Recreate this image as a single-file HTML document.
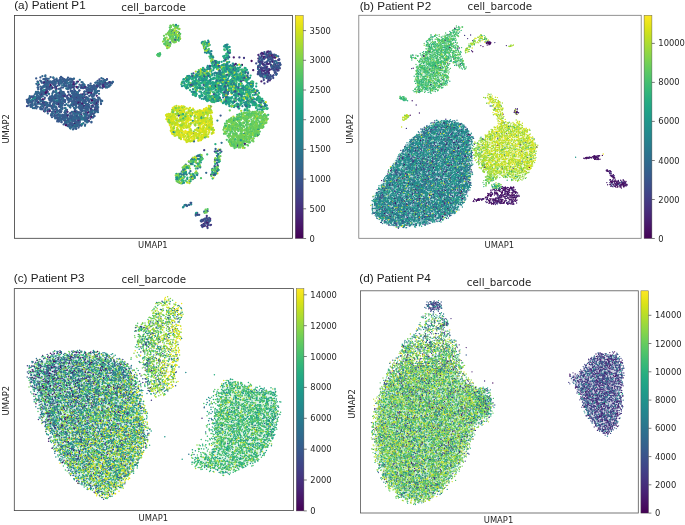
<!DOCTYPE html>
<html lang="en"><head><meta charset="utf-8"><title>UMAP cell_barcode by patient</title>
<style>
html,body{margin:0;padding:0;background:#fff}
body{width:685px;height:525px;overflow:hidden}
svg{display:block}
.mp{font-family:"DejaVu Sans","Liberation Sans",sans-serif;fill:#262626}
.t{font-size:10.3px}
.s{font-size:8.4px}
.lab{font-family:"Liberation Sans",Arial,sans-serif;font-size:11.7px;fill:#1c1c1c}
</style></head><body>
<svg width="685" height="525" viewBox="0 0 685 525">
<defs>
<linearGradient id="vir" x1="0" y1="1" x2="0" y2="0">
<stop offset="0.0000" stop-color="#440154"/>
<stop offset="0.0312" stop-color="#470d60"/>
<stop offset="0.0625" stop-color="#48186a"/>
<stop offset="0.0938" stop-color="#482374"/>
<stop offset="0.1250" stop-color="#472d7b"/>
<stop offset="0.1562" stop-color="#453781"/>
<stop offset="0.1875" stop-color="#424086"/>
<stop offset="0.2188" stop-color="#3e4989"/>
<stop offset="0.2500" stop-color="#3b528b"/>
<stop offset="0.2812" stop-color="#375b8d"/>
<stop offset="0.3125" stop-color="#33638d"/>
<stop offset="0.3438" stop-color="#2f6b8e"/>
<stop offset="0.3750" stop-color="#2c728e"/>
<stop offset="0.4062" stop-color="#297a8e"/>
<stop offset="0.4375" stop-color="#26828e"/>
<stop offset="0.4688" stop-color="#23898e"/>
<stop offset="0.5000" stop-color="#21918c"/>
<stop offset="0.5312" stop-color="#1f988b"/>
<stop offset="0.5625" stop-color="#1fa088"/>
<stop offset="0.5938" stop-color="#22a785"/>
<stop offset="0.6250" stop-color="#28ae80"/>
<stop offset="0.6562" stop-color="#32b67a"/>
<stop offset="0.6875" stop-color="#3fbc73"/>
<stop offset="0.7188" stop-color="#4ec36b"/>
<stop offset="0.7500" stop-color="#5ec962"/>
<stop offset="0.7812" stop-color="#70cf57"/>
<stop offset="0.8125" stop-color="#84d44b"/>
<stop offset="0.8438" stop-color="#98d83e"/>
<stop offset="0.8750" stop-color="#addc30"/>
<stop offset="0.9062" stop-color="#c2df23"/>
<stop offset="0.9375" stop-color="#d8e219"/>
<stop offset="0.9688" stop-color="#ece51b"/>
<stop offset="1.0000" stop-color="#fde725"/>
</linearGradient>
<clipPath id="cla"><rect x="14.5" y="15.4" width="278.0" height="222.9"/></clipPath>
<clipPath id="clb"><rect x="358.8" y="15.3" width="282.4" height="223.0"/></clipPath>
<clipPath id="clc"><rect x="14.3" y="288.6" width="279.1" height="222.0"/></clipPath>
<clipPath id="cld"><rect x="360.5" y="290.8" width="277.8" height="222.2"/></clipPath>
<filter id="bl" x="-10%" y="-10%" width="120%" height="120%"><feGaussianBlur stdDeviation="1.6"/></filter>
</defs>
<rect width="685" height="525" fill="#fff"/>
<g id="panel-a">
<g clip-path="url(#cla)"><g transform="scale(.2)" fill="none" stroke-linecap="round" stroke-width="11.50">
<path stroke="#38598c" d="M142 518zm-3-4zm-3-5zm12 1zm6 22zm-1 2zm12-32zm17 40zm5-54zm4-42zm11-59zm-1 16zm-7 78zm4 7zm13 18zm-4-24zm14-72zm0 51zm-4 74zm10 7zm8-64zm-2-10zm1-18zm-4-3zm6-14zm14 54zm-3 13zm1 56zm12 30zm2-146zm-1-26zm-9-1zm1-27zm19 14zm1 85zm-2 37zm-6 16zm10 10zm-2 24zm6-10zm10-158zm6 15zm-3 46zm5 34zm-8 11zm4 81zm1 9zm-5 1zm9 1zm-4 6zm6-10zm3-5zm-2-7zm3-24zm-4-12zm4-39zm6-18zm1-27zm-3-1zm9-70zm3 6zm-2 26zm-2 34zm2 161zm14-6zm2-1zm-5-4zm-3-12zm1-9zm-2-49zm0-15zm3-95zm3-2zm10 30zm3 13zm-4 18zm-2 8zm-2 82zm0 48zm15-40zm4-8zm-3-42zm1-58zm1-28zm1-16zm-1-25zm2-16zm-6-2zm21 53zm-5 17zm0 3zm4 2zm-6 0zm2 19zm-5 23zm6 2zm4 1zm-2 12zm-4 34zm-2 29zm7 8zm-9 13zm2 18zm7 6zm13-3zm-10-1zm9-2zm-6-5zm-2-5zm5-10zm-6-39zm4-3zm3-38zm-2-7zm-6-32zm8-6zm3-7zm0-10zm1-56zm4 81zm4 31zm-6 88zm11 20zm6-6zm-6-19zm8-6zm-5-6zm-3-6zm6-102zm-1-5zm-4-3zm7-36zm1-8zm-2-4zm13 8zm-7 49zm4 10zm3 9zm-8 46zm21 46zm-1-10zm-4-2zm-3-52zm5-35zm2-1zm-7-21zm0-38zm-1-14zm19 28zm-4 118zm-2 37zm13-22zm8-32zm-10-17zm9-59zm-9-12zm3-13zm-4-5zm8-5zm1-23zm6 19zm0 46zm6 13zm-5 2zm-3 75zm7 15zm5-20zm7-18zm0-12zm0-19zm-2-12zm-1-14zm-1-18zm1-3zm2-5zm-7-24zm2-7zm0-4zm-2-1zm20-27zm2 10zm1 15zm-6 7zm-1 27zm-4 79zm18-50zm8-88zm6 14zm1 7zm-1 15zm-7 63zm11-69zm3-30zm17 34zm-7 0zm20-27zm11 6zm4-7zm360 616zm41-641zm-1 511zm40 209zm10-741zm0 735zm-2 36zm11-72zm16 34zm1 25zm21-272zm42-272zm18-99zm4-176zm83 75zm12 328zm-5-305zm25-33zm41 129zm11-133zm5-81zm8 5zm-4 69zm2 14zm16 18zm-4-70zm-6-21zm12-2zm8 54zm1 22zm5-7zm1-9zm-2-74zm13-9zm7 4zm-9 92zm18 12zm-5-43zm8-30zm-8-3zm9-31zm7 9zm-6 42zm5 11zm1 16zm0 12zm7 10zm-1-96zm19 43zm-6 31z"/>
<path stroke="#50c46a" d="M791 269zm5 12zm28-84zm-2 5zm17 23zm-10-6zm10-4zm11-61zm-4 2zm7 63zm8-15zm-1-23zm-8-32zm21 7zm-8 28zm6 15zm-6 3zm26-73zm-2 2zm-1 520zm26 208zm7 24zm9-23zm27 24zm6-15zm42 22zm17-474zm-1-53zm26-81zm14 88zm-3 137zm17 295zm8 41zm-1 1zm33-488zm0 32zm5 280zm6-5zm1-7zm-2-39zm-7-189zm6-178zm14-9zm-2 164zm0 52zm-2 151zm3 49zm1 21zm6 28zm4-36zm-7-40zm0 0zm10-30zm-6-1zm2-3zm-1-143zm-2-6zm15-35zm3 195zm-5 28zm-5 75zm6 3zm1 10zm4 1zm12 2zm-11-38zm5-18zm-2-3zm1-30zm-1-6zm3-6zm-6-8zm19 118zm9-18zm-2-3zm2-24zm2-8zm-1-31zm6-8zm-5-43zm6-252zm8 217zm-5 28zm2 5zm0 23zm5 4zm-10 9zm5 53zm3 11zm6-2zm9-116zm-8-8zm17 16zm-4 4zm-2 10zm5 22zm2 75zm7 28zm4-19zm0-2zm-1-46zm-3-51zm-1-75zm0-146zm9 70zm7 43zm-7 56zm9 18zm-4 4zm4 18zm-2 39zm-2 8zm2 14zm-6 23zm21-6zm0 0zm1-2zm-10-35zm5-69zm-2-7zm12-3zm-2 16zm7 16zm-9 20zm10 4zm-3 32zm-4 4zm-1 4zm12 1zm-2-33zm7-21zm13-18zm-7 5zm1 21zm1 47zm16-26zm-6-26zm4-8zm6-6zm-6-9zm-3-19zm20 18zm-5 14zm10 0z"/>
<path stroke="#28ae80" d="M907 422zm5-14zm5 432zm2 32zm8-27zm-1-3zm0-8zm2-430zm5-9zm2-13zm2 506zm13-500zm17-3zm1 36zm-1 10zm-3 359zm11-370zm-1-10zm21-37zm-8 67zm10 389zm-1-34zm8-413zm-7-7zm7-4zm13-158zm0 129zm-3 95zm-1 11zm-3 346zm11-387zm-1-5zm3-19zm7-15zm13 0zm-9 7zm4 43zm1 18zm1 26zm1 39zm6 38zm2-46zm4-37zm3-185zm10 44zm-6 62zm6 47zm-3 58zm-3 12zm14 381zm0-39zm2-16zm2-331zm1-5zm-1-47zm-3-1zm3-27zm-9-66zm7-13zm10 7zm-1 4zm-1 34zm7 3zm-10 99zm18 329zm-6-304zm6-7zm-2-9zm-1-50zm2-26zm-6-3zm3-17zm3-21zm10 75zm14 57zm-4-23zm4-5zm3-14zm0-76zm-8-7zm0-7zm2-9zm7-134zm8 117zm5 78zm-9 46zm2 19zm13 4zm-4-22zm3-21zm0-72zm5-2zm-9-79zm18 72zm-1 5zm-5 50zm5 16zm2 0zm2 48zm-9 21zm6 22zm17-98zm-11-7zm8-12zm1-21zm13-43zm-7 12zm5 16zm-7 78zm0 12zm9 5zm1 60zm6-9zm-1-41zm2-13zm-2-86zm2 0zm16 7zm1 94zm4-30zm6-16zm8-7zm5 33zm-4 62zm-5 23zm4 3zm18 134zm-11-154zm8-14zm-5-49zm1-51zm-2-1zm4-18zm3-4zm-7-9zm26 132zm6-67zm-9-27zm21-4zm9 60zm4-13zm6 45zm5 37zm5-53zm13 50z"/>
<path stroke="#addc30" d="M851 585zm7 70zm4-447zm12 335zm-2 79zm-2 11zm-4 20zm21 1zm-3-3zm3-108zm-4-1zm-1-12zm-6-325zm14 336zm-1 10zm1 21zm1 84zm-1 223zm20-214zm-6-18zm-1-92zm3-13zm17-7zm-3 84zm-1 247zm8-14zm2-151zm4-34zm-4-39zm8 210zm22 55zm-3-85zm-4-221zm5-18zm-7-154zm14 15zm-4 135zm9 102zm4 132zm6-123zm4-6zm-9-80zm9-26zm-4-206zm14 46zm-2 236zm-4 14zm7 14zm1 14zm3 125zm2-145zm4-77zm-5-8zm2-131zm7 110zm0 62zm8 37zm3 18zm-10 2zm12-14zm4-40zm13-77zm0 32zm-1 56zm-4 50zm20-44zm-9-12zm8-64zm-6-26zm8-120zm6-121zm-4 322zm1 1zm65-255zm19 130zm22-113zm4 203zm20-127zm8-83zm21 262zm1-7zm15-147zm-1 29zm63 133zm5-5zm14-79z"/>
<path stroke="#38b977" d="M821 195zm57 6zm50 235zm25 470zm14-440zm-2 0zm12 14zm3-56zm3-13zm11-8zm7 31zm0-19zm16-44zm-7 417zm16-368zm5-38zm-10-22zm7-111zm4 2zm2 124zm6 6zm-2 37zm4 3zm-6 5zm-4 58zm15 13zm4-56zm0-58zm1-91zm8 38zm13 546zm1-379zm-5-55zm2-109zm4-7zm6 2zm7 12zm1 38zm0 414zm17-461zm8 17zm-7 103zm16 25zm3-69zm-7-21zm16-57zm-5 27zm0 70zm20 277zm-5-69zm4-118zm2-103zm-5-67zm-2-110zm16 158zm-8 51zm20 237zm-5-34zm13-216zm0 27zm-2 1zm0 155zm19 63zm-3-248zm-3-33zm-2-24zm18-11zm4 33zm9 74zm-6-26zm20-56zm-4 145zm11-13zm11-15zm4 63zm0 106zm-1 13zm22-174zm5 102zm-3 19z"/>
<path stroke="#277e8e" d="M229 393zm32 87zm38 32zm7 88zm25-158zm9-1zm17 80zm9-57zm33 111zm502 319zm16-2zm37-6zm6-76zm46-369zm8-36zm10-4zm1-25zm0-114zm0-13zm18 4zm-2 241zm-6 130zm16-123zm2-51zm-5-12zm1-109zm17-42zm6 210zm38-107zm14 70zm-6-22zm9-207zm40 194zm13 52zm15-102zm22 125zm3-10zm55 36z"/>
<path stroke="#460a5d" d="M153 487zm36 6zm18-22zm14 85zm17-150zm80 99zm111 53zm50-10zm813-255zm29 60zm13-38z"/>
<path stroke="#1fa287" d="M892 899zm27-491zm8 455zm6-25zm9-440zm2 14zm-1 2zm15 15zm-10-40zm14 2zm2 67zm7 1zm8 613zm-5-243zm7-370zm0-58zm-4-14zm-2-4zm12 24zm6 18zm-8 15zm7 382zm15-344zm-10-20zm5-21zm-6-10zm9-10zm-8-20zm3-2zm-2-37zm11 41zm2 12zm20 43zm-4-10zm2-45zm2-19zm0-25zm-9-143zm18 152zm-3 8zm0 39zm-2 10zm-3 44zm14-16zm4-64zm-2-46zm-4-3zm21-6zm-2 535zm14-379zm-7-3zm7-32zm0-88zm10-38zm-7 11zm8 5zm2 56zm-5 12zm-5 4zm1 84zm11 6zm6-14zm-6-25zm10-58zm1-22zm4-21zm8 5zm-7 47zm4 36zm-8 7zm2 42zm12 12zm-2-35zm8-61zm-2-20zm16-173zm-1 13zm2 41zm-9 11zm7 29zm-7 42zm16 129zm0-42zm3-1zm1-15zm-3-70zm-6-76zm8-33zm5 90zm-2 23zm10 18zm-10 106zm6 5zm4 21zm-1 14zm10 7zm3-41zm-8-63zm3-10zm5-23zm0-42zm-7-21zm11 23zm7 33zm-1 4zm-1 48zm-4 6zm1 78zm13-4zm2-52zm-2-39zm17-49zm-1 1zm-2 45zm-2 32zm1 11zm1 41zm2 4zm7-79zm0-10zm16-78zm-6 5zm1 2zm5 83zm-3 19zm7-62zm23 102zm-11 36zm18-46zm0-35zm5-7zm-10-11zm20-4zm2 103zm22-11zm-6 23zm26-27zm13 22z"/>
<path stroke="#443b84" d="M214 518zm23-88zm139 180zm-1-113zm17 39zm61 10zm82-150zm482 706zm-8 25zm12-376zm13 329zm6 45zm106-753zm6-24zm68-58zm15 142zm69-163zm3 35zm0 56zm2 19zm-1-10zm14 48zm20-25zm-1-8zm-6-2zm-3-14zm11-3zm5 19zm21-105zm6 44zm8 18zm7-14zm12-4z"/>
<path stroke="#6ccd5a" d="M820 179zm6 17zm-2 6zm12 39zm0-35zm7-42zm5 8zm3 13zm6 13zm-5-70zm14-3zm2 2zm4 77zm-5 377zm19 309zm-2-691zm-8-58zm22 31zm-2 6zm0 701zm-5 1zm0 31zm26-37zm17-1zm22 21zm-5-6zm8-82zm-4-5zm14-143zm8 143zm-2-4zm15 30zm11 6zm22-266zm33-259zm61 341zm3-7zm5-15zm-5-308zm15 300zm-2 28zm-1 20zm-3 2zm19 42zm-3-85zm4-74zm4 50zm4 6zm-2 2zm5 8zm-2 24zm-4 16zm9 28zm-4 25zm-2 4zm15-5zm-1-30zm4-24zm-5-50zm-4-169zm21 5zm-11 161zm4 13zm7 17zm0 2zm-3 32zm2 33zm-2 30zm10 8zm5-16zm-5-5zm1-16zm4-10zm-8-5zm-2-9zm3-47zm0-44zm4-13zm-7-102zm12 55zm0 58zm-1 38zm0 12zm3 3zm6 29zm-3 4zm4 1zm-3 13zm-6 6zm8 9zm-6 13zm-1 11zm4 0zm-3 1zm-2 14zm22 1zm0-34zm-8-19zm-2-5zm-1-3zm2-1zm6-24zm-8-39zm22-52zm-10 2zm9 28zm1 13zm0 41zm-8 6zm7 0zm-6 17zm-2 7zm7 4zm-7 6zm10 12zm1 26zm0-28zm3-3zm5-32zm2-17zm1-6zm0-5zm-6-11zm5-17zm-6-13zm-1-20zm-3-5zm1 0zm10-8zm-3-75zm13 96zm-1 49zm-4 25zm3 5zm-2 26zm2 1zm-7 3zm11 14zm8 4zm2-71zm-2-75zm7-1zm-2 15zm6 11zm-4 7zm9 8zm-5 17zm-3 25zm7 2zm4 35zm4-4zm-6-7zm1-8zm7-12zm-5-62zm0-4zm1-15zm9-8zm2 30zm-1 23zm8 4zm-8 18zm16-33zm1-3zm14-21zm-5 0zm5 10zm2 9zm-10 7z"/>
<path stroke="#238a8d" d="M479 517zm431-86zm8 603zm17-198zm10-456zm14 417zm-1-338zm-8-33zm15-46zm2 492zm13-497zm21 288zm-1-261zm9-187zm19 268zm-7-15zm3-245zm4-6zm10 129zm11 60zm-1-181zm9 275zm1 113zm26-228zm23-45zm5 9zm-7 51zm8 16zm10 32zm0-34zm13-166zm-1 41zm-2 111zm0 52zm1 30zm8 9zm-1-38zm10-87zm-11-107zm19 72zm-2 121zm22-106zm20 74zm11 22zm-1 29zm5-39zm20-37zm4 59zm2-92zm17 61zm-1 79zm-2 162zm49-155zm12 36zm11-31zm14-213z"/>
<path stroke="#cde11d" d="M838 598zm-8-22zm13-6zm8 12zm-2 3zm-4 1zm5 3zm-4 16zm-3 0zm4 1zm2 10zm13 44zm-4-1zm-4-5zm8-14zm-4-21zm-1-5zm-4-7zm2-4zm-2-17zm8-6zm1-2zm-10-7zm9-393zm13-25zm-1 380zm-4 23zm-2 1zm0 4zm-3 18zm8 34zm-8 57zm19-17zm3-38zm-9-18zm8-5zm-7-20zm15-31zm6 56zm-3 5zm-8 4zm0 36zm7 13zm-1 11zm8 22zm1-1zm8-33zm-8-2zm3-46zm-1-21zm4-26zm0-144zm8 117zm-3 36zm4 8zm-1 15zm-5 23zm8 57zm5 168zm7-148zm3-22zm-9-8zm2-2zm4-33zm-1-12zm1-7zm-6-22zm4-13zm4-10zm11-6zm-5 9zm6 25zm-5 1zm1 4zm2 25zm-4 44zm2 21zm3 10zm10-7zm0-72zm-3-41zm1-10zm1-3zm10 48zm-4 4zm8 54zm-8 1zm10 16zm1 12zm-3 7zm-1 88zm6-100zm8-80zm-8-29zm16-216zm-2 194zm3 17zm4 2zm0 5zm1 16zm0 11zm-5 3zm3 13zm-2 26zm13 132zm-6-107zm0-7zm4-11zm-3-12zm1-21zm-2-3zm3-9zm2-12zm-5-27zm8 0zm-2-16zm-6-10zm7-200zm3 4zm7 210zm-4 2zm6 67zm-2 11zm-5 8zm6 2zm2 31zm10-6zm3-22zm-10-6zm9-41zm-8-6zm2-34zm1-22zm-5-3zm12-6zm0 5zm7 18zm-2 43zm4 65zm-5 11zm5 2zm14-44zm-5-8zm-2-33zm3-34zm-7-12zm5-4zm0-178zm11 192zm-3 47zm4 12zm-5 14zm7 10zm-2 3zm0 18zm-2 2zm17-242zm-8-8zm64-44zm11 79zm-1-94zm16 109zm33-82zm96 86zm20 57z"/>
<path stroke="#3e4a89" d="M147 504zm17-21zm-4-1zm53 22zm0-34zm9 0zm24-23zm13-37zm12 120zm14-51zm21-9zm10 12zm1 99zm31-144zm18-19zm-5 210zm20 15zm-2-15zm-5-77zm10 70zm23-72zm6-58zm4 24zm-4 20zm24-97zm-4 8zm27 122zm435-393zm101 899zm3-586zm26 641zm4-15zm-3-16zm7-666zm5 669zm2 14zm-7 2zm8 4zm5-14zm29-616zm3-178zm65 142zm6-31zm-3-9zm21-2zm42-20zm19 53zm61-75zm6-21zm-4-12zm8-14zm2 173zm26-214zm1 2zm-4 28zm4 61zm4 219zm0-203zm7-8zm-3-49zm-3-62zm21 13zm-1 13zm2 28zm8 54zm4-33zm-5-8zm4-7zm-7-36zm0-14zm-2-8zm-1-6zm12 109zm16-7zm2-19zm-6-65zm16 14zm5 23zm-8 19z"/>
<path stroke="#2c728e" d="M202 463zm10 63zm-7-55zm24 53zm-1-64zm2-34zm15 44zm11-27zm29 78zm21-12zm5-82zm2 65zm1 13zm12 74zm6-58zm-4-118zm25 240zm1-59zm23-70zm9 71zm39 44zm-2-115zm13-60zm3 95zm16-33zm6 35zm69-116zm369-242zm-2 357zm0 364zm17-6zm15 116zm0-201zm36-27zm15 3zm6 76zm11-498zm29 106zm39-200zm23 107zm65 26zm18-40zm8 14zm5 79zm0 28zm96-25zm9 202zm2-345zm7-34zm12-12zm34-19z"/>
<path stroke="#472d7b" d="M223 527zm58 62zm0-52zm5-132zm51 74zm24-54zm16 129zm14-118zm16 191zm-1-55zm68-25zm81-133zm492 691zm28-307zm230-461zm0 8zm3 33zm6-4zm-3-21zm2-10zm7-60zm0 74zm7 21zm9-20zm-3-12zm15-73zm6 9zm-9 68zm33-46zm5 40zm8-44z"/>
<path stroke="#481c6e" d="M160 514zm61-49zm38 64zm4-111zm13 19zm49 147zm21-83zm24-80zm20-13zm5 198zm9-133zm26 48zm14 84zm575 514zm150-832zm97 64zm36 15zm39-8zm7-73zm-4 60zm20-36zm-5-34zm15 48zm13 23zm-4-18zm9 13z"/>
<path stroke="#8bd646" d="M839 167zm9 7zm15 429zm0-454zm1 33zm0 7zm4 360zm2 123zm16 235zm0-27zm-3-338zm-4-332zm5-75zm12 11zm-1 517zm3 25zm-4 198zm9 5zm5-339zm9 292zm-3 15zm-1 31zm20-313zm11 83zm-2 18zm-2 152zm16-177zm-2-79zm6-25zm10 254zm11 30zm-9-39zm4-144zm-2-207zm14 172zm7 61zm-3 157zm10-32zm-3-119zm14-70zm8-16zm7-39zm-3-304zm12 302zm6 58zm8-16zm11-315zm16 510zm18-351zm11 67zm28-198zm3 336zm14-12zm2 94zm11-58zm3-164zm15-62zm-1 150zm10 122zm-3-111zm15-241zm-1 7zm8 211zm-5 11zm-5 50zm1 75zm18-105zm-2-28zm-2 0zm4-224zm11 287zm23 45zm11-31zm9-93zm5 110zm27-99zm4 59zm14-68zm43-243z"/>
<path stroke="#31668e" d="M142 528zm-5-28zm12-19zm7 23zm2-3zm11-20zm6 6zm-1 4zm5 14zm-3 4zm0 5zm-2 8zm3 1zm12 11zm-7-50zm3-8zm5-18zm-1-31zm-7-8zm21 14zm-11 4zm1 52zm1 0zm4 5zm5 6zm7 47zm-4-4zm5-11zm3-17zm-6-52zm1-2zm-3-6zm8-3zm12-70zm1 17zm-10 16zm9 57zm13 80zm0-5zm-9-25zm2-7zm-1-63zm3-20zm3-3zm2-1zm-10-9zm10-1zm-9-24zm3-1zm11 1zm7 13zm-8 2zm7 76zm7 18zm1-6zm0-12zm4-1zm1-69zm0-8zm7 18zm5 11zm-7 21zm0 33zm4 1zm-5 3zm4 2zm-3 15zm-2 25zm0 13zm10 43zm2-24zm5-27zm1-37zm-4-12zm1-3zm-3-7zm2-8zm-1-24zm0-37zm3-14zm13 46zm1 30zm-2 6zm-5 10zm6 5zm-2 7zm4 21zm-7 49zm5 1zm-4 2zm6 6zm1 1zm10 11zm-7-35zm5-16zm-5-8zm6-11zm-2-37zm3-8zm-5-9zm-2-13zm7-45zm-2-11zm-2-4zm18 73zm-1 30zm1 63zm0 11zm2 17zm11-33zm-9-80zm5-60zm-4-15zm10-8zm10 30zm-9 67zm9 3zm-1 33zm-6 68zm0 3zm2 26zm5 8zm11 2zm-10-3zm0-1zm4-8zm-2-19zm-1-70zm10-7zm-1-1zm-3-30zm2-37zm-1-21zm-5-29zm17 26zm-1 75zm-5 1zm0 17zm3 37zm6 6zm-6 36zm5 18zm1 1zm-6 8zm0 13zm12-5zm-2-9zm1-51zm1-15zm-5-7zm1-20zm7-9zm-2-35zm-5-6zm20-56zm-5 6zm1 26zm1 7zm3 14zm-2 4zm3 9zm-10 5zm7 7zm-4 0zm8 22zm-10 24zm2 4zm2 21zm-4 6zm6 34zm-7 2zm5 5zm10-21zm0-9zm7-9zm-5-23zm6-34zm-2-7zm-8-14zm9-13zm-10-21zm10-5zm2-63zm8 87zm-2 11zm0 43zm4 16zm-1 48zm9-11zm-5-7zm10-21zm0-31zm-10-32zm7-75zm1 0zm1-2zm-9-9zm2-2zm17 67zm0 8zm2 3zm-2 26zm-6 3zm4 7zm-2 58zm19-38zm-10-35zm-1-90zm10-6zm6 21zm-2 6zm-2 16zm0 75zm2 13zm2 26zm-3 23zm22-98zm-2-59zm6-29zm0 37zm5 46zm-7 21zm0 8zm6 5zm-3 13zm1 4zm12-129zm1 0zm9-37zm8 3zm-1 33zm-3 78zm9-75zm0-10zm13-20zm-2 17zm15 11zm7-15zm-1 9zm1 4zm342-261zm21 392zm5 301zm-4 55zm49-248zm4 42zm-6 171zm20-62zm19-19zm26 309zm0-46zm22 43zm22-610zm7 265zm90-248zm26 188zm69-282zm37-111zm4 12zm3 21zm26 41zm31-48zm27-2z"/>
<path stroke="#efe51c" d="M832 579zm6-3zm1-378zm10 381zm6 36zm16-33zm-6 8zm18-39zm8-364zm-2 355zm0 9zm1 20zm12 66zm0-43zm0-55zm15 14zm0 14zm-2 29zm3 6zm-5 35zm4 22zm18 0zm-8-44zm2-2zm3-7zm-6-10zm17-52zm-7 46zm5 18zm2 66zm4 9zm4-8zm-2-10zm-1-16zm7-49zm-6-33zm16 42zm11 61zm5-100zm9 1zm-1 73zm18 15zm-9-15zm4-2zm-3-27zm7-50zm-10-4zm10-4zm11 27zm-2 33zm4 50zm8-19zm3-3zm-4-29zm-5-10zm-1-13zm3-33zm7-16zm10 4zm-7 2zm6 1zm-1 20zm1 53zm-7 25zm21-4zm-1-4zm1-14zm13 28zm-1 3zm2 231zm1-225zm2-15zm276-371zm36 5z"/>
<path stroke="#1f968b" d="M898 659zm-5 249zm27 6zm6-487zm7-20zm13-12zm-10 500zm35-491zm-8 417zm20-401zm6-59zm-5 11zm19 402zm13-359zm15 85zm0-28zm-1-6zm-9-254zm22 290zm8-6zm2-91zm-1-57zm26 448zm-5-297zm-2-106zm10 99zm11 279zm0-295zm1-85zm2-39zm10 85zm5 11zm14 0zm-7-1zm1-35zm9-28zm-3-50zm3-11zm-8-19zm15-69zm0 9zm-1 76zm6 101zm-10 79zm1 16zm17 15zm-2-17zm0-6zm6-103zm2-79zm4 112zm-3 68zm14 28zm0-108zm2-27zm3-39zm7-15zm-2 26zm7 97zm-1 51zm4-128zm23 80zm6-5zm1-75zm16-8zm-4 6zm8 98zm9-65zm-9-8zm12-25zm9 101zm-7 11zm15-54zm3 0zm-10-27zm48 93zm28-143z"/>
<path stroke="#50c46a" d="M800 266zm-6 3zm4 3zm-1 1zm1 4zm23-58zm30-44zm-11 54zm13-74zm33 28zm-4-2zm0-25zm-6-23zm2 0zm16 71zm0 671zm-1 24zm8-730zm52 249zm14 388zm7-6zm8-402zm12-47zm20 443zm17-426zm-4-156zm11 834zm6-600zm0-79zm18 143zm28 321zm12-83zm24-111zm-9-245zm20-15zm-5 1zm-2 51zm2 202zm2 68zm14 1zm3-3zm-11-53zm10-204zm-6-24zm11 212zm5 14zm-1 8zm-7 6zm9 3zm0 40zm-5 1zm-3 21zm14-28zm3-336zm7 239zm8 26zm-5 5zm4 4zm-3 85zm6 3zm0 4zm-9 9zm15-12zm-4-18zm3-17zm-1-30zm4-69zm4-3zm-3-3zm9 6zm3 3zm1 52zm-2 4zm4 1zm-5 1zm0 10zm3 20zm1 1zm1 5zm-9 23zm6 9zm-1 6zm-4 1zm2 0zm-4 6zm5 0zm8 4zm2-4zm-4-9zm3-5zm-2-11zm7-6zm0-26zm-4-41zm3-14zm0-23zm0-3zm16-104zm0 92zm0 4zm-3 26zm3 28zm-3 10zm-7 17zm-1 20zm8 15zm-7 23zm1 2zm13-14zm8-11zm-6-27zm-2-3zm-2-2zm5-10zm-4-6zm4-2zm-5-25zm6-34zm2-7zm-2-2zm-2-9zm4-45zm-1-24zm5 69zm5 3zm2 92zm13 9zm-9-18zm5-8zm2-4zm-5-15zm3-9zm-2-4zm16 0zm-3 19zm-3 2zm3 16zm1 16zm-1 5zm8-6zm2-2zm4-9zm5-12zm-6 0zm2-13zm-6-18zm3-20zm-2-41zm17 18zm2 59zm12 4zm-6-32zm1-4zm5-5zm-2-3zm-7-7zm15-8zm2 3zm-2 27zm13-11zm-3-16z"/>
<path stroke="#8bd646" d="M860 660zm-4-46zm-3-27zm1-437zm0-17zm12 19zm4 22zm0 29zm8 475zm4-77zm5-32zm-9 0zm5-14zm-6-7zm3-353zm17-51zm0 432zm-4 103zm19-109zm6 113zm5 147zm4-235zm17-42zm11 269zm1-250zm17 311zm30-239zm26 38zm6-431zm19 336zm-5-30zm6-75zm-1-132zm20 459zm3-17zm5 51zm7 2zm-2 3zm1 3zm11-54zm32-374zm2 58zm4 160zm7-15zm3-15zm14-212zm-9 246zm15 54zm7-1zm-2-14zm-4-91zm6-116zm-6-119zm9 283zm19 86zm2-28zm17 38zm-3-87zm5-38zm-1-42zm17 14zm-8 80zm7 4zm-2 14zm17 25zm-3-66zm-6-123zm33 50zm10-6zm6 91zm-3-59zm20-26zm29 36z"/>
<path stroke="#481c6e" d="M176 495zm5 0zm18-3zm22-79zm15 122zm105-134zm14 81zm21 73zm-4-49zm15 93zm14-71zm7-41zm18 81zm-6-81zm413-260zm186 904zm275-771zm-3-23zm10-21zm15-25zm5-5zm16-8zm18 50zm6 7zm14-46z"/>
<path stroke="#1fa287" d="M872 613zm14 281zm-4-25zm50-428zm3-37zm6-21zm-3 41zm15 394zm0-392zm10-39zm1 21zm-1 391zm3 76zm8 15zm6-411zm-7-55zm6-19zm0-20zm6-2zm8 36zm-9 14zm6 5zm5 359zm1-318zm6-50zm-2-56zm18-163zm1 20zm-6 148zm6 117zm9-52zm3-23zm-11-58zm1-2zm7-119zm8 96zm-3 81zm20 70zm2-94zm7-68zm-2 70zm6 41zm-10 4zm5 41zm1 11zm-5 1zm0 7zm10 8zm3 358zm3-368zm-4-3zm6-1zm-1-21zm-5-56zm4-105zm13-2zm2 58zm-4 25zm3 29zm-3 14zm6 6zm-7 20zm4 335zm-2 57zm9-44zm-2-359zm6-9zm10-134zm-1 96zm1 43zm8 27zm10-62zm-9-70zm-1-5zm11-10zm-11-46zm4-50zm9 104zm5 76zm-6 4zm4 81zm0 6zm13 19zm-3-22zm7-53zm1-16zm-8-5zm2-19zm-4-14zm3-9zm4-4zm-3-28zm0-86zm6-4zm-8-1zm-2-7zm15 104zm2 99zm-1 6zm18-73zm-6-25zm2-2zm-1-5zm1-3zm-6-13zm11-4zm-8-18zm16 46zm-3 88zm8 14zm3-25zm9-106zm9 147zm-6 4zm2 32zm18 32zm-3-64zm-2 0zm-2-36zm5-72zm0-16zm-4-5zm7-19zm0 45zm6 47zm1 25zm-3 10zm5 42zm-4 16zm6 3zm7-6zm-6-1zm2-28zm4-28zm-4-21zm2-7zm9-15zm24 39zm7 59zm0 1zm27-17zm4 47zm5-5zm-4-10zm4-2zm1-29zm8 26z"/>
<path stroke="#1f968b" d="M910 917zm-8-49zm15-471zm16 45zm4-49zm8 442zm14 56zm-6-508zm9 34zm2 187zm4 199zm15 70zm-7-411zm4-30zm12 209zm-3 137zm5 40zm36-330zm-7 0zm7-64zm-3-20zm-6-44zm5-140zm8 45zm14 1zm42 126zm1 361zm11-351zm-2-45zm13 16zm-8 11zm6 30zm2 9zm-2 41zm13 45zm-3-64zm-1-6zm3-160zm11 135zm-1 19zm2 81zm13-93zm-6-72zm6-114zm12 117zm1 114zm8 135zm1-125zm3-79zm-2-17zm16 11zm-11 30zm11 97zm9-22zm-3-155zm7 55zm21-12zm0-27zm-8-9zm16 89zm6 55zm6-15zm28 21zm-8-67zm28 116zm-5-47zm2-10zm3-36zm54-60z"/>
<path stroke="#277e8e" d="M317 484zm18 105zm19-98zm39-14zm9 110zm9-109zm-1 143zm88-205zm361 225zm82-238zm-5 36zm11 427zm-4 158zm5-115zm35-127zm-11-318zm26-104zm50 251zm2-147zm14-177zm23 316zm6 196zm12-355zm18 28zm-1-182zm15 35zm-2 89zm-6 63zm6 12zm10-157zm4-1zm12 30zm14 95zm-11-100zm29 87zm14-61zm-7 17zm12 132zm19-92zm0 72zm4 24zm9-28zm6-45zm26-5zm11 175zm4-147zm23 51zm20-8z"/>
<path stroke="#2c728e" d="M172 541zm8-82zm23 41zm26 11zm3-83zm4-12zm34 8zm15 139zm-8-85zm14 36zm-3 63zm20-177zm8 95zm-4 33zm0 17zm2 38zm30-169zm19-17zm8 236zm22-24zm12-26zm1-55zm-7-129zm18 20zm2 149zm-5 19zm6 9zm2-158zm39 122zm9 20zm-2-84zm22-67zm15-20zm20-1zm373 463zm99-232zm21-240zm-2 44zm9 244zm1-298zm20 92zm30 373zm14-85zm-4 33zm16-424zm6 336zm20-478zm60 410zm20-271z"/>
<path stroke="#3e4a89" d="M153 526zm70-32zm43-7zm24 34zm8 12zm-3 0zm15-56zm13-80zm11 209zm-6-41zm9-75zm34-17zm3 71zm-1-55zm11 2zm6 114zm7-77zm6-5zm8-99zm7 106zm13-72zm22 39zm28-67zm6 122zm10-155zm26 2zm337-247zm71 875zm36-660zm40 741zm6-3zm13 8zm3-5zm-6-760zm10 756zm0 7zm5 29zm13-14zm-1-795zm24 427zm-3-275zm17 343zm1 21zm99-119zm24-355zm78-3zm3-66zm4 189zm11 12zm11-105zm-4-30zm4-29zm-8-32zm0-7zm-2-33zm13 0zm21 121zm-8-44zm-2-25zm-1-11zm12-52zm8 0zm-7 39zm7 79zm2 19zm3-49zm7-9zm-1-47zm33 6z"/>
<path stroke="#efe51c" d="M841 579zm2 32zm14 46zm-1-24zm2-16zm-6-1zm5-5zm10-11zm-2 7zm0 10zm3 35zm17-26zm-9-82zm1-5zm1-3zm16-4zm3 2zm1 152zm6-4zm-3-50zm4-7zm4-3zm-6-82zm1-1zm18 8zm-6 65zm0 15zm5 70zm6-32zm0-11zm2-77zm-2-31zm17 159zm10 0zm-1-51zm12-111zm15 132zm3-7zm5-114zm3 15zm1 7zm-2 18zm6 103zm3-45zm0-27zm6-3zm-6-17zm-2-17zm8-14zm7-20zm-4 21zm8 0zm-3 34zm5 3zm-9 34zm16 13zm-4-88zm6-15zm-2-12zm-4-177zm16 251zm11-61zm4-24zm11-234zm-7 234zm38-161zm47 36zm31-53zm61 34z"/>
<path stroke="#38b977" d="M790 271zm45-59zm22-41zm1-5zm29-29zm36 747zm-7 20zm17 4zm-5-5zm4-66zm-1-412zm22 447zm7-64zm31-430zm9 396zm17-310zm5 594zm6-568zm-3-19zm6-51zm-8-29zm20-143zm-6 8zm3 147zm-4 369zm-3 282zm14-563zm5-3zm10-179zm-2 5zm-4 102zm7 477zm7-17zm3-369zm-1-192zm12 29zm7 449zm11-395zm-7-8zm15 16zm14 66zm-8-7zm2-111zm4-63zm-1-44zm10 23zm1 0zm-2 119zm11 105zm2-147zm4-85zm2-9zm3 87zm10 34zm-3 338zm11-44zm-3-214zm-2-27zm3-19zm6-12zm3-8zm2 6zm0 60zm7 120zm2-96zm9-10zm-3-16zm0-49zm5-9zm2-5zm5 25zm-6 58zm7 207zm15 0zm11-284zm-7 94zm0 109zm10-160zm13 274zm25-131zm12 55zm3-63zm14-66zm4 103zm34-36z"/>
<path stroke="#31668e" d="M150 493zm-4 15zm7 3zm-2 2zm14 28zm-1-14zm-4-16zm0-8zm6-13zm13-25zm-5 34zm1 40zm11-70zm6 16zm1 28zm10 23zm11-10zm-4-2zm1-4zm-4-47zm-3-13zm0-14zm2-39zm6-26zm15-4zm-3 50zm0 7zm-8 4zm6 27zm0 0zm-6 1zm23 101zm-11-15zm5-116zm0-20zm11-7zm5 112zm-8 2zm5 4zm-6 1zm0 20zm18 21zm3-10zm-8-31zm10-32zm-2-19zm1-9zm10-55zm-8 50zm11 25zm-6 4zm-1 6zm3 7zm-2 4zm2 5zm5 74zm11-10zm-8-42zm6-25zm-9-3zm11-29zm-11-1zm0-17zm2-26zm20-17zm-10 11zm9 57zm-1 10zm-3 72zm14 43zm1-15zm2-1zm-7-3zm-3-8zm5-51zm2-7zm2-7zm-9-4zm6-19zm4-20zm1-66zm11 21zm-5 30zm-2 124zm0 9zm4 7zm7 12zm8-4zm-2-3zm-4-12zm1-43zm-4-41zm1-34zm9-69zm-10 0zm13-7zm4 25zm1 77zm-7 83zm23-26zm-5-160zm3-2zm3 13zm5 28zm-3 22zm-2 8zm4 62zm6 9zm1 48zm9 47zm-3-17zm5-7zm-1-30zm-4-36zm4-19zm-8-39zm3-6zm-1-1zm8-18zm-8-6zm9-41zm3 87zm4 2zm3 1zm-5 11zm3 53zm-5 9zm2 11zm-1 8zm3 10zm16 22zm-7-38zm2-2zm2-25zm-2-16zm-5-5zm7-20zm-7-1zm2 0zm-3-26zm1-1zm-1-14zm10-4zm7-64zm6 12zm-6 16zm-2 34zm7 27zm1 12zm-6 7zm3 7zm1 2zm-5 10zm-4 12zm20 56zm-6-9zm3-26zm-2-3zm0-17zm6-15zm-2-7zm-3-73zm2-23zm17 21zm-6 34zm-4 4zm10 9zm-2 17zm-5 2zm3 13zm-1 17zm8-13zm4-86zm2-10zm1-14zm5 2zm6 61zm0 5zm1 5zm-6 3zm7 49zm-10 13zm23-25zm-1 0zm0-13zm0-62zm-3-11zm-6-8zm12-35zm0 30zm0 25zm1 49zm-2 6zm9 2zm-2 2zm3 35zm4-73zm1-19zm0-14zm2-49zm7 103zm17-86zm-3-10zm18 4zm-8 12zm2 3zm17 0zm-1-21zm18-2zm307-243zm36 738zm2-46zm9 15zm14-1zm20-16zm9-430zm44 160zm17 472zm8-638zm16-2zm31 438zm0-22zm8-19zm-5 52zm36-380zm7-53zm2-56zm118 67zm-3-57zm60-73zm1 181zm8-129zm-1-1zm24-85zm49 91z"/>
<path stroke="#6ccd5a" d="M829 226zm0-4zm22-74zm-9 16zm1 1zm3 5zm-3 4zm6 2zm-1 3zm1 14zm13 5zm-6-45zm15-22zm-5 16zm0 22zm5 25zm-3 1zm-2 10zm2 6zm7 373zm8 321zm2-731zm2-32zm-4-10zm13 54zm1 8zm-2 413zm13 271zm17-17zm-1-32zm5-1zm-5-247zm17-141zm0 260zm0 130zm15-19zm14-18zm-6 89zm18-83zm-6-5zm-2-214zm21 237zm11-34zm23 271zm-1-6zm-1-363zm17-269zm2-192zm16 76zm5 550zm6-3zm-3-537zm17 526zm-6 12zm13-60zm8-7zm11-377zm25 246zm6 38zm1-9zm4-29zm-4-23zm15-208zm-3 171zm5 9zm-5 18zm6 10zm-10 52zm14 54zm8-8zm-6-12zm-4-24zm8-35zm-3-10zm3-19zm-2-7zm0-29zm-5-139zm5-58zm3-31zm10 224zm-6 17zm1 14zm4 16zm-4 3zm3 13zm-4 16zm0 44zm0 1zm-1 10zm2 15zm16-3zm1-14zm-6-14zm8-3zm-6-6zm1-1zm5-70zm3 1zm5 21zm3 11zm-7 12zm7 13zm-3 4zm2 27zm3 3zm3 20zm-2-24zm6-16zm-2-8zm0-3zm7-84zm-2-5zm-2-32zm11 62zm-6 23zm10 11zm-1 32zm-9 2zm9 17zm11-19zm-8-46zm9-93zm8 22zm-4 13zm10 20zm-10 17zm8 6zm1 2zm-4 32zm-4 12zm5 2zm-1 10zm10 13zm5-22zm0-2zm2-8zm-4-4zm-3-20zm2-21zm-6-62zm0-131zm17 135zm-1 1zm1 50zm-5 30zm8 9zm2 12zm-10 9zm18-46zm-2-9zm2-53zm-5-42zm22 33zm0 22zm-2 11zm-5 28zm3 15zm2 0zm11-11zm-2-6zm-2-16zm1-16zm2-27zm16 24zm8 10z"/>
<path stroke="#cde11d" d="M839 606zm-7-10zm4-5zm13-19zm-2 7zm-1 0zm-2 8zm1 3zm3 22zm11 3zm3-3zm-8-3zm9-1zm-4-1zm-2-8zm2-37zm2-13zm9-5zm4 5zm-8 26zm-2 26zm9 13zm-5 39zm9-37zm1-22zm7-51zm7-4zm2 1zm2 2zm-2 82zm-5 40zm5 4zm-1 6zm7 223zm6-210zm-2-4zm-4-10zm1-16zm3-3zm4-21zm-3-40zm-5-5zm7-8zm-2-38zm3-8zm7 7zm5 10zm-8 17zm1 27zm-1 9zm9 13zm-8 17zm6 7zm14 69zm-3-7zm1-64zm-2-4zm4-22zm1-71zm6 36zm-1 22zm5 61zm-6 22zm7 10zm-2 13zm11-35zm-2-27zm-4-12zm2-32zm3-45zm10 11zm-3 2zm1 6zm-1 132zm5 85zm8-128zm8-74zm-5-29zm-2-180zm12-3zm8 181zm0 9zm0 24zm0 32zm-2 47zm3 6zm-9 14zm7 3zm1 7zm11 1zm1-5zm0-3zm-2-6zm-1-23zm-3-1zm4-6zm-1-6zm-2-55zm-1-17zm1-1zm0-217zm14 16zm3 187zm0 13zm1 17zm-2 2zm-7 2zm0 14zm-2 2zm3 2zm7 20zm-8 11zm0 14zm6 21zm-8 2zm5 9zm17-18zm-1-11zm0-64zm-9-2zm9-1zm1-42zm-10-4zm10-116zm8 138zm-1 60zm5 2zm4 27zm0-18zm3-94zm-5-20zm9-34zm8-187zm-1 284zm-4 4zm0 9zm0 29zm0 1zm2 4zm32-315zm3 423zm14-410zm-1 32zm19 127zm71-174zm36 72zm7 80zm16-50z"/>
<path stroke="#443b84" d="M207 477zm64 81zm42-77zm10 26zm657 562zm43 54zm32 1zm44-373zm-3-417zm8 49zm69 74zm24-170zm108 88zm25-38zm4-74zm12 20zm32 50zm10 2zm1-7zm1-13zm9 27z"/>
<path stroke="#addc30" d="M835 585zm14 5zm1 34zm7-1zm4 0zm2-7zm0-57zm8-21zm1 71zm0 62zm4-8zm3-4zm3-2zm-6-34zm10-62zm-8-418zm12 34zm-2 10zm4 356zm-2 106zm13 267zm8-9zm0-286zm-3-18zm-7-27zm8-24zm3 66zm6 2zm-6 56zm12-86zm2-6zm7-194zm11 161zm-7 86zm3 32zm7 247zm9-38zm-5-171zm4-55zm3-76zm-2-155zm9 380zm16 56zm0-65zm-7-8zm3-163zm6-10zm-8-5zm4-46zm7-141zm6 173zm-4 12zm-2 38zm3 43zm-4 3zm17-29zm4-43zm-8-26zm5-33zm1-211zm15 294zm9 30zm1-60zm-9-36zm10-20zm-7-134zm12 147zm3 6zm-3 18zm4 3zm-5 14zm14 4zm-3-7zm1-40zm1-189zm-2-158zm11 381zm1 45zm33-297zm20-3zm4 65zm8-80zm42 292zm9-288zm18 121zm20-100zm-5 22zm9 319zm10-292zm56 210zm1 29zm2-61zm44 17z"/>
<path stroke="#238a8d" d="M160 500zm57-34zm706 561zm-8 10zm18-645zm6-11zm-3 52zm17-1zm14 132zm14-151zm3 0zm11 364zm-5 297zm14-262zm-1-14zm28-449zm-2-132zm10 113zm-4 37zm17 165zm11-162zm-7 505zm17-11zm6-358zm-6-82zm1-8zm0-112zm15 63zm0 9zm11 30zm-5-22zm4-5zm2-6zm-6-58zm11 68zm11-19zm12-132zm6 103zm5 152zm20-56zm8 30zm-4-79zm6-24zm8 109zm17-76zm23 110zm7-15zm9 33zm3-78zm20-31zm3 21zm5-17zm10 101zm35 18zm11-17z"/>
<path stroke="#472d7b" d="M216 512zm22 46zm-7-133zm27 73zm19-8zm3-1zm0-54zm102 124zm5-75zm8 4zm26 42zm20 60zm-6 4zm31-120zm1 95zm22-59zm25-79zm11-17zm508 676zm18 5zm241-820zm14 84zm-7 14zm12 7zm2-38zm0-22zm9 5zm3 41zm17-11zm-9-18zm4-48zm0-31zm7 19zm5 125zm13-69zm3-45zm-5-2zm19-9zm-8 76zm22-12z"/>
<path stroke="#28ae80" d="M879 187zm42 656zm-4 63zm9-483zm14-18zm2 0zm0 16zm8 30zm1-18zm-3-39zm22 13zm-3 404zm7-13zm4-5zm15-387zm6 80zm7-5zm-10-41zm1-6zm1-15zm4-3zm4-23zm-2-10zm7 58zm2 39zm17-83zm-7-3zm6-6zm0-38zm-8-114zm4-1zm-2-15zm15 155zm-5 11zm3 4zm1 13zm1 26zm-3 22zm-1 37zm15-22zm-2-60zm6-64zm6 53zm8 35zm-10 77zm12 367zm6-37zm2-116zm-3-249zm-5-41zm1-5zm9-5zm-9-3zm9-26zm0-67zm6 11zm4 53zm-4 96zm4 6zm12 273zm-6-328zm8-3zm-2-2zm9-83zm2 1zm-1 15zm-1 0zm-2 73zm19 6zm-2-12zm0-11zm1-21zm-7-16zm5-39zm-3-3zm-4-14zm4-41zm10-8zm-3 139zm10 36zm1 55zm-2 4zm4-60zm2-30zm4-68zm3-10zm8-4zm2 2zm2 29zm1 23zm-10 7zm4 132zm13-3zm-5-14zm7-119zm14-71zm-7 56zm0 6zm4 9zm-2 2zm4 59zm-7 13zm3 15zm1 45zm4 1zm-7 141zm10-139zm8-5zm-4-153zm0-25zm-4-12zm11 50zm1 18zm7 47zm14 18zm-6-20zm1-93zm2-9zm6 16zm1 35zm2 41zm-4 51zm0 30zm21 9zm-3-56zm4-10zm-6-7zm-2-15zm15-66zm-2 96zm5 19zm12 29zm-6-22zm-2-90zm15 43zm6 68zm-1 19zm4-88zm14 51zm-1 23zm12-32zm26 51zm-3-4z"/>
<path stroke="#460a5d" d="M214 497zm20-42zm118-19zm20 185zm57-54zm19-108zm762-134zm48-20zm85-46zm24 78z"/>
<path stroke="#38598c" d="M134 499zm30 6zm21 28zm6-18zm-5-25zm2-52zm1-29zm14 70zm0 8zm-5 31zm3 22zm1 6zm12-1zm-9-62zm9-2zm-9-6zm3-10zm-2-20zm3-4zm17-22zm-9 11zm2 91zm5 32zm8-17zm6-5zm0-69zm1-3zm-8-7zm-2-23zm5 0zm-4-6zm1-12zm13-4zm3 8zm3 68zm-2 64zm13 13zm0-17zm-2-9zm-6-44zm0-3zm1-4zm0-53zm14-39zm7 17zm-8 9zm3 6zm5 15zm-8 45zm6 3zm-3 25zm-5 10zm7 57zm12 9zm-8-49zm10-19zm0-4zm-8-31zm-1-61zm15-15zm0 6zm5 12zm2 43zm-4 14zm0 26zm0 5zm-7 6zm7 2zm-2 32zm6 7zm-8 29zm5 1zm-7 4zm0 7zm13-18zm4-5zm-6-49zm11-10zm-10-6zm2-12zm1-21zm1-24zm-3-15zm5-5zm0-19zm1-5zm-5-12zm8-11zm-10 0zm4-6zm10 25zm6 13zm-6 16zm-1 21zm4 2zm-1 11zm0 30zm6 7zm-11 11zm0 18zm1 2zm1 35zm20 0zm1-25zm-3-66zm-6-6zm-1-5zm9-41zm-2-5zm-2-27zm9 46zm3 15zm4 47zm-4 4zm-4 77zm3 4zm6 3zm-11 7zm6 6zm11 12zm0 0zm6 0zm-2-4zm-5-4zm4-17zm-1-7zm-3-9zm-2-87zm-1-19zm6-18zm-2-16zm-1-8zm-2-4zm5-17zm14-17zm-8 4zm1 5zm2 52zm6 21zm0 11zm-10 0zm7 9zm-1 7zm-4 87zm4 5zm2 49zm8-13zm-2-24zm0-1zm-2-1zm3-4zm-3-18zm4-32zm1-25zm-4-6zm2-9zm-3-10zm6-8zm3-6zm-7-18zm0-9zm2-4zm-3-24zm20 43zm0 31zm2 31zm-2 101zm6-76zm4-12zm3-11zm-10-1zm3 0zm1-3zm4-5zm-2-10zm-5-23zm1-7zm7-4zm-9-34zm2-29zm19 62zm1 22zm-8 21zm9 64zm7 31zm-3-36zm8-56zm-9-24zm2-4zm6-17zm-10-51zm21-9zm-9 82zm9 15zm0 8zm-2 14zm-5 20zm-2 9zm10 3zm-3 10zm-1 3zm14 4zm3-19zm-10-42zm0-23zm3-1zm-2-7zm0-22zm8-25zm-5-9zm9 1zm3 4zm-2 7zm-2 13zm9 28zm-9 31zm19 25zm3-16zm0-20zm-10-15zm10-1zm-9-58zm19-21zm-2 32zm-7 44zm8 15zm-3 18zm-1 3zm4 15zm-8 0zm22-51zm1-63zm-4-16zm6 99zm21-101zm-7-1zm-1-8zm24 7zm417 5zm13 53zm19 304zm-5 285zm2 10zm20 26zm4 24zm11-29zm8-680zm7 641zm-3 61zm11-28zm3-746zm7 530zm17-549zm13 532zm15-409zm-2-95zm28 122zm19-188zm20 46zm10 160zm32-92zm-2 43zm-6 28zm29-109zm9 144zm31 3zm24-199zm7 39zm1 21zm-4 3zm15-67zm1-10zm17 82zm13 3zm0-35zm0-44zm12-34zm-2 19zm-1 27zm-2 77zm7-61zm15-57zm2 46zm5 42zm8-19zm12-27zm-2 23z"/>
<path stroke="#238a8d" d="M147 492zm19 1zm10-3zm45-40zm191 170zm468-495zm15 65zm-2 704zm28-478zm-1 450zm16-28zm20 184zm2-222zm7-354zm11-57zm17-29zm10 425zm1-342zm3-42zm-11-18zm2-12zm14-161zm11 248zm6-39zm-4-204zm13 161zm8 76zm8-33zm-5-13zm8-126zm5 203zm5 8zm-5 369zm11-483zm-1-11zm9 82zm5 14zm1 39zm11-61zm-2-41zm0-1zm18-74zm-1 50zm13 63zm1-110zm5 18zm6 56zm10-26zm2-9zm-9-26zm1-59zm18 66zm0 17zm3 2zm-9 0zm9 34zm-5 11zm5 99zm7 20zm5-52zm-4-51zm3-73zm-10-36zm13 19zm0 13zm13 173zm2-166zm13 40zm1 80zm15 192zm-1-157zm-3-71zm-2-78zm17 83zm1 65zm26-97zm-6 16zm36 215zm6-118z"/>
<path stroke="#472d7b" d="M205 472zm15 40zm16-78zm10 5zm29 119zm11 18zm-3-132zm14 20zm24 17zm17 78zm31-148zm-3 24zm14 149zm4-94zm9 113zm20-131zm12-37zm54 103zm5-59zm36-45zm-4-10zm32-12zm488 720zm61-635zm196-162zm6-42zm0 16zm7 73zm3-4zm-1-99zm1-15zm29 111zm-4-7zm3-49zm6-60zm2 60zm-1 45zm47-30z"/>
<path stroke="#addc30" d="M834 233zm8-34zm7 18zm-5 21zm-3 352zm0 2zm14 45zm6-56zm0-21zm0-387zm6 396zm-3 45zm3 24zm15-23zm-5-441zm13 428zm2 59zm6 11zm6 19zm-3-92zm7-2zm9-39zm5 3zm-6 3zm-2 15zm-1 15zm10 4zm-3 4zm10 228zm-2-257zm3-183zm10 172zm0 69zm1 40zm0 12zm2 153zm2 66zm7-285zm-2-62zm16-140zm1 134zm-1 148zm16-15zm-10-60zm12-170zm3 107zm0 25zm4 18zm-3 89zm12-114zm-3-11zm2-189zm14-155zm-6 163zm8 180zm-3 14zm-2 11zm2 10zm15 26zm-1-36zm-6-37zm1-181zm12-118zm2 103zm-4 233zm15 62zm-1-28zm9-21zm-3-14zm-5-36zm-1-5zm4-3zm0-106zm13 46zm-3 123zm5 31zm-3 25zm7-13zm5-155zm9-3zm-2 345zm18-338zm37-80zm1 30zm1 183zm-10 10zm21-150zm7-58zm7 96zm10 112zm-2-198zm9-21zm26 130zm8 185zm5-249zm27-47zm11 5zm3 12zm52 163z"/>
<path stroke="#efe51c" d="M837 590zm11 5zm-8 8zm9 22zm2 3zm9 40zm-3-26zm3-41zm4-61zm1 48zm-1 58zm2 20zm18 2zm15-72zm-9 34zm18 56zm3-12zm-9-2zm5-18zm-1-9zm-5-84zm-1-16zm7-1zm-4-8zm5-5zm7 25zm2 6zm15 22zm0-188zm13 204zm1 69zm10 25zm-5-21zm1-45zm-2-40zm5-13zm14-10zm-5 99zm0 28zm31-128zm-7 48zm-4 77zm15 13zm2-19zm-1 0zm4-28zm-5-5zm4-14zm4-15zm-4-17zm3-4zm5-46zm7 1zm-10 41zm5 82zm8-68zm3-64zm8-3zm3 6zm6 58zm-5 35zm-4 5zm14 7zm2-39zm-1-82zm10 95zm30 239zm45-391zm26-124zm12 11zm60 92z"/>
<path stroke="#cde11d" d="M835 572zm6 24zm10 9zm4 47zm3-54zm-1-5zm1-2zm4-20zm9-25zm-2 25zm0 4zm6 10zm-7 3zm3 21zm4 17zm-10 13zm6 1zm-7 7zm9 32zm11-4zm2-15zm-1-21zm1-17zm0-12zm-9-16zm8-16zm1-26zm-3-390zm8 14zm8 370zm-7 10zm6 50zm-10 14zm6 40zm3 15zm-5 1zm13 20zm5-44zm-4-6zm0-10zm-3-7zm4-2zm-6-3zm3-1zm1-53zm-5-5zm9-4zm-8-368zm17 357zm-3 43zm5 36zm-5 47zm7 7zm-3 5zm16 17zm-7-25zm-1-49zm5-4zm0-34zm2-9zm-9-5zm5-11zm7-2zm2 16zm1 14zm-4 2zm8 33zm0 6zm1 1zm0 22zm-6 41zm-3 7zm0 205zm21-209zm1-20zm-2-22zm-3-87zm-1-1zm-2-35zm18 74zm-2 68zm-5 210zm19-100zm-2-113zm-4-3zm7-2zm-1-8zm1-15zm-4-22zm1-22zm0-1zm-4-10zm5-21zm-2-1zm-3-15zm21 24zm-5 29zm2 65zm-3 10zm-5 3zm7 15zm5-47zm3-15zm6-24zm2-18zm-11-14zm3-11zm1-1zm6-3zm-10-3zm4-4zm4-11zm5 20zm1 23zm9 3zm0 7zm-8 0zm6 24zm-1 7zm1 22zm2 15zm-11 12zm14-8zm5-13zm-6-7zm5-5zm1-29zm4-31zm9-45zm-8 2zm1 9zm5 27zm5 19zm-11 35zm2 4zm7 2zm-8 14zm12-14zm0-3zm3-12zm0-9zm6-2zm1-11zm-1-31zm-2-13zm0-10zm0-3zm-2-84zm2-36zm5 123zm-1 30zm0 20zm3 2zm28-165zm20-110zm14 62zm50 36zm1-44zm28 34zm22 74zm19 19zm4-31zm29-26zm6 136zm38-52zm11-29z"/>
<path stroke="#28ae80" d="M886 896zm-5 0zm30 4zm-11-14zm15-315zm18-162zm1-1zm-1-2zm16 21zm15-49zm4 16zm-8 3zm9 410zm14-337zm-9-2zm5-17zm-3-14zm3-63zm6 45zm-1 1zm8 401zm5 4zm10-24zm0-210zm0-115zm-7-43zm-3-47zm1-15zm17-31zm-3 49zm17 65zm-3-22zm2-17zm1-174zm13 127zm-7 10zm0 42zm-1 14zm-2 40zm7 24zm-3 8zm10-22zm8-37zm-5-7zm3-156zm7 32zm5 94zm0 38zm13 395zm-6-332zm2-30zm3-13zm-5-6zm-3-25zm6-15zm-3-33zm11-83zm3 9zm4 22zm-2 41zm-3 3zm-2 38zm0 8zm9 57zm-11 5zm3 17zm9-17zm6-18zm1-60zm-6-35zm10-11zm11-21zm0 36zm-2 4zm-4 11zm-3 64zm1 2zm14 19zm1-35zm0-23zm3-44zm-7-12zm1-3zm7-67zm9-17zm-5 19zm6 115zm4 88zm5 3zm-3-236zm13 101zm9 36zm-10 9zm9 10zm-10 0zm3 18zm-2 51zm11-108zm0-44zm17 78zm-1 5zm13 118zm-3-93zm9-3zm-4-27zm11-92zm2 21zm-7 31zm4 70zm-3 15zm0 27zm8 6zm2-117zm1-2zm15-37zm-1 55zm8 0zm0 6zm-4 91zm-7 28zm5 10zm9 22zm-2-11zm1-88zm6-21zm-6-5zm19 11zm7 87zm-1-16zm2-34zm5-15zm-5-36zm-3-18zm11 119zm23-16zm-5-8zm1-9zm8-4zm2 12zm7 132zm14-100z"/>
<path stroke="#2c728e" d="M180 526zm18-56zm25-74zm40 145zm3-154zm8 113zm-4 23zm42-55zm26 140zm20 14zm-10-89zm7-109zm-2-5zm21 206zm16-164zm-6 56zm28 73zm19-71zm4 94zm16-39zm29-127zm61-13zm310-222zm9-54zm49 714zm7-22zm19-452zm10 411zm11 10zm21-11zm9-430zm2 464zm-1 26zm14-31zm-2-58zm24-537zm20-32zm14 46zm25 110zm4 138zm7-142zm39-138zm6 247zm17-52zm224-112zm7 6z"/>
<path stroke="#443b84" d="M293 418zm75 101zm11-7zm31-75zm15 35zm63-42zm499 642zm30 26zm-9 30zm59-255zm105-548zm34 81zm105-36zm7-43zm-7-16zm4-41zm9 69zm14 70zm3-8zm-7-36zm25-68zm9 53zm20 3z"/>
<path stroke="#1fa287" d="M881 886zm24-2zm5-470zm10-18zm-1 32zm3 1zm8 432zm3-26zm-2-444zm13-7zm-7 45zm7 412zm6-451zm13-2zm-1 26zm6 3zm-4 57zm7 323zm10 267zm0-593zm-8-59zm1-2zm6-2zm1-12zm-5-13zm6-11zm2 1zm2 70zm14 38zm7-16zm-3-7zm-7-33zm20-71zm1 18zm-1 6zm-1 32zm-5 65zm16-47zm-2-31zm-3-13zm-2-8zm0-137zm4-18zm12 10zm6 184zm-4 3zm-5 3zm0 1zm9 41zm-4 34zm17-15zm-9-16zm-1-56zm3-29zm-1-7zm7-18zm-1-81zm-8-12zm21 88zm-9 8zm10 30zm-1 6zm-9 19zm10 0zm-3 8zm-7 74zm22-13zm-7-42zm7-6zm-9-10zm-2-88zm6-2zm3-17zm7 13zm5 62zm-5 9zm-2 23zm-2 3zm10 30zm-1 20zm0 14zm-6 5zm15-49zm-6-4zm4-11zm-3-37zm4-2zm-4-1zm0-2zm1-24zm3-35zm-1-22zm13 17zm3 41zm-4 16zm4 2zm3 13zm-5 30zm1 19zm4 68zm2-115zm6-52zm7-112zm8 25zm-9 121zm5 32zm-6 36zm7 32zm-5 15zm9 15zm7-3zm-1-15zm3-4zm-3-50zm-1-9zm-2-2zm6-14zm-4-60zm-2-15zm-1-11zm5-20zm-2-52zm19 100zm-9 85zm2 48zm4 18zm11-2zm-1-118zm0-49zm15 16zm-9 83zm2 5zm3 40zm-2 21zm17 37zm-1-39zm-1-80zm-1-26zm-1-16zm-3-8zm12-5zm3 25zm-4 63zm3 35zm10 9zm1-36zm3-91zm-5-17zm23-7zm-3 60zm3 17zm0 14zm-6 13zm13 59zm7-62zm5 37zm-3 9zm4 16zm6 2zm5-23zm2-39zm-3-23zm8 67zm-1 21zm5 9zm11-36zm12 39zm31-2z"/>
<path stroke="#3e4a89" d="M135 531zm8-35zm48-30zm3-44zm10 80zm20 53zm7-105zm4-36zm23 81zm26 57zm11-58zm29 110zm14 24zm44-50zm-10-79zm22 90zm3-136zm20-12zm35 11zm48-35zm394 161zm59 436zm0-590zm68 703zm6-18zm-1-15zm8-2zm8 5zm0 5zm0 13zm33-242zm15-95zm4-449zm27 133zm7-164zm4 189zm8-24zm37-6zm13 77zm4-63zm28-82zm8 140zm28-32zm23-180zm10 42zm2-24zm8 14zm3 185zm12-192zm10-53zm1 38zm0 19zm-3 15zm10-9zm5-75zm0-1zm5-7zm10 25zm-4 16zm16 80zm-3-91zm11 34zm2 12zm-1 18zm16-29zm-8-4z"/>
<path stroke="#31668e" d="M148 488zm-3 13zm4 3zm11 31zm2-9zm-2-3zm3-7zm11-44zm16 47zm-8-12zm9-12zm-5-23zm-4-8zm9-2zm7 5zm1 17zm-2 5zm5 18zm-5 9zm11-11zm3-24zm0-45zm16-16zm-3 11zm2 39zm-7 38zm7 15zm0 28zm-2 6zm12-24zm0-4zm0-8zm0-95zm-8-1zm1-20zm12 17zm0 15zm3 55zm4 21zm14 63zm-6-3zm3-4zm-5-37zm7-46zm-3-44zm-1-12zm1-19zm-5-2zm12 92zm7 28zm-3 28zm-4 11zm19-14zm-4-21zm1-46zm4-18zm-3-2zm1-1zm-4-49zm5-11zm-3-9zm2-4zm15 26zm-7 49zm2 26zm2 9zm-4 3zm1 2zm-2 49zm0 20zm17 24zm-7-5zm2-14zm2-6zm-1-27zm8-23zm-7-3zm-3-47zm10-8zm-5-4zm0-6zm-2-7zm2-35zm-6-6zm1-5zm18-5zm-1 19zm3 9zm-8 83zm20 110zm-7-10zm1-42zm-2-13zm5-141zm11-16zm-5 17zm2 29zm-2 0zm4 82zm4 81zm3 7zm0 19zm3 6zm9-12zm-1-7zm-8-39zm3-54zm-5-24zm4-10zm6-65zm-5-15zm17-21zm1 77zm-2 3zm-6 7zm6 17zm-2 13zm2 2zm-6 4zm7 66zm-6 5zm1 9zm-1 7zm19 25zm-1-2zm-6-31zm7-4zm-6-7zm-2-4zm2-11zm6-31zm-3-23zm-1-96zm6 58zm0 1zm8 18zm-9 62zm2 12zm9 43zm4-18zm-1-7zm1-5zm1-46zm4-21zm-1-4zm-2-4zm4-11zm-2-5zm1-13zm-7-3zm17-47zm-6 49zm10 5zm-8 47zm-1 28zm0 21zm4 17zm4 0zm14-1zm-5-4zm0-10zm2-13zm-8-14zm9-14zm-3-6zm0-19zm-6-45zm16 1zm7 22zm-7 111zm-2 1zm14-24zm3-17zm-6-7zm8-13zm-1-87zm-3-4zm15 28zm2 19zm-3 13zm-7 57zm21-8zm-3-2zm-4-43zm0-39zm2-17zm0-22zm4-25zm13 5zm-6 42zm8 37zm0 38zm-1 3zm-3 2zm28-130zm-3 1zm5-8zm9-2zm12 15zm-1 5zm350 472zm72-10zm2-87zm35-402zm35 469zm31-19zm16-100zm-1-439zm6 96zm6 381zm12-382zm29 14zm0 36zm2 35zm-2 20zm10-80zm8-161zm-7-5zm149 85zm8-53zm3 69zm2 20zm-2 133zm24 13zm10-157zm24-35zm25-18z"/>
<path stroke="#50c46a" d="M791 280zm-5-5zm41-60zm-3 6zm5-10zm20-73zm0 32zm-9 33zm13-18zm0-9zm7-11zm5 18zm7 10zm4-16zm2-7zm10 28zm39 384zm32 223zm-1-1zm27-396zm0 458zm21-71zm1-410zm10-171zm1 9zm7-16zm7 252zm12-215zm16 606zm37-433zm3-41zm17-18zm17 247zm-6 27zm17 41zm3-23zm1-17zm-1-5zm-7-20zm4-5zm4-154zm-6-81zm15 232zm3 16zm-9 49zm0 3zm1 38zm6 17zm4 4zm10 14zm1-12zm-10-4zm5-2zm-2-2zm1-4zm3-5zm2-11zm-5-31zm3-73zm2-4zm-3 0zm13-181zm-3 89zm-3 23zm2 69zm-2 35zm12 82zm8-9zm2-22zm-9-32zm7-24zm-1-11zm0-15zm2-28zm-6-192zm8 114zm7 83zm-4 42zm0 13zm0 27zm3 12zm-2 16zm2 5zm2 7zm-4 5zm2 1zm12 9zm4-4zm0-73zm-1-20zm-7-127zm2-138zm13 28zm5 57zm1 139zm-2 4zm2 21zm-1 15zm-1 9zm-1 25zm-5 42zm12-17zm0-18zm5-87zm11-157zm-3 89zm4 78zm-3 42zm1 3zm-6 50zm2 5zm6 8zm12 7zm-1-25zm3-25zm-9-24zm7-11zm-1-38zm-1-3zm-2-6zm15 11zm-5 13zm-1 64zm-1 1zm5 4zm3 6zm-7 0zm5 10zm-5 9zm2 3zm20-10zm-10-78zm7-23zm6 9zm2 29zm1 6zm3 10zm-8 5zm0 11zm12-23zm7-5zm0-25zm3-11zm-1-36zm8 74z"/>
<path stroke="#481c6e" d="M233 459zm17-26zm-1 121zm14-116zm27 82zm49 57zm14-11zm8 59zm22-190zm15 76zm13 7zm29 44zm15-19zm1-79zm8 63zm-8 58zm29-41zm551 569zm143-793zm45 399zm83-312zm8-140zm14 102zm1 12zm19-32z"/>
<path stroke="#8bd646" d="M815 208zm20 13zm-1-8zm-1-25zm10-20zm7 6zm-8 434zm20-59zm3-390zm9 42zm-5 441zm5 21zm5 214zm8-1zm0-698zm-8-11zm12-7zm4 378zm2 152zm-2 219zm9 7zm-2-289zm7 0zm2-89zm7 296zm1 6zm-6 49zm18-319zm13 237zm6 36zm3-223zm4-67zm8 335zm16-75zm-5-6zm0-181zm12 65zm11 137zm0-1zm-1-210zm6-247zm10 193zm-6 213zm22-213zm-10-322zm4-8zm7-14zm6 154zm9 265zm7-90zm-8-4zm5-188zm6-51zm3 343zm30-231zm34 243zm-6-298zm33 358zm-10-112zm19-9zm-7 52zm15-35zm12 18zm19 45zm13-317zm-9 352zm10-27zm9-12zm-6-1zm6-93zm12-112zm2 115zm7 109zm3-21zm-1-67zm22 87zm-2-17zm0-9zm-2-177zm17 86zm4 52zm-8 2zm16 27zm10-70zm5 23zm3 25zm11-23z"/>
<path stroke="#460a5d" d="M189 510zm39-46zm24-39zm77 201zm57-113zm10 1zm45-51zm19 39zm20 15zm599-88z"/>
<path stroke="#38b977" d="M801 272zm89-73zm3 696zm16 7zm7-310zm13-166zm25 472zm25-55zm-5-369zm8-42zm16 402zm2-24zm-4-396zm6-19zm5-15zm8-33zm4 68zm6-7zm11-185zm-2 243zm9 10zm-3 2zm2 12zm6-52zm17 23zm-7 25zm5 382zm11-27zm3-337zm-8-190zm16 78zm-2 35zm3 7zm-3 23zm-2 307zm12 86zm7-349zm-2-107zm-4-23zm20-24zm8 15zm10 160zm-4 107zm15 8zm1-216zm-1-6zm5-160zm7 85zm5 1zm11 154zm3-91zm-8-43zm20 20zm-4 24zm4 193zm-6 28zm-4 16zm0 54zm15-107zm18-191zm0 21zm-2 11zm2 79zm-6 3zm3 187zm10-245zm27-16zm12 26zm11-3zm0-51zm29 123zm-3-6zm-6-54zm12 13z"/>
<path stroke="#6ccd5a" d="M825 191zm8 28zm3-9zm-5-38zm12-10zm4 14zm-6 38zm3 8zm6 8zm-6 369zm4 14zm12-420zm2-11zm-2-3zm-7-17zm0-12zm2-15zm-1-6zm11 37zm1 30zm8 0zm-2 16zm-7 349zm14-20zm2-338zm16-31zm1 11zm1 12zm-9 373zm1 302zm11-272zm4-25zm7 265zm9 7zm-9 13zm33-26zm8-252zm22 285zm32-503zm10 226zm6 476zm5-688zm13-147zm-9 833zm20-605zm11 392zm-7 31zm19-23zm8-19zm10-56zm11-401zm16 255zm-4-263zm22 231zm0 45zm8 62zm-3-42zm-1-27zm-2-1zm4-39zm5-170zm2-93zm4 191zm-1 65zm4 16zm2 18zm-8 2zm0 2zm10 48zm-4 3zm-5 11zm1 5zm8 11zm-5 18zm10-18zm4-39zm-1-29zm-5-13zm8-4zm-7-12zm-2-216zm22 222zm-1 8zm-5 18zm-1 31zm2 3zm1 7zm4 24zm-7 14zm18 7zm-3-23zm4-11zm-10-1zm-1-1zm0-9zm0-2zm1-35zm5-17zm4-27zm-6-24zm13 68zm2 10zm-6 17zm8 0zm-8 7zm8 5zm-1 1zm-4 7zm-1 7zm10 23zm1-36zm0-9zm-2-90zm13-25zm1 14zm4 4zm-4 14zm0 49zm6 20zm0 15zm0 0zm-5 5zm1 19zm16 6zm3-22zm0-5zm-6-3zm1-28zm-3-7zm-2-27zm1-33zm19-5zm-4 5zm6 22zm-5 65zm16-11zm-8-13zm1-12zm1-21zm2-13zm1-11zm-3-19zm4-14zm4 25zm8 20zm1 4zm-5 15zm6 3zm-8 12zm2 3zm6 2zm-5 9zm-4 8zm20 0zm-9-4zm4-20zm-2-36zm-2-31zm21-48zm-8 40zm-1 21zm1 4zm10 39zm-1 6zm-4 6zm10 0zm-3-9zm4-23zm3-17zm7-8zm6 12zm-6 24zm9-4z"/>
<path stroke="#38598c" d="M137 510zm18 3zm-3 13zm11-40zm10 36zm6 10zm7-14zm1-12zm-6-6zm7-92zm-7-16zm16 99zm2 1zm5 51zm0-21zm9-18zm1-34zm-6-30zm1-26zm-1-4zm19-16zm-10 2zm6 24zm-7 39zm8 29zm1 33zm3 22zm8-29zm-1-71zm2-8zm1-25zm-3-1zm0-14zm8 40zm3 8zm3 5zm2 38zm-4 8zm3 20zm0 17zm5 47zm7-36zm-10-30zm7-7zm-6-4zm0-11zm3-55zm-1-23zm13-8zm-1 15zm8 6zm-8 32zm4 125zm15 25zm-1-15zm1-2zm-7-11zm7-30zm0-30zm-8-2zm-2-41zm6-27zm0-50zm15 0zm0 113zm-1 93zm12 5zm2-15zm-6-34zm3-5zm-4-56zm8-30zm-4-2zm11-74zm-3 5zm-3 86zm3 33zm-2 56zm9 4zm-10 6zm4 0zm1 4zm7 30zm3-34zm4-15zm-5-68zm8-13zm-6-60zm-3-13zm15-27zm5 11zm2 30zm-3 6zm-2 138zm3 30zm-5 28zm19-6zm-8-3zm-3-3zm6-3zm4-14zm-3-14zm-1-11zm-3-11zm7-42zm-2-18zm-5-62zm0-18zm5-17zm13 20zm-3 41zm3 18zm0 15zm2 15zm-10 58zm1 5zm3 39zm16 24zm-8-43zm7-87zm3-3zm-3-16zm-5-3zm3-22zm11 6zm0 7zm5 0zm-7 1zm3 5zm3 72zm-7 50zm4 4zm10 11zm-2-12zm-2-19zm10-54zm-8-24zm3-12zm-4-11zm21 13zm-5 31zm-4 2zm6 0zm4 1zm-9 15zm6 37zm14-14zm-3-6zm3-17zm-2-13zm2-20zm-2-20zm-7-43zm17-10zm1 7zm-6 29zm10 94zm-10 12zm10 16zm10-37zm2-18zm-11-107zm4-18zm12 3zm5 14zm1 26zm1 9zm-2 53zm2 0zm-9 4zm8 49zm-9 26zm16-31zm-5-12zm4-50zm3-4zm-1-72zm2-9zm-6-8zm20 63zm0 13zm-3 20zm-3 13zm-4 6zm7 6zm12-110zm5-16zm1 97zm27-97zm10 8zm16-15zm318-215zm59 831zm12-6zm9-10zm5-634zm18 698zm39-653zm6 670zm-2-713zm19-3zm4 726zm28-274zm-4-360zm10-157zm8 442zm7-329zm13 331zm18-327zm10-57zm37 134zm-5-161zm25 91zm45-60zm41 86zm21-137zm8 49zm-5 2zm14 9zm-5-10zm11-116zm4 10zm-2 61zm-2 40zm19 13zm-5-2zm-3-10zm4-66zm6-16zm4-26zm8 119zm11-47zm-9-46zm13 15zm2 9zm-1 6zm7 13zm-9 16zm18-21zm4-47zm10 44zm-7 10z"/>
<path stroke="#277e8e" d="M191 415zm94 87zm-4-45zm47 84zm23 61zm61-5zm11-19zm499 269zm44-426zm4 39zm3 424zm9-467zm2-36zm5 413zm9-354zm29 52zm14-232zm10 139zm-5-53zm9-75zm9 39zm21 469zm14-289zm-3-119zm6-8zm2 11zm7 28zm23-177zm1 122zm-6 94zm7 20zm21-99zm6 41zm6 18zm-5-90zm14 97zm6 6zm24 47zm11-32zm7 75zm23-108zm1 112zm35-73zm40 66zm58-242z"/>
<path stroke="#1f968b" d="M868 661zm19 226zm40-20zm14-469zm-2 41zm20-70zm13 510zm2-467zm11-28zm15 0zm11-35zm-3 43zm5 5zm-1 1zm-3 96zm21-94zm-10-6zm21-191zm-6 12zm4 125zm-1 29zm-3 15zm6 60zm0 19zm-5 1zm17-206zm9 28zm-3 144zm8 70zm14-24zm10 374zm-10 17zm11-363zm9-46zm-5-25zm6-1zm-3-94zm15 23zm-6 18zm14 132zm-4-128zm2 0zm5-29zm12-39zm-7 179zm7 18zm-8 7zm13-28zm7-136zm0-8zm12 4zm8 39zm16 7zm10 96zm-7-108zm20 114zm-6 6zm2 196zm9-341zm17 155zm5 8zm1-24zm13-17zm10 25zm1-54zm13 21zm26 56zm27-148z"/>
</g></g>
<rect x="14.5" y="15.4" width="278.0" height="222.9" fill="none" stroke="#3a3a3a" stroke-width="0.8"/>
<rect x="295.3" y="15.4" width="7.9" height="223.1" fill="url(#vir)" stroke="#444" stroke-opacity=".8" stroke-width="0.5"/>
<line x1="303.2" y1="238.5" x2="306.1" y2="238.5" stroke="#444" stroke-width="0.7"/>
<text class="mp s" x="309.6" y="241.5">0</text>
<line x1="303.2" y1="208.8" x2="306.1" y2="208.8" stroke="#444" stroke-width="0.7"/>
<text class="mp s" x="309.6" y="211.8">500</text>
<line x1="303.2" y1="179.1" x2="306.1" y2="179.1" stroke="#444" stroke-width="0.7"/>
<text class="mp s" x="309.6" y="182.1">1000</text>
<line x1="303.2" y1="149.4" x2="306.1" y2="149.4" stroke="#444" stroke-width="0.7"/>
<text class="mp s" x="309.6" y="152.4">1500</text>
<line x1="303.2" y1="119.7" x2="306.1" y2="119.7" stroke="#444" stroke-width="0.7"/>
<text class="mp s" x="309.6" y="122.7">2000</text>
<line x1="303.2" y1="90.0" x2="306.1" y2="90.0" stroke="#444" stroke-width="0.7"/>
<text class="mp s" x="309.6" y="93.0">2500</text>
<line x1="303.2" y1="60.3" x2="306.1" y2="60.3" stroke="#444" stroke-width="0.7"/>
<text class="mp s" x="309.6" y="63.3">3000</text>
<line x1="303.2" y1="30.6" x2="306.1" y2="30.6" stroke="#444" stroke-width="0.7"/>
<text class="mp s" x="309.6" y="33.6">3500</text>
<text class="mp t" text-anchor="middle" x="153.5" y="10.5">cell_barcode</text>
<text class="mp s" text-anchor="middle" x="152.8" y="248.4">UMAP1</text>
<text class="mp s" text-anchor="middle" transform="translate(9.3 128.8) rotate(-90)">UMAP2</text>
<text class="lab" x="14.2" y="8.8">(a) Patient P1</text>
</g>
<g id="panel-b">
<g clip-path="url(#clb)"><g filter="url(#bl)">
<polygon points="441.4,40.0 433.5,45.9 427.7,51.7 422.1,59.2 417.3,76.6 418.2,84.7 416.8,90.5 423.1,88.0 431.3,89.6 438.3,86.9 444.3,82.7 445.9,76.1 444.9,63.7 447.1,53.0 450.4,42.3 459.0,29.1" fill="#44bf70" fill-opacity="0.20"/>
<polygon points="487.8,181.9 493.0,176.9 500.1,174.5 501.7,174.5 516.8,178.3 523.1,175.1 528.5,168.0 532.3,158.3 535.0,149.5 530.4,138.6 524.8,129.2 518.5,124.4 509.4,126.1 501.2,120.8 500.5,119.0 500.4,107.5 496.4,101.8 490.3,98.0 488.8,98.5 493.6,104.5 497.9,113.0 501.2,121.8 501.2,123.6 500.1,125.4 492.8,131.6 484.8,137.6 477.5,144.9 475.9,151.2 478.5,160.1 483.0,167.2 488.8,171.1 489.8,172.5 490.0,174.6" fill="#bddf26" fill-opacity="0.20"/>
<polygon points="434.3,122.6 424.6,129.4 412.5,140.4 400.5,154.6 384.2,180.9 374.3,198.0 373.4,211.0 381.6,220.2 399.1,226.1 419.0,224.0 439.1,220.0 454.8,212.1 464.5,198.5 469.4,182.8 470.5,150.9 471.5,137.6 464.9,128.2 457.3,122.9 445.9,121.6" fill="#228b8d" fill-opacity="0.35"/>
</g></g>
<g clip-path="url(#clb)"><g transform="scale(.2)" fill="none" stroke-linecap="round" stroke-width="7.00">
<path stroke="#277e8e" d="M1881 1060zm4 17zm1-26zm8-15zm-10-39zm3-18zm5-21zm12-10zm3 13zm-8 58zm2 67zm2 5zm5 12zm3-2zm3-82zm2-11zm1-2zm2-29zm0-12zm-2-36zm10 62zm12 93zm-2-31zm0-8zm4-40zm1-4zm-8-29zm3-21zm2-32zm0-31zm10-9zm3 112zm-2 30zm-5 19zm5 4zm2 22zm-2 1zm-5 13zm4 12zm12 13zm4-41zm-9-57zm11-187zm1 19zm6 38zm-1 4zm0 23zm-1 28zm-3 50zm6 19zm-7 16zm2 8zm7 7zm-1 15zm-8 6zm17-5zm-5-45zm0-45zm2-86zm3-22zm3-4zm-8-43zm23-26zm0 100zm-4 11zm4 37zm-8 0zm7 10zm-2 6zm-1 61zm4 25zm0 34zm-5 22zm3 10zm7 35zm-3-24zm10-3zm0-10zm-3-10zm-8-212zm4-21zm1-2zm6-27zm9-47zm2 28zm-7 10zm7 2zm0 1zm-7 27zm1 52zm-3 56zm0 87zm0 37zm-1 36zm5 3zm9 28zm-1-46zm2-62zm8-97zm-2-53zm-4-17zm5-16zm-2-101zm-5-10zm12 12zm-2 30zm3 83zm4 30zm0 16zm-3 30zm-3 5zm2 3zm13 153zm0-47zm-3-17zm8-6zm-2-20zm0-46zm-7-9zm-1-62zm3-4zm2-120zm5-33zm-3-5zm9-33zm-1 18zm-2 21zm0 31zm7 37zm-1 5zm2 16zm-5 39zm6 98zm-2 7zm-5 79zm19 21zm-1-12zm-8-3zm6-52zm-6-5zm7-2zm1-28zm-2-15zm-6-33zm0-35zm5-17zm4-1zm-9-1zm3-3zm5-13zm-7-52zm-1-8zm2-50zm0-20zm2-8zm8-29zm6 74zm0 60zm3 35zm0 58zm-10 6zm6 60zm5 15zm-6 40zm-5 10zm3 16zm0 8zm-1 10zm6 37zm13-16zm-3-50zm-3-7zm-1-168zm16-202zm1 18zm-5 26zm-2 21zm10 8zm-8 76zm6 150zm-5 120zm15 22zm1-8zm4-11zm-11-6zm5-116zm2-9zm1-42zm-3-32zm6-38zm-3-9zm-1-122zm2-32zm2-56zm9 62zm-4 43zm1 19zm6 16zm-9 52zm-2 80zm6 94zm-3 4zm7 21zm-5 10zm10 54zm2-21zm-1-62zm6-21zm-7-62zm5-105zm-3-8zm-2-62zm1-84zm8-19zm0 20zm8 12zm1 44zm-8 33zm1 23zm4 15zm1 54zm-1 57zm-3 111zm2 30zm-5 15zm4 13zm18 29zm0-60zm-5-18zm1-5zm1-50zm3-57zm-7-27zm2-26zm5-26zm-4-85zm-4-4zm1-49zm9-63zm4 60zm-1 10zm7 80zm-10 21zm4 5zm-4 4zm10 70zm-7 20zm2 22zm-3 9zm0 77zm-2 12zm0 24zm9 17zm2 29zm9-143zm3-38zm-2-7zm-1-25zm-2-1zm-3-88zm-3-8zm9-36zm-7-24zm9-23zm-3-76zm6 51zm8 12zm-9 5zm10 12zm-3 66zm1 8zm0 98zm-5 9zm-1 0zm8 95zm-6 1zm-4 17zm10 25zm-2 1zm2 2zm6 27zm3-12zm0-33zm0-60zm1-11zm-5-9zm2-38zm1-48zm-5-15zm9-7zm-3-54zm-6-60zm6-56zm1-23zm-2-5zm4-2zm0-8zm1 16zm9 12zm-1 3zm-1 35zm-6 35zm8 40zm-9 42zm9 11zm-4 50zm4 5zm-8 41zm4 32zm-2 115zm6 27zm9-1zm1-70zm1-72zm-5-8zm4-13zm-7-12zm3-9zm-1-14zm4-19zm-2-21zm2-28zm9-163zm-3 17zm8 12zm-5 2zm-3 104zm8 56zm-6 4zm0 1zm4 32zm5 10zm-10 8zm5 22zm4 85zm7-9zm3-47zm2-51zm-8-21zm5-25zm4-27zm-9-19zm-2-58zm5-21zm15-94zm-7 25zm8 0zm-1 6zm-1 105zm-7 39zm6 26zm-2 10zm2 19zm-5 4zm10 21zm-10 3zm3 102zm-2 19zm-2 2zm10 9zm-4 1zm10-56zm3-26zm-5-29zm5-35zm-4-14zm7-13zm1-3zm-9-3zm4-24zm-2-24zm-1-71zm1-26zm-1-27zm5-10zm-4-24zm11 23zm-2 4zm1 2zm7 1zm-8 2zm3 22zm0 45zm2 23zm1 18zm2 1zm-9 66zm11 43zm-2 8zm-2 23zm0 7zm4 65zm-9 23zm18-12zm1-54zm0-11zm-1-188zm-6-51zm4-13zm-3-36zm10 84zm1 23zm8 31zm-3 11zm-7 64zm1 27zm9 71zm7-63zm6-25zm-4-42zm-4-37zm-3-87zm13 141zm1 84z"/>
<path stroke="#8bd646" d="M1894 1043zm31-27zm97-186zm14 278zm-6-526zm10 0zm7 156zm5 109zm13-140zm0 208zm22 140zm-9-127zm6-562zm33 46zm15 687zm14-695zm15-193zm22 574zm22-393zm-9-26zm7-126zm4-5zm4-37zm2 86zm15 88zm1-174zm7-6zm2 36zm-1 33zm-3 40zm1 124zm1 571zm14-248zm-2-544zm24 531zm-3-440zm34 326zm-3-481zm6 546zm2 326zm38-110zm0-670zm14-7zm-6 643zm11-116zm10-35zm-3-500zm-2-18zm16 530zm-9 12zm3 28zm5 8zm-4 4zm0 3zm13 35zm1-26zm0-27zm2-15zm-7-9zm1-25zm15-542zm-5 18zm7 627zm1 5zm-4 14zm18 19zm-5-19zm2-8zm1-36zm-3-4zm-4-86zm7-6zm2-511zm4-3zm0 305zm1 250zm-2 5zm7 11zm-6 78zm0 51zm3 1zm-1 15zm2 22zm15-13zm-7-14zm1-14zm5-1zm-4-15zm1-8zm2-5zm-2-125zm-4-12zm0-23zm8-11zm-7-4zm7-11zm5-171zm7 165zm-9 27zm6 7zm2 188zm2 14zm6-3zm-4-32zm1-53zm4-29zm0-27zm1-179zm1-24zm-2-2zm2-24zm10 113zm-1 83zm-1 45zm2 109zm5 16zm-3 37zm8-47zm0-130zm4-72zm3-131zm-4 0zm-7-18zm18 113zm1 109zm-6 81zm3 41zm6 51zm10-46zm-8-13zm5-31zm5-122zm-10-28zm4-54zm5-40zm-4-42zm12 134zm-4 92zm2 61zm-3 23zm15 2zm7-118zm-4-25zm8-87zm8 147zm-10 87zm21 36zm0-26zm-2-38zm2-58zm-3-55zm0-78zm2-417zm4 484zm10 7zm-9 29zm4 30zm-2 63zm-1 51zm2 2zm16 12zm0-21zm-2-21zm-1-166zm-1-15zm5-50zm3-10zm11 240zm11 11zm1-32zm-5-64zm2-41zm-1-30zm1-79zm8 19zm4 23zm1 100zm-9 124zm15-6zm7-87zm2-123zm6 67zm-1 32zm3 24zm-6 5zm-2 58zm15-88zm8 0zm-7-5zm12 12zm-2 3zm7 27z"/>
<path stroke="#443b84" d="M1891 1080zm2-85zm4-10zm-1 22zm4 73zm41 11zm11-179zm-4 48zm-4 89zm16 19zm6-93zm10 144zm8-45zm-4-35zm8-70zm19 128zm-1-21zm30-336zm-4-98zm8 135zm2 36zm2 16zm2 27zm3 128zm-7 41zm5 105zm10-151zm-1-130zm2-98zm3-39zm14 255zm4-283zm9 99zm2 73zm2 180zm-3 11zm9 54zm11-62zm-5-225zm1-36zm-5-37zm17 122zm-4 47zm1 24zm8 82zm24-695zm-3 327zm3 289zm1 164zm13-86zm29-261zm-1 170zm17-143zm0-83zm13 231zm4 17zm8-10zm-2-196zm1-144zm7 202zm19 169zm-2-80zm7-232zm2 110zm0 27zm-2 7zm10 16zm2-6zm19-55zm-4 28zm16 167zm-7-15zm-3-79zm3-194zm23 261zm6-152zm1-22zm-3-571zm6 459zm10 21zm-2 97zm17 28zm0 46zm18-107zm110 7zm0 288zm27-404zm25 405zm5-48zm-7-301zm22 267zm2 64zm2-146zm29-310zm45 315zm417 55z"/>
<path stroke="#472d7b" d="M1879 1001zm7-53zm23 115zm5-28zm4-50zm8 98zm39-32zm1-34zm6-165zm0 7zm1 156zm16-81zm10-153zm-2 10zm5 134zm-5 26zm-3 11zm-2 116zm28 30zm31-263zm-6 172zm13-120zm3-137zm-7-38zm20-35zm-5 172zm-1 54zm-4 140zm18-71zm-3-14zm4-132zm-2-311zm10 149zm5 168zm2 91zm-7 127zm16-137zm-3-101zm15-71zm-7 325zm27-362zm10 298zm5-122zm1-81zm0-124zm7 156zm10 22zm0-69zm4-9zm-2-118zm13 178zm-2 111zm17 143zm2-20zm2-31zm0-116zm-1-674zm7 375zm4 378zm15 15zm-4-88zm-5-17zm-2-159zm11-9zm-7-19zm7-31zm11-30zm-1 102zm-6 63zm13 230zm-3-338zm-1-35zm18-15zm-3 21zm-2 66zm5 151zm1 64zm4 4zm7-8zm-5-683zm19 426zm-7 209zm22-135zm8 23zm0 109zm5-64zm11-84zm0-25zm-7-38zm14 245zm19-786zm5 79zm18 744zm61-6zm13 17zm21 7zm-5-8zm9-43zm6 39zm15 6zm21-71zm-8-5zm14 39zm26 31zm29-37zm2-6zm362-170zm17-2zm73 62zm16 3zm3 12zm17 17zm13 27zm-5 20zm11-14zm19 6zm-2 10zm12-21z"/>
<path stroke="#cde11d" d="M1898 982zm2 51zm14-21zm12-105zm11 101zm75 27zm-1-144zm-3-256zm6-49zm11 8zm-7 411zm15-414zm13 279zm-3 38zm24-220zm6 409zm14-69zm0-297zm11 217zm-10 42zm44-67zm19-115zm14 88zm28 53zm0 98zm3-107zm7-59zm-7-68zm3-465zm14 28zm-3 476zm29-57zm2 191zm5-12zm5-160zm7 242zm12-223zm22 0zm5-135zm19 231zm3-198zm14-483zm-2 2zm17 506zm-3-508zm17-30zm8 4zm10-30zm17 645zm-5-46zm6-38zm13-569zm-2 516zm5 126zm-2-4zm2-37zm2-44zm1-24zm18-504zm-9 462zm9 8zm-10 56zm4 21zm4 24zm-7 51zm7 0zm8 1zm-3-3zm5-6zm-4-10zm-3-1zm6-15zm4-39zm1-9zm-8-22zm7-42zm-6-174zm15-25zm1 6zm-1 202zm-6 39zm9 18zm1 27zm-7 51zm1 0zm6 27zm-8 18zm17-19zm2-9zm-6-5zm7-1zm-11-11zm6-46zm3-20zm2 0zm-10-10zm3-26zm-3-16zm4 0zm-4-19zm8-27zm2-129zm-9-26zm17 34zm3 26zm0 4zm-10 59zm8 12zm-8 46zm9 13zm-2 42zm3 0zm-2 2zm-4 12zm2 17zm2 40zm-3 7zm-1 11zm9-55zm2-72zm0-82zm5-56zm-7-4zm6-8zm-3-6zm7-28zm-11-1zm10-17zm-7-22zm20 60zm-8 7zm-1 25zm7 51zm-6 6zm-2 2zm9 12zm-10 4zm4 3zm-1 30zm3 8zm-5 1zm3 4zm-1 18zm-3 29zm10 2zm-2 21zm-6 1zm-2 20zm11 27zm-3 36zm-1 2zm6 19zm8-14zm-1-53zm1-16zm-5-11zm-3-71zm0-10zm0-12zm-1-19zm1-18zm6-5zm-6-5zm1-10zm6-24zm-1-65zm-1-3zm13 69zm2 16zm-4 11zm-4 31zm5 20zm-2 4zm3 5zm1 62zm-7 24zm4 59zm-1 3zm9 7zm0-3zm10-36zm0-28zm-11-6zm0-22zm9-117zm-7-1zm4-2zm-6-3zm7-3zm7 4zm-2 23zm3 29zm4 1zm-3 61zm-3 7zm7 31zm-5 16zm-2 19zm15 66zm3-28zm1-6zm2-41zm-5-11zm4-5zm-3-21zm-4-15zm4-114zm5-12zm-9-404zm19 328zm-3 68zm-1 15zm1 1zm5 91zm-3 51zm1 29zm-3 18zm-5 27zm6 23zm6-33zm8-32zm2-5zm-10-3zm8-7zm-2-2zm-6-16zm6-52zm-2-45zm-3-25zm2-24zm8 53zm11 19zm-5 5zm-1 0zm-2 66zm6 6zm-6 19zm0 2zm1 3zm16-27zm2-22zm1-19zm-2-5zm-9-23zm4-12zm3-25zm0 0zm-5-1zm4-13zm2-12zm-6-7zm17 27zm0 9zm2 28zm0 13zm-6 88zm5 16zm0 5zm1 30zm9-20zm3-8zm-2-12zm-5-6zm6 0zm-3-2zm-3-19zm-2-16zm11-4zm-8-48zm-2-3zm-1-1zm11-6zm-11-8zm5-47zm4-4zm-2-2zm13 32zm-4 6zm6 22zm-4 5zm-1 7zm2 49zm2 21zm-7 40zm21-16zm-4-4zm3-3zm-4-7zm-4-7zm-1-11zm1-3zm2-49zm6-8zm-5-21zm5-5zm1-17zm3 39zm7 1zm-3 18zm1 5zm3 25zm-8 3zm9 17zm-7 14z"/>
<path stroke="#481c6e" d="M1905 986zm15 90zm15 18zm4-224zm6 220zm16-145zm4-47zm19 134zm34-99zm4 98zm5 95zm12-84zm-5-13zm-2-142zm8 179zm27-119zm18-28zm-3-102zm15-252zm9 377zm8-243zm0 75zm6 125zm-5 23zm15 24zm14-193zm7 158zm9-108zm2 66zm20 152zm-3-26zm10-197zm3 4zm0 151zm9-81zm6-93zm-7-491zm9-38zm1 464zm21 290zm-5-297zm16 219zm6-113zm4-46zm32-442zm6 328zm-7 24zm9 60zm12 221zm45-118zm-2-166zm11 109zm24 223zm26-10zm24 3zm-3 9zm15-4zm-8-7zm8-20zm-6-767zm8-3zm6 4zm0 6zm-3 4zm5 730zm3 28zm-8 23zm16-1zm4-1zm-4-3zm16-55zm-9 6zm6 6zm-5 6zm10 1zm-6 8zm-5 6zm7 40zm15-24zm1-12zm9-23zm3 24zm-8 24zm11 13zm7-3zm-7-12zm4-26zm-2-11zm0-2zm1-29zm8 3zm1 14zm7 1zm-2 6zm-3 7zm10 50zm4 0zm-5-22zm9-23zm-1-4zm-3-4zm-5-4zm7 0zm-8-14zm6-5zm14 4zm-8 35zm7 0zm4 10zm-4 30zm14 3zm0-7zm0-19zm1-7zm-3-11zm-1-25zm-5-9zm15-383zm7 4zm-3 385zm-4 8zm-3 1zm2 19zm5 3zm2 27zm4-20zm0-7zm2-5zm-1-415zm355 228zm4-1zm11 1zm20 1zm-2-5zm23 14zm38 56zm2 59zm2-65zm16 8zm2 1zm2 11zm3 8zm-4 40zm14-28zm3 17zm1 1zm1 0zm-2 3zm11 3zm-7 13zm-2 7zm11-13zm18-18zm-7 16zm12-6zm14 5zm7 2zm2 4zm4 4z"/>
<path stroke="#238a8d" d="M1861 1069zm19-66zm-7 5zm5 2zm2 10zm-3 1zm0 1zm4 8zm-4 13zm4 18zm14 3zm-6 0zm-4-21zm-1-14zm1-37zm4-11zm12-16zm-1 18zm3 13zm2 10zm0 4zm-7 6zm7 4zm-2 10zm-6 25zm18 22zm-3-28zm6-17zm-10-6zm9-1zm2-33zm-3-38zm-3-13zm17-5zm-3 6zm-6 28zm1 26zm-2 26zm10 0zm-1 0zm-9 2zm5 13zm2 33zm0 44zm-6 1zm22-5zm-2-42zm-2-3zm-3-31zm2-26zm2-57zm-7-31zm4-1zm-4-15zm5-12zm0-15zm16-10zm0 17zm-6 3zm6 10zm-8 16zm5 8zm0 20zm0 4zm-7 17zm10 10zm0 8zm1 7zm-9 32zm2 34zm0 5zm5 32zm-5 19zm-1 0zm10 1zm6-5zm-6-7zm9-4zm-4-28zm-6-3zm3-42zm-1-24zm6-3zm0-16zm-3-2zm-4-8zm8-39zm2-36zm-7-2zm6-4zm-9-8zm0-30zm21-33zm0 9zm-6 13zm3 26zm-4 20zm2 4zm0 24zm5 17zm-6 61zm5 29zm-1 15zm2 60zm-5 12zm14-35zm-5-96zm-1-3zm7-71zm0-47zm1-3zm-6-33zm3-12zm7-9zm1 6zm8 0zm0 1zm-5 11zm1 11zm-4 22zm8 52zm-8 41zm5 8zm2 2zm-3 37zm4 7zm-8 2zm3 4zm-1 51zm-4 3zm6 3zm-3 32zm2 3zm-2 20zm2 9zm9-5zm7-16zm2-46zm-8-8zm6-11zm-5-3zm0-23zm-2-11zm-1-72zm7 0zm0-6zm2-1zm-4-30zm2-7zm3-15zm-2-10zm0-7zm-1-15zm3-12zm-11-17zm6-32zm5-25zm1 51zm0 1zm10 3zm-2 35zm-6 16zm-1 12zm0 30zm5 5zm1 30zm-7 63zm3 33zm2 5zm2 8zm-4 40zm3 13zm-3 37zm3 2zm-5 2zm22-12zm-11-1zm0-22zm3-36zm-3-4zm8-20zm2-17zm-8-6zm3-60zm3-33zm2-37zm-10-25zm11-52zm-5-25zm5-2zm-5-10zm2-16zm0-12zm14-48zm-8 92zm5 16zm-3 25zm-4 3zm2 8zm0 53zm5 2zm2 27zm-9 45zm0 20zm7 10zm4 2zm-10 1zm3 9zm-4 15zm3 16zm6 7zm-7 29zm-2 26zm0 2zm5 7zm-1 3zm-4 4zm6 6zm4 3zm2-36zm2-56zm5-27zm3-3zm-4-23zm3-56zm-5-2zm5-4zm-2-1zm-1-1zm1-22zm-4-2zm8-25zm-6-8zm4-13zm-4-30zm3-44zm-2-17zm-4-3zm2-3zm4-2zm1-2zm-8-11zm7-18zm2-2zm-10-5zm1-11zm19-18zm-1 3zm3 11zm-5 17zm0 14zm4 28zm0 10zm-5 8zm3 22zm-7 11zm11 17zm-1 3zm-2 29zm-1 49zm1 71zm-5 6zm-1 3zm7 24zm-1 30zm-3 2zm2 13zm4 34zm-2 5zm0 4zm-4 9zm-4 17zm16-2zm-1-35zm-3-15zm8-17zm-2-10zm-4-2zm6-102zm-1-15zm-5-12zm6-3zm0-31zm-6-29zm1-7zm3-19zm-6-17zm0-1zm2-6zm7-22zm-7-19zm-1-7zm2-8zm14 54zm0 43zm-5 22zm8 24zm-6 66zm0 4zm2 9zm6 15zm0 1zm-10 5zm4 34zm5 1zm-10 15zm4 2zm5 33zm0 4zm-9 4zm10 14zm-5 5zm11 11zm3-47zm-3-72zm7-45zm-3 0zm-4-6zm-4-7zm5-31zm5-7zm-8-3zm0-25zm3-20zm-2-55zm-2-19zm4-46zm-3-31zm3-9zm4-15zm3-20zm4 49zm4 72zm-8 40zm1 18zm7 20zm-4 17zm5 13zm1 17zm-7 7zm5 53zm-2 23zm-1 15zm1 3zm5 21zm0 9zm-6 20zm-2 8zm7 40zm-5 10zm7-3zm8-10zm-6-5zm8-7zm0-16zm-6-8zm3-24zm-7-30zm11-20zm-9-10zm-2-13zm11-14zm-4-5zm-5-6zm6-2zm-2-27zm0-9zm0-7zm0-1zm3-12zm-9-62zm10-26zm-3-14zm-2-1zm-1-4zm-1-15zm7-18zm1-6zm-1-14zm-4-1zm-4-42zm19-42zm-8 47zm4 20zm3 16zm-1 19zm-1 15zm-1 2zm5 10zm-8 9zm2 9zm6 33zm-4 59zm-2 19zm1 23zm-1 6zm4 48zm-7 44zm5 26zm-2 39zm0 3zm14 21zm-5-20zm9-25zm0-43zm-4-112zm0-13zm5-1zm-11-17zm0-58zm11-21zm0-9zm-2-2zm-4-31zm-5-8zm6-15zm1-9zm-3-15zm-3-5zm7-8zm-2-5zm0-35zm12 31zm3 9zm2 7zm-6 15zm-4 51zm2 47zm4 2zm-4 34zm7 10zm-10 24zm4 0zm5 8zm-9 25zm10 28zm-8 31zm6 15zm1 5zm0 106zm-8 1zm4 0zm11-13zm2-19zm3-30zm-3-5zm3-37zm-9-7zm0-17zm2-5zm5-14zm3-55zm0-46zm-1-16zm2-60zm-10-56zm0-6zm9-5zm1-13zm-9-26zm4-21zm-3-13zm0-1zm10-8zm4 4zm1 30zm4 20zm-2 26zm-3 47zm-5 42zm3 31zm2 4zm6 1zm-5 21zm-1 6zm-2 4zm1 4zm2 1zm-2 59zm2 2zm3 17zm-7 15zm-2 8zm10 64zm-8 13zm4 20zm-5 23zm10 3zm-9 17zm21-18zm-7-14zm3-2zm3-9zm-9-14zm1-6zm8-14zm-5-21zm0-14zm4-6zm-6-7zm8-9zm-7-42zm4-93zm-7-14zm8-46zm-9-21zm2-31zm1-6zm7-12zm-9-40zm7-32zm-2-14zm5-19zm6 21zm0 2zm-4 57zm9 10zm-1 20zm-3 2zm-6 1zm5 36zm-2 15zm1 28zm2 3zm0 23zm3 25zm-2 45zm-7 15zm2 55zm-1 46zm-1 24zm10 1zm-10 39zm1 24zm20-9zm-1-34zm0-1zm1-1zm-6-38zm3-7zm5-11zm-1-42zm-5-41zm2-31zm3-2zm1 0zm-2-24zm0-72zm-1-14zm-5-45zm2-26zm-5-3zm4-73zm-1-12zm8-2zm5-4zm1 2zm0 3zm2 20zm-2 0zm3 6zm-1 20zm1 15zm-6 9zm8 20zm-2 43zm-5 9zm4 17zm1 18zm-1 28zm-4 39zm6 30zm-2 34zm-1 17zm-3 14zm3 10zm-1 36zm-4 13zm2 29zm12 32zm4 0zm-1-4zm1-4zm-3-8zm-4-9zm7-46zm1-4zm2-39zm-5-29zm-4-38zm0-21zm5 0zm-2-43zm5-48zm1-10zm1-14zm-8-26zm0-9zm4-4zm0-10zm0-71zm11-13zm5 31zm-5 24zm-6 0zm6 4zm-3 0zm1 21zm-4 24zm9 6zm-2 57zm-2 50zm3 25zm-3 19zm-2 18zm3 3zm4 38zm0 23zm0 27zm-8 8zm2 7zm2 14zm-6 8zm11 32zm2-21zm3-3zm5-18zm-2-48zm-4-9zm0-8zm7-15zm-6-16zm4-32zm2-11zm-2-12zm-7-14zm2-31zm-2-39zm0-11zm2-15zm1-16zm-2-46zm8-4zm-7-47zm0-3zm-2-9zm8-19zm-4-6zm8 22zm3 6zm0 14zm1 7zm0 13zm-4 6zm7 14zm-1 69zm1 24zm-1 10zm-7 56zm5 6zm-4 4zm1 3zm7 14zm-8 16zm10 15zm-11 21zm9 51zm-3 31zm3 29zm6 15zm-1-31zm2-32zm1-4zm0-17zm-4-6zm9-25zm-3-8zm3-34zm0-4zm0-73zm-4-47zm-3-1zm3-7zm4-9zm-10-20zm2-2zm8-21zm-4-12zm2-27zm-4-14zm7-1zm-6-5zm15-4zm0 6zm-1 2zm-6 41zm6 8zm-1 11zm2 20zm-8 0zm1 43zm10 12zm-3 21zm-2 3zm4 55zm-9 7zm10 2zm-10 4zm3 17zm-1 39zm1 3zm-2 27zm4 7zm2 8zm-4 17zm-3 26zm7 10zm14-61zm-3-32zm4-10zm-7-2zm7-97zm-1-37zm1-26zm0-24zm-2-9zm-5-6zm-2-12zm1-18zm2-2zm2-30zm-4-44zm13 34zm-3 5zm8 8zm0 19zm-3 22zm1 4zm-3 20zm5 21zm0 14zm-8 43zm6 45zm0 15zm-3 9zm2 8zm-3 21zm-2 3zm0 1zm22 6zm-11-57zm2-66zm-2-27zm5-3zm3-18zm-3-3zm-3-40zm1-3zm-3-3zm4-2zm-4-2zm5-17zm-2-15zm11 57zm4 40zm0 51zm-2 112zm-4 11zm44-199zm195 89zm80-133z"/>
<path stroke="#460a5d" d="M1999 799zm58 177zm15-66zm1 43zm4 115zm22-64zm22-155zm23-158zm10 301zm-6-144zm24-216zm29 354zm-4-198zm16-53zm2 135zm7 146zm7-238zm2-139zm8-323zm2 470zm14 76zm-9-202zm16 2zm5 280zm2 116zm2-164zm38-237zm9 234zm1-169zm12 135zm9-130zm21 36zm9 245zm12-8zm5 1zm4-7zm18 7zm9-7zm-3-297zm19-481zm-6 773zm17 28zm2-9zm0-3zm-5-5zm-4-23zm6-759zm-1-1zm3-3zm-2-2zm4 6zm1 3zm8 740zm-8 33zm3 5zm7 22zm9-7zm1-16zm-7-27zm18 19zm-8 14zm7 5zm14-1zm-5-3zm5-5zm0-4zm-2-5zm1-3zm-6-14zm12-35zm0 12zm8 31zm-6 6zm6 12zm0 6zm-5 12zm10-9zm-3 0zm6-10zm5-26zm-11-9zm4-6zm5-8zm-4-6zm-5-2zm7-371zm9 369zm2 1zm-5 7zm4 24zm2 11zm8 31zm3-43zm1 0zm2-4zm-5-3zm3-8zm0-19zm5 13zm2 23zm8 23zm2 23zm8-10zm-1-41zm2-20zm1-9zm13-371zm-10 407zm2 5zm5 13zm7 10zm7-20zm-6-411zm-2-1zm12 405zm325-185zm16-5zm-6 2zm5 1zm-3 5zm42 3zm6-13zm1 5zm-3 5zm1 0zm7 4zm3-3zm4-1zm-2-4zm-2-5zm49 68zm14 2zm6 28zm-6 40zm19-18zm-2-24zm-4 0zm15 23zm4 24zm5-11zm16 7zm-2 4zm-1 8zm9-7zm3-6zm14-3z"/>
<path stroke="#6ccd5a" d="M1999 485zm30 12zm57-78zm-4-17zm4-60zm4 74zm0 32zm0 256zm-1 277zm13-85zm3-498zm-2-30zm-1-76zm16 129zm-3 12zm14-22zm5-96zm0-51zm-4-34zm15-33zm-8 5zm5 40zm-5 18zm4 38zm-2 23zm5 89zm9-66zm1-64zm-3-37zm14-22zm2 12zm4 38zm-3 57zm-4 26zm7 73zm-4 19zm-1 0zm9-53zm-3-58zm5-9zm1-15zm-2-28zm11 8zm6 6zm-1 2zm1 6zm1 36zm-5 6zm3 23zm0 32zm-7 1zm7 47zm8-74zm-4-27zm5-29zm6-64zm-4-22zm-6-37zm-1-15zm19 106zm-1 20zm-5 3zm1 2zm20-26zm-5-84zm17 0zm-6 42zm1 10zm1 35zm1 6zm1 56zm11-71zm-4-34zm8-54zm-7-9zm15 49zm4 3zm-5 30zm15 702zm0-667zm-5-127zm2-27zm10 29zm0 101zm4 15zm-8 9zm4 5zm-3 16zm32-16zm6 554zm26-602zm25 488zm10 18zm17 9zm3-70zm10 21zm-4 25zm4 12zm-4 83zm13 59zm2-41zm-8-168zm1-496zm15 485zm2 201zm0 30zm12-2zm3-16zm-2-4zm10-191zm-6 97zm6 76zm-5 12zm7 10zm-2 0zm12-21zm1-140zm7 84zm16 107zm17-259zm-9 261zm18-210zm4 146zm16 7zm6-253zm17 285zm12-47zm19 27zm-3-50zm1-6zm-7-181zm40 53zm4 12zm-2 115zm14-10zm-3-40zm23 7z"/>
<path stroke="#38598c" d="M1898 1001zm7 57zm15-54zm2 44zm12 50zm4-10zm-1-65zm6-106zm1 62zm4 14zm22-123zm6 4zm0 146zm13-14zm-7-155zm11 37zm0 56zm10 75zm14-92zm17 91zm-5-41zm16 123zm20-824zm3 803zm10 9zm-2-170zm7-48zm1 0zm3-33zm-4-8zm2-119zm1-33zm11-344zm1 74zm-1 468zm-8 22zm7 179zm0 21zm9-123zm10-270zm6 89zm-2 44zm-3 127zm2 21zm3 72zm13-63zm-10-35zm2-39zm7-110zm13-85zm-9 73zm2 23zm16 222zm-3-22zm0-62zm5-15zm0-136zm11-42zm0 1zm-7 83zm7 21zm0 200zm5-85zm5-213zm3-73zm11 244zm-5 55zm0 42zm19 53zm-8-45zm2-179zm0-124zm17-24zm-2 108zm4 189zm-7 78zm19-74zm-9-272zm18-129zm-5 120zm0 13zm1 148zm1 49zm10-125zm6-606zm13 541zm-3 84zm-7 27zm18 135zm-6-288zm18-24zm1 131zm-3 42zm5 104zm3-8zm8-99zm0-193zm8-21zm0 234zm6 129zm11-241zm12-99zm8 263zm1-144zm12-88zm-3 0zm3 121zm1 32zm-7 23zm41-77zm85 193zm177-259zm441 174z"/>
<path stroke="#38b977" d="M1904 968zm12 42zm41 90zm0-200zm3-66zm18 160zm7-49zm18-454zm1 326zm4-325zm9-1zm0 7zm0 300zm-1 166zm4 47zm16-55zm-5-455zm27-216zm-3-9zm16 183zm-3 354zm10-18zm0-378zm4-35zm1-26zm11-48zm4 14zm-4 14zm-4 65zm-1 4zm0 4zm6 11zm-2 14zm1 313zm2 126zm14-460zm-9-6zm5-2zm-4-36zm2-17zm-1-29zm8-14zm-10-42zm20 33zm-3 11zm-2 18zm0 30zm5 24zm-6 50zm-3 7zm4 1zm0 634zm15-25zm-5-70zm1-167zm4-371zm-3-17zm7-6zm-5-22zm3-2zm2-21zm-3-19zm1-1zm1-36zm-10-9zm2-13zm-1-2zm4-3zm3-19zm2-47zm1-3zm10-29zm1 5zm-7 17zm8 7zm-4 23zm2 0zm1 8zm0 7zm-7 1zm-2 32zm5 6zm0 18zm1 3zm-6 13zm0 23zm9 6zm-6 13zm7 31zm-5 3zm-1 14zm5 15zm-5 12zm-5 1zm19 16zm0-56zm-1-11zm0-13zm3-28zm-9-18zm4-41zm7-12zm-10-29zm1-26zm3-14zm-5-26zm7-20zm10 45zm2 3zm0 54zm2 32zm2 9zm-7 4zm6 7zm-7 1zm7 4zm-9 4zm6 32zm2 70zm-2 1zm0 0zm-7 9zm2 658zm15-648zm5-43zm-6-16zm-4-19zm7-3zm-6-5zm-1-16zm2-25zm1-3zm-1-14zm7-9zm2-11zm-4-52zm0-8zm9-35zm2 7zm4 42zm-9 4zm3 8zm0 9zm4 44zm-2 19zm-4 9zm3 62zm1 25zm1 3zm10 499zm-3-104zm9-390zm-8-11zm6-5zm-3-68zm5-28zm-11-9zm8-3zm3-1zm-6-3zm2-2zm0-28zm-4-1zm7-2zm5-66zm7 7zm-5 23zm-4 17zm4 24zm-5 4zm7 5zm3 18zm-2 31zm-2 31zm-4 17zm-1 6zm8 5zm-6 19zm7 2zm-4 19zm-1 2zm1 309zm6-371zm8 0zm-4-17zm2-8zm2-2zm-2-17zm2-19zm1-11zm0-7zm-3-9zm5-5zm-1-2zm-2-8zm-6-15zm7-21zm-7-1zm1-23zm7-6zm-5-6zm10-28zm0 6zm4 28zm2 4zm2 12zm0 26zm-10 30zm1 5zm8 3zm-4 18zm-4 9zm8 14zm-10 7zm1 46zm0 6zm3 1zm9 660zm10-337zm-10-350zm5-70zm-6-15zm1-9zm5-24zm-1-5zm-1-2zm2-25zm2-35zm3-1zm0-4zm2 12zm4 18zm0 3zm6 80zm9 573zm-5-141zm-3-432zm5-6zm1-20zm2-24zm2-60zm-9-18zm20 23zm1 111zm-4 761zm9-757zm3-133zm-4-13zm3-7zm9 12zm2 86zm6 64zm-9 4zm10 20zm9 626zm-1-62zm-5-573zm21 448zm12-30zm-1-506zm6-10zm64 703zm6-714zm6 593zm45 138zm37-192zm73 141z"/>
<path stroke="#3e4a89" d="M1928 1063zm16-28zm7 27zm7 4zm18-76zm-3 118zm17-29zm13-174zm-1 214zm13-354zm7 38zm-5 72zm-1 262zm18-56zm0-5zm-1-29zm17-307zm18 124zm14 263zm-5-64zm9-97zm10-9zm7 84zm2-297zm0-50zm18 38zm-8 59zm10 194zm10-81zm-1-169zm13-502zm-2 660zm-8 77zm12-145zm9-106zm7 165zm4 138zm5 25zm11-397zm1 36zm7 184zm8 101zm-1-110zm14-230zm4 376zm11 9zm-4-5zm4-34zm3-357zm3 232zm-2 28zm2 109zm1 87zm-3 16zm18-356zm15 70zm-9 188zm2 74zm21-388zm0 206zm3 75zm11 7zm24-69zm9-83zm-8-46zm-1-11zm0-7zm-2-25zm20 103zm-1 79zm24-202zm1 97zm174 176z"/>
<path stroke="#1fa287" d="M1894 1029zm11-29zm-5 22zm6 1zm-2 11zm12 61zm-1-51zm-5-108zm14-42zm13 106zm5-35zm-6-43zm15-54zm1 34zm-2 180zm14 20zm-1-6zm-6-96zm-1-129zm14 7zm4 43zm-2 19zm7 78zm-7 55zm14 7zm-6-40zm8-92zm9-117zm3 149zm-3 31zm-2 20zm0 61zm10-5zm-1-49zm10-102zm-6-170zm10-273zm6 291zm-1 67zm-5 50zm7 12zm1 30zm-7 81zm-1 13zm4 88zm10-28zm1-231zm-3-93zm11 44zm0 189zm4 14zm3 69zm11-97zm-2-232zm2-14zm16-17zm-10 113zm7 6zm-2 119zm3 87zm14 33zm-7-105zm1-3zm-4-2zm5-29zm4-9zm-3-26zm3-77zm-7-28zm8-1zm-10-68zm0-37zm22-15zm0 19zm-4 26zm9 108zm15-180zm-5 57zm1 3zm0 87zm1 3zm-4 22zm9 177zm-3 77zm14 8zm2-275zm1-31zm-2-28zm-8-76zm8-38zm11-11zm-8 270zm11 155zm-4 36zm15-261zm1-24zm-5-81zm2-46zm3-327zm11-124zm-1 130zm-2 420zm0 149zm2 18zm-9 41zm9 50zm7 4zm-2-67zm8-38zm-8-184zm0-55zm1-74zm1-189zm1-228zm17 475zm-5 32zm2 64zm11 307zm-6-185zm8-61zm3-25zm-10-54zm3-2zm0-1zm-3-1zm7-41zm1-53zm-8-265zm22 332zm-7 87zm1 204zm15 52zm2-3zm0-12zm-10-12zm0-16zm3-58zm8-136zm0-7zm-1-71zm-2-64zm14-453zm-4 50zm-1 359zm-1 42zm-4 19zm10 8zm0 61zm-5 8zm4 18zm-6 42zm8 28zm-3 70zm-4 40zm15-72zm-3-135zm-1-99zm15-420zm3 25zm-9 338zm9 69zm-7 157zm2 7zm-1 52zm12 91zm1-88zm6-43zm1-23zm-4-37zm-3-24zm-1-104zm7-45zm11 87zm-9 36zm8 4zm2 10zm-2 86zm-5 40zm0 23zm-3 13zm5 79zm18-1zm-1-50zm-9-58zm3-123zm7-152zm-8-2zm11 51zm0 23zm9 45zm-1 51zm1 84zm0 41zm-3 9zm-2 71zm6-185zm6-1zm0-55zm4-10zm9-100zm-7 57zm2 92zm3 72zm3 48zm1 9zm11-19zm-6-15zm6-20zm-6-89zm6-40zm-6-37zm2-1zm102 205zm18 17zm9-5zm21 14z"/>
<path stroke="#2c728e" d="M1887 1019zm-3-24zm23-15zm-2 24zm8 85zm-1-20zm-1-50zm0-78zm8-37zm4 119zm20 65zm-7-158zm-1-7zm8-33zm5 14zm6 199zm13-79zm-8-18zm1-52zm0-33zm17-69zm-6 83zm2 179zm15-27zm-7-66zm8-132zm13-116zm-3 40zm-7 38zm0 174zm2 111zm18-371zm10 85zm-3 58zm-1 135zm3 7zm18-6zm-1-15zm-2-50zm-6-81zm2-21zm3-21zm3-30zm-4-33zm4-14zm11-15zm-8 22zm7 13zm3 0zm-8 30zm4 11zm-6 43zm2 82zm-3 65zm1 77zm6 12zm6-128zm9-68zm-2-24zm-8-59zm4-53zm11-71zm4 38zm4 321zm0 12zm9-27zm1-41zm-7-63zm0-53zm4-46zm-5-40zm2-13zm20-97zm-3 68zm-3 52zm-1 61zm-3 46zm1 12zm9 49zm12 87zm0-88zm-7-32zm2-24zm4-16zm-1-16zm2-6zm-11-43zm11-26zm-9-23zm8-83zm-3-47zm10 23zm1 69zm4 46zm-2 11zm2 104zm2 165zm4-45zm7-152zm-8-104zm-1-54zm8-49zm4-11zm5 197zm-5 74zm9 17zm-10 62zm7 17zm0 54zm6-9zm2-18zm2-397zm15-27zm-5 169zm-4 35zm1 25zm6 98zm-5 79zm0 22zm21-38zm-8-9zm8 0zm-4-128zm2-7zm-5-44zm-3-24zm1-225zm15 29zm-4 105zm1 42zm3 199zm9 76zm5-21zm-6-119zm6-148zm0-8zm0-42zm14-70zm-3 3zm0 0zm3 3zm-5 82zm7 224zm-3 7zm4 36zm7-27zm-6-80zm3-51zm5-30zm-1-23zm-3-3zm-3-20zm5-36zm-3-52zm0-33zm-1-30zm15 182zm-2 11zm0 27zm-3 123zm8 20zm-5 2zm0 22zm14 51zm3-19zm-8-32zm8-28zm-4-70zm-5-26zm2-124zm6-39zm-3-11zm4-82zm4-7zm7 32zm2 39zm-1 106zm-9 156zm4 79zm17 1zm2-114zm-5-76zm-2-26zm2-65zm-6-126zm11-2zm6-20zm6 35zm-9 42zm6 35zm-1 70zm14 128zm-9-105zm16 75zm3 18zm0 60zm14-77zm2-69zm-11-60zm0-68zm22 28zm-7 36zm7 80zm-8 86zm9 3zm-11 2zm5 4zm12-36zm14-204zm-7 3zm1 8zm5 65z"/>
<path stroke="#50c46a" d="M1931 1096zm19-148zm67-461zm0 363zm14-356zm-2-4zm16 619zm28-26zm3-625zm8-53zm-5-15zm0-18zm2-3zm4-1zm3-88zm3 63zm2 14zm-5 31zm5 10zm4 4zm-1 2zm-7 3zm4 9zm-4 12zm5 1zm0 14zm3 7zm-7 0zm8 2zm7 5zm3-38zm-7-20zm7-71zm-8-19zm9-24zm12-68zm2 90zm-2 0zm0 6zm1 29zm-7 9zm7 30zm0 3zm-3 5zm-6 53zm2 3zm10 575zm10-583zm-6-2zm3-3zm2-6zm-9-22zm6-13zm-2-9zm-2-31zm-3-16zm1-40zm3-23zm2-9zm5-18zm-5-1zm11-28zm3 8zm2 21zm-3 9zm-5 1zm9 16zm-9 16zm0 13zm5 13zm-2 9zm-4 0zm3 13zm0 16zm7 36zm-4 12zm1 8zm2 21zm-10 2zm16 30zm-1-12zm8-15zm-5-10zm1-24zm3-28zm-3-17zm-4-24zm4-7zm0-5zm0-42zm-1-77zm1-20zm5 58zm6 15zm-4 6zm7 13zm1 30zm0 7zm-4 3zm5 18zm-8 2zm-3 20zm10 11zm-5 22zm2 30zm4 2zm0 24zm-7 2zm6 13zm-5 327zm8-345zm-1-7zm8-5zm-5-55zm2-1zm2-2zm2-14zm-3-77zm-1-12zm-3-27zm8-12zm-6-16zm0 0zm-3-31zm13 57zm8 12zm-5 13zm3 41zm-4 3zm4 5zm-3 29zm3 12zm2 11zm-1 77zm-9 8zm14 486zm9-492zm-11-32zm6-2zm4-1zm-8-2zm5-56zm-4-2zm2-8zm4-21zm-2-25zm2-10zm0-21zm-1-16zm3 0zm-2-4zm-6-11zm3-27zm-5 0zm14-4zm1 9zm-4 1zm9 1zm1 2zm-6 24zm-3 6zm10 22zm0 31zm-7 38zm6 477zm2-145zm1-249zm5-57zm-2-4zm1 0zm-4-1zm7-1zm1-20zm-3-10zm-6-6zm7-22zm-3 0zm-2-26zm5-1zm-2-21zm4-7zm-4-10zm-5-21zm7-21zm-1-3zm15 10zm-8 32zm4 4zm-3 14zm-2 19zm2 18zm-2 2zm1 15zm4 23zm-5 39zm1 35zm8 656zm5-703zm6-6zm-4-23zm1-2zm6-56zm-9-10zm9-53zm-4-25zm15-25zm-1 33zm-4 13zm-3 28zm1 20zm7 17zm-1 14zm1 41zm10-26zm2-3zm-8-25zm-2-62zm16-39zm4 19zm3 5zm-7 79zm-2 26zm-2 7zm22 29zm-2-20zm-3-39zm-5-126zm20 185zm6 482zm10-542zm1 79zm-1 416zm28-537zm11-16zm21 509zm43-520zm-3 505zm4 47zm-1 172zm-1 11zm7-66zm5-19zm-2-641zm16 309zm-6 352zm2 23zm7 40zm10-124zm4-255zm-1 134zm5 28zm12-15zm-4-15zm18 253zm16-188zm-7-75zm1-32zm29 180zm-7-94zm7-81zm11 12zm21 127zm13 100zm3-253zm5 30zm-3 162zm0 77zm14-198zm24 82zm10-88zm11 17zm6 25zm9 54z"/>
<path stroke="#28ae80" d="M1883 975zm43-18zm-4 6zm-1 146zm20-99zm10-11zm8 89zm9-54zm25-104zm3 15zm1 115zm13 41zm4-227zm-9-85zm18-290zm11 418zm0-56zm11 160zm14 78zm-4-62zm5-137zm-1-95zm8 51zm5 2zm0 185zm8-183zm3-91zm3-10zm0-325zm0-103zm-6-38zm17 17zm-6 80zm-1 301zm-1 244zm11 178zm6-100zm-5-96zm3-143zm5-40zm-3-285zm5-12zm-2-30zm-2-6zm-5-73zm16-69zm-5 155zm10 346zm-8 99zm8 48zm5-151zm-4-307zm7-123zm0-22zm9-17zm6 58zm-5 68zm-4 30zm5 557zm15-131zm-6-145zm5-79zm-3-384zm5-37zm2-41zm10 50zm-9 14zm6 79zm-1 17zm-6 599zm20-73zm-3-421zm-1-30zm-4-5zm2-97zm9-24zm0-13zm6 27zm-3 13zm3 42zm-1 45zm6 639zm12-821zm4 37zm1 646zm-3 50zm6 144zm14-101zm-3-192zm2-153zm0-249zm-6-11zm8-49zm-2-27zm2-127zm11-8zm-7 146zm9 375zm-5 10zm5 72zm-1 173zm-6 77zm11 21zm4-338zm-1-314zm-5-119zm1-111zm8-14zm-4-5zm12 66zm5 776zm-9 44zm18-802zm-2-65zm11 623zm-1 188zm15-132zm2-120zm-5-83zm-1-322zm-1-1zm8-24zm1-33zm2 517zm21 36zm1-136zm16 242zm1-63zm57-665zm19 730zm16-144zm34 132zm2-53zm7 62zm1 5zm16 11zm-2-26zm31-177z"/>
<path stroke="#efe51c" d="M1952 834zm-1 218zm15-4zm-10-57zm13 94zm17-187zm11-8zm11 242zm21-7zm10-546zm1 298zm15 65zm32-16zm0-14zm1 93zm58-275zm10 220zm10 96zm33-294zm19 210zm71 37zm135-805zm4 522zm-1 81zm19-32zm1-41zm-4-37zm4-12zm7-182zm-1 180zm-3 164zm13-8zm-2-170zm4-4zm-3-5zm3-87zm-3-69zm-1-14zm12 34zm0 146zm-1 14zm2 7zm0 19zm9 86zm-9 64zm8 5zm10-37zm-8-30zm1-51zm2-18zm3-40zm5-55zm-3-20zm-1-70zm-5-15zm7-1zm10 50zm4 34zm-9 94zm-1 40zm10 106zm2 6zm10-25zm-5-148zm-4-60zm2-11zm-1-31zm2-5zm12 89zm-4 28zm-1 29zm8 29zm2 16zm-7 38zm7 22zm9-84zm4-24zm-11-82zm23 53zm-6 79zm-4 16zm9 41zm0 8zm1 19zm10-30zm0-57zm-1-17zm-4-21zm-4-49zm15 69zm6 68zm-2 12zm15-116zm-1-72zm7 100zm7 19zm-10 20zm11 21zm3-10zm5-1zm2-70zm10-7zm-1 84zm0 28zm11-18zm-4-29zm-2-40zm0-1zm8-24zm-8-48zm17 156zm-3 4zm13-28zm5-61zm5-14zm4 28zm-3 4zm8 17z"/>
<path stroke="#31668e" d="M1866 1066zm-4-26zm38 29zm9 7zm0-54zm24 41zm10-124zm-1-10zm12 124zm-5 32zm13-27zm-5-108zm13-37zm6 43zm1 9zm1 49zm5 50zm1-38zm7-118zm-3-79zm5 126zm14 10zm1-65zm16-6zm-2 43zm-5 99zm6 1zm-5 10zm6 28zm12-87zm-6-3zm21-252zm-10 56zm9 133zm-9 33zm6 3zm-3 82zm2 25zm-4 31zm20-6zm-5-192zm-1-36zm6-45zm-3-119zm9 46zm7 60zm-11 65zm6 31zm-5 15zm0 161zm15-148zm-4-56zm3-113zm10-66zm0 26zm3 11zm-2 73zm-2 40zm4 96zm-1 73zm10 39zm5-90zm-4-196zm-1-1zm11-50zm1 85zm8 51zm-3 0zm-6 180zm6 32zm9-231zm1-122zm1-14zm2-24zm15 445zm11-19zm2-151zm-8-19zm-3-80zm8-23zm-3-22zm-4-117zm13-20zm8 80zm-4 7zm1 84zm6 187zm3-1zm2-137zm2-87zm3-84zm2-47zm2 0zm3 15zm-5 77zm6 15zm1 54zm1 17zm-4 2zm-3 107zm18 126zm2-50zm-9-3zm0-73zm7-271zm6 15zm-1 156zm2 81zm3 93zm-1 16zm-5 16zm16-375zm-4-48zm0-1zm10-19zm12 48zm-2 70zm-3 145zm6 144zm10 53zm-4-144zm3-35zm-5-150zm8-70zm10-74zm-5 37zm7 136zm-10 90zm10 186zm-3 8zm11-83zm-2-325zm16 6zm-5 320zm10 3zm7-30zm-4-44zm-5-66zm10-28zm0-30zm10-80zm-3 70zm6 59zm-2 13zm-8 58zm18-273zm13 34zm-4 125zm-3 59zm-1 50zm5 71zm7-249zm10-14zm62 18zm180 89z"/>
<path stroke="#addc30" d="M1854 1027zm38 1zm27-69zm29 100zm33 77zm-1-100zm40-449zm2 1zm9-5zm9 397zm25-28zm23 46zm78-167zm1 256zm14-262zm12-624zm-7 596zm6 218zm15-171zm-10-212zm1-211zm28 588zm-1-74zm-2-554zm3-153zm7 83zm5 82zm-5 418zm44 91zm-6-151zm16-519zm0 595zm15 132zm8-275zm28 103zm17-571zm-2 2zm6 480zm4 45zm10 46zm0-35zm0-4zm-3-527zm-4-7zm14-2zm-4 589zm13 7zm0-1zm4-11zm-1-20zm-1-44zm1-10zm3 0zm-6-4zm5-15zm0-503zm-2-14zm16 523zm-8 38zm8 1zm2 67zm7 31zm-5-14zm9-12zm-7-10zm3-7zm5-2zm-7-2zm4-18zm0 0zm0-29zm8-59zm8 41zm-11 3zm6 37zm-4 22zm8 4zm-9 4zm9 12zm-8 4zm0 16zm6 1zm-6 4zm-2 4zm16 37zm0-10zm6-39zm-8-3zm-2-30zm8-2zm-4-31zm0-21zm4-11zm-7-6zm-1-9zm1-7zm1-5zm3-38zm4-174zm11 0zm-5 6zm8 170zm-7 19zm7 49zm-3 9zm-6 13zm-2 5zm5 1zm5 33zm-9 2zm9 20zm-1 4zm2 3zm0 12zm-4 24zm-7 5zm13-36zm10-62zm-9-2zm9-22zm-11-36zm4-22zm5-27zm-6-18zm2-119zm2-27zm12-4zm-2 49zm2 125zm-4 11zm1 62zm-1 2zm3 38zm-2 70zm3 5zm-7 7zm8 21zm11 45zm-3-104zm6-3zm-9-4zm4-14zm-2-10zm-2-21zm2-19zm4-42zm-2-1zm-4-5zm7-11zm0-31zm-1-23zm-4-2zm3-38zm5-85zm4-12zm2 6zm-2 8zm5 4zm-4 1zm-4 2zm2 79zm0 43zm-2 17zm0 5zm10 40zm-9 17zm2 20zm0 7zm8 1zm-3 10zm-5 40zm7 17zm1 21zm-1 0zm8 36zm5-21zm0-5zm0-4zm-6-33zm-5-8zm11-13zm-1-38zm-7-43zm-2-31zm1-7zm1-4zm8-26zm-2-20zm-9-8zm3-4zm0-73zm1-29zm10 107zm0 3zm3 34zm4 1zm-9 50zm11 24zm-4 9zm-7 24zm10 1zm-10 8zm6 7zm-1 40zm5 22zm-10 17zm7 19zm11-7zm-3-11zm3-10zm-3-22zm2-13zm-5-41zm2-34zm-2-19zm0-21zm2-1zm-1-8zm9-26zm13-52zm-2 9zm-9 41zm5 49zm-5 43zm9 53zm-9 4zm6 21zm-4 5zm6 17zm-4 12zm4 2zm15 21zm-6-39zm-4-6zm-1-34zm6-19zm3-29zm-3-15zm0-25zm0-28zm-4-2zm-1-23zm8-1zm0-13zm4-20zm6 28zm-3 7zm-3 32zm7 20zm-2 28zm3 28zm0 26zm2 5zm-5 36zm2 11zm3 41zm3-51zm1-6zm8-59zm-10-9zm9-30zm-6-3zm0-42zm-3-42zm9-2zm1-16zm-7-10zm8 15zm4 48zm7 0zm-10 24zm6 18zm-1 13zm2 27zm-3 64zm3 4zm-2 1zm-4 12zm6 8zm8-8zm2-8zm1-4zm-7-12zm6-44zm-5-19zm3-27zm1-1zm2-2zm2-3zm1-57zm-10-38zm12 18zm6 14zm-5 20zm-1 10zm5 24zm-4 7zm10 9zm-9 24zm4 6zm1 10zm-3 72zm-3 7zm20-15zm-1-103zm1-10zm1-1zm-3-4zm1-47zm-5-40zm14 49zm6 58zm-2 22zm-9 22zm14 48zm5-42zm-5-2zm1-22zm-3-2zm3-17zm7-12zm0-17zm-3-14zm-3-3zm8 4zm6 38zm-3 10zm11-40z"/>
<path stroke="#1f968b" d="M1871 1064zm-9-13zm5-43zm3-2zm-10-3zm22-40zm0 7zm-4 29zm1 8zm-3 17zm12 47zm0-30zm-4-76zm9-21zm13 23zm-4 0zm-1 8zm1 10zm-2 7zm1 47zm-1 7zm5 20zm0 14zm1 11zm11-2zm1-16zm-4-56zm2-5zm-1-8zm-2-16zm5-8zm-7-25zm0-8zm5-8zm2-13zm-8-3zm17-23zm-3 45zm-1 35zm-1 30zm0 3zm-2 44zm4 28zm14 19zm-6-12zm5-3zm-4 0zm0-35zm0-5zm4-133zm-1-13zm2-12zm3-4zm8-6zm0 134zm2 96zm14-20zm0-2zm0-85zm2-9zm-1-33zm-3-7zm-4-17zm4-21zm3-25zm-7-32zm8-18zm8-19zm-6 23zm4 3zm-4 4zm1 69zm8 42zm-9 13zm2 14zm7 21zm-9 53zm10 2zm2 66zm1-27zm8-110zm1-3zm-3-31zm-3-2zm-3-27zm9-2zm-6-50zm-2-1zm6-89zm13 25zm-8 95zm9 23zm-5 17zm-3 21zm4 40zm0 44zm0 8zm-7 19zm16 42zm2-22zm-2-3zm2-27zm-6-17zm5-5zm-1-22zm-1-9zm3-2zm5-2zm0-55zm-8-5zm0-1zm-3-17zm5-27zm-4-2zm7-40zm0 0zm-4-13zm-1-68zm20-39zm-8 8zm0 13zm7 25zm-1 18zm1 52zm-5 42zm-1 37zm3 23zm2 65zm-4 8zm-1 68zm3 1zm2 14zm12-13zm-6-14zm-3-24zm5-53zm4-29zm-8-4zm2-28zm5-33zm-1-22zm-5-100zm8-9zm-10-29zm4-19zm-1-2zm14-29zm0 21zm6 18zm-6 26zm2 5zm-2 4zm0 25zm-2 13zm3 13zm1 0zm3 17zm-10 60zm2 70zm4 58zm-5 62zm12-10zm2-12zm7-14zm-2-3zm1-24zm-3-61zm4-11zm-4-32zm1-115zm-4-21zm4-1zm-4-39zm10-47zm10 54zm-5 69zm-6 19zm10 27zm-3 34zm1 6zm-6 4zm1 111zm-2 19zm1 11zm7 31zm7 19zm5-15zm-6-78zm6-88zm-5-85zm-2-2zm-2-30zm1-45zm6-1zm-5-52zm7-3zm-8-41zm16-7zm-2 40zm5 0zm-3 10zm0 9zm3 3zm-6 1zm-2 36zm9 56zm-9 12zm0 0zm6 7zm4 39zm-9 12zm5 21zm1 9zm3 4zm-8 9zm3 20zm2 7zm-2 45zm-5 6zm6 78zm15-13zm-2-53zm1-2zm3-79zm-1-41zm-6-29zm6-9zm-10-36zm7-45zm1-12zm-2-44zm0-7zm1-7zm0-33zm7-42zm2 98zm0 10zm7 27zm-8 1zm-2 18zm6 38zm-3 18zm1 18zm-2 69zm-2 11zm0 7zm7 50zm-2 33zm0 10zm3 4zm2 15zm-9 10zm19-12zm-1-4zm-6-15zm0-16zm6-4zm-4-1zm-3-31zm9-2zm-10-6zm6-30zm-6-8zm1-44zm6-50zm-6-18zm4-6zm3-127zm-7-31zm8-13zm1-14zm6 9zm3 6zm1 36zm-3 63zm-5 36zm4 25zm2 74zm-3 10zm1 26zm0 33zm5 44zm-3 2zm5 22zm-2 12zm-3 47zm-6 1zm15-45zm7-140zm-8-29zm7-26zm-2-14zm-5-15zm1-26zm2-68zm-5-15zm4-6zm4-36zm-3-4zm-3-15zm6-4zm-3-4zm3-13zm3-10zm-5-11zm17 18zm-11 24zm4 31zm-3 49zm7 4zm-3 15zm6 4zm-9 58zm4 64zm1 11zm4 16zm-11 22zm2 7zm7 14zm-1 5zm1 50zm-8 21zm-1 6zm8 48zm-5 6zm14-9zm2-1zm-3-8zm0-8zm-4-25zm8-4zm-7-2zm3-2zm-2-4zm-1-36zm7-7zm2-2zm-10-63zm1-30zm0-70zm6-59zm-4-11zm4-52zm-3-35zm-4-12zm3-19zm10-7zm-1 31zm11 19zm0 25zm-2 125zm-6 11zm1 18zm5 16zm2 125zm-1 3zm0 26zm1 47zm10 41zm-1-20zm-4-45zm-3-29zm2-3zm3-11zm2-23zm-3-3zm-2-37zm5-5zm-5-11zm-1-2zm0-76zm4-190zm1-46zm16 25zm-10 15zm2 18zm-1 46zm1 37zm1 10zm2 26zm4 24zm-4 25zm2 19zm-4 36zm-1 1zm1 13zm3 18zm-3 14zm-3 37zm-1 23zm7 6zm2 14zm-4 35zm11 37zm1-16zm-3-6zm5-13zm-2-81zm6-8zm-2-28zm0-2zm2-60zm-1-9zm-6-34zm1-22zm0-10zm-4-35zm5-5zm1-25zm-3-12zm7-48zm-1-25zm-3-6zm3-15zm-3-1zm3-10zm-7-4zm7-2zm-10-6zm4-1zm14 0zm-6 28zm2 64zm1 47zm-1 34zm7 30zm-3 8zm4 7zm-3 56zm0 1zm-7 24zm11 17zm-10 14zm10 4zm0 32zm-3 3zm2 12zm-7 29zm16 34zm1-34zm1-24zm1-52zm-10-14zm3-21zm-3-157zm8-29zm-6-14zm1-53zm2-4zm0-4zm3-35zm6 18zm4 0zm4 22zm-8 34zm0 21zm3 53zm0 2zm-5 47zm3 14zm3 62zm-1 2zm-5 7zm8 15zm2 10zm-7 10zm6 39zm1 30zm-8 9zm-1 42zm3 19zm8-59zm5-25zm-3-75zm4-20zm0-45zm-3-109zm5-19zm-7-48zm0-18zm6-32zm7 12zm1 56zm-2 14zm9 4zm-8 22zm5 25zm-1 72zm3 72zm-7 30zm5 14zm-2 33zm17 22zm-7-2zm8-19zm-8-32zm-2-11zm0-16zm1 0zm7-10zm-7-53zm1-27zm3-3zm2-15zm-8-3zm5-23zm-4-32zm1-19zm2-19zm-1-32zm3-15zm8-330zm5 322zm2 12zm1 61zm-4 18zm5 52zm-7 29zm-4 79zm11 2zm-11 46zm5 14zm-5 2zm9 32zm-5 28zm15-25zm-1-19zm-5-58zm3-16zm-4-25zm0-46zm2-16zm-1-78zm3-18zm-2-36zm-2-46zm17 8zm6 33zm-1 15zm1 55zm-11 20zm3 16zm0 2zm4 5zm2 23zm-7 33zm6 48zm2 80zm2-47zm6-1zm-5-21zm0-63zm10-23zm-1-89zm-6-8zm3-35zm-3-37zm12 29zm6 5zm1 36zm-6 26zm0 20zm2 22zm102 140zm21 4zm10 10zm-3-17zm-2-2zm145-237z"/>
<path stroke="#2c728e" d="M1890 979zm16-18zm6 157zm6-30zm6-183zm3 38zm-2 59zm-4 30zm6 20zm8 27zm3-70zm1-16zm-6-52zm3-62zm17 40zm-2 20zm1 117zm-8 36zm15 7zm-1-3zm3-119zm0-59zm6-39zm7 49zm5 37zm-1 150zm13-7zm-8-66zm3-142zm5-17zm-5-11zm-2-68zm10 24zm4 116zm-5 134zm7 51zm11-20zm-4-28zm-3-133zm10-37zm-9-55zm-1-4zm0-34zm4-28zm19-39zm-9 105zm3 57zm-5 37zm1 18zm6 74zm2 2zm0 16zm14-134zm-4-141zm-5-60zm20 8zm-4 17zm-5 34zm7 128zm-4 159zm2 31zm10-203zm-1-142zm7-9zm-3-30zm9-8zm1 34zm-3 10zm1 63zm5 27zm0 60zm-8 2zm8 43zm-8 55zm11 68zm1 1zm6-1zm5-71zm-5-31zm-3-29zm11-62zm5 86zm0 2zm16 28zm-6-71zm-3-3zm0-4zm3-93zm-4-3zm-1-11zm3-86zm17-52zm-3 27zm0 141zm5 57zm-4 31zm16 111zm0-106zm-4-31zm3-97zm-3-10zm3-25zm1-95zm11 91zm-8 38zm10 77zm-4 10zm0 3zm4 31zm-2 18zm-6 45zm3 91zm7-170zm2-3zm1-53zm1-20zm3-20zm-1-9zm3-108zm-3-6zm1-44zm14-26zm-7 32zm1 333zm8 68zm8-183zm3-69zm6-141zm1 122zm-2 74zm7 66zm4 159zm4-138zm-7-172zm2-21zm5-14zm-5-65zm-1-41zm22 107zm0 13zm-10 97zm4 98zm2 23zm-7 44zm6 31zm10-16zm-2-67zm3-47zm2-93zm-6-58zm2-17zm-2-14zm14 19zm4 78zm-5 21zm5 170zm15 32zm-7-61zm8-27zm-2-87zm-9-42zm5-42zm-1-21zm12-141zm-4 152zm1 29zm7 77zm-3 150zm5 7zm7-85zm4-10zm-4-11zm-3-43zm4-66zm-6-106zm9-37zm-6-12zm5-30zm8 64zm3 28zm-4 18zm-3 16zm11 71zm0 65zm8-95zm2-10zm0-89zm-8-36zm13-10zm1 2zm1 43zm0 19zm-4 76zm4 1zm5 139zm12 41zm-5-36zm-1-11zm4-5zm-3-88zm-2-159zm11-38zm7 193zm2 75zm10 4zm1-79zm1-39zm-5-82zm9 44zm1 19z"/>
<path stroke="#3e4a89" d="M1882 1033zm28 4zm10-129zm8 148zm11-4zm6-129zm10 62zm14 96zm23-52zm5 57zm14 22zm-2-22zm-1-74zm-2-138zm-2-122zm30 341zm2-6zm-5-241zm14 124zm16-134zm14-93zm-11 5zm2 140zm0 212zm14-254zm-2-33zm14-441zm-3 412zm-1 103zm5 139zm18 2zm-3-15zm11-254zm0 127zm13 53zm-1-225zm6 103zm11 243zm11-362zm19 220zm4-86zm-10-111zm5-78zm25 367zm3-90zm-3-46zm2-69zm2-159zm6 415zm12-409zm16 28zm2 202zm-10 148zm17-162zm13-163zm4 75zm-9 58zm20-2zm10 88zm-1 53zm7-125zm18-166zm-3 72zm-3 6zm10 10zm0 32zm-10 173zm21-142zm-5-18zm0-97zm13 177zm6-115zm111-254zm38 458zm141-276z"/>
<path stroke="#8bd646" d="M1940 931zm4 117zm86-452zm4-13zm48-119zm1-9zm35 262zm3 177zm23-549zm-7 562zm14-535zm3-28zm6-10zm12 45zm9-34zm-6-165zm18 156zm-5 39zm15-27zm2-18zm11-126zm6 862zm4-367zm4-40zm-1-472zm7 778zm12-756zm15 575zm12-509zm4-13zm-11-9zm22-99zm-2 860zm12-682zm19 2zm11-81zm-1 8zm16-41zm15-4zm-3 632zm15-640zm-2-7zm10 516zm1 20zm-4 26zm20 56zm-2-21zm-2-17zm1-4zm3-6zm-7-54zm9-512zm-10-19zm18-4zm-7 27zm3 501zm-2 75zm2 14zm2 14zm12 46zm-3-1zm5-5zm-5 0zm7-20zm-4-61zm-5-15zm4-13zm-3-3zm2-3zm3-1zm6-35zm4 4zm0 19zm-4 53zm1 0zm4 149zm8-20zm6-2zm-5-11zm0-14zm0-40zm-2-18zm2-44zm3-308zm14 1zm-4 212zm-2 30zm1 91zm1 37zm0 15zm-2 3zm-1 15zm12 6zm2-25zm8-38zm-9-22zm-1-4zm7-53zm0-32zm-6-54zm3-157zm12 12zm7 69zm-5 193zm-1 38zm1 7zm-2 17zm3 58zm1 44zm-4 5zm17-74zm-9-20zm6-56zm-3-40zm-2-43zm0-128zm18-7zm1 54zm-6 95zm-1 63zm4 56zm15 8zm-5-70zm17-138zm-5 169zm1 42zm0 29zm7 7zm6 3zm-2-107zm1-46zm-2-38zm8-47zm3-419zm7 1zm-6 578zm9 73zm-4 3zm8 15zm8-118zm-11-77zm19-156zm4 17zm-7 178zm5 16zm-5 17zm16 124zm-7-15zm4-37zm5-29zm-6-4zm4-7zm-7-171zm14-2zm3 249zm11-22zm-1-24zm6-29zm-6-70zm6-81zm7 12zm-3 50zm8 8zm0 41zm-5 66zm3 38zm15-12zm-6-33zm5-153zm-3-22zm7 73zm7 0zm1 106zm-5 27zm14-40zm-2-27zm9-35zm14 29z"/>
<path stroke="#38b977" d="M1936 1000zm7-152zm6 18zm-4 61zm0 31zm5 139zm30-85zm19-520zm1 0zm-6 416zm7 71zm13-480zm-8-9zm10-7zm3 12zm10 1zm12 239zm1 305zm18-752zm3-13zm12 17zm-9 161zm19-42zm-5-6zm7-37zm-11-81zm15-7zm8 28zm-3 18zm-8 29zm5 14zm-3 11zm4 1zm-2 10zm-3 3zm0 17zm6 4zm-3 2zm0 24zm17 447zm-6-54zm5-38zm-7-423zm6-32zm3-41zm0-5zm-3 0zm5-32zm9 6zm-9 4zm5 9zm-2 101zm3 25zm2 17zm0 4zm0 7zm-7 505zm19-115zm-8-15zm8-106zm-5-261zm3-3zm-5-3zm7-73zm3-9zm-7-53zm4-9zm3-1zm-1-2zm-6-2zm5-14zm-1-12zm-4-4zm4-37zm6 2zm8 26zm-4 54zm-2 2zm5 20zm-1 3zm-7 28zm2 1zm-1 2zm-1 26zm5 34zm-3 11zm6 12zm-2 247zm9 346zm-3-204zm1-157zm1-214zm0-2zm1-7zm0-12zm-3-1zm9-25zm-9 0zm0-29zm4-3zm-3-14zm5-22zm-2-17zm2-17zm-4-30zm-1-24zm8-28zm-2-4zm-6-21zm-1-3zm22-20zm-3 32zm3 36zm-1 10zm-10 4zm1 6zm-1 7zm3 21zm6 14zm-6 11zm1 4zm6 2zm-4 2zm-3 12zm3 35zm-3 2zm-3 281zm7 350zm5-339zm7-15zm-6-219zm9-26zm-2-11zm-6-54zm0-17zm1-1zm2-3zm3-3zm-8-1zm1-1zm1-4zm5-38zm-3-5zm3-25zm-5-14zm5-7zm2 0zm-4-6zm-2-4zm8-30zm-8-11zm19 21zm1 30zm-4 4zm-5 14zm-1 5zm4 15zm6 8zm-10 27zm9 6zm-8 22zm1 33zm0 5zm3 16zm0 13zm-4 21zm9 352zm-5 139zm16 142zm-9-623zm-1-14zm1-1zm9-59zm-8-12zm4-15zm5-19zm-1-24zm-1-29zm2-6zm-11-1zm4-9zm2-24zm-4-14zm8-15zm6 9zm2 7zm-4 1zm0 1zm2 14zm0 36zm-4 17zm7 43zm2 8zm-7 22zm1 8zm5 4zm1 44zm0 375zm-7 170zm-1 124zm19-433zm-7-213zm7-3zm2-31zm-6-25zm2-5zm-3-44zm1-20zm1-22zm3-7zm2-18zm-5-19zm-3-8zm0-15zm1-7zm2-13zm0-1zm5-6zm11 19zm-5 4zm6 8zm-1 9zm-1 15zm0 6zm1 21zm-8 1zm4 3zm1 76zm0 39zm1 5zm-6 18zm11 614zm1-80zm9-46zm-5-583zm6-5zm-3-44zm3-13zm-8-7zm1-12zm5-12zm-9-21zm21-33zm-9 3zm7 39zm2 26zm1 6zm-1 51zm-8 0zm21 760zm-8-313zm8-418zm-5-1zm4-22zm-2-5zm-5-26zm-1-45zm7-13zm-1-19zm-1-21zm-2-14zm1-5zm11 19zm7 90zm-8 2zm-2 54zm1 20zm6 676zm4-12zm11-95zm-9-569zm-2-1zm11-70zm-11-90zm13 114zm4 19zm-3 40zm6 5zm14 449zm-6-44zm1-411zm-2-13zm1-5zm11 14zm2 460zm-1 8zm17-2zm19-588zm7-9zm30-25zm0 15zm21 608zm22 87zm88 12zm49-252zm21 197zm9-132zm17 26zm-1-7z"/>
<path stroke="#efe51c" d="M1988 1036zm19 23zm74-86zm-3-276zm28-25zm81 98zm30 28zm35-26zm5 220zm15 10zm10 56zm57-387zm10-436zm75-24zm6 557zm16-257zm-1-17zm6 13zm-3 256zm9 24zm-6 61zm12-51zm5 0zm1-22zm-1-7zm-4-75zm16-180zm-6 25zm4 18zm3 17zm0 84zm-2 1zm-3 32zm0 22zm19 150zm0-57zm-9-11zm9-58zm-3-77zm-6 0zm-1-1zm0-109zm10-37zm6 63zm6 35zm-2 22zm-4 48zm-4 1zm3 14zm-2 126zm10 28zm6-17zm-3-2zm1-7zm1-95zm6-16zm-6-23zm-4-46zm23 192zm7-58zm13-64zm1 103zm-4 23zm-1 5zm8-9zm2-43zm4-73zm3-86zm4 42zm1 125zm18 31zm-2-153zm0-8zm7-5zm0 15zm0 14zm7 24zm-5 34zm6 48zm-1 24zm-2 2zm8 15zm6-71zm9-118zm5 5zm-10 26zm4 126zm5 49zm14-14zm-2-35zm-3-11zm0-52zm-5-89zm2-16zm18 44zm-1 14zm-8 5zm8 135zm1 7zm7-58zm3-22zm2-17zm-6-19zm1-4zm3-12zm-7-17zm4-10zm10 31z"/>
<path stroke="#50c46a" d="M1883 1060zm44-157zm23 185zm46-223zm-3 107zm25-482zm-1 1zm20 368zm18-572zm18 573zm13-412zm-4-48zm4-22zm-2-4zm3-93zm-7-5zm18 58zm-3 15zm-7 52zm9 52zm-1 2zm12-1zm-7-8zm5-21zm0-1zm-6-2zm6-80zm-5-4zm4-6zm5-23zm1-3zm7-39zm-1 8zm4 4zm2 1zm-1 13zm-9 9zm0 8zm0 22zm2 4zm7 2zm0 14zm-10 33zm8 7zm-6 5zm-1 1zm2 1zm7 3zm-2 19zm-7 4zm18 465zm-6-60zm3-384zm0-49zm6-14zm-8-14zm3-6zm-2-15zm6-6zm-1-30zm-7-24zm5-1zm7-73zm3 19zm1 2zm-5 74zm6 0zm-2 8zm-4 35zm9 12zm2 32zm-7 2zm-1 40zm17 7zm-3-61zm3-4zm-8-3zm6-6zm-4-29zm0-34zm4-26zm-5-1zm-1-23zm4-4zm-4-14zm5-3zm4 0zm-9-41zm15 10zm5 5zm1 2zm-9 33zm10 6zm1 14zm-1 18zm-6 11zm1 1zm-5 9zm3 11zm1 7zm-2 11zm5 0zm-2 17zm-1 0zm7 1zm-10 8zm-1 8zm6 18zm-3 18zm2 15zm-2 21zm-3 15zm6 178zm14-185zm-3-11zm-3-19zm2-21zm2-13zm-4-50zm2-20zm7-2zm-11-48zm7-17zm-4-40zm12-9zm6 14zm-4 9zm-4 4zm9 9zm-8 1zm6 10zm3 8zm-4 2zm3 17zm-7 14zm7 26zm-5 1zm-2 14zm4 2zm-6 2zm6 9zm-3 17zm6 12zm-7 17zm1 2zm-1 11zm6 3zm-6 14zm0 4zm13 317zm-3-298zm2-60zm6 0zm-6-13zm7-36zm-9-3zm4-29zm2-4zm-4-23zm-3-9zm0-19zm8-13zm0-5zm-2-5zm-6-1zm9-2zm-8-8zm2-4zm8-6zm5 3zm-1 35zm3 13zm-3 39zm0 16zm0 31zm-3 43zm9 5zm0 3zm-9 41zm16 222zm-2-228zm1-18zm8-27zm-8-23zm4-7zm-4-43zm7-45zm-1-10zm-2-34zm-5-1zm3-38zm3-11zm5 24zm5 9zm1 4zm2 18zm-8 22zm1 11zm1 28zm1 1zm-3 10zm5 5zm2 41zm-8 12zm8 453zm-6 56zm10-535zm6-49zm3-23zm-3-16zm3-28zm0-38zm9-18zm-3 40zm4 5zm4 0zm-10 19zm-1 25zm2 8zm9 17zm-3 8zm-7 27zm18 4zm-5-38zm1-28zm0-43zm-1-4zm8-1zm-8-13zm9-8zm0-21zm-4-7zm11 6zm-2 22zm6 60zm-3 14zm0 27zm4 14zm-1 9zm11 38zm-6-28zm-3-4zm6-28zm3-3zm10-133zm76 579zm19-523zm25 488zm8 179zm0-124zm12-254zm6 385zm5-27zm26 90zm0-82zm43-13zm8-142zm16 36zm17-28zm5 47zm24-11zm3 94zm16-112zm9-68zm23 130z"/>
<path stroke="#238a8d" d="M1864 1004zm4-7zm15-33zm-2 4zm-5 12zm4 17zm-7 14zm6 3zm8 79zm6-28zm0-17zm-1-12zm1-21zm2-4zm-9-36zm6-4zm11-4zm6 141zm0-27zm3-6zm5-1zm-4-20zm1-13zm0-53zm9-99zm-3 40zm10 11zm-9 17zm2 42zm5 8zm1 46zm-7 10zm10 27zm5-50zm3-33zm-6-65zm9-3zm-9-12zm7-13zm-7-3zm9-18zm-2-10zm0-23zm12-20zm-5 35zm-4 30zm4 28zm-2 5zm3 19zm5 22zm-10 11zm0 3zm2 26zm0 5zm9 19zm-9 3zm3 6zm-5 9zm11 51zm-11 5zm2 6zm21 0zm-8-116zm-1-2zm-2-17zm10-19zm-2-17zm-7-112zm19 19zm0 18zm-3 3zm0 32zm-2 0zm6 7zm-3 14zm1 4zm-6 28zm5 9zm3 2zm-2 3zm4 30zm-3 6zm-7 20zm2 30zm5 3zm-8 35zm3 2zm15-15zm-4-72zm6-19zm1-12zm0-36zm-2-1zm-3-1zm7-5zm-10-10zm7-28zm0-83zm-3-12zm1-16zm9 16zm5 7zm3 1zm-9 14zm0 36zm3 7zm1 42zm-4 3zm2 28zm5 3zm-8 34zm9 8zm1 53zm-8 27zm4 3zm-6 10zm3 19zm-2 9zm7 0zm-6 4zm6 7zm13-11zm-2-7zm-3-24zm0-18zm4-4zm-8-14zm10-17zm-10-43zm0-5zm1-9zm3-21zm4-13zm-3-10zm-6-22zm6-5zm-1-18zm3-13zm2-21zm11-114zm-1 7zm-5 13zm-1 30zm8 36zm-3 1zm-3 36zm6 17zm-2 5zm-8 1zm11 31zm0 12zm-5 3zm-3 11zm0 6zm0 19zm5 27zm-6 10zm3 17zm3 19zm-7 23zm6 4zm-4 2zm4 3zm-2 45zm-4 15zm17-25zm-4-2zm0-3zm3-40zm1-8zm1-2zm1-7zm-6-3zm5-18zm-2-35zm0-17zm5-41zm0-48zm-3-1zm0-1zm-2-2zm-2-18zm1-38zm-4-1zm2-8zm3-24zm15-81zm3 22zm0 32zm-7 26zm-4 12zm6 0zm-1 29zm2 16zm3 33zm-10 10zm9 24zm-4 5zm2 5zm-6 48zm-1 3zm9 34zm0 61zm-7 18zm4 13zm6 9zm11-9zm-1-31zm-3-9zm-5-12zm2-32zm1-28zm-5-5zm4-21zm4-10zm-6-5zm0-55zm4-22zm5-17zm-2-9zm2-19zm-1-11zm-9-5zm3-12zm0-50zm-1 0zm-3-11zm11-19zm-1-2zm-10-6zm4-1zm2-415zm7 423zm-1 24zm0 43zm5 44zm-4 27zm3 15zm-4 8zm1 17zm0 6zm2 2zm-3 1zm3 22zm4 9zm1 0zm0 36zm-3 66zm-5 12zm11 7zm-6 18zm-5 25zm16 6zm6-2zm-10-41zm9 0zm-8-6zm4-22zm5-4zm-6-4zm0-28zm5-12zm-4-67zm5-7zm-1-16zm1-16zm-7-12zm6-19zm-5-39zm5-2zm-2-12zm4-27zm-8-3zm3-27zm4-26zm-10-1zm9-22zm7-28zm3 45zm-5 14zm1 20zm3 16zm-2 16zm3 19zm-2 13zm-4 15zm8 2zm-6 57zm3 8zm-5 17zm2 12zm-2 33zm0 4zm-1 1zm7 20zm-4 7zm7 3zm-4 14zm5 0zm-6 20zm5 1zm-2 5zm-6 30zm-2 22zm9 8zm2 5zm-5 5zm-3 15zm-2 5zm17-27zm-6-12zm0-54zm1-1zm6-60zm1-4zm-1-18zm-2-14zm5-12zm0-8zm-1-52zm-9-2zm8-19zm-2-14zm-6-16zm1-14zm1-1zm-1-1zm2-22zm4-17zm0-1zm-3-12zm3-5zm1 0zm-6-15zm9-15zm-4-17zm1-1zm-2-18zm9-3zm1 29zm4 30zm2 34zm-8 31zm3 12zm4 1zm1 5zm-5 14zm-2 36zm2 0zm3 7zm-6 5zm0 49zm6 7zm-4 8zm0 24zm-3 13zm9 29zm-9 18zm2 1zm4 18zm1 40zm-3 4zm0 10zm-5 7zm1 24zm6 0zm2 2zm13 4zm-5-20zm6-17zm-3-38zm-1-13zm-3-24zm0 0zm4-7zm-4-21zm2-9zm-4-1zm0-24zm1-26zm6-4zm-9-41zm5-76zm6-1zm-7-51zm1-20zm5-25zm1-5zm-5-5zm2-8zm-4-18zm4-1zm2-13zm6-1zm1 16zm1 20zm-5 0zm3 60zm1 10zm1 19zm3 3zm-4 71zm5 84zm-8 12zm3 9zm-2 18zm6 18zm-4 5zm0 53zm-1 41zm7 0zm-8 7zm15-78zm3-15zm-2-10zm-2-15zm4-1zm-6-14zm5-12zm-7-21zm0-139zm0-6zm-1-77zm2-11zm3-10zm-5-19zm8-25zm3-3zm-4-2zm15 5zm-7 10zm6 6zm-9 9zm1 2zm-1 25zm2 37zm2 8zm-4 5zm9 77zm-6 43zm3 20zm-4 4zm6 11zm-4 6zm1 0zm4 6zm-1 61zm-1 13zm-7 57zm2 40zm-1 24zm18-70zm2-10zm0-52zm-9-3zm3-29zm-2-62zm6-33zm2-6zm-9-6zm9-1zm-2-2zm2-14zm0-17zm-1-102zm-3 0zm6-6zm0-22zm-5-3zm-6-1zm2-2zm7-42zm-4-2zm17 7zm-10 62zm1 0zm0 4zm10 22zm0 13zm-4 12zm-4 6zm1 8zm1 2zm0 1zm0 4zm1 54zm-2 17zm-2 39zm3 47zm-2 8zm5 3zm-3 2zm2 13zm-4 21zm3 4zm-3 13zm4 4zm0 70zm-3 35zm11-12zm7-33zm-6-7zm5-15zm-3-57zm-4 0zm8-54zm-5-5zm2-14zm-7-42zm9-18zm-2-32zm4-14zm-8-1zm4-1zm3-8zm-7-16zm1-8zm3-14zm-3-13zm6-23zm-3-50zm-4-4zm8-14zm8-34zm1 7zm3 46zm-8 18zm1 14zm2 11zm1 1zm-6 14zm9 31zm-7 1zm3 6zm-2 44zm1 31zm-1 14zm3 12zm-5 6zm0 6zm3 7zm-3 13zm2 30zm1 18zm1 30zm-2 16zm2 26zm-6 8zm10 11zm0 2zm-10 8zm16 28zm0-4zm2-12zm-5-19zm3-20zm-3-31zm1-24zm0-33zm7-3zm-1-24zm0-90zm0-10zm0-9zm3-19zm-9-7zm5-10zm-1-20zm-1-1zm0-4zm-2-19zm4-43zm2-24zm3-28zm6 20zm-5 1zm1 3zm4 12zm-2 60zm1 16zm-3 17zm5 5zm-1 1zm2 56zm-6 10zm7 25zm-7 20zm-2 20zm3 8zm0 12zm-1 13zm3 40zm3 14zm-5 41zm8 0zm-4 11zm-5 25zm2 21zm8-23zm7-9zm-2-12zm-1-49zm2-22zm-1-94zm0-4zm4-7zm1-24zm-4-19zm2-4zm-1-24zm0-7zm0-1zm4-26zm-1-23zm-1-48zm0-5zm2-4zm-9-17zm6-38zm7 15zm4 24zm-4 11zm7 7zm-7 10zm0 9zm-3 2zm8 2zm1 6zm-7 37zm-2 7zm2 6zm5 16zm1 35zm-5 45zm1 4zm3 9zm4 0zm-3 6zm-8 4zm8 65zm-5 16zm8 2zm-10 14zm7 15zm-8 23zm7 15zm3 8zm-2 42zm12 9zm-2-4zm0-3zm-1-12zm2-6zm1-26zm-5-23zm0-41zm1-6zm3 0zm2-13zm-4-9zm-5-13zm6-12zm1 0zm3 0zm-5-4zm-3-1zm4-21zm-2-8zm6-22zm-9-40zm8-59zm0-51zm-6-39zm14-19zm0 7zm1 53zm-2 13zm-3 22zm2 3zm0 53zm2 3zm-2 5zm1 55zm4 3zm0 24zm-5 5zm4 7zm0 22zm-7 6zm4 5zm-1 2zm7 2zm-3 2zm2 13zm-4 46zm2 3zm-2 27zm-1 26zm5 1zm-2 6zm15-30zm-3-64zm-3-34zm-3-3zm5-11zm4-5zm-7-13zm-1-2zm-2-4zm10-5zm-5-40zm4-35zm-1-9zm-3-6zm6-25zm-1-11zm-9-45zm14-86zm1 18zm7 15zm-6 2zm5 63zm-7 16zm-3 4zm0 1zm9 25zm0 5zm2 1zm-4 47zm-4 3zm0 21zm2 29zm-1 7zm6 10zm-5 50zm2 6zm-7 26zm21-5zm-4-34zm6-44zm0-3zm-7-2zm4-2zm-5-35zm7-9zm-3-26zm3-36zm-2-58zm-1-25zm3-21zm-9-31zm4 0zm11 47zm-4 14zm1 7zm10 0zm-9 14zm7 40zm-1 7zm-3 67zm2 5zm-7 70zm3 4zm1 20zm0 23zm2 0zm-3 2zm0 7zm18-25zm-1-91zm-5-20zm5-1zm3-38zm-9-86zm2-10zm14 8zm0 10zm2 5zm0 111zm5-139zm134 253z"/>
<path stroke="#1f968b" d="M1862 1022zm10-22zm1 6zm6 9zm-6 27zm8 40zm14 2zm-9-7zm1-6zm-2-19zm5-11zm4-47zm0-10zm-1-26zm2-12zm-1-7zm1-10zm11-3zm-6 18zm-4 2zm7 56zm-6 11zm4 54zm5 4zm-8 16zm4 0zm0 1zm1 24zm10-17zm-5-30zm1-7zm-1-35zm1-1zm4-16zm-2-74zm16 10zm-7 6zm6 20zm-4 22zm7 3zm2 35zm-1 12zm-8 47zm4 0zm13-81zm4-20zm-9-27zm7-20zm2-23zm-6-3zm0-6zm3-21zm14-10zm-9 21zm1 65zm-2 8zm10 45zm-3 30zm1 49zm11-43zm4-9zm0-35zm-7-14zm0-16zm3-18zm-2-48zm-5-14zm0-38zm10-28zm13-16zm-1 7zm-3 71zm0 48zm0 39zm4 39zm-5 13zm-2 20zm4 5zm-7 9zm10 22zm-8 28zm10-10zm-1-37zm7-13zm-6-39zm3-3zm-4-23zm1-27zm9-39zm-2-1zm-5-2zm-2-11zm9-12zm-2-21zm-1-17zm-1-4zm14-56zm1 6zm0 65zm-4 9zm-2 14zm0 6zm6 14zm-3 38zm4 20zm-8 60zm5 16zm-7 0zm7 33zm4 40zm-4 5zm9-19zm-1-1zm5-58zm3-37zm-4-17zm0-20zm0-13zm-2-77zm3-2zm1-7zm-7-27zm1-6zm17-36zm-6 13zm5 6zm0 4zm-3 82zm4 3zm2 33zm-7 2zm-3 18zm3 20zm4 71zm-6 51zm18-4zm3-31zm-5-74zm-1-2zm-1-4zm3-5zm1-14zm2-4zm2-4zm-3-47zm0-18zm-7-22zm9-6zm-10-11zm3-69zm8-36zm-3-22zm12 0zm-1 17zm-2 4zm-1 11zm-2 34zm-1 35zm6 16zm1 11zm-5 22zm3 5zm-3 6zm4 6zm1 131zm0 0zm3 23zm-2 31zm10 29zm-7-20zm8-25zm-7-17zm10-39zm-4-23zm-3-6zm3-13zm3-4zm-6-1zm5-7zm-8-9zm10-8zm-8-12zm0-18zm1-19zm7-30zm0-2zm-2-2zm-7-2zm8-40zm0 0zm0-10zm-2-26zm-4-21zm2-1zm2-12zm1-7zm-2-27zm6 6zm5 16zm5 25zm-5 5zm0 16zm2 66zm-8 18zm5 44zm4 12zm-2 111zm-1 54zm-4 14zm5 21zm2 9zm5 1zm2-29zm-4-12zm3-7zm-3-23zm10-17zm0 0zm0-4zm-5-34zm-4-54zm4-16zm-4-11zm0-10zm2-11zm8-39zm-1-20zm-2-50zm0-9zm-6-39zm-2-35zm11-12zm-4-18zm1-13zm11 9zm-6 10zm5 2zm3 9zm-1 0zm-8 17zm0 18zm10 65zm-9 16zm10 17zm-8 25zm4 32zm-1 17zm-3 9zm3 58zm-4 9zm3 18zm1 19zm3 107zm4-5zm6-65zm2-112zm-6-8zm-3 0zm10-46zm-7-127zm-2-48zm-1-16zm8-17zm-7-3zm22-22zm-1 12zm1 79zm-10 14zm3 25zm-3 37zm5 10zm-1 43zm3 50zm-3 6zm-5 27zm7 31zm-3 17zm-1 21zm8 52zm-8 4zm0 9zm2 8zm15 8zm-7-29zm2-28zm-1-1zm6-11zm0-55zm-2-15zm1-3zm4-7zm-10-9zm-1-12zm1-29zm-1-25zm10-8zm-3-21zm-5-14zm7-20zm-5-9zm-3-45zm10-8zm-6-16zm0-21zm-1-21zm4-18zm0-17zm-8-3zm4-15zm12 87zm0 27zm-4 3zm10 57zm-3 7zm-1 4zm-4 15zm0 22zm9 26zm-4 40zm-6 35zm0 14zm7 22zm-2 1zm5 29zm-2 2zm-7 29zm7 8zm-2 14zm7 0zm6-10zm-4-9zm-4-15zm1-9zm2-22zm8-77zm-5-16zm1-1zm-5-2zm2-13zm4 0zm-5-40zm5-51zm-1-12zm-2-4zm0-3zm0-4zm5-35zm-1-18zm-8-5zm9-34zm-6-25zm-2-3zm9-26zm-10-23zm17-12zm-4 15zm2 45zm7 52zm-2 15zm-4 12zm-1 34zm4 11zm-6 33zm2 10zm6 15zm-3 35zm1 15zm1 4zm-8 7zm4 1zm5 23zm-1 53zm-3 17zm2 82zm6 5zm8-39zm-10-98zm3-7zm-3-4zm2-1zm0 0zm3-47zm-5-43zm1-9zm4-24zm3-35zm-2-1zm-2-47zm7-57zm-2-17zm0-28zm10-45zm3 23zm-8 0zm4 144zm-3 7zm3 35zm1 25zm-3 37zm-3 16zm10 36zm-4 2zm-6 15zm10 19zm-2 17zm-9 21zm0 36zm3 15zm-2 9zm6 0zm-7 5zm11 15zm-8 4zm3 4zm10-18zm1-8zm-5-27zm4-8zm5-24zm-9-17zm9-13zm-7-11zm9-4zm-5-5zm1 0zm-7-16zm6-19zm-4-25zm3-15zm4-1zm0-44zm1-9zm1-42zm-11-35zm7-1zm-7 0zm11-54zm-4-77zm3-9zm11 0zm-5 94zm1 1zm0 31zm-2 22zm7 6zm-7 9zm-2 24zm6 18zm1 8zm1 0zm1 49zm-4 10zm-1 49zm-2 44zm-2 87zm19-22zm-4-1zm0-46zm-3-18zm4-26zm5-45zm-7-89zm-1-17zm7-2zm-9-62zm2-39zm8-19zm-9-23zm2-45zm16 24zm2 9zm-3 1zm-3 126zm6 18zm-9 4zm4 4zm-2 19zm0 3zm-1 24zm-1 41zm3 108zm1 9zm-4 5zm2 13zm8 73zm11-13zm-7-15zm0-157zm6-16zm-7-6zm3-37zm5-4zm0-7zm-1-10zm2-65zm-7-11zm-1-9zm7-23zm-7-26zm3-40zm-3-16zm1-31zm14 41zm4 4zm2 47zm-10 4zm-1 43zm5 85zm-5 13zm8 11zm2 29zm-5 14zm-4 26zm5 81zm0 3zm4 11zm-3 16zm15 7zm1-29zm0-15zm-6-75zm-2-17zm4-28zm-7-52zm11-2zm-6-50zm-3-28zm5-20zm-7-35zm10-6zm-10 0zm4-5zm2-8zm4-3zm-3-24zm-5-2zm8-3zm-6-1zm1-9zm17-12zm-6 27zm6 29zm-8 23zm2 3zm7 11zm-11 14zm2 11zm6 21zm1 3zm-6 19zm4 15zm-3 8zm6 1zm-9 54zm9 37zm1 2zm-4 7zm-7 8zm6 16zm-6 15zm10 51zm-5 1zm-4 11zm7 5zm13 4zm-5-12zm7-11zm-7-4zm2-16zm-2-68zm-4-22zm2-15zm-1-27zm7-18zm2-5zm-4-19zm3-1zm-8-2zm7-8zm-1-42zm2-6zm0-24zm0-1zm-2-3zm0-18zm-7-50zm19 49zm4 100zm-10 1zm9 3zm-4 54zm1 54zm1 27zm-3 62zm4 29zm7-62zm2-9zm-2-9zm2-12zm3-42zm-3-10zm3-24zm-4-21zm6-13zm0-2zm-10-11zm5-45zm-3-52zm0-14zm4-13zm3-4zm-2-11zm-7-35zm18 16zm-6 17zm1 29zm4 13zm-2 4zm4 22zm-1 2zm-4 19zm8 7zm-4 100zm-3 17zm6 8zm-2 40zm1 13zm4 4zm8-26zm-3-33zm2-105zm1-28zm11-8zm-3 23zm-1 2zm-1 37zm-3 0zm112 135zm8-3zm86-275zm320 127z"/>
<path stroke="#1fa287" d="M1892 1077zm3-39zm-10-37zm3-14zm11-19zm6 125zm4-37zm17-104zm1 45zm1 6zm2 38zm-1 38zm6 41zm4-110zm-6-4zm21 18zm-9 87zm12-35zm0-50zm0-141zm15-30zm1 25zm5 36zm-1 169zm0 41zm11-113zm-5-150zm9 139zm10 24zm-4 6zm-5 43zm11-48zm11-30zm-9-206zm0-6zm16 173zm1 60zm-7 88zm20-99zm-6-116zm8-99zm-10-22zm17 21zm0 41zm1 2zm-4 46zm8 60zm-10 14zm1 14zm20 147zm-6-23zm-3-92zm4-228zm3-76zm9 42zm4 62zm2 41zm-4 44zm4 91zm0 36zm-3 44zm16 23zm-11-2zm6-180zm15-217zm0 243zm-4 7zm2 37zm-6 20zm8 85zm-7 4zm18 55zm-1-67zm-3-88zm-2-35zm3-15zm4-42zm-9-45zm2-18zm1-42zm2-74zm-1-14zm1-263zm7 256zm11 126zm-3 81zm-4 35zm-3 31zm8 70zm4 42zm1-418zm11 15zm5 64zm2 130zm-1 11zm-2 137zm12 27zm-1-192zm4-214zm4-443zm1 12zm1 469zm8 43zm-6 75zm-2 241zm4 44zm8-62zm1-25zm3-251zm3-1zm3-129zm7 86zm-4 107zm2 49zm-2 126zm3 31zm17 70zm-4-60zm-6-9zm8-75zm-8-112zm9-6zm-7-12zm20-561zm-1 443zm-9 4zm-1 11zm11 8zm-5 45zm-6 171zm6 27zm13 129zm3-70zm-7-135zm4-47zm3-2zm-5-21zm-3-83zm0-34zm-2-70zm21 21zm-9 160zm5 22zm1 35zm-6 74zm11 26zm-3 20zm1 98zm12-33zm1-101zm-10-82zm3-68zm7-138zm9 96zm4 59zm-5 65zm1 75zm3 74zm13-42zm-5-8zm-3-46zm5-29zm1-71zm1-3zm-3-144zm0-55zm9 6zm3 57zm-7 32zm9 12zm0 211zm0 61zm3 19zm6-138zm3-79zm-3-36zm2-30zm3-39zm1 40zm5 11zm-4 84zm3 184zm12-287zm-2-70zm-2-335zm12 338zm11 58zm-7 41zm17 193zm-6-98zm-2-153zm11 176zm43-111zm27-567zm3-5zm53 740zm5 1zm12-5zm151-211z"/>
<path stroke="#460a5d" d="M1974 992zm3 80zm8-78zm37-173zm-5 6zm5 178zm31-180zm46 262zm10-236zm-5-12zm9-21zm30 37zm24-18zm-1 134zm18-76zm22-474zm21 531zm27-307zm13 111zm-11 67zm15-111zm3-571zm33 818zm3 32zm5 3zm48-735zm5 744zm28-7zm15 1zm2-3zm14-8zm8 2zm5-12zm-1-9zm2-750zm0 0zm2-6zm6 3zm5 747zm-4 6zm6 6zm0 38zm1 6zm5 0zm-1-17zm4-7zm-2-24zm19-20zm-2 14zm-7 1zm10 5zm-2 0zm-1 32zm7 14zm8-18zm-4-5zm-1-9zm-2-17zm18-3zm-5 15zm-3 7zm2 5zm4 26zm9-19zm-4-18zm4-16zm14-28zm-5 3zm7 1zm2 18zm-7 14zm0 35zm-2 5zm20-53zm-4-10zm14-11zm-7 20zm6 20zm-1 6zm-4 13zm3 0zm10 7zm0-8zm7-7zm-8-3zm2-10zm1-30zm4-8zm13-392zm-9 394zm6 21zm-3 15zm1 29zm15-39zm-8-6zm67-122zm284-49zm-1 4zm18-5zm7-1zm-3 2zm6 1zm12 2zm-3-5zm4-2zm1-3zm-2-2zm16 0zm8 0zm18-2zm24 80zm17 49zm13 2zm-2-22zm15 20zm2 3zm-4 22zm3 5zm5-15zm1-3zm7 0zm7 12zm7 10zm3-17zm4-11zm-5-6zm14 0zm0 6zm7 18zm-10 4zm15-12z"/>
<path stroke="#277e8e" d="M1877 988zm1 55zm-1 19zm-5 4zm13 17zm-1-31zm1-46zm3-17zm0-7zm15-13zm-2 11zm-4 14zm5 14zm-6 16zm6 14zm10 48zm0-9zm7-10zm-2-11zm-5-36zm4-25zm-8-29zm18-31zm-6 23zm4 32zm0 1zm3 32zm1 29zm2 4zm-6 56zm9-2zm3-109zm0-81zm7-36zm8-14zm-6 4zm1 20zm9 17zm-5 14zm0 15zm0 187zm16-30zm-3-31zm-4-23zm-3 0zm6-3zm-5-48zm6-80zm-5-2zm5-6zm3-10zm-6-33zm-2-22zm8-2zm10 7zm-7 30zm5 38zm-5 34zm-1 47zm8 32zm3 6zm-4 66zm-4 17zm0 2zm16-30zm3-26zm0-11zm-7-65zm8-38zm-10-17zm0-18zm5-65zm1-10zm8-32zm3 46zm-4 3zm6 23zm-4 116zm1 17zm-1 6zm-2 10zm5 0zm9 90zm4-16zm-5-97zm1-56zm-3-21zm0-105zm9-27zm-4-5zm5-6zm-1-12zm1-16zm3 18zm2 39zm5 69zm-4 67zm-5 34zm11 33zm-8 52zm4 42zm10 30zm-5-76zm10-27zm-1-36zm-7-13zm2-29zm3-23zm-6-19zm8-39zm0-50zm2-25zm-2-21zm11-55zm2 31zm-4 26zm1 18zm-4 12zm3 33zm3 14zm-8 28zm2 41zm0 27zm-3 67zm5 5zm-1 88zm2 3zm13-18zm3-15zm-10-27zm6-45zm-4-32zm8-11zm-3-33zm-3-40zm-3-2zm1-2zm0-36zm8-57zm-1-20zm-8-26zm21-38zm-10 5zm10 18zm-4 67zm2 5zm1 15zm-9 46zm9 117zm-8 87zm8 20zm6-43zm8-19zm-1-33zm-10-36zm8-15zm0-1zm-6-23zm6-74zm-5-4zm-2-42zm18-61zm-5 6zm6 77zm0 38zm-4 12zm5 50zm1 17zm-9 25zm1 86zm9 6zm-10 5zm15-34zm5-9zm-2-23zm1-25zm2-2zm-7-1zm5-11zm0-26zm1-33zm-2-14zm-3-7zm-2-32zm7-8zm-5-31zm0-87zm19-57zm-8 127zm-2 42zm0 127zm2 4zm2 56zm-4 23zm1 48zm15 27zm-4-100zm8-29zm-9-85zm0-51zm8 0zm1-78zm1-26zm-10-71zm15-23zm-3 3zm7 18zm0 15zm0 17zm2 6zm-8 12zm5 59zm2 78zm3 143zm-7 52zm10 32zm0-44zm7-66zm-7-35zm5-33zm4-55zm0-24zm-6-64zm1-14zm-1-63zm15-74zm-7 35zm3 71zm-3 48zm-1 47zm7 101zm0 0zm-7 7zm2 111zm3 8zm10-2zm8-15zm0-208zm-4-9zm4-38zm-8-3zm-2-114zm1-27zm15-8zm6 25zm-5 24zm3 25zm-6 35zm-2 2zm4 38zm-4 19zm1 8zm5 157zm-2 58zm6 40zm-1 16zm1 7zm5 8zm-3-13zm7-11zm-5-13zm1-4zm-4-3zm4-24zm0-9zm4-19zm0-30zm2-17zm-8-32zm8-16zm-1-53zm-7-31zm-2-120zm3-6zm6-41zm0-1zm4-7zm3 10zm-4 37zm4 23zm3 13zm4 43zm-11 56zm6 88zm-2 63zm7 41zm-4 71zm-2 5zm7-117zm7-74zm-1-2zm-3-20zm5-5zm-5-6zm2-72zm4-107zm-3-24zm-2-3zm5-26zm10 47zm-4 15zm-1 29zm7 7zm1 86zm-3 97zm3 6zm-10 21zm6 15zm4 19zm-3 22zm-2 86zm13-28zm-4-46zm-2-5zm0-4zm1-9zm9-28zm-1-53zm-9-36zm3-5zm-2-1zm6-1zm2-2zm-9-43zm5-30zm0-87zm2-3zm-3-1zm0-34zm0-3zm5-7zm2 0zm-9-19zm12-27zm2 11zm6 48zm-1 17zm-6 16zm7 47zm-6 165zm17 113zm-1-16zm0-2zm-3-37zm0-98zm5-24zm-4-7zm5-19zm-9-42zm9 0zm0-19zm-6-74zm-4-6zm13-67zm-1 29zm1 19zm8 101zm-9 32zm6 29zm-6 49zm4 66zm-2 59zm9 33zm6-84zm-6-89zm9-16zm-9-21zm6-25zm-4-128zm-1-45zm11-2zm6 57zm-5 46zm9 39zm-6 8zm1 14zm-3 47zm5 10zm-7 67zm7 67zm-4 5zm6 15zm-5 3zm11-131zm0-15zm3-62zm-5-22zm2-57zm-3-54zm18 44zm0 11zm-1 52zm-2 20zm3 19zm-5 30zm7 16zm-1 12zm2 27zm-8 105zm14-115zm6-13zm-5-1zm1-12zm-3-48zm-2-68zm12 147zm2 28zm10-228zm246 133z"/>
<path stroke="#481c6e" d="M1884 1020zm9-41zm16 12zm-1-88zm41 24zm6 81zm23-148zm-1 153zm-1 96zm14-30zm1-149zm23-135zm22 320zm1-67zm-4-51zm5-10zm12-207zm-3 28zm-5 52zm1 150zm9-104zm15-100zm12 267zm6-79zm4-117zm18-32zm-6-28zm20 187zm25-314zm-9 62zm10 217zm4 100zm10-322zm10 238zm-5 46zm6-169zm6-134zm-5-29zm13-63zm2 97zm7 234zm4 115zm0-125zm7-61zm11-279zm-4 391zm11-198zm3-129zm12-48zm1 56zm-8 27zm11 317zm11-16zm-10-190zm15-2zm1 127zm18-112zm-7-94zm17 20zm3 122zm-2 65zm8-134zm-4-78zm9-118zm90 378zm-4-2zm18-220zm10 216zm15-782zm9 770zm5-764zm2-3zm12 758zm-8 39zm8 4zm12-5zm-2-7zm-8-36zm10-21zm0-2zm10 44zm-3 3zm2 5zm-6 1zm3 24zm9-12zm-1-5zm6-3zm2-3zm-2-27zm8-16zm4 17zm-3 5zm-1 3zm4 15zm8 1zm2-23zm8-35zm4 15zm3 40zm0 9zm-8 13zm13-35zm-1-12zm4-32zm18 61zm-10 8zm4 9zm8-5zm6-4zm2-19zm-1-26zm2-2zm0-5zm0-4zm-8-10zm21 21zm-3 16zm-6 2zm8 16zm-8 25zm16-460zm342 227zm19 3zm23-4zm9-6zm4 1zm5 15zm6-1zm-1-18zm46 146zm2-68zm18 50zm3 4zm0-5zm1-25zm11 31zm9 9zm1 1zm6 13zm1-10zm-3-15zm5-7zm12 13zm-6 14zm5 1zm15 4zm1-13zm-5-1zm5-4zm-2-5zm-1-12z"/>
<path stroke="#31668e" d="M1886 1025zm18-46zm27 33zm-9 2zm15-123zm14 22zm8 147zm3-17zm7 56zm21-36zm-8-21zm7-1zm2-17zm-3-21zm7-97zm3 156zm14 45zm-3-111zm4-108zm-8-28zm-1-53zm9-51zm5 62zm3 134zm6 25zm-3 4zm-7 41zm9 6zm-10 40zm23-116zm0-69zm9-127zm-8 220zm14 68zm2-146zm0-200zm11-9zm-2 185zm2 31zm7 54zm1 59zm-11 2zm8 32zm14-276zm9-10zm4 287zm-6 48zm12-138zm6-9zm-4-178zm4-104zm-7-27zm8 61zm6 58zm4 18zm0 2zm-10 21zm11 148zm-3 85zm2 69zm1 4zm11-25zm-8-5zm4-167zm4-254zm6-27zm3 93zm-5 21zm2 70zm-2 65zm4 48zm2 67zm-6 63zm9 37zm8 8zm-6-130zm7-328zm13 45zm-6 170zm3 162zm2 25zm11 49zm-4-65zm3-76zm-1-83zm0-37zm6-21zm-9-8zm3-15zm1-50zm-3-94zm11 265zm1 47zm3 77zm5 15zm-4 38zm6-189zm6-28zm-4-227zm-3-15zm21 16zm-9 21zm1 39zm-1 11zm3 110zm-1 173zm6 4zm8-39zm-2-130zm8-66zm0-71zm-7-7zm4 0zm-5-19zm5-47zm5 110zm1 88zm-1 113zm3 71zm13 51zm3-106zm-2-139zm0-67zm-3-22zm7-27zm1-13zm-10-20zm11-44zm3 143zm-2 261zm19-57zm-2-109zm-3-222zm19 59zm-1 117zm-4 34zm19 174zm-8-58zm5-87zm0-144zm14 73zm-7 38zm-1 8zm0 38zm-2 20zm3 56zm15 22zm1-59zm-1-63zm-2-156zm5 0zm9-39zm-1 111zm-2 94zm-1 48zm11-77zm3-31z"/>
<path stroke="#28ae80" d="M1861 1046zm40 35zm11 11zm42-100zm20-99zm-5 161zm25-20zm1 48zm13-154zm2-431zm7-4zm8 10zm-6 394zm4 147zm6 21zm1-88zm8-473zm21 496zm7-713zm5 487zm-5 41zm5 180zm16-72zm-3-169zm9-398zm3 102zm-7 657zm16-30zm5-104zm0-207zm-1-435zm-6-3zm20 25zm-10 318zm9 119zm-5 144zm-1 134zm3 8zm9-177zm3-16zm-4-17zm-1-477zm5-127zm9-66zm1 29zm0 131zm3 482zm-7 182zm14-84zm-2-99zm1-60zm-2-102zm10-259zm0-95zm-9-5zm1-26zm6-56zm-5-3zm11-20zm0 39zm9 112zm-6 32zm1 390zm10 193zm-3-27zm4-109zm-1-403zm7-70zm-7-38zm3-23zm4-56zm-10-39zm12-44zm8 230zm-2 23zm13 408zm-2-419zm-3-74zm-3-100zm21 69zm1 302zm0 69zm0 77zm-5 309zm14-655zm3-7zm-7-31zm-2-58zm6-59zm2-15zm-7-6zm8-5zm1-4zm10-4zm-9 16zm5 172zm3 281zm0 88zm11 5zm3-484zm-2-66zm15 71zm-3 319zm-7 280zm3 11zm0 71zm13-663zm-2-19zm6-55zm-8-23zm9-19zm7-63zm6 18zm-3 840zm10-55zm2-85zm-6-540zm7-30zm-8-40zm11 440zm7 170zm7-531zm19 369zm-1 224zm69-242zm14 129zm48 76zm13 35zm5 15zm22-410zm32 343z"/>
<path stroke="#addc30" d="M1906 1057zm15-59zm21 29zm-6-79zm16-40zm23-92zm16 75zm-8-15zm28 163zm3-449zm13 5zm-9 367zm19-373zm-8-7zm10-2zm-4-6zm7 4zm6 306zm-5 88zm20 79zm39 3zm3-25zm-3-79zm18-609zm13 376zm7-465zm6 632zm12-433zm-5-4zm5-156zm9 44zm-5 118zm7 467zm7 25zm-3-520zm21-62zm7 679zm12-832zm1 42zm-4 20zm0 77zm7 567zm9-626zm12 334zm5 153zm12-2zm-11-554zm19 409zm11 167zm-1-11zm-2-100zm14 38zm30-422zm-11 466zm8 50zm1 122zm7 70zm8-765zm16 645zm-2-27zm3-616zm10-30zm3 1zm13 573zm4-80zm-1-1zm0-504zm3 2zm-1 561zm11 3zm-7 26zm11-19zm0-7zm2-53zm-2-505zm-3-4zm6-23zm3-6zm7-7zm7 9zm0 0zm-7 6zm4 511zm-1 1zm4 2zm0 5zm-2 67zm0 1zm-5 5zm3 59zm15 22zm-6-33zm4-3zm-6-25zm4-3zm-5-20zm8-8zm-7-35zm1-12zm4-11zm10-35zm-1 9zm4 23zm-7 15zm0 39zm0 18zm9 4zm-9 6zm8 104zm11 3zm1-33zm-2-57zm2-31zm2-5zm-2-4zm-9-24zm3-20zm0-13zm1-27zm5-28zm-9-168zm23 169zm-8 12zm-2 3zm3 17zm7 1zm-7 47zm4 8zm1 22zm-7 8zm-2 20zm11 9zm-10 31zm-1 15zm8 7zm-6 8zm5 2zm-7 29zm13-69zm-1-24zm3-2zm4-4zm-5-105zm9-20zm-6-4zm3-116zm-1-39zm3-3zm-7-4zm2-12zm9 76zm7 94zm-8 43zm7 69zm2 9zm-3 29zm0 1zm-2 37zm-5 1zm1 16zm-1 13zm13-21zm0-3zm5-3zm0-14zm-1-5zm6-6zm-3-12zm-5-49zm5-43zm-5-53zm-1-6zm9-17zm-1-56zm-5-9zm-5-72zm10-6zm-4-2zm8 25zm1 18zm6 22zm-6 6zm1 9zm1 32zm4 15zm-2 17zm-3 43zm-1 9zm4 54zm-5 21zm20 83zm-8-23zm5-9zm-5-47zm1-35zm1-13zm-1-19zm5-11zm-2-2zm-1-37zm-4-3zm10-7zm-8-12zm0-4zm2-24zm6 0zm-9-62zm20 59zm-9 33zm1 58zm5 8zm-7 25zm7 10zm-4 2zm2 55zm-1 22zm-2 16zm9 6zm-5 25zm-1 16zm18-13zm-1-7zm1-2zm-7-11zm-4-10zm0-4zm11-37zm-3-35zm-5-46zm2-24zm-1-5zm0-16zm-1-6zm1-28zm-2-11zm17 2zm-3 6zm-2 103zm1 82zm2 13zm-4 17zm3 11zm3 5zm9 7zm-2-2zm3-20zm1-55zm-2-3zm5-12zm-3-2zm5-43zm-3-54zm-4-18zm7-5zm-3-7zm3-431zm12 324zm-6 85zm-2 9zm3 8zm-3 3zm6 17zm-4 10zm-2 7zm8 15zm-3 36zm-6 39zm9 24zm-11 0zm9 42zm2 11zm-10 18zm13-217zm-1-13zm2-7zm1-22zm-3-14zm-1-42zm13 94zm1 2zm4 8zm-3 3zm2 35zm-5 9zm4 13zm6 47zm-6 9zm-4 24zm2 7zm7 2zm1 7zm-6 44zm-1 4zm3 1zm7 19zm6-27zm1-12zm-3-27zm3-24zm-2-6zm5-44zm0-9zm-4-2zm-7-25zm5-49zm2-22zm-7-17zm15 21zm2 22zm0 2zm-5 20zm0 6zm11 41zm-8 61zm-3 18zm4 10zm4 16zm-6 5zm15 24zm1-23zm3-3zm-7-4zm4-7zm-3-3zm-1-31zm1 0zm1-35zm4-30zm-4-29zm5-43zm11 13zm3 37zm-11 8zm11 46zm-3 32zm-7 11zm10 18zm-10 22zm4 2zm14-99zm-6-24zm7-19zm5-16zm2 43zm4 19zm2 7zm2 16z"/>
<path stroke="#38598c" d="M1915 928zm8 6zm9 37zm14-51zm18 124zm-1-7zm-3-110zm10 100zm9 15zm3-205zm4-15zm11 46zm23 46zm-2 87zm19 116zm-7-173zm7-44zm16 226zm6-211zm16-27zm-11 32zm8 6zm10 193zm4-201zm9-255zm-5 117zm8 9zm-10 87zm11 94zm-4 24zm3 9zm-7 19zm10 16zm1-66zm2-19zm-1-70zm7-43zm-3-163zm6 402zm9 9zm9-45zm3-1zm-2-107zm-6-10zm2-9zm2-44zm3-151zm-5-54zm5-36zm7 41zm-3 164zm7 2zm3 33zm10 116zm-9-135zm8-1zm-3-13zm-5-23zm0-466zm18 378zm3 70zm-8 80zm9 1zm-10 126zm18-349zm-2-19zm18 285zm11-83zm-7-1zm28-113zm6-427zm11 449zm-3 258zm-3 7zm-1 51zm18 16zm-2-106zm2-15zm-1-44zm-6-18zm3-83zm-3-112zm29 198zm-8-116zm25 240zm0-55zm4-23zm-5-53zm3-162zm-1-76zm10-35zm9 113zm-8 161zm21-66zm-9-106zm15 166zm17-21zm-7-28zm170 7zm547 72zm49-4z"/>
<path stroke="#472d7b" d="M1881 1070zm4-19zm14-52zm0 33zm-1 14zm23-64zm3 69zm2 0zm-6 17zm16-137zm12-7zm46-82zm17 160zm12-105zm15 191zm-1-63zm-3-1zm1-259zm2-12zm26 239zm2-268zm0 61zm3 319zm11-157zm7-249zm2 41zm4 222zm3 130zm8-249zm-3-35zm23-161zm1 439zm3-49zm1-33zm7-144zm1-205zm0 226zm6 16zm-3 187zm15-423zm11 140zm2 12zm3 90zm3-52zm2-90zm30 86zm-1-57zm5 235zm2 10zm5 26zm10-135zm-3-18zm9-270zm5 42zm3 373zm8-65zm-2-300zm8-14zm-1-38zm-8-26zm22 402zm11-62zm-10-160zm32 107zm-1-41zm-7-186zm12 81zm10 44zm0 7zm-6 47zm10 84zm4-148zm16-591zm-8 533zm6 8zm7 174zm78-83zm48 180zm-2-59zm6 4zm22 64zm-4-11zm-4-24zm1-253zm10 219zm4 2zm-3 34zm7 30zm9-33zm26-2zm-9-748zm31 778zm1-18zm-1-43zm8-382zm2 415zm-4 9zm19-8zm-5-16zm8-399zm-8 0zm404 222zm60 75zm8 0zm0 16zm-6 23zm15 20zm1-40zm7 38zm6 4zm10 9zm4-22zm31 5z"/>
<path stroke="#cde11d" d="M1905 1033zm17-98zm18 40zm73 154zm6-527zm17 427zm2-108zm-5-348zm23 541zm-3-375zm11 114zm9 209zm6 0zm13-139zm5 163zm10-65zm3-51zm23-565zm9 260zm4 82zm10 224zm-6-201zm13 299zm31-311zm13 157zm-4-246zm-4-58zm28 38zm0-316zm13 485zm29-66zm13-20zm16-101zm23 200zm11-586zm-1 515zm9 60zm21-596zm0 16zm14-49zm24 1zm11-9zm-4 552zm-3 9zm7 62zm-1 1zm10-5zm-4-21zm3-7zm-1-41zm-5-541zm23 484zm-1 9zm-4 36zm-1 4zm0 12zm-4 16zm8 40zm-6 10zm2 46zm13 7zm-4-10zm5-39zm-1-19zm-6-19zm11-11zm-2-239zm-6-40zm20 9zm0 22zm-2 160zm-4 31zm-3 19zm0 51zm3 25zm1 37zm-4 2zm1 4zm5 6zm2 23zm13 3zm-1-119zm-2-25zm-6-14zm1-50zm14-177zm6 64zm-3 18zm-6 79zm6 33zm-7 0zm3 43zm2 16zm1 8zm-3 14zm-2 42zm6 3zm3 19zm-3 2zm-2 5zm0 4zm10 30zm7-5zm-6-6zm3-33zm1-26zm2-5zm-8-9zm4-31zm0-12zm-5-1zm9-2zm0-33zm-6-47zm-2-18zm4-22zm3-27zm-6-10zm1-47zm-3-8zm11-16zm-1 29zm7 23zm-7 33zm11 33zm-3 86zm-2 43zm2 31zm-3 43zm14-41zm-7-3zm0-9zm8-3zm-6-1zm4-18zm-5-13zm5-8zm-6-11zm10-19zm-4-25zm-5-21zm0-41zm17-19zm-2 65zm-2 2zm8 28zm-9 51zm-1 7zm5 28zm2 9zm-6 11zm0 17zm6 19zm6 47zm5-36zm-2-52zm-4-18zm3-11zm-3-31zm9-103zm-9-6zm21-394zm-9 384zm1 21zm4 40zm-4 5zm-1 2zm3 17zm3 32zm2 8zm1 25zm-8 62zm21 43zm-4-186zm5-6zm-8-4zm-2-2zm6-17zm-2-15zm-1-4zm5-23zm9 13zm3 24zm-4 1zm-4 15zm8 4zm-1 15zm0 24zm-1 19zm3 70zm-4 26zm6 52zm7-19zm-3-8zm-3-51zm-1-31zm5-8zm-1-2zm6-6zm1-30zm-6-32zm5-28zm-2-20zm-8-14zm7-16zm10 5zm2 23zm4 68zm-1 17zm-9 0zm7 84zm8 52zm-1-78zm5-6zm-3-15zm-3-8zm5-64zm4-19zm-11-26zm6-7zm14 56zm0 10zm1 104zm1 37zm-8 6zm13 16zm4-28zm4-8zm-2-3zm-8-43zm0-3zm7-14zm2-62zm1-6zm4-22zm3 144zm-3 7zm8 17zm3-2zm3-33zm3-11zm-3-49zm-3-3zm-1-2zm-1-1zm6-1zm0-18zm3-14zm6-12zm-2 7zm12 73zm3-45zm-2-6z"/>
<path stroke="#443b84" d="M1870 1066zm37 46zm6-140zm11 70zm1 48zm17-100zm0-135zm12 162zm-1 6zm-8 49zm13-223zm8-6zm16 277zm3-221zm-3-84zm11 213zm16-159zm12 44zm-5 192zm22-12zm-6-75zm3-234zm14 56zm2 173zm-5 25zm11 15zm3-250zm-7-8zm5-58zm6 102zm11 50zm4 75zm-3-106zm4-42zm15-131zm-5 45zm8 249zm0 119zm10-345zm7-96zm-1 133zm4 37zm4 37zm12 169zm-7-156zm1-80zm19-156zm-11 33zm7 331zm7-154zm3-26zm2-55zm1-121zm4-35zm7 150zm-4 24zm-1 299zm19-44zm-1-5zm-4-187zm-2-30zm3-42zm3-142zm3-2zm7-11zm-5 182zm8 63zm2 4zm4 180zm7-300zm8-9zm-6 11zm8 40zm1 79zm2 105zm3 12zm3-143zm-2-211zm11 25zm3 38zm-4 178zm10 20zm-2 84zm18-244zm-2 278zm11 36zm3-7zm3-114zm0-247zm13-4zm-4 27zm11 49zm6-51zm0-84zm8 25zm8 324zm2-36zm3-82zm16-176zm12 251zm2-13zm5-64zm77 146zm-1 17zm28-49zm14-751zm22 765zm47 37zm14-66zm508-15zm5-8zm21-20zm1-3z"/>
<path stroke="#6ccd5a" d="M1946 1080zm12-175zm56 162zm0-576zm9 86zm11 1zm38-287zm-8 664zm18-600zm6-53zm1 61zm0 57zm4 6zm-4 1zm17 22zm2-14zm-2-56zm5-49zm-8-3zm15-60zm3 21zm-2 22zm-3 30zm0 22zm18-25zm0-59zm-7-2zm7-10zm10-69zm1 31zm2 36zm3 162zm0-33zm5-2zm-3-36zm0-33zm5-60zm3-71zm3 51zm5 13zm-8 146zm19 30zm-4-49zm2-14zm-5-142zm12-30zm2 102zm-2 7zm2 7zm1 12zm7 666zm6-622zm-1-20zm-1-5zm6-31zm-1-37zm2-32zm20 78zm-5-1zm0-119zm16 100zm5 84zm2 2zm-1 13zm9 467zm-3-643zm7-14zm6-27zm-1 35zm4 2zm6 35zm15-38zm9 112zm1-14zm0-37zm-2-6zm0-91zm25 138zm-1-14zm33-74zm19 487zm12 41zm6 9zm10 19zm-3-7zm0-44zm3-2zm4-34zm-1 34zm18 57zm15-599zm-7 296zm0 345zm2 69zm7 2zm14-23zm5 8zm-2 4zm5 4zm-3 4zm5 23zm5 16zm-4-35zm8-3zm-6-8zm15-138zm4 102zm18-181zm2 5zm-2 206zm-1 30zm-2 2zm10 17zm11-190zm11 141zm13-175zm23 166zm1-18zm-6-184zm20 186zm4-39zm-3-78zm20-104zm0 75zm-1 41zm-2 44zm-1 90zm9-54zm0-60zm1-75zm20 59zm1 43zm0 66zm11-223zm22 46z"/>
<path stroke="#cde11d" d="M1866 981zm27 0zm21-50zm8 156zm22 12zm18-94zm15 33zm16 21zm28-474zm17-4zm-8-4zm6-1zm18 422zm5-52zm14-54zm-3 180zm77-103zm-10 109zm20-264zm8 10zm13-87zm42 352zm12-294zm11 219zm41-231zm-1 23zm13-75zm28 176zm2-652zm7-14zm-3 556zm10-547zm47 498zm-11 27zm34 12zm1 20zm10-55zm9-551zm3 479zm-5 16zm-1 29zm7 7zm-5 12zm-3 37zm3 20zm4 14zm-2 6zm1 5zm10 19zm1-20zm-6-3zm2-10zm-3-47zm3-11zm-3-3zm4-4zm-2-48zm7-37zm-6-174zm8-16zm-6-272zm14 298zm2 175zm1 26zm0 32zm-6 7zm5 19zm1 28zm-5 36zm-4 22zm4 33zm16-11zm0-41zm-2-1zm-6 0zm10-31zm-5-17zm-3-1zm6-49zm-8-20zm-1-7zm1-17zm10-14zm-6-12zm-1-125zm2-3zm10-27zm1 186zm-3 0zm8 26zm-9 1zm8 0zm-5 27zm2 9zm5 24zm0 13zm-8 38zm-3 62zm17-60zm-2-52zm7-1zm-1-51zm-2-3zm-2-3zm1-31zm5-8zm-6-5zm5-33zm0-115zm2 24zm5 47zm0 22zm3 45zm2 1zm-5 57zm-4 16zm7 16zm3 69zm-9 35zm21 6zm-4-51zm2-4zm-4-10zm5-2zm-8-89zm2-25zm-4-23zm0-23zm0-7zm6-26zm-6-8zm3-5zm16 88zm3 24zm-9 12zm4 101zm6 1zm-4 10zm-3 8zm3 5zm-7 34zm16-97zm6-1zm-10-9zm8-46zm-5-8zm4-9zm4 0zm-8-16zm1-2zm7-28zm-5-43zm9 30zm5 13zm-6 45zm8 0zm-10 7zm2 11zm0 5zm-1 46zm10 24zm-10 15zm3 8zm-1 33zm11 10zm4-12zm5-35zm-5-7zm-3-1zm2-19zm-1-13zm0-3zm-3-74zm5-40zm2-5zm-1-20zm14-74zm-6 61zm8 5zm0 58zm-9 33zm9 43zm0 51zm-5 10zm2 13zm-3 10zm2 51zm9-4zm5-140zm-8-24zm8-1zm-2-37zm-4-24zm8-11zm-2-36zm0-9zm9 1zm0 21zm-5 4zm9 44zm-9 8zm-1 31zm0 6zm7 43zm-5 36zm8 9zm-5 10zm2 10zm-5 9zm6 2zm2 1zm-9 36zm13-54zm8-20zm1-24zm-7-5zm3-59zm1-48zm-3-40zm3-11zm9 30zm3 0zm-2 9zm1 6zm-4 30zm7 6zm-1 4zm-6 5zm-2 27zm5 58zm1 20zm2 15zm-3 28zm9 5zm2-47zm6-5zm-10-23zm3-2zm5-7zm-2-5zm0-9zm-5-11zm9-40zm-1-9zm-3-7zm-1-41zm3-4zm6 31zm8 21zm-4 41zm1 14zm3 39zm0 35zm6-3zm-1-1zm0-66zm-1-3zm1-7zm-3-8zm10-18zm3 6zm1 0zm4 18zm-1 53zm-6 4zm13-61zm8-6zm0-2z"/>
<path stroke="#50c46a" d="M1881 1004zm29 83zm33-225zm38-27zm20-354zm2 14zm17-12zm2 11zm15 474zm21-676zm-3-12zm27 646zm3-468zm-8-11zm10-1zm-10-3zm4-6zm-1-83zm5-5zm-3-13zm3-3zm-5-11zm18-19zm-4 6zm5 16zm-6 17zm6 6zm-11 36zm7 22zm4 12zm0 1zm-3 17zm3 6zm-9 7zm1 12zm17-37zm-1-27zm-4-12zm6-8zm2-32zm-1-1zm-10-13zm6-22zm-5-12zm10-18zm8 15zm3 3zm-6 18zm4 11zm-6 14zm8 13zm0 31zm0 18zm-9 22zm0 22zm0 9zm10 7zm6 339zm2-375zm-4-2zm-1-7zm7-13zm-3-7zm-1-1zm-3 0zm8-23zm-7-38zm4-15zm2-62zm9-4zm-5 17zm10 21zm-4 2zm-2 4zm4 18zm-8 27zm8 11zm-8 10zm2 18zm3 20zm0 8zm-1 4zm-1 14zm10 14zm2-27zm-1-3zm2-3zm-4-22zm4-66zm-3-9zm4-5zm-2-53zm4-42zm14 19zm-1 19zm-2 1zm-3 27zm-3 2zm9 14zm-9 41zm10 10zm-8 28zm6 8zm2 38zm11 27zm-8-29zm8-4zm-6-19zm5 0zm-3-25zm-3-27zm3-10zm-5-49zm7-6zm-8-3zm4-78zm-1-14zm14 12zm1 7zm-6 16zm4 3zm1 35zm1 19zm-3 26zm4 6zm-2 9zm3 29zm-8 7zm0 6zm7 32zm2 7zm1 35zm-6 20zm1 584zm7-600zm6-4zm2-68zm1 0zm-8-10zm4-1zm-3-63zm6-36zm3-23zm-8-7zm5-12zm11-30zm3 13zm-10 11zm5 24zm-3 81zm1 31zm6 43zm1 5zm0 15zm-7 12zm0 3zm3 3zm2 6zm10-1zm2-42zm1-12zm2-13zm-3-19zm0-44zm3-12zm-9-8zm1-2zm-3-24zm0-3zm10-25zm0-7zm6-27zm-1 3zm-3 8zm3 0zm-3 15zm1 19zm4 16zm6 14zm-6 66zm-2 20zm1 10zm3 22zm1 9zm11-131zm-6 0zm4-9zm-5-13zm8 0zm-1-34zm-2-6zm5-8zm-4-22zm9-3zm-3 30zm11 20zm-3 5zm-3 33zm9 44zm4-4zm1-111zm3-16zm4-36zm6 46zm-7 24zm5 13zm0 36zm13 539zm-2-449zm-2-16zm7-6zm-3-28zm-7-31zm19-124zm2 1zm-2 157zm1 628zm14-578zm-7-10zm1-1zm27 438zm-3-540zm28 515zm-3-536zm46 705zm16-716zm3 11zm0 634zm-6 58zm12-16zm12-202zm7 87zm-8 134zm40 14zm-1-76zm-2-32zm17-164zm4-54zm18 204zm19-184zm7 20zm-4 15zm0 208zm9 45zm48-57zm19-98zm2 148zm52-124z"/>
<path stroke="#addc30" d="M1891 1065zm5 28zm68-169zm19 182zm1-196zm23-130zm6-181zm11-4zm-4 5zm-2 289zm12-303zm15-6zm15 289zm15-577zm-1 662zm4-161zm32-425zm4 432zm11-449zm13 34zm5 614zm6-183zm2-413zm12 525zm31-714zm-4 112zm13-2zm2-54zm10 42zm-6 657zm19-683zm19 609zm1-184zm29 137zm10-10zm23-525zm1 657zm26-730zm2 8zm-6 4zm12-16zm13-15zm19 532zm5 1zm1 9zm14 76zm2-49zm-1-58zm-2-529zm12 490zm-8 29zm14 112zm1-4zm2-24zm6-7zm-10-79zm5-233zm9 223zm4 21zm-6 0zm4 22zm-1 13zm-1 19zm8 3zm-5 54zm9 21zm8-72zm0-92zm-10-17zm8-191zm3-9zm0 176zm5 21zm6 1zm-3 76zm-1 14zm1 3zm-4 16zm3 25zm2 42zm-4 20zm-2 6zm0 2zm2 13zm11-46zm5 0zm-5-46zm5-16zm-9-3zm10-13zm-10-4zm3-25zm1-14zm-4-4zm4-39zm7-52zm10-137zm-6 1zm5 35zm3 171zm-6 18zm-1 4zm2 8zm-4 6zm7 14zm0 59zm-3 20zm-2 7zm4 22zm2 7zm-9 0zm2 4zm-2 1zm9 7zm-4 10zm2 22zm0 11zm15 7zm-6-65zm-5-15zm9-28zm-8-13zm5-95zm4-11zm-7-42zm-1-68zm0-45zm5-5zm-5-20zm6-12zm-7 0zm7-11zm13 33zm2 13zm0 46zm-5 3zm-5 38zm1 10zm-2 60zm2 22zm2 8zm-3 7zm9 28zm1 16zm-2 7zm-7 3zm-2 3zm7 19zm-4 38zm5 6zm6 15zm9-36zm-7-2zm2-42zm-3 0zm-3-14zm3-21zm4-7zm-6-6zm3-11zm-3-10zm2 0zm2-14zm1-51zm1-4zm4-6zm-3-39zm2-3zm-4-1zm5-28zm-10-1zm1-3zm2-15zm17 62zm0 21zm-8 27zm0 29zm4 23zm-2 84zm4 0zm6 55zm1-14zm3-19zm-4-37zm9-17zm-4-89zm-6-8zm3-4zm-2-19zm7-19zm-4-18zm16-390zm-6 3zm-1 431zm6 2zm-7 1zm8 0zm-1 9zm0 4zm-2 56zm5 15zm-10 1zm7 10zm-6 2zm0 3zm-1 6zm1 22zm6 2zm-4 7zm1 61zm0 17zm17 3zm-2-24zm-5-2zm3-4zm2-33zm-1 0zm-5-19zm-1-2zm0-4zm10-6zm-9-47zm7-17zm-3-9zm-3 0zm2-15zm-1-44zm-2-26zm9-13zm3 3zm3 78zm3 31zm-4 34zm2 29zm1 3zm-5 8zm9 2zm0 24zm-9 2zm1 13zm2 40zm15-20zm-7-37zm8-4zm2-15zm-9-164zm4-74zm14 50zm0 24zm-5 9zm-2 15zm2 30zm5 5zm-1 8zm4 8zm-4 17zm-3 23zm-3 7zm7 30zm-5 3zm4 2zm-6 17zm2 30zm3 3zm6 42zm-9 5zm11-47zm0-19zm2-14zm-1-6zm-2-55zm11-1zm-6-35zm-1-32zm4-31zm0-24zm11 28zm-2 6zm-1 67zm-4 3zm4 4zm3 8zm3 20zm-10 15zm10 41zm0 24zm-1 4zm-5 28zm12-17zm-1-61zm1-25zm-3-45zm5-26zm3-17zm-5-5zm5-5zm14-14zm-9 17zm4 4zm-1 25zm-3 30zm8 11zm-2 12zm0 2zm-3 16zm0 22zm5 4zm-5 2zm-3 16zm15 3zm6-4zm0-64zm8-67zm2 36zm-6 5zm-2 2zm9 49zm7-35zm-3-34zm-1-1zm12 5z"/>
<path stroke="#472d7b" d="M1862 1043zm81 82zm19-63zm12-106zm-5 117zm15-206zm9 72zm10 27zm-11 82zm13-43zm8-111zm-1-108zm10 299zm10-102zm4-21zm9-214zm6 172zm-2 102zm8-199zm1-2zm4-11zm-4-17zm13-4zm-7 177zm32 29zm2 9zm-7 24zm20-223zm9-524zm-1 397zm0 164zm-1 63zm0 89zm4 8zm-3 33zm-7 57zm12 32zm6-113zm-4-21zm4-84zm2-1zm-7-47zm20-599zm-9 549zm13 276zm5-366zm17-106zm-6 36zm-4 366zm16 63zm12-395zm13 420zm-2-340zm-2-45zm11-78zm8 134zm7 267zm-2-18zm5-25zm-3-61zm-1-151zm-1-2zm0-28zm18-582zm-4 652zm-4 29zm8 196zm8 30zm0-70zm10-312zm14 279zm6-254zm4-19zm4 20zm13 183zm15-220zm0 242zm8-44zm7-238zm4 76zm13-20zm67 294zm1-302zm30 276zm37 40zm12-12zm-6-32zm38-1zm3 25zm5 21zm18 7zm9-77zm10 45zm19-424zm0-1zm4 1zm15 192zm76-20zm263 50zm113 138zm2-46zm14 19zm45 25zm2 7zm8 0z"/>
<path stroke="#1fa287" d="M1880 977zm7 56zm1-6zm5-8zm-1-23zm-6-30zm14 71zm-4 37zm19 18zm4-21zm-8-31zm5-4zm6-77zm-1 93zm0 8zm22-17zm-7-45zm7-29zm11-127zm2 271zm2-2zm1-32zm1-203zm17 1zm-9 32zm3 73zm9-47zm3-64zm8-25zm-1-63zm3 58zm4 8zm-3 89zm8 103zm-5 39zm-4 21zm7 14zm6-51zm6-236zm-6-335zm-1-7zm13 312zm9 9zm0 11zm-4 82zm13 159zm-2-214zm5-70zm-2-31zm10-4zm-3 95zm-2 21zm5 58zm-2 52zm1 10zm11 121zm6-49zm-7-69zm2-59zm-6-61zm3-16zm-2-87zm2 0zm0 0zm15 64zm-2 6zm4 33zm0 59zm-6 8zm5 90zm2 23zm-8 32zm2 8zm12-31zm6-129zm-5-112zm7-43zm-4-42zm16-310zm-10 283zm8 17zm0 25zm-2 79zm-2 2zm4 208zm-6 55zm5 38zm4-64zm11-121zm3-230zm2 36zm1 24zm6 201zm12 87zm-10-48zm-1-139zm7-104zm-5-51zm6-504zm6 476zm9 123zm-7 43zm7 93zm-10 101zm12-110zm6-80zm-3-53zm0-3zm-4-92zm17-519zm2 476zm1 4zm-3 42zm-1 377zm18-25zm-4-3zm-4-5zm7-212zm-4-182zm9-37zm-1 7zm5 128zm14 251zm0-28zm3-100zm-7-8zm4-131zm-3-26zm-4-33zm8-5zm4-27zm3 12zm2 109zm5 165zm-9 35zm11 104zm4-109zm13-348zm-5 50zm7 72zm-7 119zm9 11zm0 21zm-8 14zm9 41zm-9 48zm18 60zm0-30zm3-248zm-7-58zm1-60zm6-8zm0-341zm10 408zm-4 116zm1 116zm-3 3zm7 106zm-2 3zm9-154zm1-80zm2-150zm13-57zm-2 21zm-6 90zm6 210zm3 60zm-7 17zm7 19zm10-81zm2-88zm5-550zm6 3zm-6 318zm0 45zm8 70zm-4 16zm1 79zm-1 27zm3 1zm4 19zm0-57zm0-92zm3-3zm2-3zm-5-74zm5-8zm13 53zm1 25zm-2 65zm-2 31zm-5 20zm0 19zm21 31zm0-102zm41-52zm69-217zm15 390zm13 8zm12 19zm11-198zm67 132zm3 1z"/>
<path stroke="#277e8e" d="M1862 1030zm0-8zm13-29zm7 74zm-6 11zm13-10zm-1-13zm6-19zm1-13zm-2-17zm-3-10zm-1-13zm3-5zm-2-2zm1-11zm16-15zm-6 5zm1 54zm4 34zm-10 32zm4 7zm10 17zm4-35zm-1-57zm3-8zm1-20zm-4-15zm4-12zm-1-28zm13-41zm0 59zm-2 50zm-7 27zm7 20zm2 5zm2 4zm-5 59zm13-49zm-2-9zm5-29zm-3-50zm-3-9zm6-62zm1-4zm9 33zm3 1zm-3 50zm0 38zm2 32zm1 31zm-6 22zm16-17zm-9-5zm3-40zm3-52zm1-22zm0-66zm0-73zm10 26zm0 147zm1 29zm1 2zm4 43zm-2 32zm2 17zm6-3zm1-19zm4-6zm-6-19zm4-9zm1-17zm-4-41zm-3-20zm9 0zm-9-42zm9-35zm-10-14zm4-9zm-2-12zm20 25zm-4 1zm-4 20zm5 39zm2 2zm-10 8zm5 35zm-3 15zm2 40zm-3 28zm9 7zm-2 24zm10-10zm2-39zm-1-9zm3-18zm-1-26zm-7-102zm5-50zm16-135zm-9 20zm8 25zm-4 14zm5 137zm-6 10zm3 17zm3 99zm-10 84zm11-25zm9-37zm-5-34zm-1-10zm0-25zm6-11zm2-13zm-1 0zm-7-44zm5-22zm-1-55zm0-52zm-1-10zm2-62zm3-15zm1 6zm7 43zm1 23zm-6 10zm0 56zm3 54zm-3 6zm8 17zm-10 69zm4 73zm2 11zm8 33zm9-49zm-2-76zm-5-18zm1-37zm1-15zm-3-2zm2-55zm1-18zm0-53zm0-48zm-1-16zm4-20zm-5-15zm11 11zm0 44zm7 49zm-6 64zm6 5zm-1 36zm-6 2zm8 0zm-2 83zm-6 5zm7 42zm-4 23zm-2 2zm6 29zm7-28zm0-50zm6-1zm-3-3zm-7-75zm4-26zm5-45zm-3-58zm-2-13zm-2-28zm5-8zm-6-37zm19 59zm-6 126zm-2 14zm0 10zm2 45zm6 46zm13 80zm-1-35zm-3-8zm-1-81zm2-57zm-5-73zm3-8zm2-2zm-7-7zm8-74zm-3-12zm-4-35zm22-28zm-7 49zm2 18zm3 41zm-3 15zm-1 2zm-2 4zm5 0zm-6 10zm5 29zm1 2zm3 15zm-8 8zm6 41zm-7 34zm6 10zm-8 0zm5 79zm-2 19zm4 55zm9 0zm7-9zm-8-15zm6-7zm-5-60zm7-31zm-2-13zm-5-12zm2-6zm-5-40zm5-66zm-4-11zm5-15zm-2-8zm2-1zm1-82zm0-98zm5-4zm4 34zm-2 36zm3 0zm3 76zm-2 105zm-6 2zm-1 31zm8 23zm-4 58zm2 32zm3 38zm-5 38zm11-83zm-2-86zm8-8zm-4-17zm6-11zm-10-212zm2-21zm1-1zm-3-16zm22 30zm-4 1zm0 7zm-3 41zm3 13zm-1 6zm-3 3zm0 19zm5 47zm-2 8zm3 31zm-6 39zm3 2zm5 29zm-1 7zm-1 1zm-1 5zm3 11zm-8 50zm12 44zm-3-6zm3-27zm4-48zm-7-9zm3-3zm1-12zm1-16zm4-120zm-8-27zm10-14zm-8-58zm7-32zm0-30zm-3-30zm5-17zm3 11zm2 37zm5 116zm-10 113zm8 52zm0 44zm-3 28zm1 38zm-4 8zm8 4zm-2 35zm13-3zm-4-46zm-2-74zm7-128zm0-17zm-1-36zm-2-32zm-4-2zm6-26zm0-18zm-2-23zm-2-19zm6-16zm7-27zm-1 40zm5 41zm-4 32zm5 43zm-2 26zm-4 7zm-1 34zm2 36zm-4 38zm0 18zm2 16zm4 5zm-3 2zm-5 21zm14 69zm3-2zm3-6zm2-44zm1-65zm-8-74zm4-63zm0-14zm9-136zm4 2zm-1 33zm-3 39zm-2 129zm3 119zm3 2zm-2 5zm4 8zm-1 53zm-6 20zm12 17zm1-64zm-2-4zm-2-5zm11-68zm-2-144zm-4-56zm-3-16zm3-18zm-1-43zm2-14zm11-32zm6 22zm-7 2zm-1 38zm-3 13zm4 32zm7 18zm-10 135zm10 80zm-7 68zm18 10zm0-24zm-10-59zm5-47zm4-23zm-3-56zm-3-21zm-1-34zm7-17zm-3-19zm1-20zm2-76zm4-11zm6 14zm-6 14zm6 121zm-3 10zm-4 8zm3 72zm1 50zm-4 30zm1 3zm7 22zm-8 6zm3 80zm13-25zm2-60zm-2-1zm1-26zm-3-24zm4-56zm-4-2zm7-96zm-6-31zm8-23zm-2-11zm12 13zm1 15zm-2 60zm-1 1zm-1 15zm4 39zm-3 38zm-5 9zm3 10zm5 0zm-1 71zm0 10zm13 26zm0-76zm-5-85zm5-8zm-9-35zm4-3zm0-107zm-5-21zm11-17zm-9-8zm19 7zm0 6zm-2 20zm2 91zm-4 3zm-4 17zm0 2zm3 7zm-1 7zm-2 42zm0 12zm0 28zm9 1zm11-37zm3-104zm4 16zm3 32zm123-126zm61-32z"/>
<path stroke="#443b84" d="M1885 964zm18 23zm13 68zm-6-18zm21-94zm-11 137zm15-31zm19-157zm1 199zm9-78zm-7-2zm0-138zm33 212zm-1-168zm-8-66zm21 21zm0 115zm-1 56zm-9 98zm19-38zm2-97zm-1-12zm3-45zm-4-153zm15 71zm0 157zm-7 32zm0 11zm-3 9zm14-232zm22 201zm1-27zm5-68zm-4-32zm0-80zm9-6zm-5-489zm7 357zm4 102zm0 320zm13-273zm-2-2zm7-92zm9-304zm-1 530zm5-236zm4-43zm18-63zm-8 86zm0 70zm9 30zm-8 71zm-2 60zm15 71zm2-292zm1-94zm8 63zm8 129zm-3 189zm-1 57zm9 3zm3-352zm-1-13zm16 14zm-7 62zm-2 52zm8 23zm-1 168zm6-371zm-2-34zm6-301zm13 341zm-6 174zm4 89zm5 16zm-10 155zm18-220zm5-190zm-5-33zm-2-4zm8 88zm8 112zm-6 28zm3 197zm10-68zm2-155zm-2-241zm3-418zm12 843zm12-7zm0-192zm8-176zm8 281zm6-190zm2-23zm-3-99zm1-25zm8 66zm18 281zm0-107zm4-51zm-9-92zm8-389zm6 380zm1 117zm13 127zm13-181zm12 151zm17-712zm123 817zm14-11zm1 5zm35-3zm518-143zm17 11zm23 41zm32-7z"/>
<path stroke="#efe51c" d="M1937 962zm47 77zm40-455zm3 294zm6 53zm62-183zm-2 97zm13 99zm2-260zm37 226zm2 76zm-6 42zm19-99zm34-198zm-8 17zm18 93zm14-174zm26-42zm16 322zm25-6zm32-233zm21-448zm38-67zm29-8zm5 18zm13 564zm9 63zm14-16zm-1-54zm14-5zm-7 56zm3 5zm12-14zm-6-302zm17 36zm-2 5zm-1 30zm0 69zm8 18zm-2 25zm4 240zm1-100zm-2-15zm2-2zm9-3zm-8-51zm-3-23zm7-11zm-2-5zm-4-6zm1-75zm-2-75zm9-32zm11 16zm-3 103zm-4 53zm10 77zm5 3zm-2-44zm-1-11zm13-87zm7 60zm-5 47zm1 54zm6 1zm-2 41zm4 0zm6-67zm-3-7zm17-115zm-2 31zm-1 62zm5 64zm-9 28zm12-140zm18 8zm-6 21zm-1 46zm10 5zm-4 38zm12 25zm3-34zm-5-31zm-3-42zm8-12zm-2-19zm2-46zm2-36zm2 25zm8 16zm-1 9zm-8 95zm8 40zm7-23zm0-29zm14-105zm0 3zm-1 4zm-2 89zm7 67zm12-17zm-2-2zm-2-41zm2-15zm-2-59zm-2-2zm15-26zm-1 5zm1 41zm-4 13zm3 125zm6 5zm4-8zm5-16zm-9-5zm10-49zm7-40zm2 30zm-6 38zm12 16zm339-31z"/>
<path stroke="#481c6e" d="M1873 1025zm37-50zm5-34zm9 163zm11-26zm28-154zm12 193zm9 9zm-2-222zm28 53zm4-98zm1-67zm15 78zm12-98zm0 144zm19 58zm0-470zm5-163zm3 663zm-2 9zm9-67zm3-144zm-1-51zm17 199zm-1 134zm16-155zm8-650zm-6 729zm11 60zm18-282zm4 123zm3 67zm5-552zm18 290zm-8 94zm12 273zm4-288zm1-107zm0-353zm12 550zm-4 177zm12-79zm8-235zm2 205zm9 122zm8-324zm5-26zm20 167zm16-177zm0-67zm3-8zm16 105zm2 119zm12 114zm2-10zm4-13zm20-173zm5 45zm19-149zm15 331zm7-10zm-1-2zm18 4zm2-4zm12-767zm-4 766zm5 2zm14-2zm13-778zm-8 621zm12 174zm1-15zm0 0zm1-8zm7-14zm-1-5zm1-745zm3-8zm5 760zm-1 6zm4 32zm12 7zm3-7zm-10-64zm9-1zm5 19zm14 26zm5-3zm0-39zm8 36zm5 1zm1 27zm8-36zm0-27zm2-5zm-3-7zm5-3zm3 7zm3 11zm2 9zm2 14zm-6 6zm15 37zm-7-19zm9-11zm-3-6zm-2-18zm6-11zm0-8zm-1-10zm7 14zm-1 10zm-2 1zm9 21zm-8 1zm8 0zm-8 30zm15-5zm2-10zm-2-19zm6-22zm-1-7zm-8-16zm16-383zm-4 397zm-1 1zm8 12zm0 22zm2 7zm-10 13zm-1 12zm15-3zm2-15zm0-441zm1-10zm15 176zm-5 256zm327-188zm47-1zm4-7zm-1-6zm10 7zm-5 2zm2 8zm0 0zm13-12zm49 73zm12 1zm-6 8zm3 9zm6 35zm-3 21zm7 1zm2-19zm-1-9zm3-7zm2-7zm1-3zm-7-6zm12 8zm15 30zm19-4zm-2 10zm14 2zm-9-15zm7-8zm11 8zm-7 17z"/>
<path stroke="#31668e" d="M1877 1023zm3 17zm24-31zm0 59zm11-89zm-3-15zm9-16zm4 72zm10 95zm0-107zm-1-104zm15 81zm-3 30zm4 59zm4 43zm6-16zm-4-28zm5-200zm17-54zm1 50zm-6 84zm1 54zm-5 121zm11-11zm2-138zm15-158zm-3 40zm7 31zm-5 52zm1 18zm4 117zm0 7zm14 9zm-11-71zm12-241zm11 16zm-7 140zm0 83zm-1 19zm6 65zm12-60zm-8-89zm10-119zm-1-83zm5 78zm7 138zm1 48zm-10 38zm7 47zm7-50zm8-115zm-3-87zm3-14zm-11-5zm9-13zm2-24zm-9-1zm4-61zm10 22zm-1 56zm2 124zm11 117zm1-191zm4-44zm-5-76zm16 0zm-2 11zm-6 40zm9 69zm-2 75zm3 59zm11 44zm-9-22zm8-41zm0-28zm10-287zm3 80zm-2 24zm15 249zm-6-143zm2-54zm-4-117zm5-63zm13 94zm-4 67zm2 93zm-3 206zm15-18zm-1-123zm1-83zm2-49zm-3-95zm4-5zm-3-72zm13 219zm4 22zm-8 63zm14 141zm-3-81zm-2-65zm6-37zm-6-7zm3-14zm-2-43zm8-29zm-5-3zm6-3zm1-4zm0-20zm-2-55zm-4-47zm15 38zm-6 36zm2 137zm5 129zm-1 24zm9-311zm15-17zm-1 73zm-6 172zm4 1zm12 16zm0-199zm-2-70zm20-98zm0 72zm-5 190zm-4 64zm3 34zm-4 7zm11-153zm11-24zm-1-29zm-7-147zm13 75zm3 54zm-5 213zm20 63zm0-150zm-5-52zm5-55zm-10-63zm20-69zm-8 25zm8 42zm-7 4zm0 145zm-1 61zm6 83zm-4 8zm11-99zm1-188zm1-79zm18 29zm-1 64zm-6 117zm8 2zm-2 3zm21-206zm4 18zm12 152zm-4-160zm12 104zm280 11z"/>
<path stroke="#6ccd5a" d="M1924 946zm85 150zm13-157zm19-353zm21 188zm14 53zm8-431zm-7 0zm6-37zm-3-66zm9 42zm13 668zm7-123zm0-534zm-8-15zm13-42zm-2 39zm6 19zm-4 90zm19-75zm-3-6zm1-48zm-2-27zm12-52zm14 201zm15-129zm-3 32zm-2 13zm2 47zm-2 10zm12-11zm-4-17zm3 0zm5-8zm-1-7zm0-11zm0-15zm9-142zm0 45zm-3 40zm3 7zm5 54zm-9 17zm3 82zm12-184zm-1-12zm-3-67zm15 102zm6 17zm0 98zm0 2zm1 18zm3-39zm7-1zm0-31zm0-32zm2-79zm8-53zm-3 90zm-2 78zm9 25zm-3 269zm5-343zm3-55zm-1-55zm2-13zm10 23zm2 25zm-2 12zm18 61zm-7-15zm9-15zm0-13zm-4-23zm12-76zm2 85zm0 36zm3 31zm3-41zm34-11zm16 6zm2-10zm25 498zm6 35zm6 33zm13-60zm-7-15zm3-2zm11-544zm-2 499zm19 49zm-2-542zm15 318zm2 302zm-5 95zm13 5zm2-33zm-5-160zm11-238zm8 285zm0 21zm-4 56zm-1 26zm15 10zm-4-101zm10 37zm4 75zm-1 32zm7 12zm-1-14zm4-123zm2-265zm12 36zm4 178zm-7 11zm2 161zm17-38zm-10-26zm2-95zm3-172zm18 250zm-5 38zm13-159zm-1-71zm13 87zm-3 121zm32 35zm11-216zm9 140zm-4 60zm30-10zm9-49zm-2-99zm17-69zm4 146zm2-35zm19-47zm-2 40z"/>
<path stroke="#3e4a89" d="M1895 986zm19-5zm12 51zm22 48zm22-180zm2 10zm5 211zm8-7zm-4-62zm6-156zm-4-23zm2-12zm0-12zm20 67zm17-32zm-2 193zm-4 38zm18 12zm11-64zm14 22zm4-35zm-11-294zm13 70zm0 2zm5 257zm6-70zm2-58zm5-117zm11 93zm5 187zm7-315zm-6-38zm16 26zm6 54zm6 237zm13-178zm9 211zm4-197zm-2-182zm-1-49zm16-326zm2 392zm-9 56zm7 31zm12 29zm13 196zm9-12zm-5-83zm2-3zm5-629zm-2-3zm11 61zm10 658zm14-344zm12 363zm6-222zm-4-133zm11 203zm12-165zm2-41zm-3-28zm24 241zm11-59zm5 139zm6-61zm3-170zm14 27zm6 147zm5-54zm3-158zm-8-39zm148-11zm77 151zm524 81zm6 0z"/>
<path stroke="#2c728e" d="M1864 1060zm9-43zm10 73zm6-25zm4-54zm-9-20zm13-32zm4 82zm12 60zm4-183zm2-21zm5 47zm-2 40zm4 2zm2 2zm-2 102zm14 3zm-3-26zm1-106zm-3-6zm-1-29zm20-74zm1 92zm-5 92zm4 73zm8 16zm5-47zm-11-24zm11-2zm-10-43zm9-87zm11-72zm0 18zm-5 139zm2 40zm1 58zm-3 9zm10-51zm9-81zm-7-71zm-1-34zm-2-64zm19-38zm0 130zm-1 38zm-6 19zm1 62zm9 8zm-11 61zm19-9zm4-27zm-9-30zm2-49zm6-120zm-3-59zm6-51zm8 7zm-4 118zm3 148zm-1 88zm8-272zm6-2zm14-120zm-2 39zm-1 66zm-2 3zm5 27zm-5 133zm4 31zm2 5zm10-21zm-5-26zm-3-13zm3-85zm-5-31zm8-23zm-2-122zm17 3zm-11 34zm0 100zm0 11zm5 49zm2 57zm-1 146zm13-47zm-3-81zm5-16zm2-29zm-11-188zm8-28zm-1-21zm14 33zm-9 5zm4 23zm-1 63zm1 31zm4 23zm-4 110zm5 58zm-7 15zm11-25zm3-66zm0-134zm4-28zm2-58zm0-74zm12-28zm-7 10zm7 27zm-4 28zm4 85zm-6 63zm0 33zm-4 19zm9 14zm-3 10zm5 0zm-8 13zm2 64zm0 10zm-3 47zm5 18zm-5 8zm11-25zm9-47zm-8-78zm9-47zm0-9zm-5-68zm4-56zm-8-101zm18 147zm0 37zm-7 1zm8 3zm-8 59zm3 28zm-4 18zm8 5zm-5 168zm12-80zm7-6zm-3-270zm1-28zm3 0zm-10-1zm0-16zm15 106zm-3 27zm4 136zm6 72zm-6 28zm7-15zm5-60zm-4-51zm2-36zm-1-23zm4-140zm12-150zm2 1zm2 177zm-8 38zm14 212zm3-23zm0-5zm-6-34zm3-137zm4-63zm13-118zm-3 52zm-1 58zm5 4zm-7 36zm8 31zm-7 97zm0 145zm-4 9zm16-70zm6-357zm13 109zm-11 4zm4 9zm7 77zm0 1zm-1 1zm-9 46zm5 136zm-3 18zm10-18zm2-85zm6-61zm-2-12zm1-20zm-1-17zm-7-245zm20 53zm-7 96zm8 178zm-6 16zm8 64zm-2 20zm9-20zm-4-281zm2-52zm-4-36zm20 10zm-1 31zm-5 99zm6 161zm-8 56zm20-94zm1-10zm-3-123zm-1-22zm6-77zm12 67zm-7 23zm18 191zm-9-76zm7-4zm-1-38zm4-31zm-5-33zm2-33zm-4-68zm6-16zm-10-3zm15 177zm-3 58zm3 26zm10 15zm9-8zm-10-71zm8-77zm0-53zm1-38zm6 84zm6 94zm114-322zm46 73zm91 237zm-2-46z"/>
<path stroke="#8bd646" d="M1923 981zm78 74zm24-479zm0 371zm5-369zm14 318zm-4 102zm31 76zm14-686zm18 594zm18-756zm-7 598zm11 235zm7-23zm-2-397zm14-412zm-5 204zm-1 320zm12 340zm4-42zm0-90zm5-658zm6 108zm1 211zm-6 79zm18-302zm0-89zm5-60zm-5-76zm10 66zm-4 80zm7 48zm5 56zm11-157zm16 657zm2-293zm-2-444zm17 119zm11 596zm-4-636zm1-67zm14 87zm5 30zm6 707zm-4-189zm5-549zm11-5zm7 25zm16 574zm25 0zm16 11zm23-112zm-4-2zm0-42zm-1-520zm2-7zm16 538zm-6 2zm4 23zm10 56zm1-13zm0-3zm3-23zm-1-586zm6-6zm5 553zm-3 20zm-3 1zm1 7zm2 9zm6 16zm10 26zm-6-5zm4-8zm-5-9zm9-18zm1-48zm-2-13zm0-24zm5 89zm-2 29zm7 32zm11 45zm-6-16zm10-38zm-10-78zm3-5zm15-274zm2 163zm-1 28zm-5 15zm5 83zm-4 24zm3 25zm-2 8zm6 41zm-4 16zm4 10zm-5 8zm15-9zm-4-54zm5-176zm6-115zm-1 243zm9 41zm-11 105zm15-6zm-1-46zm-1-73zm3-67zm0-166zm4-10zm8 62zm-1 51zm1 29zm7 118zm-8 24zm4 12zm-4 0zm16-139zm8-66zm-2 16zm7 36zm-8 29zm3 16zm1 76zm17 30zm-8-31zm8-2zm-2-16zm-3-60zm4-15zm2-50zm-10-39zm3-2zm7-5zm13-421zm-4 6zm2 422zm0 7zm2 104zm2 101zm8-10zm-7-114zm8-10zm5-92zm1 16zm7 157zm-8 48zm7 13zm8 2zm2-40zm1-132zm-1-69zm10-9zm3 41zm1 213zm8 21zm4-16zm-2-3zm-6-19zm7-7zm1-106zm-10-73zm11-4zm-6-8zm2-3zm13-7zm-8 43zm11 86zm-9 9zm4 31zm-4 15zm0 4zm20-25zm-1-14zm-4-14zm8-57zm20 7zm-8-25zm11 96zm15-72z"/>
<path stroke="#460a5d" d="M1910 1081zm13-130zm0 117zm31-214zm-3 228zm26-64zm47-285zm1 323zm11-182zm15-298zm12 344zm3 136zm18-126zm12-467zm-5 233zm-1 96zm9 201zm-10 35zm14-325zm17 351zm11-35zm-5-122zm87 184zm12-10zm0-6zm-3-67zm8-139zm-3-132zm-7-114zm20 428zm9-803zm42 539zm5-537zm25 653zm22-219zm38 329zm16-2zm-9 0zm4-4zm23-764zm19-17zm0 769zm13 29zm-3-38zm0-2zm-8-749zm9-10zm-3 0zm-4-5zm16 2zm-1 5zm-3 1zm3 755zm3 6zm-3 2zm2 13zm0 0zm12 24zm4-23zm8-2zm-1 11zm8 2zm1-37zm8-15zm-9-1zm9-7zm11 28zm1 26zm-1 6zm-6 5zm-1 3zm16 3zm4-4zm-4-28zm-7-19zm3-11zm7-4zm11-10zm-1 5zm-7 36zm3 8zm-3 15zm19 15zm0-30zm-3-15zm11-32zm-1 5zm1 4zm6 24zm7 44zm-3-10zm9-21zm-6-12zm-1-6zm-4-7zm0-22zm12-7zm6 24zm4 3zm-8 9zm4 16zm-2 0zm-3 11zm8 2zm9-17zm-4-420zm2-5zm355 233zm24-8zm12 1zm-3-1zm-3 0zm16 6zm-8 3zm2 3zm19-16zm2 17zm39 57zm16 26zm-3 20zm2 9zm2 4zm-6 10zm1 2zm17 0zm-8-13zm11-21zm-4-16zm10 44zm11 17zm-2-10zm4-11zm1-9zm8 6zm19 20zm0-7zm-9-1zm3-6zm18-10zm-10 11zm7 8z"/>
<path stroke="#38598c" d="M1901 987zm6 69zm6-7zm-1-18zm31 3zm-10-64zm17-79zm20 67zm1 170zm11-57zm9-35zm-5-176zm-5-35zm13-42zm5 95zm-5 10zm6 126zm-6 24zm-1 2zm6 13zm13 64zm0-122zm-3-4zm6-36zm-6-94zm7 28zm0 188zm14-229zm19-108zm-8 329zm16 20zm5-45zm-6-336zm14 321zm23-182zm6 201zm11-32zm-10-90zm6-179zm4-101zm13 14zm-2 8zm-2 206zm-4 248zm16-53zm11-71zm4 14zm8-78zm13-270zm0 263zm10-6zm2-21zm-3-187zm14 29zm-1 223zm-4 53zm1 3zm18 73zm3-124zm-9-186zm7-156zm2-3zm8 203zm-4 118zm4 2zm13-17zm-3-20zm-5-97zm3-31zm-1-86zm-1-42zm19 194zm-4 68zm2 47zm15 32zm-8-35zm0-14zm6-46zm-2-24zm17-77zm-10 134zm14 131zm19-820zm1 700zm32-230zm14-71zm-2 313zm34-265zm690 235zm49-17z"/>
<path stroke="#28ae80" d="M1925 919zm0 111zm3 64zm5-105zm22-41zm-8 6zm4 95zm17-195zm4 115zm16-142zm12-58zm3 162zm-10 14zm8 64zm-2 39zm1 36zm5-181zm2-101zm0-314zm15 2zm-4 13zm-1 373zm21-8zm1-9zm7 165zm10-131zm3-67zm12-445zm-7 557zm15 31zm-3-153zm0-3zm2-522zm10 59zm1 14zm2 5zm3 2zm-5 12zm8 48zm-2 31zm3 499zm5 159zm3-93zm1-45zm1-192zm-6-333zm-1-107zm17-33zm4 11zm0 19zm-7 56zm7 33zm-2 2zm2 358zm-8 80zm10 130zm3-565zm2-82zm-5-21zm9-109zm3 66zm11 24zm-7 20zm0 27zm6 42zm-5 54zm-1 583zm11-618zm16-203zm3 27zm-9 34zm0 56zm5 86zm3 7zm-7 409zm0 171zm9 30zm8-350zm2-82zm1-250zm-1-30zm-1-41zm8-8zm4 34zm-4 434zm-4 28zm0 62zm1 7zm21 167zm-7-55zm3-54zm-4-71zm9-585zm9-1zm-1 546zm13-161zm-7-340zm16-60zm5 49zm-8 18zm2 104zm-4 15zm3 446zm1 64zm5 43zm5 91zm-1-387zm6-393zm-2-9zm-4-43zm21 52zm-1 331zm-3 6zm12 357zm3-668zm0-19zm-1-17zm2-35zm-1-28zm-7-11zm-1-9zm9-45zm7 82zm-4 48zm5 31zm-2 8zm4 375zm1 96zm-3 22zm-1 64zm-4 89zm14 39zm1-852zm-2-16zm11 130zm-1 487zm15 227zm5-171zm11-563zm-1 629zm18-637zm12 587zm49 5zm47 76zm5-13zm28 43zm35-50zm29-24zm17-220zm67 101z"/>
<path stroke="#1f968b" d="M1866 1043zm4-1zm7-24zm-4 6zm0 0zm6 1zm4 11zm-5 35zm14-5zm-3-13zm-1-18zm-2-26zm8-67zm13-12zm-8 91zm-2 11zm4 1zm8 49zm0-9zm-1-14zm9-89zm2-11zm0-8zm7 13zm4 28zm9 123zm-2-25zm3-27zm-6-12zm3-2zm6-11zm-2-57zm0-80zm-9-22zm22-3zm-8 81zm-2 33zm0 23zm4 26zm-4 1zm1 7zm1 7zm2 31zm11 40zm6-43zm0-33zm-1-26zm-5-8zm-3-2zm10-63zm-4-50zm2-49zm5-20zm10 4zm-11 6zm6 41zm-3 1zm1 50zm-3 13zm0 69zm5 17zm0 71zm3 19zm3-17zm9-23zm-6-7zm8-22zm-10-18zm4-4zm-3-37zm5-37zm-3 0zm-4-45zm7-73zm3-7zm-5-3zm8-54zm0 31zm7 3zm3 3zm-10 1zm2 11zm0 29zm7 33zm0 33zm1 24zm-8 11zm7 19zm-10 20zm4 6zm6 42zm-7 5zm4 44zm3 12zm-8 31zm16-35zm-5-35zm0-1zm0-1zm10-106zm-11-36zm10-2zm0-58zm-7-80zm17-39zm0 59zm1 7zm-4 53zm-3 13zm1 10zm5 19zm1 28zm-8 109zm5 8zm4 5zm-1 22zm12 23zm-4-1zm-2-19zm-2-4zm9-38zm-10-28zm11-15zm-2 0zm-9-6zm4-25zm6-30zm-1-1zm-7-16zm7-9zm-4-23zm4 0zm-2-52zm0-38zm-7-3zm5-9zm3-6zm-7-42zm21-6zm-3 4zm-4 58zm5 20zm-7 35zm5 18zm1 35zm0 29zm-3 98zm3 13zm0 2zm-5 14zm2 41zm5 1zm-1 27zm11-140zm-5-64zm9-1zm-6-69zm-1-10zm6-2zm-6-9zm7-46zm-5-9zm3-18zm-2-12zm-3-17zm8-22zm3 125zm-3 5zm11 4zm-2 12zm-2 27zm-3 4zm3 1zm4 45zm-3 25zm-1 10zm4 33zm-2 28zm1 16zm-9 3zm3 69zm10 15zm-1-4zm9-24zm1-9zm-1-39zm0-7zm-7-9zm4-52zm1-41zm3-15zm-8-10zm1-22zm7-35zm-7-52zm-1-9zm-3-68zm6-7zm0-3zm-6-18zm9-1zm-3-20zm16 39zm-1 2zm-5 10zm4 21zm-3 32zm3 1zm-4 65zm3 4zm-5 72zm-2 29zm11 0zm-7 4zm5 17zm-1 39zm3 10zm-1 7zm1 22zm-5 1zm-2 5zm5 11zm-9 13zm10 17zm13-44zm-3-14zm-4-1zm-2-22zm-2 0zm0-53zm1-23zm9-67zm1-10zm-7-21zm7-42zm0-97zm-10-15zm16-33zm2 93zm-7 11zm2 7zm2 46zm1 7zm2 2zm-6 48zm4 58zm-4 27zm1 38zm0 13zm4 102zm8 18zm0-16zm4-40zm1-9zm-5-17zm-2-48zm5-13zm3-7zm-4-6zm-4-77zm10-114zm-8-27zm8-21zm0-3zm-2-60zm7-31zm4 6zm-4 14zm8 126zm-2 34zm-1 9zm-8 27zm8 59zm-3 40zm-3 9zm9 85zm0 40zm7 12zm4-2zm1-14zm-4-43zm4-34zm-9-41zm-2-33zm5-61zm3-18zm-2-68zm0-49zm-5-22zm9-3zm-3-72zm12 78zm0 36zm-5 2zm7 42zm2 32zm-5 44zm-6 33zm4 7zm0 24zm1 20zm5 72zm-10 43zm4 1zm-3 19zm5 2zm4 10zm-6 8zm14-55zm-5-55zm10-35zm-4 0zm1-96zm-6-3zm1-17zm2-6zm-4-26zm8-11zm-6-17zm-1-17zm0-3zm2-71zm-2-3zm-2-35zm11-5zm-8-28zm8-14zm3 11zm-2 15zm10 3zm-4 13zm-4 32zm3 14zm-3 24zm2 57zm2 14zm-5 3zm1 33zm5 14zm-1 23zm4 32zm-7 4zm-2 13zm1 23zm3 36zm-1 2zm1 6zm-5 19zm1 12zm5 6zm0 8zm-1 2zm4 17zm-1 13zm2 15zm1 27zm2-22zm6-29zm1-40zm0-9zm-4-39zm7-4zm-7-13zm-1-14zm7-10zm-9-93zm0-43zm2-19zm4-9zm-5-23zm2-11zm0-30zm2-64zm-5-19zm11 13zm8 2zm3 2zm-3 28zm1 1zm-1 13zm2 39zm-1 30zm1 5zm-10 37zm0 49zm4 23zm1 36zm-3 52zm0 18zm-1 24zm9 72zm-1 6zm-1 6zm0 25zm8-20zm2-35zm-2-50zm-3-32zm-1-56zm6-32zm4-188zm-1-4zm1-16zm-3-12zm-2 0zm6-4zm-5-9zm4-10zm-7-2zm8-15zm-3-2zm3-1zm8 19zm2 0zm2 52zm-1 0zm-8 7zm7 53zm-5 6zm-4 5zm9 48zm1 7zm-4 4zm2 65zm2 43zm-7 8zm1 1zm1 25zm-3 5zm2 7zm6 7zm-2 24zm-3 28zm2 10zm4 7zm-3 27zm15-205zm-7-8zm1-8zm3-52zm3-30zm-6-7zm0-8zm2-35zm0-6zm-6-3zm1-22zm1-46zm-2-1zm7-8zm1-1zm-6-14zm11 22zm6 43zm0 3zm-6 9zm-2 54zm7 30zm1 2zm2 42zm1 19zm-1 49zm-8 74zm4 18zm-1 29zm-3 19zm1 20zm1 11zm2 9zm12 0zm-4-1zm-2-45zm3-7zm0-11zm-3-1zm1-1zm1-3zm3-49zm-3-7zm1-15zm4-35zm-1-6zm3-10zm-5-12zm3-1zm4-51zm-7-7zm6-8zm-2-16zm-5-61zm3-23zm-3 0zm-2-30zm3-16zm5-12zm-4-12zm-1-6zm16 32zm2 13zm-8 24zm2 34zm6 48zm-6 28zm7 0zm-1 27zm-5 48zm3 10zm1 43zm-4 41zm-1 50zm9-11zm2-87zm4-37zm-7-2zm11-18zm-9-9zm2-3zm1-11zm3-18zm3-17zm-1-28zm-2-1zm-3-2zm-4 0zm5-38zm-2-58zm10-25zm1 10zm0 3zm3 6zm-4 124zm3 110zm-1 18zm-1 7zm14 60zm-3-2zm2-43zm4-4zm1-5zm-5 0zm-2-2zm9-72zm-2-6zm-4-5zm2-81zm-1-14zm2-15zm3-8zm-6 0zm6-18zm-10-70zm14 12zm8 11zm0 51zm-9 12zm9 17zm-1 73zm1 6zm-3 1zm-7 38zm11 77zm7-18zm-7-41zm6-86zm-5-15zm1-74zm2-14zm-1-6zm-1-23zm-2-13zm13 19zm7 34zm-3 13zm6 152zm-3 2zm4-95zm112 164zm49-203z"/>
<path stroke="#238a8d" d="M1864 1061zm1-77zm11 31zm7 12zm-5 15zm17 31zm-11-14zm3-42zm8-13zm-9-6zm8-16zm8-14zm1 4zm0 21zm1 10zm2 5zm-5 2zm6 37zm-11 22zm0 28zm20-17zm-7-6zm2-11zm2-3zm4-37zm-8-75zm13-7zm-2 22zm9 2zm2 9zm-7 5zm2 16zm-3 4zm6 4zm-9 53zm8 1zm-5 5zm2 13zm3 23zm0 11zm4 1zm2-27zm-1-28zm4-26zm2-14zm-1-24zm3-47zm-2 0zm1-7zm-5-4zm6-3zm-8-37zm7-4zm-5-5zm6-6zm5 37zm4 22zm1 44zm2 30zm-7 3zm5 5zm-3 32zm3 7zm2 40zm4 21zm1-35zm4-14zm-5-11zm4-56zm-1-1zm-4-5zm1-3zm4-24zm6-7zm0-36zm10-45zm-3 4zm-1 0zm-5 24zm5 2zm-1 5zm-2 11zm3 7zm-1 65zm4 1zm0 2zm-1 3zm-4 58zm-1 10zm7 17zm12 44zm-8-48zm2-14zm5-1zm-7-6zm8-23zm-2-88zm-3-41zm1-24zm6-43zm-4-2zm-2-2zm-4-8zm6-4zm2-9zm14 4zm-1 109zm-1 5zm-6 35zm6 6zm-3 1zm3 9zm-1 31zm-2 9zm0 10zm-2 19zm-2 10zm7 17zm0 12zm-5 2zm13-2zm-3-1zm2-88zm5-7zm-1-2zm3-3zm-2-10zm-3-23zm4-7zm-3-40zm-3-48zm1-51zm-3-28zm-2-5zm21 3zm-7 42zm4 45zm2 42zm-7 17zm7 6zm-8 10zm2 52zm5 18zm4 3zm-8 43zm3 6zm-1 8zm-5 7zm0 10zm6 11zm-4 8zm5 10zm10-7zm-3-12zm1-9zm1-29zm-2-35zm-1-59zm-1-7zm9-5zm1-2zm-10-7zm8-40zm3-25zm-5-12zm-1-19zm6-11zm-10-21zm8-27zm-8-22zm7-26zm-1-38zm12 24zm3 10zm-2 10zm-1 6zm-4 23zm2 9zm-4 2zm3 26zm-2 18zm3 55zm-1 4zm6 4zm-8 55zm-1 29zm0 21zm1 49zm7 5zm2 4zm-7 19zm8 41zm6-7zm-1-11zm5-22zm-7-9zm1-32zm5-11zm-2-22zm-4-10zm6-1zm-5-28zm-3-1zm9-19zm-8-9zm-1-38zm10-9zm-8-30zm8-23zm-11 0zm8-7zm2-4zm-10 0zm4-7zm-4-11zm5-44zm2-10zm3-9zm1-6zm-4-27zm7-31zm5 3zm1 35zm-7 27zm6 55zm3 3zm-10 4zm7 20zm1 9zm2 9zm0 31zm-2 9zm-1 24zm3 17zm-7 47zm8 43zm-3 28zm-8 1zm8 20zm-4 29zm6 5zm4 19zm0-2zm8-57zm-9-6zm4-13zm4-1zm-1-4zm-4-6zm7-45zm0-7zm-10-8zm1-46zm2-48zm-1-81zm6-11zm0-2zm-2-10zm-1-17zm3-19zm-4-34zm17-40zm-8 16zm3 10zm5 38zm-4 2zm3 2zm-5 6zm0 26zm-3 52zm5 10zm5 6zm-7 57zm0 9zm-4 6zm8 4zm-8 37zm4 6zm7 13zm-6 17zm2 23zm3 7zm-1 2zm-7 5zm-1 30zm0 33zm5 14zm10 14zm-3-4zm5-21zm2-81zm-3-1zm-5-21zm2-33zm2-4zm-1-4zm5-8zm-3-7zm-3-7zm5-19zm-6-3zm7-4zm3-17zm-2-28zm-9-21zm11-1zm-2-16zm-8-10zm6-41zm-2-6zm0-1zm2-24zm4-1zm-4-12zm-5-3zm12-31zm-2 27zm1 2zm10 6zm-6 54zm4 4zm-6 52zm4 2zm3 22zm1 1zm-1 2zm-8 37zm-2 12zm5 1zm-4 29zm4 0zm4 14zm-3 4zm1 77zm4 2zm-5 4zm-2 46zm-4 31zm16-17zm3-2zm0-38zm-5-10zm0-11zm9-9zm-7-10zm5-27zm-1-30zm-3-1zm0-25zm3-23zm1-7zm1-1zm-3 0zm3-15zm0-3zm-10-11zm4-7zm2-88zm-5-16zm6-36zm-7 0zm7 0zm-4-1zm-1-1zm4-43zm-1-3zm-3-1zm9-7zm-5-29zm17-14zm-8 41zm-2 1zm2 44zm-2 5zm2 1zm6 47zm0 75zm-6 0zm7 16zm-1 2zm-6 41zm5 6zm-4 5zm6 13zm0 26zm-9 14zm1 22zm4 9zm1 18zm-2 15zm2 24zm4 17zm-3 4zm5 19zm6-14zm3-3zm-3-24zm-5-4zm6-16zm-6-12zm-1-14zm10-56zm-7 0zm-4-28zm4-18zm7-20zm0-5zm-1-7zm-7-76zm3-18zm5-8zm-2-6zm-2-5zm3-47zm0-17zm-8-2zm9-29zm5-35zm3 6zm4 3zm-2 21zm-9 19zm10 28zm-9 6zm3 17zm2 12zm2 68zm-2 9zm-2 13zm-1 17zm2 9zm-2 40zm-2 6zm3 12zm3 11zm-1 4zm-1 10zm-5 20zm2 59zm-2 33zm9 19zm-2 4zm4 25zm2 3zm9-76zm-1-12zm-9-8zm1-13zm10-14zm-8-5zm-2-20zm7-2zm0-5zm0-10zm-3-43zm5-53zm1-33zm-10-18zm3-8zm1-46zm4-3zm2-46zm-7-2zm7-21zm-11-4zm21-56zm-1 2zm-3 28zm5 6zm0 8zm-5 31zm6 9zm-6 34zm3 11zm1 14zm-7 23zm-2 4zm8 0zm-3 8zm6 17zm-9 37zm7 32zm-5 2zm6 5zm0 19zm-3 15zm-2 2zm3 9zm-7 2zm6 8zm2 13zm2 50zm-9 16zm0 2zm6 11zm-4 22zm-3 15zm13 45zm8-44zm0-27zm-8-10zm5-2zm-6-11zm4-9zm-3-2zm8-22zm0-18zm-10-46zm10-31zm-7-7zm8-34zm-4-12zm-4-7zm6-17zm2-18zm-6-1zm-3-1zm8-17zm-2-23zm2-13zm0-17zm-4-7zm-2 0zm-1-9zm-2-13zm-1-65zm23 9zm-2 0zm-6 1zm3 91zm5 3zm-8 78zm6 15zm-7 5zm-2 2zm4 2zm1 32zm-4 3zm10 71zm-7 46zm-2 22zm2 10zm7 12zm0 2zm-4 13zm16 35zm-5-20zm-4-28zm7 0zm0-32zm-6-11zm8-48zm-6-6zm1-29zm5 0zm-7-5zm3-79zm0-17zm3-10zm-7-41zm0-30zm-1-1zm9-53zm-4-2zm0-1zm0-35zm12 38zm0 12zm-7 26zm10 5zm-2 14zm-1 26zm-7 10zm11 18zm-3 19zm-7 16zm9 28zm-8 38zm-1 28zm4 2zm-1 24zm4 9zm2 2zm0 9zm1 11zm-4 4zm-1 11zm-6 1zm11 8zm-5 13zm4 26zm-9 2zm-1 4zm4 5zm-3 10zm3 16zm5 9zm7-28zm3-12zm1-27zm3-42zm-4-13zm4-3zm-9-4zm9-12zm-2-1zm-3-24zm1-94zm2-7zm-7-2zm2-39zm-1-8zm5-17zm-3-5zm2-15zm3-31zm-8-24zm14-46zm-2 14zm-1 2zm3 5zm5 5zm1 0zm-8 61zm4 59zm5 0zm-9 9zm2 7zm-4 2zm9 1zm2 4zm0 1zm-6 15zm-3 12zm7 14zm0 32zm2 13zm-8 12zm1 5zm-4 18zm7 27zm-5 59zm3 29zm13 44zm-2-23zm-3-7zm6-15zm4-14zm0-4zm-4-12zm0-21zm2-8zm-7-59zm9-7zm-2-4zm-9 0zm11-5zm-4-42zm2-2zm0-17zm2-19zm-6-1zm0-3zm6-12zm-8-11zm6-31zm-8-6zm9-31zm-2-72zm-2-13zm-1-4zm6-1zm11-9zm-9 11zm1 26zm3 30zm-5 29zm2 22zm4 6zm1 0zm-7 18zm7 1zm3 12zm-2 12zm-5 58zm8 43zm-10 20zm9 20zm-3 25zm4 39zm-5 9zm14 17zm-6-17zm-1-28zm8-5zm-9-37zm11-2zm-3-54zm-8-20zm7-1zm4-2zm-5-79zm2-34zm-1-26zm-4-16zm4-74zm12 3zm0 8zm4 5zm-4 26zm1 9zm2 31zm-3 5zm-6 49zm9 4zm0 8zm0 72zm-2 44zm-7 22zm9 22zm-7 14zm-3 12zm1 46zm11 15zm5-1zm4-40zm-5-14zm-2-3zm2-22zm-3-59zm1-4zm2-13zm6 0zm0-28zm-5-8zm-2-12zm-3-5zm0-79zm7-9zm-5-4zm0-14zm-1-11zm4-25zm-5-24zm20 19zm1 26zm-4 34zm6 15zm-2 0zm-4 1zm0 95zm-1 3zm4 9zm0 8zm-5 68zm4 3zm4 7zm-5 2zm3 3zm-6 10zm10 4zm1-8zm4-5zm3-33zm-8-2zm2-31zm3-27zm-6-44zm2-41zm1-5zm-3-42zm5-22zm2-3zm10-16zm-5 24zm4 76zm167 9zm132 21z"/>
<path stroke="#38b977" d="M1872 1002zm36-63zm25 24zm22-6zm0 109zm40-152zm19 180zm-3-181zm-7-425zm10-4zm7 10zm-3 1zm6 8zm1 335zm11-73zm23-465zm-5-15zm19 121zm0 40zm-1 404zm-8 147zm15-541zm6-118zm13 25zm-4 8zm5 46zm-7 22zm-1 19zm8 2zm-8 215zm-1 300zm15-545zm2-7zm1-2zm-2-7zm1-5zm-2-35zm4-1zm-6-8zm1-9zm7-25zm-9-9zm4-5zm-6-14zm4-28zm9 65zm5 3zm4 13zm-5 28zm6 8zm-11 2zm0 0zm5 2zm-2 14zm1 3zm4 1zm-8 13zm14 267zm0-238zm7-9zm-5-20zm2-9zm1-7zm-3-1zm0-15zm-1-13zm3-6zm-5-22zm1 0zm8-6zm-7-3zm-3-1zm0-33zm5-47zm0-4zm6-48zm12 12zm-2 2zm-4 40zm-4 19zm3 73zm5 18zm-1 29zm-3 10zm-5 10zm18 437zm-2-415zm3-5zm4-11zm0-37zm-5-18zm-3-43zm4-7zm0-9zm-1-21zm0-5zm-3-4zm2-15zm-1-24zm-2-9zm-1-2zm9-3zm-7-38zm1-10zm15 102zm-7 23zm2 1zm6 8zm-2 2zm3 1zm-8 7zm3 1zm6 30zm-7 11zm6 20zm-6 46zm2 5zm-3 10zm19 480zm-4-264zm-2-224zm6-15zm-2-7zm2-11zm0-1zm-9-1zm7-27zm-6-43zm8-1zm0-50zm-7-5zm7-19zm-1-11zm-5-40zm-1-36zm20 18zm-1 31zm-8 2zm0 26zm9 7zm-8 6zm2 5zm5 24zm-5 6zm-4 1zm4 10zm-1 3zm7 10zm-1 12zm-8 3zm6 33zm-3 79zm6 183zm-4 196zm5 93zm-10 21zm17 75zm1-149zm-7-442zm7-59zm-3-20zm6-9zm0-26zm-1-3zm-5-3zm0-1zm2-41zm3-6zm4-75zm2 21zm4 55zm2 17zm-6 3zm-3 20zm4 31zm7 4zm-4 33zm-5 55zm-2 356zm1 71zm10 140zm1 45zm10-311zm-6-311zm6-7zm-9-48zm2-2zm3-4zm-4-26zm-2-18zm5-9zm-4-1zm3-3zm-3-35zm7-9zm-2-5zm-6-22zm9-32zm-8-1zm8-4zm8-2zm-1 20zm5 29zm-3 11zm1 42zm-3 3zm2 43zm-5 68zm0 473zm2 173zm10-757zm1-27zm4-40zm-3 0zm6-7zm-5-11zm7-1zm-4-1zm-5-34zm21-11zm-6 17zm-5 39zm1 10zm0 23zm6 25zm-7 19zm2 338zm0 201zm15 129zm-1-180zm5-493zm0-18zm-9-15zm0-89zm6-10zm-3-3zm6-9zm7-8zm-4 86zm0 16zm10 48zm0 13zm-10 502zm23-505zm-11-64zm0-1zm17 66zm2 11zm2 6zm12 405zm-1-375zm11 421zm37-543zm37-47zm2 519zm-4 64zm14-582zm13 722zm9-122zm7-83zm14-17zm47 157zm30 44zm12-45zm6 62zm7-265zm5 143zm11-98z"/>
</g></g>
<rect x="358.8" y="15.3" width="282.4" height="223.0" fill="none" stroke="#777" stroke-width="0.8"/>
<rect x="644.1" y="15.3" width="7.8" height="223.2" fill="url(#vir)" stroke="#444" stroke-opacity=".8" stroke-width="0.5"/>
<line x1="651.9" y1="238.5" x2="654.8" y2="238.5" stroke="#444" stroke-width="0.7"/>
<text class="mp s" x="658.3" y="241.5">0</text>
<line x1="651.9" y1="199.5" x2="654.8" y2="199.5" stroke="#444" stroke-width="0.7"/>
<text class="mp s" x="658.3" y="202.5">2000</text>
<line x1="651.9" y1="160.5" x2="654.8" y2="160.5" stroke="#444" stroke-width="0.7"/>
<text class="mp s" x="658.3" y="163.5">4000</text>
<line x1="651.9" y1="121.4" x2="654.8" y2="121.4" stroke="#444" stroke-width="0.7"/>
<text class="mp s" x="658.3" y="124.4">6000</text>
<line x1="651.9" y1="82.4" x2="654.8" y2="82.4" stroke="#444" stroke-width="0.7"/>
<text class="mp s" x="658.3" y="85.4">8000</text>
<line x1="651.9" y1="43.4" x2="654.8" y2="43.4" stroke="#444" stroke-width="0.7"/>
<text class="mp s" x="658.3" y="46.4">10000</text>
<text class="mp t" text-anchor="middle" x="499.8" y="10.2">cell_barcode</text>
<text class="mp s" text-anchor="middle" x="499.3" y="248.1">UMAP1</text>
<text class="mp s" text-anchor="middle" transform="translate(353.4 128.7) rotate(-90)">UMAP2</text>
<text class="lab" x="359.7" y="9.9">(b) Patient P2</text>
</g>
<g id="panel-c">
<g clip-path="url(#clc)"><g filter="url(#bl)">
<polygon points="33.1,368.9 32.4,376.3 37.3,392.0 41.3,409.9 49.3,428.0 57.3,447.7 67.1,463.5 78.7,478.9 94.1,488.5 106.0,494.4 113.3,490.8 120.6,483.6 130.3,469.8 138.3,454.0 144.5,438.9 145.0,428.5 137.9,398.3 134.9,380.5 128.7,370.0 117.9,361.9 101.0,356.2 75.3,355.2 56.0,356.2 39.3,362.7" fill="#1e9c89" fill-opacity="0.15"/>
<polygon points="220.7,389.1 215.9,437.3 213.2,450.4 212.5,451.8 211.3,452.8 198.9,457.8 195.1,460.3 197.3,463.6 205.4,467.6 215.5,467.8 216.9,468.5 220.7,472.3 225.8,471.5 249.7,463.1 261.0,454.1 267.9,442.5 273.8,428.3 276.2,414.2 276.2,400.4 273.5,393.3 260.6,391.1 233.9,382.6 226.2,383.6" fill="#3bbb75" fill-opacity="0.15"/>
</g></g>
<g clip-path="url(#clc)"><g transform="scale(.2)" fill="none" stroke-linecap="round" stroke-width="7.50">
<path stroke="#1f968b" d="M162 1856zm38 105zm-6 18zm25-129zm6 15zm2 68zm12 146zm-6-88zm2-54zm-5-8zm10-19zm1 164zm21-176zm1-118zm6 169zm-5 118zm5 11zm5 180zm6-161zm-1-110zm4-90zm2-27zm-2-62zm-3-24zm11 137zm0 64zm17 118zm2 0zm-1-308zm8 1zm-1 47zm4 72zm1 35zm-2 199zm-3 159zm19-3zm-7-75zm-4-122zm10-10zm-1-178zm4-120zm5 112zm1 92zm-4 73zm17 258zm-2-21zm3-52zm1-47zm0-72zm-8-220zm3-138zm15 78zm1 60zm2 141zm-11 145zm3 23zm-1 29zm6 26zm-1 80zm2 9zm7-16zm2-160zm2-242zm13-157zm1 76zm-5 20zm-1 21zm3 237zm-2 15zm3 44zm3 49zm-4 119zm10-54zm0-51zm2-258zm-7-97zm21-110zm-7 222zm4 132zm5 81zm-5 98zm11-211zm3-27zm-4-227zm0-21zm18-22zm-4 82zm-2 69zm4 176zm-4 97zm1 41zm12 116zm-3-61zm6-95zm-3-120zm-1-206zm-1-49zm7-51zm9 45zm2 103zm2 408zm-10 50zm18-163zm-2-10zm-4-82zm1-82zm7-88zm-2-34zm15-109zm-4 130zm1 103zm-6 123zm7 123zm3 65zm10 7zm0-136zm0-222zm-1-11zm-8-13zm11-160zm-3-79zm7 378zm3 43zm-1 53zm1 116zm9 73zm-2-188zm3-29zm6-52zm-6-348zm0-33zm18 116zm0 164zm11 247zm-3-13zm-3-27zm-3-61zm2-1zm6-58zm-6-8zm5-25zm-4-71zm4-74zm-3-5zm9-34zm10 27zm-3 59zm-3 113zm1 99zm5 149zm2-60zm-1-47zm1-60zm1-50zm7-61zm-1-225zm-7-43zm11-92zm6 198zm1 4zm4 2zm-6 19zm-2 34zm8 17zm-4 304zm5 34zm3-133zm8-6zm-1-42zm1-130zm0-25zm-1-95zm-9-140zm22 49zm-8 70zm7 95zm-3 209zm3 12zm1 71zm-9 29zm14 46zm-4-46zm10-175zm-8-35zm8-41zm0-195zm13 153zm-4 210zm2 54zm13 13zm-10-1zm11-14zm-1-274zm-1-129zm-2-33zm12-42zm-1 146zm-4 185zm0 24zm4 50zm-2 33zm14-146zm2-12zm2-273zm7 54zm-1 3zm0 13zm7 151zm-3 91zm-2 85zm-1 18zm15 15zm-1-51zm0-102zm1-478zm9 381zm-2 8zm5 113zm-1 29zm4 99zm-7 9zm16-70zm-1-56zm-3-33zm-2-151zm10 187zm39-304zm9-16zm15 18zm-3-208zm10-13zm0-24zm3 124zm31 442zm55-412zm146 545zm40-58zm3 15zm8-128zm6 142zm13-34zm1-229zm10-31zm3 128zm3 26zm7-81zm2-104zm12 27zm2 74zm-7 37zm17 205zm12-243zm-1 82zm3 52zm4 49zm-2 51zm3-384zm12 69zm1 13zm4 21zm2 129zm0 181zm13-203zm-7-24zm7-157zm7 243zm2 57zm5 52zm3-172zm14-27zm11 216zm9-67zm-9-2zm4-187zm3-78zm4 55zm9 16zm-5 200zm17 36zm-7-259zm12-50zm5 67zm2 106zm2 139zm6-61zm5-203zm8-80zm-6 7zm2 105zm5 13zm9 173zm-1-237zm17-39zm1 61zm-4 236zm17-270zm7-5zm-6 5zm9 46zm0 2zm5 130zm2-91zm5-34zm10-38zm-4 26zm3 117zm15-95z"/>
<path stroke="#460a5d" d="M160 1932zm6-31zm0-45zm9 22zm-6 92zm16-30zm9-133zm5 126zm14 154zm-7-125zm5-151zm16 152zm0 58zm8-38zm4-120zm-3-35zm10 13zm-1 27zm-5 44zm3 144zm-2 41zm-1 10zm13-78zm0-9zm6-73zm3-89zm-8-33zm16-14zm4 80zm-4 127zm2 103zm12-109zm-7-76zm4-41zm1-19zm-1-7zm14-26zm8 290zm0-165zm1-57zm7-20zm-3-50zm-1-51zm8 37zm5 33zm3 234zm0 46zm1-156zm6-59zm7-75zm9 5zm16-37zm18 537zm-1-231zm1-30zm3-51zm-11-11zm8-40zm-2-74zm3-154zm4-4zm4 252zm-3 38zm17 22zm3-58zm-4-221zm8 157zm15 154zm-5-165zm29 203zm3-93zm3-12zm-7-120zm-3-31zm21 67zm-7 338zm30-499zm2 5zm-7 24zm0 147zm-1 47zm9-104zm4-27zm15-69zm24 61zm18 129zm27-123zm6 88zm29 17zm4-52zm-2-43z"/>
<path stroke="#1fa287" d="M147 1829zm2 35zm2 35zm3 61zm11-60zm1-69zm7 7zm6 62zm8 50zm15-102zm-5 80zm2 50zm1 114zm27-274zm-10 44zm-1 80zm1 138zm2 3zm20 22zm-2-35zm-7-102zm7-63zm3-79zm7 79zm-1 164zm6 97zm3-337zm18 59zm-8 165zm5 4zm-4 100zm7 22zm2 7zm4-17zm16-388zm-7 375zm9 94zm-9 5zm20-92zm-6-105zm20-263zm-10 109zm5 7zm2 2zm3 113zm5 171zm10-417zm7 35zm-3 26zm-2 96zm7 22zm-7 167zm12-137zm-2-25zm5-81zm11 10zm-4 393zm16 78zm-2-82zm0-13zm-3-122zm7-181zm-6-208zm15 74zm7 288zm0 180zm22-527zm2 167zm-4 21zm0 351zm0 75zm3 22zm3-7zm8-313zm-9-240zm7-50zm14 152zm-8 129zm5 62zm-4 39zm13-39zm-1-281zm14-15zm4 208zm13 319zm-8-4zm9-30zm-9-71zm5-197zm-4-118zm6-152zm9 95zm1 504zm9-136zm-3-179zm5-134zm-5-10zm1-16zm20-60zm-8 3zm1 72zm9 29zm-3 262zm2 233zm8-181zm2-330zm-6-74zm10-55zm9 30zm-2 47zm-2 158zm1 113zm-5 210zm0 22zm11 26zm3-2zm8-5zm-4-10zm1-37zm3-2zm-1-84zm-5-513zm7 15zm8 198zm-4 135zm3 129zm9 209zm8-565zm0 116zm3 420zm20 4zm-7-62zm5-40zm-8-248zm22-282zm0 64zm-7 182zm-3 43zm19 285zm-3-14zm2-25zm3-2zm-5-75zm-4-225zm9-163zm-7-6zm14 174zm-3 187zm6 2zm-6 57zm18 22zm-3-24zm4-175zm-2-207zm-3-17zm16 258zm-3 89zm6 36zm9 94zm-4-24zm-3-13zm2-28zm4-8zm-6-11zm6-74zm12-288zm-4 275zm2 86zm-4 41zm19-283zm2-264zm-5-67zm13-57zm2 354zm-1 2zm-5 4zm2 68zm7 36zm0 20zm-10 84zm10 0zm-5 41zm17-8zm-1-193zm2-339zm8 174zm5-37zm1-60zm3-31zm8 400zm23-323zm4 61zm19-293zm25 334zm67-393zm18 44zm61 653zm32-1zm-3 90zm47-39zm5 15zm8-115zm-4-78zm0-96zm15 110zm-2 15zm0 111zm2 7zm-6 25zm21-8zm-3-155zm29 163zm-9-110zm-1-34zm9-36zm4 90zm19 14zm-6-24zm2-141zm-4-97zm11-41zm0 109zm9 42zm-2 25zm-5 97zm8 48zm-5 16zm7 4zm9-117zm-8-173zm12-51zm0 11zm9 4zm-5 22zm-4 6zm7 137zm-6 33zm6 177zm15-83zm-2-170zm14-15zm-8 54zm1 42zm7 7zm-7 53zm1 119zm7 18zm11-31zm-4-50zm3-144zm-6-22zm-2-10zm0-157zm18-1zm-5 5zm1 80zm-3 176zm-1 13zm9 13zm6 65zm-2 0zm5-59zm-1-123zm4-81zm-8-42zm14 40zm-1 11zm21 273zm-10-176zm4-27zm5-57zm-7-27zm5-24zm-8-7zm22-4zm-8 75zm0 75zm6 75zm2 88zm7 26zm0-7zm1-98zm-4-60zm-1-31zm3-31zm0-18zm-2-43zm-2-9zm0-32zm20-37zm-6 28zm9 33zm-7 110zm6 52zm-6 64zm7 61zm6-111zm15-209zm-5 29zm8 206zm-9 36zm12 1zm6-11zm-8-60zm7-12zm0-3zm-7-207zm33 285zm-2-49zm4-36zm-1-118zm-8-21zm10-35zm2 34zm12 160zm1-14zm7-52zm0-9zm0-2zm-10-48zm19-89zm-4 22zm1 100zm-4 22z"/>
<path stroke="#8bd646" d="M151 1919zm34 83zm30 4zm-2-4zm10 2zm7 144zm-1 0zm4-92zm-5-16zm1-51zm7-172zm13 127zm-7 23zm0 76zm10 61zm4 0zm-1-65zm-3-162zm11-62zm2 259zm6 9zm4 55zm-2 22zm-4 87zm9-36zm4-109zm-3-41zm-3-19zm0-105zm1-131zm13-17zm0 176zm-1 137zm-1 70zm0 72zm12 9zm8-95zm1-43zm-2-46zm3-24zm-1-7zm-5-175zm8 78zm5 213zm12 103zm5-173zm-8-211zm10 19zm11 72zm-6 23zm-2 281zm14 68zm-3-21zm0-1zm0-22zm-1-296zm9-95zm-8-17zm0-36zm15 29zm-5 77zm9 5zm-4 13zm6 132zm-4 221zm5-40zm1-260zm-1-47zm2-31zm2-18zm-2-36zm21-111zm-11 80zm0 6zm2 13zm20 310zm-9-39zm1-36zm-1-289zm5-12zm12 86zm-5 5zm9 131zm-1 50zm-9 142zm11 127zm-6 27zm7 24zm8-189zm3-45zm0-30zm0-92zm-10-57zm2-153zm17-46zm-2 75zm-3 16zm0 69zm0 54zm1 397zm12-95zm-3-13zm10-112zm-7-187zm-4-47zm2-78zm8-50zm24 430zm-1-40zm-9-17zm0-178zm9-51zm-7-71zm7-4zm1-26zm7 261zm-5 11zm1 51zm0 166zm6 113zm7-66zm4-34zm-5-63zm6-485zm10-25zm6 90zm-4 26zm-5 177zm4 136zm5 142zm-6 17zm-4 63zm16-126zm4-21zm2-7zm-11-286zm3-205zm19 190zm-9 234zm4 172zm14-245zm-3-71zm-4-152zm1-35zm16-95zm-2 40zm1 444zm-3 198zm22-224zm-1-49zm-2-279zm1-58zm-5-27zm10 63zm6 154zm-6 141zm-2 12zm8 78zm1 140zm4-37zm0-394zm21-167zm0 6zm-10 122zm1 219zm9 145zm9-215zm3-41zm0-14zm0-42zm-3-119zm-3-73zm8 287zm5 97zm6 87zm10 78zm-1-15zm-8-9zm4-142zm7-310zm9-6zm-1 4zm0 124zm4 211zm-11 66zm13 36zm1-55zm4-32zm-5-111zm3-187zm6-180zm3 178zm9 110zm10 203zm0-45zm-5-105zm0-402zm19-15zm-10 20zm1 392zm1 1zm6 141zm1 46zm11-89zm-5-469zm-2-20zm15-57zm4 220zm2 2zm-6 173zm3 150zm6-3zm7-61zm-7-77zm1-256zm-2-92zm5-34zm11-91zm7 15zm-4 29zm-7 23zm9 61zm-4 1zm0 6zm-4 27zm8 69zm12 133zm-8-40zm5-50zm-6-52zm9-92zm-1-39zm-8-84zm13-25zm0 84zm7 6zm-8 2zm9 41zm0 64zm-9 41zm9 124zm2 11zm-5 4zm14-1zm-1-68zm-4-177zm2-37zm10-141zm-3 82zm0 56zm4 250zm17 56zm-3-27zm5-28zm-10-19zm1-112zm9-236zm-11-27zm20-11zm-2 7zm-5 386zm0 33zm4 38zm18-53zm-4-148zm14-226zm-4 376zm7-425zm13 266zm4 18zm3 103zm-3 10zm-5 9zm14-76zm19-72zm127 547zm-1-8zm3-2zm17 32zm21-208zm-1 207zm26-198zm8 74zm-5-126zm21 62zm8-101zm13 61zm-3 245zm14 11zm3-262zm-1-41zm16-80zm-10 236zm18-139zm9 179zm-2 8zm18 71zm0-79zm3-244zm-4-55zm8 44zm1 41zm-4 65zm7 150zm-2 51zm17 33zm-5-2zm2-281zm-1-95zm-2-13zm18 369zm3-117zm3-67zm6-43zm-9-60zm13 32zm8 123zm-1 9zm-2 70zm-3 52zm9-85zm16-194zm6 79zm3 140zm0-70zm19 69zm14-254zm29 128zm10 105zm6-275zm4 84z"/>
<path stroke="#efe51c" d="M287 2174zm2-29zm3 71zm32 15zm16 40zm12 66zm-2-54zm10-131zm18 239zm1-84zm2-112zm11-9zm2 44zm-5 10zm-3 23zm9 61zm-4 11zm3 16zm5-26zm7-292zm10 281zm-3 80zm9-64zm19-269zm-6 19zm7 155zm-3 147zm9 13zm5-2zm-8-54zm-1-85zm5-29zm3-7zm6 109zm2 58zm18 66zm-5-29zm-5-45zm4-26zm1-5zm-3-10zm1 0zm17-171zm-7 182zm5 5zm5 37zm-5 52zm15 0zm0-22zm-4-116zm2 0zm14-112zm-2 106zm-3 130zm5 9zm9 31zm-6-39zm6-2zm-5-63zm5-20zm-3-93zm19 10zm0 109zm-7 1zm6 71zm2 17zm2 19zm-1-22zm4-3zm-1-9zm2-74zm-4-138zm1-270zm21 67zm-7 111zm3 9zm-4 43zm0 228zm5 48zm7-46zm-1-41zm-2-2zm4-410zm19 7zm-2 197zm-2 2zm-7 153zm0 41zm2 101zm10-75zm9-144zm-7-97zm0-31zm0-75zm19-104zm2 283zm-1 52zm-4 57zm-1 48zm10-50zm3-58zm5-64zm11-40zm-7 28zm-1 71zm-2 57zm1 18zm4 13zm2 9zm13 23zm0-12zm-1-14zm1-89zm0-26zm2-5zm-7-12zm0-8zm17-236zm-3 132zm0 39zm4 91zm7 73zm4-47zm-6-38zm4-80zm-2-9zm6 0zm6-395zm-2 217zm12 239zm-2-49zm9-9zm-4-25zm5-10zm-6-155zm15 168zm4 14zm0 38zm-2 73zm7 16zm-2-1zm3-34zm1 0zm2-73zm6-17zm0 36zm10 49zm3-90zm2-30zm8 64zm22-500zm-5-60zm22 184zm19 51zm6-159zm24 42zm0-57zm6-82zm-5-40zm1-53zm11 98zm-1 41zm5 4zm-3 12zm2 241zm4-24zm-1-16zm10-7zm-3-92zm-5-79zm7-40zm-6-68zm5-4zm6 321zm1 44zm10-105zm3-4zm1-123zm4-8zm1-25zm-10-17zm0-1zm13-105zm0 2zm5 80zm-5 2zm2 30zm6 10zm-5 3zm6 22zm-6 51zm0 12zm-2 151zm16-328zm2-62zm161 824zm4-64zm13-60zm23-234zm28 74zm22-62zm29 49zm14 18zm1 86zm71 86zm39 25z"/>
<path stroke="#472d7b" d="M213 1778zm11 102zm2 35zm17-38zm29 163zm10 42zm41 119zm26 124zm4-10zm0-237zm14-19zm4 245zm12-52zm-8-492zm17 178zm15 57zm4-50zm4 222zm6 217zm8-509zm13 206zm1 177zm-11 48zm21 123zm11-499zm1 152zm14 120zm-6-21zm1-79zm-4-37zm7-228zm11 109zm-1 393zm25-520zm-1 123zm-3 77zm7 143zm-8 43zm12-256zm9 265zm3 62zm-2 129zm15-469zm4-41zm2-55zm-5-18zm15 325zm4-90zm23-116zm-4 186zm14-246zm7 264zm4 171zm18-337zm10 362zm8-463zm9 76zm-4 197zm12-254zm15 129zm6 38zm16 60zm37-274zm8-57zm89 65zm11 40z"/>
<path stroke="#28ae80" d="M159 1893zm12-18zm1 70zm31-136zm-7 217zm13 48zm4-264zm14 98zm1 141zm4-104zm10-90zm4 84zm11 273zm-5-79zm10-17zm-8-59zm4-5zm1-3zm-7-53zm1-67zm3-38zm-3-38zm7-48zm12 53zm-3 186zm4 40zm1 19zm-6 18zm0 64zm15-5zm-2-67zm6-224zm-5-50zm0-35zm10 217zm13 246zm-2-26zm-2-75zm9-4zm-4-96zm2-136zm0-29zm11-50zm-2 82zm-2 6zm7 146zm-3 49zm-6 30zm2 96zm19-65zm-9-161zm2-24zm4-190zm14 163zm1 198zm-10 12zm4 55zm15 71zm-6-218zm4-24zm12-205zm-2 128zm-2 93zm6 117zm-3 74zm8 115zm7-123zm1-65zm-7-143zm7-74zm-6-62zm5-37zm-6-53zm16 60zm4 350zm-3 72zm0 31zm10 0zm7-225zm-10-100zm12-156zm10 108zm-9 83zm0 250zm11 120zm1-86zm9-3zm-11-144zm6-67zm5-146zm-4-54zm-6-21zm1-38zm2-118zm13 376zm4 231zm4-5zm10-303zm0-206zm0-20zm6 46zm3 203zm-7 89zm6 125zm11 130zm3-34zm-7-20zm-2-29zm8-56zm-8-17zm1-255zm1-249zm13 63zm5 28zm-6 29zm9 28zm-3 7zm-4 20zm-4 75zm11 55zm6 233zm5-77zm-8-216zm13-199zm3 7zm1 10zm1 82zm1 50zm0 118zm-7 63zm4 106zm-1 23zm-5 150zm8 47zm0 22zm7-236zm1-94zm7-149zm-5-13zm-4-41zm6-21zm-5-28zm3-63zm10-3zm-4 60zm5 39zm1 42zm-6 88zm7 31zm1 23zm-6 255zm10 86zm11-94zm-7-23zm4-34zm-6-26zm5-97zm-6-118zm0-23zm4-218zm9-4zm3 67zm3 17zm-5 87zm11 315zm3-46zm-1-74zm3-11zm-7-63zm1-1zm7-96zm3-12zm-2-55zm14-126zm-7 493zm18 67zm-7-25zm3-5zm-2-256zm0-43zm-3-127zm1-63zm21-49zm-7 67zm0 47zm3 212zm3 13zm-1 88zm-7 98zm19-48zm-2-68zm-5-206zm1-46zm11-92zm4 43zm0 26zm3 78zm0 35zm-6 125zm-1 5zm9 125zm5-130zm5-193zm-4-29zm-5-151zm21 263zm-6 118zm-1 66zm20 33zm12-272zm-10 119zm16 108zm7-23zm-9-94zm3-149zm4-257zm14 10zm-9 367zm12 14zm-1-171zm15-182zm-1 103zm6 305zm9-262zm-5-275zm21 170zm37-37zm-1-29zm-1-91zm3 15zm9 76zm-3 2zm19-196zm-1 52zm21 326zm7-281zm1 152zm24-224zm-2 219zm106 519zm17-22zm10 28zm7-9zm-3-47zm12 22zm1 28zm12-90zm15 111zm13-144zm9 54zm-5 4zm2 78zm12-27zm-6-128zm4-55zm-2-105zm15-56zm-4 16zm9 39zm-9 62zm8 66zm-5 45zm-5 4zm8 16zm-2 4zm9 131zm3-66zm2-214zm-1-77zm16-53zm-4 82zm-3 68zm-3 65zm3 61zm1 8zm-2 89zm9 58zm11-40zm0-51zm-7-23zm7-179zm-10-14zm15-92zm5 7zm-6 19zm-3 50zm7 212zm-7 23zm10 35zm1 40zm8 25zm-7-42zm1-79zm1-3zm7-9zm-9-13zm2-50zm5-23zm-5-6zm-2-5zm6-60zm-5-20zm10-122zm-8-36zm19 329zm6 64zm3-6zm4-26zm-8-2zm0-60zm-2-44zm3-67zm6-17zm1-9zm-4-27zm16-103zm-7 54zm-2 75zm5 36zm-2 111zm6 86zm12 27zm-3-90zm-2-31zm-1-168zm5-99zm2 6zm5 156zm-5 3zm4 30zm-3 9zm9 45zm-7 42zm0 50zm-1 13zm15-97zm-3-119zm6-17zm0-25zm-4-93zm10-8zm9 85zm-9 193zm3 2zm5 102zm12-39zm-5-34zm1-42zm3-69zm0-17zm2-2zm-6-132zm3-32zm-4-8zm10 58zm6 81zm3 35zm-3 76zm-4 107zm8-53zm8-195zm-6-60zm-2-7zm22 14zm1 69zm-8 24zm8 51zm-1 80zm-5 10zm10-29zm7-2zm-3-22zm4-42zm-9-132zm0-39zm4-4zm16 27zm-4 22zm-3 2zm4 14zm-7 93zm6 24zm-5 57zm10 5zm-11 40zm5 21zm9-51zm7-25zm-3-57zm-5-133zm1-41zm12-17zm2 50zm-3 11zm3 134zm2 22zm6 78zm4-1zm1-4zm2-20zm4-39zm-10-13zm8-14zm-6-20zm4-2zm2-49zm-9-8zm3-4zm-3-40zm11-21zm-2-6zm11-23zm-6 112zm7 30zm-5 55zm-1 27zm17-20zm-4-16zm6-14zm-8-28zm7-14zm-4-4zm7-67zm7 4zm0 8zm1 32zm-8 99zm17-67zm2-11zm1-26zm1-13zm10-49zm1 63z"/>
<path stroke="#31668e" d="M181 1854zm7-5zm9-24zm-3 88zm5 2zm8 146zm5-133zm-6-24zm16 131zm8-135zm4-15zm5-26zm-5-50zm15 73zm-5 29zm3 42zm-1 6zm-6 103zm11 9zm-3 11zm14-16zm-9-197zm18-60zm-3 30zm4 126zm2 179zm-5 71zm12-65zm3-234zm-1-13zm-3-87zm13 26zm5 12zm-3 169zm3 273zm2-4zm5-337zm5-13zm-7-14zm2-63zm2-6zm14-38zm-5 26zm-2 147zm8 111zm-5 1zm4 152zm11 19zm-5-278zm-2-43zm2-76zm12-12zm-1 434zm15-182zm4-80zm1-89zm-3-108zm2-70zm7 88zm7 7zm-2 11zm0 448zm11-311zm-2-128zm2-67zm-8-3zm4-7zm8 17zm8 284zm3 305zm8-207zm0-62zm-4-294zm0-59zm17 246zm-6 25zm4 14zm-3 34zm-1 298zm15-128zm3-38zm-7-210zm9-145zm2-9zm6 109zm10 433zm0-475zm4-3zm2-14zm-7-142zm12 20zm-2 12zm19 218zm-3-26zm0-53zm1-16zm1-94zm-4-71zm10 34zm-1 51zm5 316zm4 9zm14 91zm-5-38zm-3-42zm5-304zm-5-30zm20-92zm0 128zm-3 415zm15-328zm9-216zm-3 226zm-4 7zm5 78zm13 214zm4-166zm-5-283zm13 199zm-6 34zm4 377zm11 8zm1-235zm16-439zm-5 61zm-3 74zm6 40zm0 258zm12-238zm9-116zm-1 29zm7 202zm-1 112zm-9 22zm23-7zm-3-32zm-4-361zm8 91zm10 82zm-7 194zm20-12zm-9-213zm12-67zm21 294zm-7-146zm7-132zm6 157zm16 33zm10-194zm-4 82zm-3 21zm18-134zm15-180zm-1 526zm8-418zm5-19zm-5-169zm12 165zm13 146zm3-108zm6-127zm23-16zm21 147zm6 35zm9-266zm34 4zm11-4zm256 379zm34 311zm87-306zm33-31zm53 217z"/>
<path stroke="#38b977" d="M147 1841zm40 158zm-1-158zm26 111zm0-46zm-2-17zm4-107zm13 245zm1 94zm10-172zm-7-26zm20 60zm12 60zm-9-123zm19-28zm0 351zm14-260zm-2-7zm11-98zm-3 34zm2 148zm-2 1zm-1 17zm4 108zm9-183zm4-152zm11 273zm-4 42zm-4 75zm5 89zm10 20zm5-118zm0-10zm-2-35zm-2-314zm-3-59zm12 83zm2 125zm-2 12zm2 121zm-3 76zm3 1zm0 19zm5 14zm2 0zm-4 8zm16-35zm1-69zm-11-254zm8-69zm-7-47zm13 14zm3 146zm-3 277zm8 100zm12-137zm1-191zm0-96zm4-159zm1 21zm-4 320zm5 144zm14 87zm0-115zm-3-27zm0-36zm-4-95zm11-277zm1 153zm3 70zm2 19zm2 53zm-4 133zm3 14zm9-17zm8-33zm-9-23zm3-253zm6-120zm7 57zm1 52zm-1 71zm-1 22zm0 242zm5 28zm-8 40zm16-352zm0-16zm0-35zm0-62zm7-18zm7 63zm-3 65zm6 22zm-8 79zm7 148zm-10 46zm15 204zm-3-294zm8-101zm3-2zm-8-138zm1-75zm13 43zm0 34zm4 101zm-4 66zm-3 7zm4 12zm-3 156zm2 193zm9 30zm-1-162zm4-66zm6-2zm0-61zm-4-343zm2-34zm-4-15zm13 91zm-5 96zm-1 133zm6 312zm13 33zm-5-368zm2-160zm8 30zm6 270zm3 140zm12 71zm-2-41zm-7-124zm7-182zm-7-25zm5-3zm4-67zm-8-65zm1-17zm13-103zm2 105zm4 57zm-7 10zm-2 33zm6 140zm-4 36zm6 87zm-6 24zm0 31zm16 70zm5-40zm-4-86zm-7-46zm0-108zm10-122zm-1-111zm8-25zm3 119zm0 7zm-4 182zm-2 10zm9 48zm-10 83zm22 59zm-2-145zm-1-3zm-2-8zm-2-76zm0-76zm4-8zm0-84zm1-7zm14 209zm2 272zm-1-7zm10-250zm-1-256zm-2-107zm16 285zm-6 45zm-1 14zm-1 125zm18-370zm5 151zm-2 117zm3 102zm15-28zm3-9zm-1-133zm-3-37zm6-12zm-4-9zm-4-44zm14-372zm0 266zm2 8zm4 248zm3 179zm4-64zm3-230zm2-123zm-3-202zm-4-10zm16 206zm-1 149zm9 73zm-4-423zm18-28zm13 490zm1-444zm8 22zm2 62zm-6 63zm8 26zm12-329zm1-29zm3 33zm5 334zm17-214zm10 153zm15 75zm-11-72zm0-252zm20 138zm-2 61zm3 120zm-2 45zm21-404zm0 12zm-2 196zm3 21zm17 51zm-6-182zm-2-68zm-1-29zm34 77zm86 656zm2-3zm13-11zm16 38zm14-59zm-9 67zm14-2zm4-3zm4-16zm-3-14zm2-16zm1-7zm6-93zm3 143zm11-51zm0-1zm12-77zm3 122zm0 24zm9-14zm-4-77zm-3-131zm17-120zm-1 50zm1 93zm-2 63zm7 57zm-3 31zm4 1zm-9 17zm8 11zm-2 11zm7-24zm2-37zm4 0zm-6-29zm3-75zm4-70zm-8-10zm9-37zm-1-2zm-2-24zm11-53zm-3 15zm4 70zm-5 7zm-2 53zm-1 64zm3 13zm1 7zm1 2zm0 117zm2 37zm15-21zm-4-33zm1-38zm-6-5zm8-2zm-1-70zm1-145zm-6 0zm8-30zm12-111zm-6 29zm3 13zm3 53zm-6 148zm-1 31zm2 90zm-3 63zm16-4zm4-77zm-6-8zm0-21zm-2-27zm7-37zm-9-20zm1-57zm4-6zm2-64zm-8-30zm1-17zm10-10zm2 77zm9 10zm-9 144zm6 31zm-5 126zm13 11zm0-77zm7-17zm1-37zm-8-56zm5-1zm3-7zm-8-6zm-1-6zm2-13zm-3-51zm8-21zm0-39zm14-75zm-1 33zm-2 77zm-6 33zm7 42zm-3 36zm-1 31zm-3 56zm0 52zm-2 6zm17 34zm0-121zm-1-8zm7-79zm-3-26zm3-5zm-11-174zm1-19zm13 75zm-2 79zm4 16zm1 4zm0 18zm0 3zm4 45zm-9 76zm2 39zm4 46zm-4 10zm13 14zm-2-2zm8-18zm-8-3zm10-30zm-4-80zm2-77zm-9-20zm2-6zm1-26zm8-124zm-11-1zm0-18zm11-6zm8 25zm0 6zm3 1zm-7 1zm5 15zm-7 30zm8 3zm-9 23zm3 24zm0 0zm7 124zm-1 40zm-4 18zm14 52zm-2-122zm4-9zm1-11zm-2-23zm-8-126zm10-7zm-4-22zm-5-4zm3-23zm3-1zm15 21zm-6 53zm7 0zm-8 77zm-1 17zm3 137zm13 43zm-4-26zm3-131zm6-87zm-9-19zm4-32zm-6-16zm9-8zm9-22zm-6 3zm9 37zm-9 45zm0 13zm2 36zm-2 11zm5 94zm4 8zm-4 8zm-5 0zm1 9zm21 87zm-9-1zm0-129zm7-43zm-4-15zm5-14zm1-31zm-6-5zm-4-33zm11-24zm1-33zm3 42zm3 57zm4 142zm2 46zm7-20zm1-77zm3-29zm-7-13zm-1-26zm6-89zm-9-2zm9-25zm9-13zm-5 14zm3 15zm4 35zm-1 28zm-3 24zm0 7zm6 52zm1 23zm-10 106zm17-31zm3-65zm-5 0zm7-52zm-1-31zm-3-10zm-1-32zm-2-27zm4-11zm1-17zm5 115zm16 85zm-4-230zm19 75zm-6 115zm13-172z"/>
<path stroke="#238a8d" d="M161 1831zm63 2zm-1 38zm4 14zm8 288zm-3-336zm8 21zm10 137zm-9 11zm2 97zm11 27zm3-30zm0-18zm-1-54zm5-42zm6 110zm-2 9zm0 22zm16 109zm3-203zm-6-187zm14 70zm4 62zm-5 28zm4 4zm2 15zm-1 80zm-2 36zm6-95zm11-84zm0-78zm6 39zm4 60zm-1 127zm-5 41zm8 116zm2-109zm8-193zm-3-78zm15 191zm-2 7zm-3 184zm-1 17zm5 42zm-7 10zm9 27zm9-8zm-2-23zm2-39zm-7-309zm14-48zm7 33zm2 40zm-8 158zm0 25zm-2 49zm2 29zm17-323zm3-134zm5 89zm6 121zm-1 80zm2 33zm-10 4zm-1 66zm11 8zm7-240zm4-17zm-9-50zm10-54zm-8-23zm13 120zm7 20zm-8 89zm2 47zm6 95zm0 23zm-1 39zm-7 29zm19 54zm-2-51zm-3-83zm3-8zm-4-44zm7-244zm-10-5zm0-74zm19 42zm2 23zm-1 37zm-1 246zm-7 18zm3 4zm6 68zm-4 50zm-3 16zm-1 66zm3 31zm15 1zm0-102zm-5-78zm-3-134zm10-174zm1-2zm-2-21zm-6-163zm20 130zm-11 118zm11 25zm-6 216zm9-10zm5-17zm-7-130zm7-21zm4-53zm5-199zm1 46zm1 99zm-4 120zm1 88zm5 141zm-6 117zm16-223zm3-134zm14-316zm-11 27zm5 263zm-4 32zm0 10zm7 29zm-5 31zm-3 76zm2 63zm7 29zm0 80zm5-114zm3-96zm6-4zm-7-96zm6-7zm0-105zm-5-3zm0-25zm3-55zm-4-46zm18 141zm-5 48zm6 164zm-6 40zm1 40zm-6 144zm17-419zm5-84zm-7-108zm17 43zm-8 37zm6 82zm-4 110zm4 250zm13-241zm3-37zm1-69zm-8-22zm5-42zm3-7zm-11-108zm15 77zm-1 9zm2 172zm-4 24zm12 88zm3-110zm-2-74zm7-103zm3-103zm5 18zm5 21zm-4 9zm3 4zm-8 15zm6 82zm-4 20zm3 159zm3 138zm-6 108zm2 54zm-1 6zm12-411zm3-36zm5-13zm2-146zm8 23zm0 73zm-2 19zm1 29zm10 108zm-3-4zm7-2zm-9-4zm10-17zm-9-69zm5-139zm9 234zm-1 58zm8 121zm-10 7zm22-22zm-8-221zm8-32zm10-6zm-3 38zm7-126zm0-13zm22-229zm-11 97zm10 208zm-1 136zm-7 76zm9 4zm10 7zm4-525zm14 258zm1-82zm17-66zm19-45zm-3 115zm-1 20zm26-110zm-1 163zm13-275zm7-120zm16 327zm-1-163zm17-80zm-3 150zm27-178zm12 144zm174 326zm7-17zm5 274zm18-237zm-2 189zm32-245zm8-38zm11 51zm-2 55zm1 278zm11-113zm17 48zm9-107zm9-182zm-2 344zm16-109zm-3-302zm12 365zm5 33zm39-140zm2 94zm34-189zm-3 5zm3 60zm19-143zm6 90zm3-49zm21-94zm-11 17zm12 223zm7-2zm4-60zm0-91zm23 101zm-7-89zm10-39zm9 74zm-10 86z"/>
<path stroke="#481c6e" d="M159 1830zm40 106zm4 110zm40 160zm15-105zm9-96zm-1 54zm20 34zm-6-83zm12-19zm21-44zm9 99zm6 163zm4-98zm1-260zm8 302zm14 89zm-2-175zm9-32zm2 25zm4 258zm16-162zm10 183zm4-393zm13 243zm5 161zm7-121zm7-212zm-9-124zm9-120zm18 543zm3-245zm17 295zm11-298zm0-120zm-3-47zm-6-143zm15 14zm7 159zm11-109zm-5-37zm9 67zm9 481zm2-370zm0-112zm17-7zm-7 26zm7 119zm-7 64zm6 210zm24-240zm-6 131zm24-285zm24 55zm6 31zm-1 87zm23-82zm11-140zm14 42zm3 15zm-1 380zm72-404zm12-208zm19 206z"/>
<path stroke="#50c46a" d="M146 1903zm12-27zm8-12zm2 46zm33-44zm0 87zm12 38zm-2-36zm3-100zm7-27zm0 140zm10-42zm-2-95zm14-10zm1 220zm11-226zm-3-27zm3-7zm20 258zm6 51zm4-11zm-8-30zm10-5zm9-267zm3 295zm0 110zm1 46zm0-29zm6-151zm-6-36zm0-126zm15 117zm9 285zm9-122zm-8-327zm18 192zm-3 129zm7 176zm11 2zm-1-86zm-7-32zm16-102zm1 109zm5 123zm8-267zm10-223zm-1 238zm0 5zm6 151zm-1 10zm11 130zm-8-49zm9-69zm-2-37zm3-82zm-2-183zm0-11zm-9-25zm1-57zm18-68zm-5 67zm-1 23zm10 268zm-5 168zm7 42zm6-151zm-7-244zm17-62zm5 71zm-9 171zm10 32zm-10 47zm2 47zm13 95zm-4-24zm8-164zm-5-24zm5-12zm-6-112zm3-147zm10 166zm-2 39zm6 14zm-1 52zm3 117zm-9 101zm19-104zm-6-91zm9-248zm10-110zm-3 238zm6 85zm-3 100zm-5 144zm8 22zm12-90zm-3-98zm-3-221zm18-23zm-10 32zm9 41zm0 107zm12 260zm1-37zm-7-52zm6-164zm-1-231zm9 57zm0 61zm-1 14zm-1 62zm6 56zm1 239zm7-5zm-3-47zm-1-278zm8-249zm9 70zm4 70zm-2 199zm-1 40zm5 83zm3-53zm2-120zm0-132zm-3-129zm16-47zm-4 61zm5 223zm3 180zm-8 89zm17-29zm1-75zm-3-50zm3-43zm-4-30zm0-71zm6-7zm-2-113zm13 60zm-3 19zm-2 37zm-2 22zm3 67zm-3 26zm-2 135zm3 11zm18 19zm-9-294zm5-8zm0-9zm0-236zm6 32zm0 0zm8 117zm-2 274zm17 11zm0-54zm-10-13zm6-156zm4-190zm6 85zm3 57zm2 110zm13 100zm-2-15zm-1-108zm1-95zm-2-82zm16 10zm-10 9zm10 49zm-1 123zm-8 88zm16 29zm2-162zm-1-117zm-3-216zm7-12zm9 110zm-1 323zm2 55zm-5 9zm5 70zm14-75zm0-377zm-5-84zm14-106zm1 19zm-2 78zm-5 102zm17 82zm0-85zm-4-69zm6-22zm-7-97zm11-9zm5 89zm-3 37zm8 3zm-2 4zm-3 15zm0 14zm-4 2zm18 78zm-2-138zm4-30zm5-155zm-3 303zm13 49zm7-129zm-2-75zm0-179zm13 54zm-2 60zm-5 141zm10 8zm-8 24zm3 5zm-4 85zm6 25zm8-153zm12-68zm2 59zm-4 57zm3 126zm16-200zm9-174zm5 89zm-9 5zm-1 60zm14 155zm3-38zm-5-55zm0-65zm4-163zm21 187zm5-53zm-1-54zm9 40zm10-82zm63 673zm-3 59zm34-64zm-7 62zm19 18zm0-65zm6 46zm0 11zm16-3zm1-157zm5 120zm1 40zm13-135zm8 113zm4 19zm16-32zm1-296zm3 85zm11 11zm-4 71zm-3 71zm7 87zm1-11zm4-71zm-1-17zm2-62zm-3-133zm-2-61zm17 16zm-2 95zm4 39zm-3 32zm-1 36zm-3 3zm1 22zm0 117zm11-23zm3-95zm5-33zm-6-84zm1-34zm5-9zm1-35zm-5-13zm1-69zm10-31zm0 168zm-2 31zm2 23zm0 124zm2 83zm6 5zm7-63zm3-61zm0-10zm-9-2zm8-241zm12-31zm-2 13zm-5 36zm1 112zm-1 58zm6 164zm-2 1zm10-294zm-1-77zm4-31zm8-1zm0 60zm8 42zm-5 19zm-2 151zm-3 71zm13 77zm7-20zm-7-5zm-1-60zm7-38zm3-38zm-9-31zm5-11zm-2-22zm-4-110zm6-17zm17-24zm-5 9zm-1 108zm2 64zm-5 1zm-2 17zm9 6zm2 42zm-5 43zm2 84zm7-10zm5-161zm0-31zm1-92zm0-42zm5-59zm4 9zm-3 18zm-2 20zm8 46zm-5 3zm-4 41zm10 69zm-1 100zm1 18zm-5 44zm11-75zm1-175zm5-10zm-1-33zm-9-27zm21 48zm-6 4zm3 16zm1 7zm-4 2zm2 22zm4 11zm0 26zm-1 18zm-2 95zm9-11zm5 0zm0-169zm2-34zm6-71zm7 34zm-3 25zm3 79zm-10 27zm4 130zm-1 16zm-1 27zm14-60zm-1-59zm4-53zm2-9zm-4-7zm0-15zm-1-17zm4-11zm6-60zm-3 34zm1 5zm1 12zm0 16zm8 18zm-7 48zm2 36zm-4 19zm8 69zm8-17zm-3-37zm-1-82zm0-63zm10-43zm-4-13zm0-22zm8 81zm15 182zm4-131zm-10-2zm2-26zm7-36zm-6-20zm17 16zm3 37zm-10 120zm16-64zm-1-8zm1-17zm2-70zm-2-34zm16-28zm5 92z"/>
<path stroke="#277e8e" d="M170 1877zm2 44zm10 9zm11-67zm3 22zm0 63zm0 63zm15 45zm2-136zm-1-53zm5 126zm7 30zm-6 52zm15-63zm0-81zm12-55zm4 116zm2 116zm-9 66zm15-13zm5-86zm-6-128zm-2-38zm6-28zm5 39zm5 61zm4 36zm0 17zm0 12zm-7 29zm-1 29zm9 32zm6-155zm-3-88zm12 93zm4 19zm2 25zm1 58zm-4 128zm10 85zm6-105zm2-64zm-4-5zm3-148zm-10-61zm1-18zm18 113zm2 156zm-2 17zm-3 61zm19-50zm-3-18zm-2-75zm-1-131zm4-102zm-8-3zm20-3zm-7 5zm9 6zm-4 19zm-6 213zm2 35zm2 69zm1 118zm12-10zm-1-185zm4-60zm0-90zm-4-6zm12-102zm-4 30zm5 235zm-5 93zm3 94zm19-21zm-7-255zm0-28zm-4-59zm7-122zm12-84zm-3 55zm4 18zm-2 9zm-2 285zm4 210zm8-17zm0-12zm4-174zm-5-180zm2-7zm-1-18zm-3-116zm10-11zm10-12zm-7 143zm3 73zm2 142zm0 18zm-7 151zm12 108zm10-44zm-5-26zm4 0zm1-14zm-10-13zm5-19zm2-66zm-2-91zm-3-65zm-1-36zm6-42zm-6-138zm7-51zm3-44zm9 34zm-3 167zm1 246zm10-129zm3-17zm2-23zm-3-90zm-2-3zm16 14zm-2 12zm-3 140zm10 153zm4-14zm3-113zm-1-172zm2-11zm-4-27zm3-2zm-4-32zm7-47zm-1-10zm1-75zm-10-12zm16 147zm-4 115zm7 41zm-4 3zm1 19zm0 13zm-5 4zm11 165zm-1 44zm12-54zm-5-22zm-2-221zm-2-58zm10-1zm-11-40zm11-76zm5-75zm-1 102zm6 100zm0 74zm1 62zm-7 64zm0 14zm2 155zm5 44zm-9 61zm14-185zm2-104zm-2-226zm1-34zm7-105zm3 16zm1 63zm-1 9zm6 179zm-6 4zm1 103zm6 127zm0 68zm-7 105zm12-43zm-1-295zm6-23zm1-45zm-8-228zm0-51zm31 580zm-5-94zm5-104zm-1-85zm0-257zm7 50zm1 73zm20 460zm-10-6zm9-65zm-6-96zm8-345zm-9-25zm20 133zm-10 17zm10 178zm-7 76zm3 104zm11-24zm-1-128zm-4-175zm9-96zm-4-3zm-1-26zm11-44zm7 499zm5-17zm-2-6zm0-284zm4-88zm16-3zm1 33zm0 177zm-10 144zm19-42zm-7-122zm1-2zm6-72zm-6-122zm3-88zm11 21zm0 219zm-1 84zm16 65zm-1-24zm1-66zm-1-82zm3-29zm-4-2zm-2-47zm12-52zm8 271zm6-51zm-2-124zm6-246zm8 1zm-1 391zm9-518zm32-47zm32 251zm10-55zm-1-261zm18-67zm12 433zm4-49zm217 191zm95-29zm33 263zm76-125zm3-35zm-2-74zm50-23zm67 14zm15-47z"/>
<path stroke="#3e4a89" d="M184 1839zm17 104zm11 169zm3-139zm-7-116zm28 244zm-4-122zm4-206zm19 343zm6-89zm9-148zm-3 16zm-1 258zm12-10zm6-103zm10 140zm7-262zm6-40zm-6-59zm15 45zm2 10zm-1 22zm17 17zm8-133zm5 30zm-9 137zm-2 12zm5 77zm14-48zm-4-129zm8-78zm2 39zm3 48zm7 179zm-10 177zm22-236zm-1-177zm11 468zm0 121zm5-418zm1-37zm7-113zm1-72zm23 51zm-3-31zm13 166zm-7 81zm9 180zm7-312zm4-128zm8 338zm8-319zm46-7zm0 44zm-3 23zm0 328zm-5 206zm11 116zm1-333zm14-383zm-1 10zm10 478zm3-57zm16 123zm-9 4zm14-90zm9-375zm6 201zm-2 142zm15-372zm21 525zm2-488zm7-45zm14 32zm29 373zm20-81zm17-129zm-6 115zm20 89zm-2-131zm24-183zm11-205zm25 71zm-4 65zm16 107zm4-287zm2 225zm18-35zm2-94zm5-74zm13 158zm4-26zm7-137zm39 171zm-5-218zm480 531z"/>
<path stroke="#cde11d" d="M243 2140zm16-61zm16 95zm29-124zm5-13zm4 216zm43 56zm2-42zm-9-67zm22-371zm-5 231zm-4 55zm6 180zm-1 16zm6 0zm9-80zm-9-35zm4-109zm-3-11zm4-86zm12 397zm0 29zm11-63zm5-2zm0-1zm-8-238zm2-83zm15-71zm1 132zm1 124zm-3 89zm-6 91zm19-186zm-4-42zm3-18zm11-245zm-2 271zm-3 20zm10 95zm-2 30zm-6 22zm9 4zm-6 67zm14-73zm-3-60zm-1-221zm13-225zm0 385zm5 184zm7 20zm0-40zm3-56zm-7-19zm1-11zm8-41zm1-93zm9-405zm4 174zm-4 16zm0 316zm-6 163zm19 51zm2-35zm-9-76zm0-279zm6-24zm8-231zm6 217zm1 221zm-5 207zm10-323zm7-69zm1-150zm11-95zm-9 138zm9 70zm-6 15zm2 127zm3 150zm-4 15zm-2 118zm14-105zm-1-188zm-4-7zm6-365zm10 23zm1 77zm1 147zm5 74zm-2 112zm-1 215zm4-292zm4-88zm-2-15zm7-90zm-3-93zm8 18zm-1 228zm10 61zm-2 155zm-8 79zm15-144zm3-18zm4-80zm-9-24zm0-246zm14 192zm7 55zm-8 31zm5 103zm-7 41zm12 6zm5-20zm5-167zm-2-68zm-8-25zm21-232zm-7 466zm8 15zm-9 66zm-2 17zm18-245zm1-35zm5-173zm11 28zm-7 138zm-4 72zm12 144zm11-203zm-4-111zm-6-52zm12 171zm-1 7zm3 103zm5 35zm12-83zm-6-2zm0-69zm-2-5zm10-149zm9 36zm-6 281zm13-140zm14-106zm12-254zm17-123zm-5 26zm0 264zm13-1zm-3-131zm2-182zm11 236zm13-102zm10-141zm9 9zm-1 31zm10 145zm3-29zm-4-32zm-1-3zm11-216zm-5 113zm4 161zm0 24zm6 42zm-3 39zm4 13zm5-64zm3-152zm-1-15zm-5-70zm0-93zm16 20zm2 205zm3 71zm-10 69zm22-26zm-1-36zm-1-3zm3-16zm0-78zm-11-116zm19-55zm-6 75zm8 12zm-3 97zm1 64zm-3 64zm8-192zm28-106zm155 766zm23-193zm20 73zm-1-125zm43 237zm17-109zm0 38zm19-322zm-3 158zm3 214zm10-120zm2-4zm4-205zm4 19zm18 288zm29 12zm19-96zm11-54zm28 57zm35-103zm21-110z"/>
<path stroke="#2c728e" d="M161 1814zm29 228zm0-159zm2-70zm11 230zm9-55zm-2-14zm-6-14zm6-77zm15-62zm2 78zm-9 40zm2 13zm-2 92zm7 88zm13-1zm1-64zm-3-81zm10-8zm1 53zm-3 11zm-4 43zm0 35zm5 30zm17-130zm-1-12zm-1-101zm-8-40zm23-86zm-11 19zm0 22zm5 37zm1 72zm14 107zm-5-85zm4-12zm-2-86zm-5-44zm10-22zm1-26zm12 400zm10 12zm-7-110zm8-30zm-7-85zm-3-4zm7-116zm10-43zm5 50zm-7 66zm6 330zm3-333zm7-18zm12 20zm-7 130zm5 69zm5 14zm-5 105zm5 49zm-7 56zm14-102zm1-4zm-4-54zm7-77zm-7-43zm3-3zm3-36zm-3-119zm3-25zm3-19zm-3-4zm-8-48zm17-30zm-4 10zm1 209zm5 200zm2 97zm1 22zm-6 58zm11-184zm0-11zm2-49zm0-184zm13-52zm-2 26zm6 10zm-5 0zm-3 50zm11 413zm1-14zm7-113zm-4-125zm-2-90zm3-133zm-4-103zm15 20zm3 61zm-3 10zm11 398zm2-128zm0-42zm-3-166zm-2-59zm19 7zm3 19zm-8 12zm7 139zm-8 75zm6 50zm0 58zm3 117zm12 12zm-7-1zm2-470zm5-23zm-1-6zm2 29zm4 119zm7 20zm9 175zm0-30zm-6-46zm3-84zm1-248zm11 4zm6 229zm-2 80zm10 255zm4-191zm-3-34zm-2-53zm2-26zm3-241zm-3-37zm-1-1zm8 58zm5 174zm13 381zm-8-153zm7-93zm-2-111zm3-250zm14-11zm7 314zm5-13zm-7-114zm6-130zm-5-49zm10 564zm11-85zm2-415zm17 6zm-2 83zm3 77zm1 107zm5 108zm-3-4zm1-12zm3-9zm10-166zm3 72zm-4 94zm1 60zm14-317zm-4-28zm20-60zm-5 165zm5 80zm2 91zm20-99zm1 52zm-5 82zm11 0zm21-263zm-7 190zm1 28zm-2 0zm17-261zm14-248zm-1 302zm-8 169zm26-460zm8 4zm-2 108zm4-5zm16-198zm18 307zm7-244zm4 2zm-1 188zm26-88zm-9 113zm53-254zm123 633zm73-169zm16-7zm74 248zm2 16zm37-422zm94 290zm44-6zm29-42zm27-93z"/>
<path stroke="#38598c" d="M136 1885zm6-17zm14 9zm18 28zm0 22zm25-106zm-4 9zm1 87zm-2 85zm11 34zm1-104zm32 52zm-4-104zm-4-51zm18-2zm1 58zm-4 3zm3 178zm-3 0zm15 25zm0-77zm-8-229zm20 66zm-3 118zm0 35zm15 152zm3-106zm-7-176zm19 273zm11-62zm0-101zm-4-35zm0-56zm-4-46zm20-52zm-1 20zm-8 2zm22 146zm-1-163zm11 284zm-9 33zm14 147zm-1-45zm4-101zm-2-99zm-1-107zm16-157zm-3 86zm-3 21zm1 37zm9 59zm-7 155zm3 15zm-1 72zm12-24zm1-366zm14 4zm-4 269zm2 113zm-4 205zm17-153zm3-60zm-6-126zm7-30zm-5-126zm-1-76zm18-42zm-5 138zm-4 201zm21 166zm-3-51zm-4-47zm2-162zm3-59zm-9-98zm15 115zm4 17zm-5 57zm13 69zm-2-46zm5-183zm-2-86zm15-56zm2 244zm-6 189zm9 55zm0-118zm8-18zm2-54zm9-237zm-7 428zm3 177zm3 2zm12-356zm17-273zm-5 145zm1 471zm-2 70zm7-138zm5-463zm-1-60zm10 229zm15-39zm0-169zm0-60zm16 186zm-8 328zm15 26zm6-257zm-7-83zm-3-19zm10-65zm0-86zm-5-20zm29 385zm-5-227zm3-70zm12-32zm-5 35zm3 70zm1 414zm24-474zm-7 520zm15-384zm4-141zm9 58zm-4 14zm4 76zm10-35zm59 193zm13-384zm9-18zm5 122zm10-79zm4-50zm7-172zm20 117zm3-45zm1 22zm7 163zm3 20zm2-150zm16 194zm18-236zm6 40zm5 135zm9-80zm5-86zm14 216zm7-155zm6-200zm130 465zm104 177zm16 105zm142-43zm70-119z"/>
<path stroke="#6ccd5a" d="M178 2013zm3-16zm16-199zm-1 1zm7 24zm10 158zm-5-58zm24 222zm2-340zm15 17zm11 232zm-3-8zm13-235zm1 27zm2 68zm2 31zm-11 85zm3 30zm11 146zm1-217zm-3-13zm4-95zm9 0zm9 101zm-9 26zm2 99zm15 18zm3-97zm0-30zm9-139zm4 25zm0 41zm-1 9zm-6 45zm5 286zm9 54zm2-89zm4-76zm-11-24zm2-26zm4-67zm-3-76zm3-7zm5-41zm-10-45zm19-102zm1 76zm-1 92zm-4 348zm2 18zm12 48zm-2-203zm2-208zm-2-109zm4-43zm12 49zm2 137zm-9 39zm7 12zm-8 33zm0 131zm18 14zm0-66zm-3-120zm4-2zm14-77zm-8 273zm20 148zm1-141zm-6-332zm10-57zm3 130zm-1 89zm-2 268zm4 102zm10 17zm5-41zm-4-50zm1-76zm4-33zm-5-125zm0-92zm-1-127zm3-16zm14 100zm-5 311zm13 143zm5-78zm-2-16zm-6-129zm2-147zm2-176zm16 158zm-1 306zm-2 21zm6 38zm10-139zm-4-151zm2-142zm-4-62zm2-60zm0-5zm-1-36zm5-40zm4 52zm1 54zm5 9zm-3 37zm-6 99zm9 3zm-7 33zm3 172zm0 38zm-4 97zm-1 64zm14 38zm2-7zm1-206zm5-119zm-10-148zm2-16zm7-99zm7 523zm-1 33zm10-145zm8-86zm2-215zm-9-32zm14 205zm-4 3zm11 57zm-11 171zm17 76zm6-179zm-2-28zm-8-221zm1-52zm11-107zm5 86zm14 455zm0-176zm-6-176zm2-103zm3-42zm15-58zm-9 189zm8 123zm0 148zm-2 0zm-5 14zm-2 92zm9 30zm6-67zm4-212zm4-61zm-11-28zm5-155zm4-52zm13 5zm-3 60zm3 124zm-6 34zm6 173zm-3 21zm13-81zm-4-28zm4-49zm3-273zm11-28zm-6 384zm-1 107zm5 73zm7-41zm8-87zm-7-223zm4-72zm7-12zm8 80zm0 13zm-5 22zm4 139zm-5 10zm11 32zm-3-70zm-1-51zm2-20zm9-232zm9 10zm2 280zm-10 98zm3 0zm18-76zm-3-92zm4-82zm1-39zm4-296zm-1 25zm4 266zm0 101zm5 71zm-5 1zm0 50zm-6 9zm17-19zm-4-26zm1-48zm8-62zm1-295zm-2-2zm2-27zm4-14zm1 38zm5 358zm13-203zm-7-131zm7-117zm1-31zm0-21zm2 222zm10 4zm-5 311zm10-241zm-2-39zm7-111zm2-113zm9-107zm-8 28zm7 105zm0 123zm-2 15zm5 45zm0 7zm-6 11zm11-52zm10-302zm9 146zm-7 141zm6 111zm-6 44zm-1 24zm14-32zm3-337zm10 218zm-2 146zm19-413zm13 27zm-9 58zm-2 96zm0 41zm21 54zm-6-140zm15-177zm-6 44zm8 118zm-3 114zm11-68zm80 545zm37 65zm9-20zm-10-74zm0-19zm28 41zm2-36zm6-101zm15 95zm10-214zm14 235zm5-19zm-2-27zm-5-59zm9-3zm-7-124zm19-66zm-9 160zm8 30zm0 2zm2 9zm-2 88zm13 124zm-7-19zm0-160zm-3-117zm19-94zm1 111zm2 3zm1 241zm8 12zm1-229zm-1-81zm7-34zm2 47zm-3 82zm3 142zm12 89zm3-8zm3-48zm0-103zm0-50zm-1-36zm-3-54zm5-104zm11 109zm1 12zm-4 123zm2 23zm-7 95zm3 28zm12-44zm6-81zm-7-59zm19-129zm0 244zm2 69zm6-91zm-2-116zm9-54zm0 4zm4 68zm-3 70zm-2 34zm13-9zm4-29zm1-114zm-3-56zm16-59zm-2 87zm-5 36zm3 23zm7 134zm12 17zm-6-171zm13-14zm13 43zm2-5zm-1-30zm-7-126zm-1-10zm8-10zm-7-9zm19 114zm0 6zm-1 65zm-6 129zm17 38zm-2-167zm-1-39zm5-14zm15-86zm-6 38zm2 53zm1 35zm3 72zm10-173zm-3-16zm13 79zm0 17zm1 97zm-7 76zm18-55zm15-102zm-5 17zm23-134zm1 41zm-5 98zm19-42z"/>
<path stroke="#addc30" d="M238 2137zm5-143zm9 161zm8-7zm-5-204zm16 115zm3 130zm8-257zm8 163zm29-105zm4 120zm-5 10zm-5 32zm14-144zm18-212zm-8 396zm5 86zm28-339zm0 56zm-7 207zm11-63zm7-148zm-8-31zm12-20zm-1 50zm13 377zm9-95zm0-76zm-6-17zm-3-320zm19 22zm1 36zm-7 67zm-1 199zm15 165zm4-150zm-8-178zm6-78zm1-45zm9 168zm2 136zm0 56zm3 70zm-1 46zm10-273zm12-317zm-2 26zm4 55zm1 26zm2 171zm-7 1zm7 14zm-1 99zm-10 21zm5 43zm3 24zm-4 1zm11 3zm1-12zm4-49zm-5-39zm-2-217zm6-38zm4 0zm5 8zm0 171zm7 102zm-11 16zm7 1zm4 83zm2-65zm2-169zm19-150zm-9 156zm-1 53zm0 237zm21-264zm-6-51zm2-110zm18-130zm0 354zm-5 16zm2 34zm-2 117zm5 53zm-10 13zm10 68zm0 6zm8-207zm1-335zm7-35zm3 187zm3 104zm0 241zm10-33zm1-63zm-3-108zm3-6zm10-269zm4 317zm-10 24zm17-193zm0-40zm10-230zm-3 42zm7 103zm-4 27zm2 23zm11 431zm5-223zm0-4zm-6-55zm6-120zm0-11zm1-112zm-2-5zm2-81zm10 126zm0 2zm-1 38zm1 45zm-8 14zm0 1zm0 42zm2 54zm8 173zm5-194zm0-109zm0-62zm31 205zm-9-115zm-1-159zm9-40zm13 157zm12 278zm4-630zm2 56zm0 263zm5 126zm-8 115zm9 22zm9 23zm-7-46zm11-209zm-4-195zm-6-91zm6-40zm17 209zm5-4zm4-78zm1-22zm4-155zm-2 10zm7 18zm9 72zm0-57zm18-3zm-7 34zm8 11zm0 1zm-10 10zm10 129zm-4 64zm-5 24zm19-6zm-9-3zm11-58zm-8-30zm7-165zm-4-57zm1-2zm4-31zm-11-4zm11-28zm-5-16zm17 49zm-8 37zm7 12zm-4 70zm-1 81zm2 33zm3 23zm-10 5zm7 85zm15-31zm-4-152zm3-42zm-3-112zm-5-39zm1-44zm15 59zm6 91zm-8 4zm-3 31zm6 151zm1 24zm0 34zm16-10zm-1-418zm6 20zm3 12zm-2 185zm3 197zm6-26zm5-265zm0-53zm-1-12zm15-18zm-5 228zm-1 155zm11-189zm14 20zm86 605zm5-20zm5-24zm58-10zm44-209zm1 127zm7-130zm3-22zm17 322zm0-251zm2-157zm8 17zm16 252zm4-36zm-1-237zm15 95zm-7 22zm15 257zm-2-127zm4-268zm9 64zm-4 306zm5 17zm22-117zm5 37zm-8 72zm30-34zm12-326zm9 23zm1 293zm13 25zm-2-12zm2-213zm34-104zm18 67zm-5-60zm30-20zm5 159zm2 58zm8 0zm9-175z"/>
<path stroke="#443b84" d="M150 1887zm15-37zm1-40zm12 1zm-5 22zm4 61zm5 29zm10 174zm22-56zm16-96zm1-97zm7-12zm7-30zm-4 61zm1 93zm17 57zm11 115zm24-53zm4 16zm-7 158zm14 20zm0-202zm6-93zm24-105zm12 289zm4 145zm18-506zm1 28zm-7 5zm3 24zm1 150zm-2 369zm15-9zm-4-89zm5-311zm11-92zm2 139zm0 89zm-2 178zm6 61zm1-498zm29 61zm-6-104zm12 126zm6 184zm-6 48zm4 116zm2 6zm-1 1zm5 55zm7-321zm32 309zm29-506zm-4 411zm9-129zm14-252zm3 384zm15 246zm-6-65zm6-399zm14-228zm-1 201zm-4 191zm1 26zm7 133zm16-367zm-6 96zm6 195zm2 87zm15 19zm-4-249zm0-274zm12 130zm3 307zm25-235zm-7 149zm11-21zm-2-175zm3-19zm15-116zm2 147zm1 108zm1 83zm-11 17zm17-83zm15-500zm-8 609zm32-487zm14 394zm9-332zm11 375zm-2-366zm1-29zm20 199zm19-277zm4 165zm19 57zm10-132z"/>
<path stroke="#31668e" d="M172 1956zm8-13zm3-65zm19-52zm-6 15zm7 14zm7 86zm0-24zm-2-110zm1-5zm12 32zm6 280zm8 31zm-4-101zm2-139zm2-11zm3-15zm-1-19zm-3-4zm27 201zm-8-40zm7-35zm6-222zm2 48zm-2 262zm8 196zm3-11zm7-91zm-6-21zm-1-24zm0-14zm22-284zm-8 98zm0 145zm3 66zm0 18zm-4 81zm20 85zm-3-124zm2-4zm2-267zm-5-37zm-6-22zm11-30zm-4-63zm7 232zm4 130zm16 82zm-8-40zm4-309zm17-92zm0 280zm9 299zm-1-518zm-2-31zm4-4zm11 89zm-1 23zm-2 126zm5 52zm7 273zm-3-240zm-1-40zm0-28zm0-44zm21-116zm-7 26zm6 143zm-1 88zm-3 65zm5 40zm4-459zm10 407zm14 40zm4-315zm1-71zm2-69zm-7-20zm13 53zm7 100zm-8 59zm3 133zm12 281zm-5-31zm8-215zm7-228zm1 9zm-3 162zm7 75zm6 262zm0-317zm-1-229zm6-18zm9-24zm1 122zm1 291zm6-29zm6-14zm14-177zm1 4zm-2 89zm-5 8zm2 63zm7 143zm13-533zm10 360zm-2 160zm0 33zm-5 25zm17 88zm-1-449zm2-239zm6 365zm12 160zm1-16zm-1-97zm-3-65zm5-17zm-5-75zm1-20zm10-19zm-1-179zm6 142zm0 38zm17-38zm-7-85zm19 16zm1 294zm5 70zm1-150zm2-140zm2-3zm-6-15zm7-20zm-3-56zm6-17zm8 95zm-6 258zm12 133zm7-342zm-6-47zm4-45zm3-15zm11 344zm11-129zm-1-116zm0-18zm29-166zm32-145zm9 152zm12 332zm26-493zm22 256zm21-167zm5 77zm16 135zm-4-345zm51-15zm9 14zm133 551zm100 32zm64-43zm1-108zm12 250z"/>
<path stroke="#8bd646" d="M188 1935zm12-84zm-8 152zm22-10zm-4-91zm8-60zm8 47zm-4 45zm11 200zm1-159zm5-132zm13 222zm1-73zm9-108zm13 17zm12 265zm-1-65zm-7-208zm18-10zm-7 98zm-2 231zm16-238zm-2-88zm14 63zm-4 30zm2 198zm9 9zm-5 9zm-3 8zm15 111zm-1-40zm2-149zm-4-57zm-3-211zm16-64zm4 103zm-6 48zm-2 130zm1 80zm8 3zm-9 65zm15-170zm1-31zm4-63zm8-116zm6 139zm-9 129zm2 31zm-3 53zm20 144zm3-43zm-4-16zm-1-452zm5-4zm-10-6zm1-35zm12 184zm2 107zm4 69zm0 169zm-1 10zm11 16zm-5-69zm0-239zm8-60zm-2-12zm2-55zm0-85zm1-19zm5 35zm5 168zm0 69zm-5 161zm15-9zm0-269zm4-14zm1-32zm-7-58zm12 156zm-3 314zm5 52zm12-108zm-4-121zm-2-265zm8-61zm1-29zm8 16zm6 97zm-6 58zm-1 80zm4 242zm10 94zm-4-457zm20-89zm-4 18zm4 89zm-3 14zm-3 15zm3 113zm-4 191zm3 14zm-5 40zm16-24zm3-85zm1-266zm-9-59zm20 112zm1 35zm-9 171zm4 59zm-2 33zm6 175zm14-142zm-10-22zm3-137zm4-50zm-6-17zm10-143zm-8-45zm11-97zm0 16zm9 130zm-2 10zm-1 137zm2 104zm-4 275zm8-63zm9-68zm-3-411zm10-54zm-3 57zm5 82zm-1 330zm-6 63zm13-3zm3-5zm6-63zm-1-179zm-6-67zm4-66zm-1-17zm-2-29zm6-173zm11 44zm-8 29zm3 160zm6 247zm-10 48zm28-554zm2 182zm1 206zm3 56zm-1 58zm1 90zm10-228zm-1-72zm-5-9zm-1-98zm7-19zm13 293zm3-27zm8-150zm-2-83zm-4-12zm7-23zm8 139zm0 81zm-2 63zm-4 65zm16 1zm5-64zm-4-347zm12 377zm16 12zm-7-177zm7-21zm2-2zm-3-155zm15-313zm-4 26zm-2 568zm16 8zm2-33zm-1-85zm0-83zm-4-380zm-3-24zm19 21zm-6 9zm1 46zm6 93zm-7 131zm12-253zm19 2zm-1 99zm-7 75zm1 12zm4 4zm6 85zm7-4zm-7-71zm3-28zm4-3zm-7-24zm1-94zm4-27zm-1-64zm4-27zm-7-10zm14 2zm4 20zm-6 42zm-3 52zm4 173zm4 9zm5 36zm4-70zm15-250zm-7 55zm7 109zm-8 152zm0 30zm18-249zm1-130zm3-44zm10 168zm-7 40zm3 91zm15 117zm1-264zm-4-40zm-1-14zm14 19zm4 6zm2 120zm-8 123zm-2 54zm14-8zm2-111zm17-282zm-3 128zm0 10zm-7 19zm23-22zm18-122zm10 10zm77 720zm36 4zm21-24zm8-254zm0 262zm22 33zm11-195zm6 221zm2-68zm-2-52zm-3-88zm7-97zm3-99zm8 269zm-6 3zm15 101zm0-226zm-2-118zm18 50zm-2 51zm3 42zm-2 18zm-6 55zm-1 11zm13-55zm-1-132zm21 2zm14 350zm-9-65zm-1-86zm4-94zm-2-151zm0-1zm-2-38zm17 151zm-5 142zm7 70zm6-141zm8-180zm-6-31zm15-14zm3 66zm-10 42zm11 207zm10-3zm0-109zm6 101zm-3 56zm12-84zm15-273zm6 375zm3-170zm28 122zm6-5zm9-197zm-5 151zm7 5zm-2 21zm12 1zm2-11zm15-44zm8-90zm-1-35zm-7-1zm8-25zm13 35zm-4 31zm0 63zm-1 71zm26-203z"/>
<path stroke="#443b84" d="M196 1923zm13 113zm19 121zm1-207zm-1-5zm8-10zm-6-29zm15-58zm0 161zm8 102zm16-310zm0 117zm-4 107zm19-162zm-6-22zm1-7zm6-66zm7 78zm14 312zm-2-311zm18-8zm-6 373zm18-35zm-8-181zm7-200zm10 23zm4 107zm9 200zm1-238zm7-57zm7 43zm-2 339zm-5 10zm16 78zm2-20zm-8-161zm-2-185zm21 42zm16-221zm17 106zm32 409zm10 123zm6-181zm4-74zm15-155zm20-72zm12 520zm-7-142zm16-337zm7 509zm5-323zm11-179zm0 142zm2 44zm-5 18zm7 45zm4 221zm10-102zm-10-81zm14-104zm-3 216zm26-154zm33-75zm-4 29zm-2 38zm25 102zm23-364zm4 200zm7-160zm18-340zm12 546zm-4-144zm15-321zm-9 412zm20-187zm-1-106zm15-142zm-10 17zm4 248zm11-207zm4-21zm20 41zm3-13zm-3-186zm20 343zm19-297zm8 77zm28 137z"/>
<path stroke="#277e8e" d="M156 1913zm4-105zm42 199zm2 66zm8-7zm1-39zm-6-142zm0-1zm12 69zm12 100zm3-107zm-1-97zm8 22zm8 21zm-2 106zm13 152zm-1-49zm0-196zm0-32zm0-54zm5 218zm8 19zm-3 58zm-2 38zm19 20zm-1-15zm-6-206zm6-193zm4 8zm2 43zm-2 72zm8 88zm0 23zm-3 75zm-2 185zm15-20zm-2-7zm13-186zm3 32zm-7 15zm3 180zm-2 23zm1 21zm10-63zm3-8zm-5-52zm9-214zm0-159zm-3-19zm12-8zm-6 27zm8 67zm3 337zm-11 53zm12-216zm3 0zm2-24zm-2-86zm3-6zm-3-18zm4-67zm12 39zm-4 63zm-1 35zm2 111zm2 71zm-5 51zm3 25zm14 45zm0-97zm1-35zm1-138zm-5-44zm8-144zm8 98zm1 100zm-7 37zm17 217zm-4-70zm-2-60zm9-86zm-8-64zm1-85zm18-58zm-4 33zm3 93zm-4 88zm7 139zm-1 29zm-3 128zm4 2zm-9 31zm20-188zm-4-18zm3-18zm-3-143zm1-40zm-2-28zm7-40zm5-89zm3 18zm0 93zm1 42zm-1 7zm1 186zm1 158zm13 23zm-3-64zm-2-28zm-4-26zm7-19zm-2-10zm-4-22zm7-35zm-6-23zm-2-49zm6-283zm-2-13zm18 25zm-4 27zm3 26zm-10 120zm11 99zm-8 37zm2 80zm-2 12zm-3 62zm13 19zm3-80zm-3-26zm4-199zm6-98zm-11-16zm0-92zm23-1zm-1 10zm1 110zm-1 260zm-1 203zm7 32zm4-14zm-5-139zm4-166zm1-85zm-5-53zm19-137zm-6 19zm1 40zm1 60zm-6 41zm6 67zm-2 23zm-1 45zm1 247zm14 56zm-2-177zm-3-55zm3-169zm-3-177zm4-71zm13 20zm2 77zm-2 114zm4 201zm10 261zm2-23zm-1-17zm-7-67zm6-44zm0-11zm-1-17zm-4-178zm8-214zm-1-19zm13-14zm-3 55zm0 13zm-6 1zm4 102zm8 394zm2-103zm3-117zm4-31zm-2-68zm0-46zm2-14zm-8-143zm7-1zm-3-16zm-2-3zm2-29zm13 188zm-2 174zm-6 81zm6 34zm13-110zm-6-9zm1-138zm3-59zm5-137zm-2-58zm4 390zm8 56zm10 68zm-4-445zm6-6zm0-5zm-5-4zm20 284zm-9 25zm-1 195zm18-136zm4-347zm8 120zm-4 129zm8 185zm-9 18zm14-15zm6-200zm-3-124zm0-49zm12 166zm1 78zm6 136zm1-118zm5-104zm-6-24zm11-48zm7 1zm-5 36zm3 105zm2 77zm15-193zm-3-256zm18 398zm5-517zm28 116zm15-41zm9-159zm-8-72zm13 122zm-3 99zm7 34zm1 8zm-1 24zm11 149zm3-322zm20 115zm9 14zm6 28zm12 141zm-4-94zm194 502zm-2-23zm-2-306zm30 62zm32-60zm4 121zm20-164zm21-67zm17 391zm10-266zm13 140zm-3-185zm9 339zm25-252zm20-88zm15 246zm74-130zm27-120z"/>
<path stroke="#3e4a89" d="M179 1942zm5-15zm2-19zm11-30zm9 130zm-1-116zm2-3zm2-81zm9-14zm7 81zm2 252zm5-214zm3-7zm13-82zm0 76zm0 153zm0 43zm12-19zm-8-150zm20 112zm-3 75zm21-295zm7 109zm4 13zm7-128zm-6-53zm20 180zm-9 193zm33-217zm23-127zm-1 403zm7-176zm1-144zm16 204zm14-54zm25 318zm-10-171zm4-68zm15-121zm1 25zm-4 223zm2 78zm14-409zm14 247zm8 320zm4-321zm-4-117zm-6-109zm21 310zm-9 200zm11-391zm6-185zm9-45zm8 296zm-2 80zm-4 190zm8-151zm8-5zm-5-97zm-3-43zm20-296zm-8 88zm14 344zm-3-174zm5-55zm9-51zm17 399zm10-434zm4 74zm-5 298zm11 132zm0-342zm1-73zm4-149zm5-7zm8 84zm4 308zm2-301zm-1-123zm19 132zm-5 423zm16 8zm-4-297zm5-66zm11-92zm8 39zm19 163zm-1 188zm36-541zm21 416zm1-3zm3-433zm5 75zm53-101zm9-203zm34 72zm3 142zm6 30zm3-27z"/>
<path stroke="#1f968b" d="M185 1923zm-4-3zm8-38zm14 168zm5-53zm-3-16zm15-113zm-1 49zm10 182zm1-269zm20-23zm0 29zm-5 16zm0 120zm7-22zm11-48zm-3-127zm14 98zm-9 141zm8 144zm5-84zm8-20zm-1-55zm-7-9zm12-126zm9 392zm11 28zm-7-14zm-2-235zm19-34zm-6 139zm0 87zm16 86zm4-396zm-8-10zm10 345zm12 65zm8-98zm1-25zm-9-56zm3-24zm0-176zm0-72zm15 259zm-1 34zm1 89zm10 20zm0-202zm6-54zm-3-54zm-1-54zm11-98zm0 66zm1 171zm5 88zm-2 148zm-1 69zm1 38zm-1 7zm13-7zm-5-113zm6-69zm-5-128zm-3-231zm12 81zm0 35zm4 34zm-1 94zm3 54zm-7 2zm1 108zm8 58zm7-18zm6-83zm-6-27zm2-12zm4-47zm0-143zm-9-86zm3-129zm14 167zm-2 251zm-3 15zm1 193zm18 56zm2-147zm-5-19zm-3-224zm-2-12zm22-294zm-10 226zm9 57zm-6 8zm4 181zm-1 90zm3 33zm1 97zm10-14zm2-87zm-2-86zm-2-274zm-4-151zm17 69zm3 3zm-9 141zm7 57zm-6 147zm1 12zm2 21zm7 146zm3-27zm5-70zm-6-252zm3-164zm-4-146zm10 17zm2 81zm7 51zm-9 147zm0 60zm1 15zm6 120zm10-9zm-3-43zm3-83zm1-2zm5-1zm-9-344zm20 193zm-6 2zm1 182zm0 22zm5 3zm-5 82zm1 135zm-1 41zm14-61zm-6-236zm22-372zm-7 197zm-4 60zm3 50zm-1 124zm3 121zm16 115zm-9-36zm7-39zm3-141zm-8-46zm2-32zm0-48zm7-22zm-11-84zm5-98zm-3-37zm1-15zm12 15zm4 97zm4 82zm-7 56zm3 10zm4 211zm-9 60zm3 24zm11-357zm7-94zm-3-8zm-3-81zm13 319zm-4 60zm13 188zm7-64zm-3-296zm0-138zm-7-81zm18 72zm10 460zm-1-105zm-1-84zm-2-47zm8-221zm10 100zm0 101zm-5 252zm22-226zm-5-3zm1-177zm16 38zm-3 62zm-6 60zm1 33zm13 52zm6-215zm-7-16zm20-325zm-8 300zm-3 342zm40-141zm-3-59zm27-412zm29 245zm-2-197zm3-48zm53-127zm23 142zm-2 148zm43-258zm-3-48zm151 509zm11 214zm8-202zm13-53zm2 4zm-8 233zm1 0zm14 118zm6-134zm-1-67zm1-20zm-8-133zm16 116zm-3 86zm20-46zm6-185zm4 254zm-1 15zm10-336zm9 32zm7 158zm-8 44zm0 33zm-2 27zm4 34zm11-243zm11 200zm13-78zm17-159zm-6 39zm17 337zm4-245zm-2-56zm-4-69zm10 311zm5 1zm-4 51zm13-48zm5-58zm-2-129zm-3-34zm18 53zm-9 147zm17-73zm-1-11zm-5-218zm15 200zm7 110zm-2 16zm8-68zm0-22zm-1-85zm43-142zm-8 11zm-3 109zm11 132zm6-206zm7-11zm3 105zm-3 95zm19-8zm3-46zm-3-24zm13-163zm7 161z"/>
<path stroke="#50c46a" d="M190 2058zm-9-166zm17-24zm-5 130zm14-20zm26 113zm-1-80zm-4-106zm14-127zm5 29zm-3 4zm-2 17zm9 135zm-1 20zm-10 73zm19 9zm-2-179zm0-70zm-3-2zm17-16zm0 23zm1 242zm-5 2zm7 40zm-7 130zm20-207zm-6-15zm-2-85zm-2-67zm13 115zm2 100zm-3 27zm-1 33zm10 32zm9 8zm-2-2zm3-90zm-3-79zm2-100zm1-59zm8 82zm-3 152zm3 89zm11-380zm9 272zm0 23zm11 91zm-11 105zm21-277zm4 116zm2 60zm17 159zm-4-24zm3-14zm-6-10zm8-242zm0-245zm12 10zm-5 41zm5 160zm-9 72zm1 59zm3 175zm-3 71zm11 18zm3-64zm-3-48zm4-83zm7-105zm-4-106zm-5-63zm12 258zm7 80zm1 112zm6 14zm4-111zm1-82zm-6-95zm0 0zm4-18zm8-280zm8 217zm-11 42zm6 76zm13 236zm-4-153zm4-163zm16-246zm-10 25zm8 246zm-2 37zm1 106zm-6 20zm2 63zm2 61zm6-235zm10-48zm-6-138zm11 77zm3 267zm5 34zm-9 65zm15-74zm6-200zm-10-87zm-1-255zm5-30zm10 10zm8 377zm-7 71zm7 163zm2-204zm0-14zm10-128zm0-67zm-6-20zm6-9zm-4-90zm11-39zm4 53zm2 623zm9-64zm-2-74zm1-22zm-1-15zm-1-79zm-4-47zm8-71zm-7-45zm-1-178zm17 18zm0 7zm0 51zm2 102zm0 81zm-2 85zm2 58zm-9 2zm2 10zm9 71zm-7 16zm2 55zm-5 10zm18-234zm-2-76zm3-35zm-7-23zm-1-118zm5-191zm14 96zm3 94zm-6 3zm7 95zm-8 64zm6 197zm-9 43zm8 7zm15-309zm1 10zm4 133zm7 82zm12 60zm-6-8zm-2-15zm-2-159zm10-190zm11-112zm-9 36zm-1 30zm10 28zm-7 78zm4 9zm-7 5zm5 5zm3 84zm-6 70zm21 153zm-4-109zm-5-57zm8-160zm-5-108zm4-34zm11 35zm-4 290zm-3 114zm19-45zm-1-219zm-5-39zm4-31zm-4-10zm15-263zm-5 404zm20 173zm2-145zm-5-36zm1-66zm0-155zm-3-14zm-3-52zm7-143zm10-63zm-2 40zm4 6zm-6 7zm8 351zm-8 51zm9 102zm-3 83zm7-150zm7-28zm-1-368zm1-49zm-5-35zm12 47zm0 101zm5 34zm-1 239zm0 62zm10-259zm4-150zm-9-53zm17-6zm-1 129zm14 128zm4-47zm-7-64zm6-9zm-1-1zm-3-15zm0-157zm-1-11zm8 88zm5 209zm15 23zm-4-176zm-3-98zm-2-123zm15 27zm0 33zm3 87zm0 10zm-4 101zm4 10zm-5 28zm0 32zm5 8zm13 35zm3-107zm9-39zm6 102zm0-250zm4-19zm-4-12zm3-12zm12-22zm-4 26zm11 90zm-8 160zm9-241zm6-36zm6 302zm21-186zm3-136zm76 782zm19 10zm19-10zm5-27zm-4-2zm-7-37zm23-227zm16 61zm3 45zm3 122zm6 68zm0 0zm-1-172zm15-24zm4 93zm-6 56zm17 44zm-6-65zm4-95zm-1-66zm12 40zm-2 105zm-3 87zm1 9zm18-37zm-1-43zm4-37zm0-3zm-2-66zm-8-161zm11-14zm3 28zm-2 86zm5 33zm-5 88zm9 8zm-8 69zm13-18zm1-37zm4-2zm-5-16zm2-198zm-4-5zm18-77zm-5 66zm0 5zm8 43zm2 1zm-2 31zm-7 38zm3 168zm6 7zm0 59zm9-129zm-2-13zm-4-86zm14-192zm-3 21zm9 18zm1 84zm-7 30zm-1 212zm-2 10zm16 16zm1-10zm-5-42zm1-42zm9-27zm-3-26zm3-11zm-3-28zm-7-35zm2-33zm6-6zm2-1zm-3-75zm9 138zm-1 4zm4 43zm-2 144zm15-13zm-1-88zm0-49zm-4-33zm5-101zm-3-12zm-1-52zm18 20zm-2 136zm-9 80zm7 45zm-5 77zm10-52zm10-4zm0-83zm-3 0zm-6-98zm0-57zm8-88zm12 167zm-9 53zm3 47zm3 12zm-5 12zm0 49zm11 29zm4-48zm0-32zm3-80zm-2-81zm-1-93zm-4-5zm21-37zm-3 32zm3 6zm-5 3zm0 53zm5 146zm-3 25zm-1 32zm1 52zm16 26zm-6-21zm5-223zm8-56zm5 157zm-3 141zm15-64zm-2-82zm-2-39zm-1-27zm4-13zm13-67zm-7 23zm7 17zm10 163zm-3-15zm5-130zm-6-7zm-2-29zm7-67zm-1-4zm-8-4zm13 6zm5 98zm-6 15zm6 41zm4 84zm-8 4zm7 29zm8-26zm-4-16zm8-13zm-1-112zm-4-98zm6-5zm12 5zm-10 206zm19-14zm5-166zm2 13zm4 43zm-6 84zm16 13zm1-70z"/>
<path stroke="#efe51c" d="M285 2251zm15 65zm26-78zm10-42zm7 34zm3 15zm17-177zm17 321zm-5-55zm7-18zm11-24zm-1 106zm15-46zm-3-192zm1-15zm12-141zm-8 217zm9 13zm7-26zm17-16zm0 254zm13-120zm0-89zm10-119zm-2 188zm2 92zm0 29zm6-28zm4-37zm3-69zm0-83zm-8-7zm1-34zm20-51zm-8 352zm19-36zm1-30zm-8-74zm-1-225zm2-70zm14 51zm-3 160zm1 55zm14 92zm0-213zm0-32zm-2-6zm14-23zm2 181zm-7 100zm10 24zm10-92zm-1-52zm-7-14zm10-194zm-2-232zm9 169zm-5 91zm6 220zm-3 87zm3 18zm24-582zm4 394zm-4 0zm-4 13zm6 20zm-8 1zm5 62zm-2 29zm-4 106zm19-12zm-7-26zm8-4zm-8-78zm11-25zm-6-8zm0-113zm-4-23zm6-19zm10-248zm3 154zm-7 37zm8 4zm2 69zm-2 174zm1 62zm-1 20zm11-76zm1 0zm-6-3zm-2-32zm6-79zm-6-32zm8-18zm0-249zm8 251zm-4 210zm16-65zm6-29zm-6-35zm-5-27zm6-67zm-4-74zm0-13zm7-176zm4-24zm-1 161zm9 184zm-3 87zm-2 0zm-1 5zm12-43zm0-10zm1-45zm-4-41zm0-99zm6-6zm-3-96zm3-102zm17 72zm0 101zm-4 96zm1 54zm-7 46zm9 25zm8-2zm4-18zm-3-23zm-3-35zm0-31zm4-1zm2-10zm-2-12zm3-99zm-4-19zm3-6zm6 186zm8 14zm1-40zm9-81zm3 13zm5 78zm10-75zm-4-63zm53-135zm15-335zm-3 212zm18-167zm12-146zm-4 7zm-3 235zm7 84zm-5 22zm12 99zm4-185zm-10-20zm6-124zm6 227zm0 27zm3 63zm3 15zm16-3zm-4-12zm3-41zm0-69zm-2-29zm1-145zm2-14zm-7-59zm20-16zm-5 2zm2 21zm1 20zm-2 34zm14 153zm-9-29zm9-82zm-2-45zm0-80zm9-5zm0 14zm0 131zm-3 7zm5 71zm8-79zm7-133zm166 700zm9-15zm76-98zm17-177zm34 61zm18 201zm13 61zm5-8zm-6-317zm22 69zm58 208z"/>
<path stroke="#481c6e" d="M152 1911zm26 61zm12-59zm41 155zm-1-164zm19 158zm23 66zm8-189zm10-6zm2 135zm36 163zm-4-158zm9-32zm13 147zm1 141zm5-305zm-2-43zm2-178zm13 174zm18-114zm11 16zm-4 537zm7-301zm4-327zm8 440zm6 20zm13 103zm4-281zm17-240zm0-66zm5-4zm9 55zm4 485zm5-42zm5-144zm-3-100zm11-68zm1 391zm6-339zm3-120zm0-10zm29 165zm-8-28zm12 310zm1 0zm26-326zm17-86zm2-1zm16 258zm-1-41zm4-86zm2-169zm55 213zm41 115zm-6-136zm6-113zm11-311zm53 72zm-4 152zm114-201zm411 372z"/>
<path stroke="#38598c" d="M137 1860zm9-25zm11 39zm16 17zm1 48zm3 4zm16-126zm9 257zm5-108zm10-37zm2 42zm16-106zm-2-5zm11-65zm17 302zm-4-190zm-2-98zm15 67zm0 155zm-4 81zm21 98zm0-74zm-10-86zm1-256zm9-28zm4 69zm2 153zm-2 78zm-1 46zm10 21zm2-328zm5-44zm14 28zm1 124zm-4 65zm-2 74zm3 221zm5-18zm1-112zm21-306zm0 40zm-7 101zm10 264zm9-211zm-5-165zm11-104zm1 109zm4 7zm1 41zm-3 241zm-2 18zm-5 66zm7 97zm5-311zm6-174zm13-25zm-7 127zm9 134zm13 98zm-10-76zm11-48zm-11-112zm23-116zm-5 18zm-3 13zm8 64zm-11 45zm2 42zm8 125zm2-140zm10-164zm7-60zm3 66zm-1 17zm-6 180zm8 74zm4 198zm7-206zm-8-189zm6-58zm13 142zm-1 138zm16-68zm1-42zm-6-261zm8 36zm-1 65zm14 95zm2-172zm11 198zm4 53zm13 250zm-2-326zm6-1zm8 336zm13-248zm-7-179zm3-12zm-4-53zm22 58zm-5 252zm-6 134zm23-101zm-10-12zm8-204zm12-6zm7 210zm-3-162zm9-137zm17 311zm11-334zm7 333zm-3 211zm-1 11zm18-536zm12 74zm8 434zm-4-325zm2-60zm8-91zm4 322zm2 130zm9-619zm27 15zm-7-86zm12 2zm3 548zm23-246zm20-132zm3-140zm14-32zm24 314zm4-332zm-7-26zm37 42zm7 161zm24-251zm-6 349zm243 160z"/>
<path stroke="#238a8d" d="M162 1809zm71 358zm0-45zm7-65zm7 59zm-1 9zm13 26zm-1-8zm-1-144zm2-129zm10 77zm4 40zm-2 76zm4 32zm-4 133zm7-110zm9-112zm7-146zm-6 54zm1 39zm8 140zm-6 86zm5 122zm13-1zm0-63zm-1-195zm2-53zm11-2zm-4 52zm-3 192zm11 40zm0-39zm-1-147zm20-168zm-6 212zm2 127zm-2 46zm13 51zm5-69zm-3-64zm6-142zm3-193zm-2 7zm5 75zm-1 87zm2 63zm4 277zm10-25zm-2-143zm4-11zm-8-80zm19-203zm1 99zm-9 8zm9 15zm6 339zm2-49zm-6-120zm2-60zm2-184zm0-125zm2-49zm-4-30zm11 95zm0 91zm6 127zm2 3zm-4 210zm17-43zm-10-168zm8-118zm13-203zm0 224zm-8 65zm8 8zm-5 84zm2 69zm-6 99zm16 81zm-2-143zm7-156zm-3-10zm-2-120zm-4-14zm7-104zm14-30zm-8 256zm4 42zm-1 180zm5 36zm13 50zm0-289zm-8-108zm-1-156zm22 75zm-5 1zm5 84zm0 76zm-11 151zm11 15zm11 196zm-10-301zm2-39zm-2-79zm5-87zm14-83zm1 129zm0 172zm-6 149zm0 109zm20-55zm-7-162zm0-2zm4-53zm-6-21zm5-58zm-4-36zm9-62zm-3-97zm-3-22zm15-28zm0 59zm3 61zm-9 41zm0 25zm1 19zm5 138zm2 84zm-6 6zm1 4zm0 63zm1 15zm-1 2zm14 107zm-4-32zm1-211zm-2-227zm1-41zm-3-92zm16-54zm-2 229zm3 126zm6 23zm-5 65zm-3 3zm2 17zm10 90zm1-89zm3-39zm-4-237zm-2-128zm9-1zm7 14zm-2 8zm2 16zm1 145zm-2 215zm3 31zm3 44zm1 66zm-10 5zm17-26zm5-83zm-11-14zm4-67zm-2-177zm7-104zm0-72zm3 487zm23 31zm-7-26zm-2-31zm-2-31zm8-113zm-3-49zm-4-15zm9-24zm-9-75zm7-60zm-8-27zm2-9zm12 342zm0 98zm-2 50zm19-92zm4-20zm-10-26zm6-26zm0-212zm2-66zm-3-50zm15-22zm-2 143zm-5 5zm5 36zm-2 62zm3 131zm-7 39zm16-94zm1-206zm-4-14zm12 69zm7 46zm-4 174zm28-548zm1 240zm0 1zm-1 270zm5-169zm5-32zm-3-338zm29 13zm4-16zm41 201zm14-147zm16 47zm35-272zm7 350zm0-115zm9-76zm6 134zm-7 32zm41-291zm125 786zm12-258zm11-2zm16 124zm7-32zm3-85zm4 35zm1 51zm2 190zm20-221zm1 110zm20 122zm20-237zm-6-216zm15 145zm14 66zm-1-78zm11-54zm5 185zm-6 33zm20 30zm12 32zm5-223zm14-49zm4 187zm13 68zm31-101zm4 120zm10-150zm4 97zm11 30zm9-138zm-4-16zm2-147zm17 142zm5-21zm22 113zm4-37zm6-82z"/>
<path stroke="#1fa287" d="M155 1838zm33 126zm-3-143zm18 227zm24-152zm-2 26zm0 18zm13 3zm-4-96zm1-4zm7-7zm6 72zm-3 13zm0 35zm-3 35zm17 70zm-3-111zm12-121zm7 59zm-1 151zm1 63zm-5 8zm6 0zm10-23zm13-127zm5 350zm6-15zm-10-94zm7-71zm-6-146zm1-6zm5-92zm-2-61zm5-30zm-4-36zm10 103zm7 27zm-9 199zm20 102zm-3-64zm-7-107zm5-33zm0-9zm-3-39zm8-8zm0-18zm4-79zm-1 472zm20-109zm-7-105zm9-108zm-8-121zm0-2zm0-7zm13 186zm-4 121zm1 60zm8 15zm2 13zm-7 39zm4 13zm11 23zm-4-213zm4-43zm13 153zm-2 52zm8-189zm6-24zm12-235zm1 120zm-3 54zm4 88zm-8 54zm-2 74zm4 103zm-4 70zm20-157zm-5-30zm2-20zm2-127zm-5-3zm-1-97zm2-190zm12 79zm-2 41zm3 170zm-1 88zm-3 146zm0 68zm1 38zm21 44zm0-40zm-3-63zm4-18zm-6-290zm0-42zm-2-180zm16 30zm-1 23zm-1 384zm4 43zm-4 109zm17 24zm-4-42zm-6-102zm4-56zm2-39zm-3-15zm5-47zm2-50zm-9-57zm5-26zm3-200zm5 12zm0 139zm-2 16zm10 307zm-4 31zm-3 35zm5 91zm1 50zm12-7zm-2-80zm-2-146zm2-129zm4-125zm3 92zm6 301zm-2 88zm8-32zm3-29zm-1-28zm-4-129zm20-411zm-1 64zm2 4zm-7 70zm5 116zm-3 126zm-4 98zm23 133zm-4-213zm-4-82zm18-327zm-5 59zm-3 378zm-1 68zm2 56zm3 21zm3 81zm8-46zm5-164zm-6-37zm6-23zm-6-66zm5-18zm-2-38zm4-9zm0-165zm-5-14zm4-11zm5 79zm-2 58zm4 27zm1 71zm1 29zm3 104zm-9 86zm9 25zm-9 62zm18-33zm4-48zm-4-15zm-3-198zm0-5zm-3-27zm9-2zm9-249zm-5 102zm5 262zm-6 52zm2 34zm8 37zm-5 98zm17-92zm-4-104zm3-29zm-6-79zm2-37zm-4-20zm0-77zm6-30zm14 47zm-3 124zm3 78zm-8 191zm15-32zm5-34zm-8-44zm3-170zm-2-24zm9-47zm-4-111zm11-23zm-4 59zm7 71zm-8 158zm1 4zm8 67zm7-3zm2-32zm-4-58zm4-15zm4-4zm-3-71zm-3-89zm9-357zm2 540zm6 124zm2-59zm8-75zm0-14zm-8-448zm22-80zm1 575zm3-11zm7-93zm13-459zm-2 26zm-3 513zm11 5zm-4-459zm0 0zm15 170zm9 59zm2-249zm1-30zm16-112zm8 62zm26-28zm12 306zm17-247zm0-84zm2 26zm2 194zm22-230zm1 219zm129 505zm34-15zm6-289zm3 60zm13-38zm17-23zm-6 284zm15 36zm7-336zm7 115zm1 32zm-10 18zm5 27zm-5 143zm14-113zm19-264zm-9 128zm5 120zm-2 22zm5 98zm0 52zm13-67zm-2-124zm2-74zm3-126zm18 368zm3-7zm-9-51zm-1-12zm11-99zm1-271zm5 124zm0 112zm3 89zm-3 98zm14-138zm-5-116zm12-139zm2 266zm15 72zm-4-7zm8-111zm-4-27zm-4-12zm-3-34zm4-63zm-1-15zm0-34zm20 61zm-8 184zm0 90zm12-5zm2-130zm-5-15zm7-102zm-1-86zm11-3zm-4 231zm-1 46zm22 26zm-2-4zm2-102zm-2-189zm-4-25zm8 22zm3 104zm5 245zm13-39zm2-33zm-3-2zm-6-4zm-1-136zm0-55zm9-91zm3 44zm5 133zm-1 148zm2 6zm6-181zm-1-10zm0-10zm10-27zm-4-22zm-4-40zm21 51zm-6 83zm-4 17zm17 90zm3-98zm2-61zm7-101zm5 14zm-8 49zm-1 43zm1 98zm7 12zm2 65zm5-27zm-2-37zm1-145zm-1-46zm0-37zm20 68zm-2 20zm-2 4zm-7 105zm11 22zm10-16zm2-4zm-6-77zm-5-16zm2-30zm19-55zm2 56zm-1 5zm-8 102zm11-19zm5-116zm-4-14zm10 91z"/>
<path stroke="#addc30" d="M209 2022zm39 133zm13 48zm-7-162zm24 83zm16-99zm-4 154zm6 16zm2 79zm9-181zm4-11zm5 157zm7 18zm6 52zm1-106zm4-28zm0-87zm-3-110zm9 97zm3 17zm-1 26zm-4 210zm12-242zm5-19zm13 75zm10 127zm5-9zm-9-9zm6-35zm0-90zm-8-71zm10-23zm-9-23zm-1-29zm17-198zm3 38zm-1 231zm-1 104zm17 137zm-8-128zm-3-5zm6-21zm1-49zm-5-91zm18-165zm-8 120zm2 202zm1 252zm15-118zm-5-3zm3-128zm5-43zm-8-9zm6-4zm10-118zm3 90zm-8 255zm8 117zm5-29zm9-118zm-1-55zm-7-49zm1-37zm8-59zm-6-97zm8-148zm6 345zm3 52zm-4 53zm-3 67zm19-44zm-10-3zm6-177zm3-156zm-2-148zm1-55zm3-15zm8 126zm2 21zm-9 131zm1 248zm6 67zm-7 27zm18-91zm5-16zm-2-378zm0-61zm-6-53zm18 34zm-9 65zm9 72zm-1 184zm3 102zm-10 34zm19 151zm-2-154zm-2-251zm-4-24zm1-65zm4-31zm-4-16zm20-84zm-7 241zm0 7zm6 15zm-6 6zm8 17zm-3 17zm0 70zm0 144zm3 65zm2 24zm4-40zm1-81zm2-41zm3-30zm-2-70zm-6-81zm3-11zm2-59zm-6-56zm7-160zm7 150zm-1 30zm-2 0zm1 118zm7 145zm-8 8zm6 184zm15-116zm-8-36zm7-133zm-5-20zm5-28zm-6-146zm0-11zm3-4zm5-20zm3-62zm10 79zm-5 132zm2 205zm-6 71zm-2 113zm16-89zm6-104zm-2-112zm-8-218zm5-24zm-1-103zm15 24zm-4 44zm0 81zm-2 114zm3 44zm-3 96zm-1 98zm15 68zm6-12zm0-138zm-8-80zm7-110zm-8-93zm0-28zm18-56zm-4 151zm5 294zm11-5zm3-437zm6 120zm6 105zm-7 22zm14 217zm5-228zm-5-40zm5-170zm12 417zm-5 14zm10-7zm-1-349zm0-167zm1-152zm12 361zm6 217zm7-59zm6-477zm10-37zm-7 43zm3 102zm-2 282zm2 68zm8 2zm12-276zm-2-2zm2-6zm-11-99zm4-122zm8-26zm10 28zm-6 50zm3 29zm-7 93zm9 141zm14-23zm-9-3zm8-64zm-3-100zm-4-109zm8 0zm12-130zm-3 36zm2 3zm-10 23zm4 67zm0 94zm-4 0zm7 99zm0 10zm-4 33zm-3 7zm1 32zm8 31zm3 33zm10-40zm-5-20zm-1-10zm-3-56zm3-113zm-2-26zm2-33zm2-73zm11-35zm-3 12zm-1 147zm5 37zm4 64zm-2 57zm4 78zm10-36zm-5-69zm4-7zm-7-4zm-1-290zm8-13zm8 83zm-4 41zm4 11zm-5 4zm4 31zm2 51zm-2 102zm3 6zm4 21zm7-232zm-2-103zm-4-58zm21 103zm-6 8zm6 92zm-9 68zm6 160zm10-44zm4-52zm-8-113zm0-149zm23-12zm-4 298zm5 22zm1-59zm1-309zm19 87zm-8 192zm17-143zm132 652zm54-6zm4-172zm11-97zm4 128zm15-149zm18 309zm-1-171zm8-21zm12-119zm-6 330zm14-65zm-6-10zm1-1zm18-307zm-5 85zm31-12zm-6 28zm22 11zm3 117zm8-89zm17 47zm6-3zm32-72zm60 53zm14-44zm0-45zm9-3zm5 25z"/>
<path stroke="#460a5d" d="M161 1849zm8 42zm1 45zm10 83zm11-131zm-11-4zm8-21zm-3-23zm18-1zm1-12zm17 33zm5 84zm7 119zm-5-65zm2-60zm5-24zm12-126zm-6 41zm0 25zm5 23zm-3 30zm-2 100zm0 58zm5 19zm6-155zm7-90zm12-72zm-1 34zm0 92zm-5 2zm4 35zm-4 22zm8 10zm-3 154zm10 63zm-4-195zm1-129zm15-65zm12 458zm1-14zm5-188zm-10-152zm12 419zm15-152zm0-72zm-3-130zm12-183zm9 417zm13-239zm-4-12zm1-27zm-4-21zm10-31zm4 118zm4 25zm25-220zm-4 2zm-6 36zm8 164zm5-48zm8-119zm-8-1zm14-32zm2 252zm18-150zm17 74zm4-84zm-4-59zm5-2zm22 379zm-7-283zm20-158zm17 210zm4 47zm16-23zm2-193zm4 138zm4 27zm26-112zm7 73zm9 145zm13-238zm15 40zm7 117zm44-44zm18-58z"/>
<path stroke="#cde11d" d="M216 1973zm11 91zm5-103zm23 153zm12 95zm7 14zm2-3zm5-62zm22 53zm7-211zm8-154zm1 217zm1 67zm10 172zm5-215zm3-10zm7 52zm4-36zm16 106zm8 129zm11-154zm14 106zm0-85zm16-225zm5 397zm6-510zm18-13zm-1 4zm0 399zm-7 38zm12 158zm7-27zm-8-53zm0-29zm-2-93zm10-111zm1-34zm0-281zm9 185zm0 278zm-8 121zm21 67zm2-7zm-1-174zm-9-135zm9-50zm-2-124zm7-8zm1 397zm10 38zm-2-58zm4-127zm3-42zm-2-168zm-1-15zm-4-67zm5-99zm11-55zm-3 196zm5 86zm-5 140zm9 271zm7 21zm6-94zm-10-47zm-1-93zm11-61zm-5-75zm-1-276zm14 285zm0 33zm2 35zm-2 26zm-3 64zm0 4zm-1 45zm14-271zm2-62zm-6-105zm14 79zm3 107zm2 198zm0 19zm-3 124zm14-7zm-5-32zm4-43zm2-128zm-6-41zm0-31zm5-117zm0-36zm15-112zm1 14zm0 62zm10 451zm-1-74zm-4-60zm6-93zm-6-98zm2-140zm5-121zm1 170zm4 39zm6 118zm-1 52zm-2 117zm3 40zm-10 30zm21-47zm1-84zm-8-101zm3-9zm6-1zm-11-29zm0-100zm13 180zm1 83zm9 21zm5 10zm2-138zm-1-121zm14 131zm0 64zm3 11zm2 76zm6-312zm-1-87zm13 67zm-5 12zm5 208zm-6 33zm19-138zm-4-125zm7-254zm-1-12zm16 414zm13-505zm11 121zm21-117zm11 324zm-4-254zm9 242zm3 35zm16-259zm-4-169zm12 17zm4 217zm-2 30zm3 31zm-1 18zm-5 34zm6 21zm1 9zm9-42zm-6-10zm7-47zm-9-145zm2-91zm3-44zm-4-1zm19 244zm-5 185zm9-71zm3-49zm1-82zm4-250zm10-7zm-4 95zm6 159zm5 139zm2-140zm1-47zm7-121zm-8-47zm3-3zm11 48zm3 6zm-4 49zm4 4zm-1 19zm3 167zm-1 34zm-6 18zm10-161zm3-50zm5-38zm7 30zm18-99zm160 780zm37-288zm6 26zm2 243zm3-155zm33-198zm6 183zm36-196zm19 225zm2-205zm18 272zm23-336zm1 17zm-4 49zm9 48zm43 54zm-3 61z"/>
<path stroke="#6ccd5a" d="M145 1935zm16-49zm14 95zm24-44zm24-15zm3 55zm5 181zm3-109zm-4-129zm10-2zm9 142zm10 40zm2-118zm0-70zm-6-4zm7-114zm10-38zm-2 53zm-3 69zm-3 96zm5 229zm9-263zm4-38zm11-106zm1 75zm-5 99zm5 32zm4 138zm-6 80zm17-276zm2-21zm11-84zm-9 251zm3 172zm19 59zm-7-4zm5-23zm-2-241zm0-91zm-2-194zm7 587zm13-25zm5-5zm-4-161zm4-47zm-4-20zm6-321zm-8-15zm13 256zm4 100zm-4 246zm20-183zm-5-154zm-3-22zm6-34zm3-167zm10 102zm1 15zm0 68zm-9 236zm10 83zm-2 9zm15-37zm-3-225zm1-42zm2-67zm-10-13zm8-159zm8 125zm-5 26zm11 105zm-10 222zm18 165zm-2-328zm4-23zm-2-96zm7-182zm1 80zm-3 110zm2 73zm5 223zm-2 4zm1 87zm4 63zm6-36zm2-100zm4-23zm-6-8zm0-64zm-4-155zm8-140zm-2-23zm1-65zm7 390zm9 57zm-9 60zm4 131zm6-52zm10-67zm-6-300zm-4-25zm13 311zm8 126zm-7 2zm16-39zm-1-53zm-3-71zm-1-238zm10-78zm-11-7zm0-82zm22 114zm-7 204zm4 39zm-3 98zm2 53zm16 15zm-10-72zm11-174zm0-45zm-5-46zm0-95zm-6-143zm16 44zm4 45zm3 128zm-6 135zm5 64zm-9 129zm12-199zm6-52zm-5-272zm0-43zm17-15zm-3 359zm7 203zm5 39zm5-129zm-2-203zm0-92zm-7-144zm18 178zm5 104zm-5 191zm12 44zm-2-152zm7-212zm-1-96zm2-31zm7 114zm2 251zm-4 119zm1 61zm17-43zm-3-205zm4 44zm3 49zm7 108zm3 36zm4-76zm6-59zm-2-29zm-3-69zm5-111zm11-126zm-4 9zm3 227zm0 50zm4 158zm1-294zm8-31zm3-353zm8 101zm-2 179zm-6 13zm4 126zm2 104zm0 15zm6 100zm8-56zm-9-139zm7-190zm4-198zm-3-79zm3-19zm5 15zm3 50zm-5 439zm3 77zm-4 17zm1 13zm21-411zm-9-128zm9-4zm-4-22zm7-12zm7 49zm-5 45zm-4 108zm13 353zm8-82zm0-251zm-6-38zm5-11zm-8-23zm6-54zm7-178zm3 68zm2 116zm4 76zm-8 11zm11 22zm6-61zm-4-89zm2-47zm5-91zm4-52zm8 58zm-5 26zm-4 28zm6 102zm-4 54zm-1 117zm12 38zm1-144zm-2-211zm3-43zm15-54zm1 90zm-7 55zm-1 15zm8 93zm-7 40zm19 97zm1-21zm0-56zm1-42zm-8-139zm11-119zm5 94zm2 63zm-8 60zm11 8zm7 172zm0-6zm5-112zm-5-194zm-2-12zm3-41zm9-61zm4 181zm15-3zm-7-53zm2-53zm17 193zm-6 42zm4 23zm14-265zm-9-40zm114 722zm10 96zm55-61zm15 22zm6-57zm-7-162zm10 62zm6 25zm3 67zm4-42zm-2-231zm22 60zm1 40zm10 254zm-9-41zm0-111zm5-72zm5-86zm-2-56zm8 83zm5 20zm-7 288zm0 7zm11-15zm2-98zm-1-60zm10-173zm1 14zm6 6zm-4 35zm7 166zm3 91zm0-76zm-1-18zm4-18zm-2-253zm5-23zm15 90zm-4 22zm0 13zm12 220zm2-112zm0-76zm13-49zm1 54zm-5 13zm-3 9zm-2 120zm4 24zm-3 12zm13-37zm-1-15zm3-267zm8 9zm0 55zm1 85zm6 23zm-7 52zm5 9zm0 113zm0 8zm17-116zm1-57zm-5-143zm18 321zm5-201zm-2-13zm-3-32zm0-9zm13 35zm4 86zm2 8zm-6 11zm3 7zm-3 58zm18-59zm4-113zm-4-25zm0-10zm-4-5zm6-41zm4 177zm5 18zm17-194zm9 53zm-8 78zm17 90zm12-266zm12 206zm17-205zm-7 129zm9-21z"/>
<path stroke="#472d7b" d="M170 1830zm24 89zm43-36zm-5-17zm1-18zm4-18zm19 3zm18 29zm7 265zm23-184zm9 181zm4 152zm9 35zm5-330zm11-65zm1 45zm-6 275zm14 43zm19-222zm-1 85zm4 50zm6-190zm13-148zm-5 49zm22 22zm6 227zm-3 166zm17-98zm13-357zm-3 301zm15 66zm-3-151zm6-65zm14 202zm-3-195zm20-134zm2 161zm-9 123zm20 193zm-8-391zm5-40zm17 313zm10-331zm14-31zm-10 465zm11-16zm4-231zm12-238zm-4 199zm2 133zm1 60zm20 157zm0-447zm14-97zm14 162zm9 126zm20-43zm-4 68zm2 10zm5 84zm-8 52zm14-263zm15-170zm-4 285zm6 43zm7-164zm13-138zm4 230zm-5 18zm9 146zm4-15zm4-109zm-5-80zm15-69zm14-284zm9-35zm4 1zm-5 170zm3 16zm24 27zm45-240zm212 394z"/>
<path stroke="#2c728e" d="M150 1836zm43-26zm1 16zm-2 41zm1 11zm0 77zm15 113zm-4-102zm3-11zm15-85zm-2 175zm5 22zm10 78zm2-22zm-2-24zm-5-154zm4-130zm2-16zm20 386zm-4-176zm10-117zm0-64zm1-8zm6-46zm-1 110zm5 132zm-6 74zm5 76zm8 77zm0-381zm-4-60zm18 148zm13 220zm-6-163zm6-30zm1-45zm-1-70zm12-34zm-1 70zm13 366zm0-3zm3-230zm-5-217zm14-36zm0 50zm-5 151zm4 231zm15 128zm1-91zm-4-146zm-3-23zm5-19zm-5-46zm7-211zm1-46zm8 121zm-5 89zm8 16zm-6 318zm7 44zm11-46zm-4-112zm5-142zm-1-63zm-5-18zm-5-99zm4-89zm8 99zm10 48zm-3 365zm-7 7zm3 6zm13-44zm-1-58zm2-82zm1-23zm-6-44zm0-2zm8-188zm0-6zm5 204zm10 185zm-6 43zm2 13zm-1 55zm16-21zm-9-10zm2-270zm3-78zm-1-160zm14 74zm4 15zm-9 46zm9 20zm-7 116zm3 139zm14 190zm-2-129zm-6-97zm10-96zm-1-124zm-4-46zm5-1zm-10-19zm19 103zm1 10zm-1 92zm-1 170zm14-246zm2-68zm-5-75zm-2-46zm18-28zm-10 33zm0 89zm11 35zm-8 45zm6 9zm-8 97zm0 65zm7 8zm-6 54zm13 57zm-1-14zm5-48zm1-102zm3-37zm-6-137zm13-169zm2 36zm-8 36zm4 129zm-1 175zm7 97zm-2 57zm-4 7zm11-88zm6-461zm8 185zm-5 45zm8 88zm-1 21zm-5 29zm3 208zm13 87zm-5-33zm9-67zm-9-14zm6-159zm-2-45zm-5-43zm7-128zm-6-116zm10-4zm4-38zm0 2zm0 166zm-2 100zm4 93zm-1 89zm16 125zm-5-158zm-2-17zm7-300zm2-14zm-9-30zm-1-25zm13 29zm3 30zm5 486zm10-339zm-5-10zm0-130zm17-85zm-6 142zm10 245zm-2 73zm-5 43zm17 47zm-6-210zm8-277zm-5-25zm11 272zm2 51zm15 66zm0-35zm-5-147zm8-161zm6 74zm-5 371zm10 9zm4-142zm9-252zm3 262zm15-33zm-5-197zm12-12zm12 116zm14 108zm16-388zm63-78zm-8 62zm13-250zm69 313zm7-278zm6 139zm54 548zm92-259zm-4 319zm92-334zm-5-42zm81 133zm43-139zm18 219zm22-215zm63 177zm28-63zm2 10z"/>
<path stroke="#38b977" d="M177 1850zm6 23zm7-57zm25 144zm-4-139zm0-1zm14-34zm-2 153zm10 201zm-5-33zm6-48zm11-47zm-4 46zm6 21zm9 61zm-1-359zm12 169zm26 80zm-4 4zm3 83zm16 85zm0-111zm-5-51zm-2-103zm8-62zm6-91zm-1 260zm4 116zm-4 101zm12 9zm6-61zm-8-126zm5-25zm-3-25zm4-222zm13 49zm-1 106zm5 95zm-7 44zm13 222zm4-138zm-4-44zm4-3zm-3-153zm-5-20zm9-165zm-6-5zm7-32zm1 171zm6 302zm-6 47zm7 4zm16-95zm-11-331zm11-58zm6 39zm3 215zm1 59zm-9 110zm8 17zm-2 73zm15-1zm-3-170zm-1-38zm-1-16zm7-229zm1-105zm11 18zm-1 303zm-2 161zm-8 120zm16 49zm1-19zm-4-52zm8-20zm-2-97zm-1-12zm-2-216zm-4-66zm14-97zm4 122zm-2 34zm6 87zm-6 46zm3 145zm13 63zm-1-12zm11-493zm-1 108zm2 149zm0 4zm-5 285zm12-121zm2-113zm-4-122zm5-167zm10-56zm-1 30zm5 29zm10 406zm-3-55zm9-230zm-5-16zm17-179zm0 78zm-11 31zm8 14zm-6 78zm8 32zm1 14zm-1 42zm1 38zm-10 165zm3 12zm15 192zm-4-248zm-2-170zm1-103zm5-134zm2-14zm-4-5zm5-23zm13 21zm-5 3zm3 92zm-2 13zm-2 217zm-1 88zm6 5zm-1 111zm-5 163zm14-282zm1-4zm-4-205zm6-16zm-2-3zm-7-81zm18 61zm2 94zm8 77zm5-61zm-7-70zm-1-5zm9-70zm5-112zm5 71zm-4 17zm7 130zm-3 386zm15-54zm-2-4zm-1-10zm1-20zm-9-4zm10-66zm-8-20zm9-21zm-11-183zm7-174zm-2-30zm11 150zm7 7zm-7 243zm7 14zm-10 4zm4 97zm1 46zm11-184zm-1-33zm3-36zm4-193zm8-113zm-5 70zm-2 184zm10 95zm-6 0zm-3 31zm21 90zm-6-172zm-3-49zm0-193zm0-57zm18-35zm-4 216zm3 25zm9 222zm2-48zm16-323zm-9 394zm17-221zm3-408zm4-12zm1 3zm7 349zm13-336zm3 48zm13 372zm5-222zm1-48zm-1-14zm-3-67zm7-37zm-2-92zm7 92zm8 11zm-1 72zm-4 56zm5 57zm-6 29zm9-37zm14-30zm4 124zm13-293zm4-105zm22 185zm-9-8zm10-172zm7 154zm-6 1zm6 55zm14 104zm-7-107zm3-134zm2-30zm12 66zm16 202zm-7-256zm18-43zm9 162zm7 38zm67 487zm14 38zm5 19zm16-44zm-1 19zm14 38zm-8-46zm10-57zm28-109zm4 70zm-2 50zm-3 25zm4 55zm10 22zm5-44zm-2-7zm7-89zm-1 76zm6 44zm8 2zm-1-123zm3-72zm5-18zm-2-82zm8 18zm5 147zm2 59zm6 35zm4-83zm-8-17zm9-123zm-5-80zm4-8zm12-41zm2 55zm-4 15zm-6 4zm7 6zm3 18zm-3 6zm-2 38zm-5 23zm9 35zm-7 14zm3 35zm-3 25zm-1 7zm7 34zm0 23zm1 57zm1 30zm5-35zm4-4zm3-27zm-6-34zm-1-81zm7-37zm-2-22zm-2-12zm4-29zm-2-3zm2-50zm-5-28zm-1-47zm16-40zm-5 20zm-4 57zm7 92zm2 1zm2 65zm0 47zm-11 99zm22 15zm-5-12zm5-103zm-7-71zm8-40zm-9-5zm3-91zm1-12zm-4-41zm21-50zm-9 13zm5 9zm4 105zm-8 107zm-2 97zm16 59zm-1-5zm-4-3zm0-17zm3-114zm2-25zm-4-12zm8-53zm-2-22zm-6-8zm4-43zm3-21zm-4-6zm3-49zm6 17zm1 6zm-1 44zm1 24zm7 70zm2 5zm0 40zm0 2zm-4 6zm3 32zm-1 44zm-3 12zm4 40zm-3 5zm1 55zm10 37zm4-36zm1-15zm-10-12zm10-24zm-9-72zm4-36zm0-30zm-4-45zm7-15zm-8-9zm2-1zm7-39zm-3-35zm15-3zm-2 69zm-5 31zm6 4zm-2 15zm3 32zm-10 42zm3 27zm6 34zm-1 22zm1 2zm-8 54zm17 1zm-3-17zm-3-28zm9-40zm-8-22zm7-28zm-7-64zm3-20zm-3-30zm3-20zm4-13zm0-28zm-2-49zm5-6zm2 30zm8 22zm-6 5zm1 34zm5 22zm-7 63zm4 15zm-3 70zm0 21zm1 10zm7 5zm-3 3zm2 17zm-5 14zm-1 19zm-1 1zm11 28zm1-41zm-2-67zm6-56zm-6-11zm8-28zm-8-4zm4-68zm4-79zm-2-11zm-3-10zm11 97zm4 35zm3 30zm-2 10zm3 32zm-4 73zm4 104zm4-153zm3-111zm-5-26zm8-25zm12-22zm-3 31zm4 15zm-10 66zm1 43zm0 17zm9 21zm-4 6zm-2 11zm-4 69zm9 5zm7 4zm4-4zm1-135zm-9-68zm1-104zm14-39zm7 113zm0 1zm-2 105zm1 31zm1 40zm-9 11zm9 16zm11-16zm-7-63zm4-38zm4-24zm-1-5zm6-127zm2 52zm-2 6zm-3 48zm11 67zm-7 33zm1 17zm-3 1zm7 20zm12-55zm-1-2zm-3-44zm-4-13zm7-4zm-6-32zm-1-56zm21-26zm-5 16zm6 89zm0 78zm6-11zm-4-10zm0-25zm6-43zm-2-6zm5-20zm-3-79zm6 2zm0 82zm4 8zm2 9zm-2 58zm9-11zm8-95zm-9-28z"/>
<path stroke="#28ae80" d="M159 1862zm10 119zm11 16zm9-141zm5 79zm6 65zm8-76zm15 3zm-4 116zm12 5zm-3-44zm2-24zm13-8zm-1 13zm9 4zm-3 30zm1 43zm1 80zm-9 32zm14-75zm-1-105zm5-107zm15-133zm1 59zm-9 106zm20 283zm-6-162zm17-224zm-1 2zm-5 2zm-1 68zm6 15zm1 38zm-2 41zm0 142zm-3 49zm13 110zm0-63zm5-9zm1-229zm-8-144zm5-48zm-6-17zm18 230zm-4 29zm16 131zm-8-160zm3-138zm2-30zm11 187zm-2 175zm15-75zm-5-271zm17-50zm-3 55zm-1 108zm10 135zm4 242zm4-237zm-6-54zm5-22zm-4-176zm15 193zm3 101zm0 217zm14-9zm-10-188zm10-91zm-7-281zm4-38zm13 307zm-2 93zm7 206zm3-322zm2-13zm-4-59zm3-151zm18 211zm-7 32zm1 4zm1 109zm12-124zm-4-87zm7-22zm-2-124zm8 24zm8 570zm7-148zm2-138zm-4-24zm2-88zm5-16zm-4-57zm-1-34zm2-117zm-2-6zm9-21zm3 18zm0 78zm3 59zm-1 19zm-1 29zm-2 131zm4 65zm2 102zm-1 78zm1 24zm-11 2zm19 91zm2-28zm-8-287zm7-324zm1-13zm6-5zm2 9zm2 18zm0 95zm-4 88zm5 49zm-6 98zm7 14zm7 291zm6-107zm-2-103zm-5-31zm0-392zm16-59zm3 2zm-10 109zm5 5zm0 292zm-2 105zm7 88zm3-285zm5-165zm-5-85zm8-2zm-5-23zm8 103zm5 101zm4 3zm-8 15zm-1 50zm20 298zm-1-307zm2-211zm7 75zm1 52zm3 35zm-7 2zm2 207zm6 1zm-7 49zm3 102zm2 39zm9-507zm10 70zm2 78zm0 69zm5 90zm-8 29zm13 117zm2-397zm0-149zm11 18zm4 81zm-6 134zm6 4zm0 46zm4 115zm-11 39zm4 11zm4 24zm9 3zm3-139zm1-235zm-3-20zm17 70zm6 351zm5-80zm-4-217zm2-105zm11 63zm-3 158zm-3 8zm1 5zm5 30zm2 133zm8-134zm4-59zm-8-48zm2-76zm-2-267zm12 344zm3 22zm-3 26zm22 81zm-3-34zm-4-77zm27-175zm2-212zm7-91zm19 137zm-2-149zm12 70zm-9 163zm22 38zm-2-141zm1-121zm-1-10zm-3-23zm-3-16zm7-43zm15 394zm7-21zm-4-22zm-1-106zm13-259zm53 281zm92 497zm24 13zm13-75zm12-8zm1 8zm10 68zm0-2zm1-22zm7-250zm20 330zm1-10zm-9-12zm10-22zm-4-5zm5-155zm-9-2zm19 127zm-9 28zm1 19zm20-64zm1-59zm-4-10zm2-109zm0-11zm-4-194zm17 262zm-3 16zm-4 9zm6 187zm15-8zm-11-86zm0-2zm8-11zm0-15zm-7-70zm0-34zm9-49zm-3-10zm-5-5zm7-15zm-5-77zm-2-2zm18-35zm-4 19zm7 67zm0 7zm-8 4zm-3 12zm0 117zm9 19zm1 163zm-5 9zm9-19zm4-26zm2-37zm2-17zm-4-30zm4-4zm-7-95zm-2-4zm8-18zm-7-8zm-2-168zm16 2zm2 27zm-4 50zm0 9zm8 103zm-5 14zm4 67zm-8 45zm12-4zm4-61zm1-138zm-5-20zm12-116zm-1 23zm7 11zm3 2zm-1 140zm-9 8zm2 46zm0 2zm5 27zm4 8zm-3 97zm5 71zm5-48zm4-18zm-9-2zm1-123zm3-148zm18-59zm-6 73zm6 37zm-5 3zm0 107zm-3 57zm8 55zm-10 18zm6 11zm3 44zm9-48zm3-147zm-5-13zm0-117zm-1-22zm13 210zm0 5zm5 41zm-7 29zm2 45zm9-1zm1-99zm7-51zm1-16zm-4-26zm-2-14zm4-13zm-4-85zm11 143zm7 10zm-6 162zm12-49zm3-49zm2-18zm-9-12zm0-195zm4-1zm-5-63zm31 352zm2-31zm-8-65zm2-85zm2-12zm-4-7zm0-10zm6-48zm3-75zm13 72zm0 6zm-2 187zm-3 33zm-3 44zm9-189zm1-26zm2-15zm1-53zm-2-86zm12 25zm0 103zm1 2zm1 71zm4 83zm15-37zm-1-179zm-8-15zm4-46zm7 6zm9 2zm-9 29zm1 8zm6 29zm-2 8zm5 18zm-6 10zm15 123zm-8-59zm3-14zm0-7zm8-36zm-10-46zm5-10zm17-18zm-2 100zm1 58zm-4 34zm-4 22zm18-98zm-3-37zm2-65zm0-39zm16 88zm-10 64zm7 21zm5 3zm1-24zm0-67zm7-16zm15-22z"/>
<path stroke="#28ae80" d="M143 1891zm22 48zm-2-10zm8-25zm1 7zm19 69zm-7-39zm1-74zm9-15zm9 58zm23-119zm-1 109zm-7 104zm5 5zm0 3zm9-2zm0-149zm-3-27zm8-27zm9 84zm2 110zm-6 130zm9 1zm12 37zm-1-104zm-1-152zm-9-72zm6-23zm16 269zm13 110zm-10-15zm9-27zm-9-150zm7-57zm-3-45zm-2-91zm0-33zm13 254zm-1 14zm5 55zm-8 16zm22 115zm1-82zm-7-140zm-4-181zm20 4zm-4 162zm7 323zm3-79zm7-73zm1-73zm-3-151zm-1-134zm9 110zm2 259zm-4 140zm19-43zm-3-17zm-5-350zm15-89zm5 25zm1 114zm-8 3zm3 64zm-4 122zm3 13zm7 93zm10 96zm3-286zm-7-52zm7-1zm-6-104zm5-4zm-5-99zm-2-13zm20 7zm-9 68zm3 12zm-1 286zm-3 3zm4 168zm16 86zm-5-300zm3-6zm-7-125zm0-60zm17-103zm-3 52zm7 182zm-5 36zm-3 24zm8 235zm13-101zm-10-445zm2-26zm20 24zm0 207zm-7 409zm13-99zm2-136zm5-78zm-5-47zm-5-10zm1-101zm7-15zm10-132zm-4 337zm7 26zm-1 55zm4 66zm-1-201zm4-90zm13-16zm6 275zm-10 138zm11 15zm2-97zm6-235zm2-70zm13-203zm-1 13zm-3 9zm3 229zm-9 5zm6 100zm0 5zm-4 83zm7 112zm11 113zm-7-66zm3-60zm2-64zm0-7zm2-274zm1-111zm1-27zm8 40zm-5 113zm7 348zm9 57zm-5-105zm0-339zm8 0zm-9-37zm22-40zm-4 164zm-1 15zm-4 127zm9 57zm-4 88zm-5 40zm6 17zm10 44zm-2-89zm3-475zm1-66zm5 19zm3 2zm7 249zm-7 30zm4 95zm-7 87zm4 56zm2 20zm-6 22zm14-96zm5-149zm4-169zm-1-42zm9-42zm0 44zm-6 65zm6 23zm-7 163zm9 64zm-8 13zm2 18zm1 5zm2 5zm10-246zm13-209zm6 17zm-10 146zm5 87zm11 266zm-2-107zm5-295zm2-8zm-1-16zm-6-7zm7-52zm-5-29zm14 66zm-3 64zm1 120zm2 7zm0 214zm10-119zm6-43zm9-157zm-1 186zm8 139zm8-142zm-11-68zm11-29zm-8-5zm19-441zm3 593zm6-101zm0-346zm-4-90zm3-8zm3-21zm11 377zm1 87zm-5 47zm3 32zm8-130zm5-190zm-4-35zm-3-29zm3-77zm-2-99zm12 297zm8 17zm-6 257zm10-344zm6-238zm10 192zm-2 75zm56 41zm29-115zm7-298zm16 269zm97 480zm16 23zm26-66zm9 25zm17 58zm2-31zm-1-204zm18 64zm0 153zm2 48zm4-112zm3-96zm2-73zm3-2zm10-49zm-5 216zm8 85zm7-211zm0-27zm0-27zm-3-31zm7-4zm13 51zm-7 14zm2 153zm13 95zm-6-89zm6-19zm-3-76zm-4-89zm0-106zm18 41zm-1 3zm-1 91zm2 38zm-1 110zm1 3zm11 68zm-1-28zm2-44zm-2-4zm0-139zm-2-140zm20-7zm-3 58zm-2 26zm6 63zm0 27zm-2 73zm-3 21zm5 38zm3 102zm-2-39zm0-28zm2-8zm9-4zm-1-79zm-10-10zm4-7zm7-10zm-2-2zm1-111zm-2-6zm10-133zm-3 29zm0 29zm5 10zm-8 19zm0 72zm0 17zm9 55zm-4 29zm-3 6zm3 6zm-1 38zm2 43zm2 12zm7 37zm4-12zm-2 0zm6-141zm0-33zm-10-15zm1-64zm4-118zm-2-23zm10 54zm7 272zm-4 69zm6 16zm11-14zm0-34zm-2-17zm-6-11zm9-35zm-5-55zm-6-196zm16-3zm7 33zm-11 51zm8 41zm2 40zm-7 6zm4 13zm-4 18zm-1 54zm7 42zm-1 38zm10-81zm-4-31zm-2-53zm2-170zm4-54zm12 11zm2 128zm0 28zm1 10zm-2 85zm-2 102zm11 39zm-2-69zm5-25zm-3-28zm-3-31zm5-50zm2-32zm-5-118zm20 35zm-2 40zm-3 148zm-1 76zm-2 49zm12-68zm6-130zm-4-8zm-5-43zm1-77zm13-13zm7 28zm-5 25zm-2 6zm2 15zm1 10zm-3 45zm5 15zm0 46zm6 88zm0-87zm22-172zm0 46zm-1 4zm-6 134zm-4 23zm0 76zm22-104zm-2-20zm-8-4zm9-28zm-9-7zm6-116zm17-56zm-1 17zm-8 2zm8 1zm-9 0zm4 91zm-5 49zm14 91zm7-2zm-3-30zm-5-8zm6-83zm-7-63zm2-2zm2-8zm15-51zm-7 113zm4 40zm2 76z"/>
<path stroke="#38b977" d="M166 1949zm-8-60zm17-32zm-3 91zm14-122zm29 148zm-8-84zm1-27zm-1-10zm15 104zm3 18zm9-11zm-4-64zm9-17zm7 36zm3 274zm13 13zm-8-250zm9-13zm-3-15zm12 140zm-4 83zm3 48zm9-91zm4-124zm8-80zm6 103zm2-97zm13 45zm3 10zm-1 210zm8 103zm11-267zm-8-131zm20 155zm4 257zm-1-199zm4-28zm-2-31zm5-123zm7 119zm8 185zm11 177zm-9-121zm6-75zm2-40zm-7-20zm1-110zm7-95zm-8-10zm-2-8zm10-12zm-3-22zm6-41zm8 5zm-7 379zm20 128zm-7-370zm4-118zm-5-62zm17 133zm-3 96zm3 49zm4 162zm-3 72zm-3 62zm13-111zm0-205zm-3-37zm6-73zm-8-68zm22-115zm0 144zm-10 41zm4 289zm11 139zm-4-104zm9-392zm2-68zm7 6zm0 95zm-3 52zm-2 121zm16 112zm5-106zm6-300zm7 46zm-1 14zm-4 88zm-5 150zm9 133zm-4 101zm-4 44zm18 37zm-4-117zm-2-388zm0-14zm20 21zm-6 128zm5 86zm-8 270zm22-250zm-8-61zm-1-261zm10-51zm6 163zm-2 120zm2 325zm8-66zm5-133zm-5-174zm1-161zm6-1zm8-26zm-2 29zm1 128zm2 52zm-1 323zm18 64zm-4-74zm0-29zm-5-182zm4-69zm-6-16zm6-239zm17 155zm-11 113zm4 309zm16-144zm-3-13zm1-45zm-6-81zm4-189zm-1-14zm-2-35zm16-51zm-5 1zm2 61zm5 129zm2 97zm1 17zm-6 14zm7 214zm7-304zm6-111zm10 160zm12-58zm0-131zm8-17zm0 3zm0 22zm-3 329zm7 8zm-6 46zm17 45zm2-111zm-5-68zm4-18zm-9-137zm2-52zm20-32zm0 126zm-6 26zm-4 29zm0 51zm18 166zm0-245zm-6-442zm13 18zm2 68zm-1 493zm14-412zm3-53zm0-101zm7 10zm0 132zm2 150zm9 307zm2-119zm7-249zm0-68zm-4-95zm3-1zm13 34zm-8 108zm11-138zm20-142zm-2 186zm-6 41zm15 131zm6-98zm0-195zm3 63zm7 252zm14-244zm-10-45zm33-50zm5-44zm1 32zm23 77zm14-20zm99 673zm-4-19zm4-2zm9 6zm16-2zm-2-2zm3-28zm0-84zm3 112zm2 37zm11-16zm7-128zm13 83zm-1 2zm-2 3zm4 3zm-11 21zm1 32zm20-28zm-6-99zm19-118zm0 18zm-6 48zm6 90zm-5 18zm-1 12zm5 2zm6 18zm0-9zm7-130zm0-69zm-4-49zm3-8zm2-23zm8 32zm2 11zm0 19zm1 15zm-3 16zm2 2zm-6 5zm6 17zm-7 11zm5 125zm1 11zm6 58zm5-33zm-6-48zm10-13zm-2-25zm-1-37zm3-2zm0-56zm0-14zm-6-68zm17-111zm-5 27zm2 10zm-6 13zm1 65zm1 92zm-2 2zm8 2zm-6 68zm2 7zm-1 12zm2 25zm-2 18zm2 30zm-6 60zm14-2zm4-24zm-1-16zm-3-24zm3-50zm2-25zm-5-4zm0-25zm9-74zm-7-28zm-2-40zm-2-69zm10-33zm6 21zm-1 105zm6 4zm2 8zm-7 148zm4 64zm-8 33zm0 24zm13 9zm10-2zm0-85zm-10-30zm5-21zm1-12zm-3-18zm-4-76zm6-158zm-1-16zm4-20zm11-9zm-8 43zm2 44zm6 14zm-3 2zm-3 40zm5 61zm2 39zm-3 70zm4 87zm10 28zm-6-16zm0-41zm-2-3zm7-3zm-7-22zm10-132zm-10-1zm9-65zm-4-125zm17 38zm-1 146zm-2 19zm1 58zm-6 101zm0 51zm-2 4zm12-144zm1-35zm9-16zm-7-48zm3-16zm-2-6zm-3-126zm9-31zm6-23zm1 1zm-3 60zm3 150zm-1 12zm-4 12zm5 49zm5 34zm-1 105zm4 4zm8-73zm-4-27zm4-11zm-7-124zm0-3zm-2-69zm6-3zm-3-27zm-3-81zm23 96zm-10 136zm1 30zm4 14zm-4 41zm5 15zm5 69zm11-225zm0-1zm-4-2zm-6-9zm-1-4zm5-14zm5-3zm-2-79zm-4-23zm1-5zm0-21zm5-7zm6 23zm3 96zm-5 19zm7 13zm2 12zm-5 10zm2 149zm2 34zm6-4zm-4-22zm11-89zm-8-20zm7-24zm-8-41zm5-7zm2-97zm9 48zm0 7zm-3 8zm-2 20zm7 38zm1 142zm-4 42zm15-71zm-3-60zm1-29zm-4-15zm4-14zm5-5zm-6-28zm0-14zm2-6zm3-79zm-8-1zm18 85zm1 11zm-6 1zm7 53zm-9 6zm2 23zm7 26zm-6 1zm4 57zm14 39zm-7-32zm4-7zm-2-5zm2-97zm4-43zm-9-36zm11-56zm10 40zm-8 100zm16 24zm-2-6zm-1-6zm5-18zm-3-22zm-6-63zm16 53zm-3 66zm8 45zm3-56zm3-41zm-3-14zm7-14zm-2-20zm4-33zm-9-38zm2-18zm13 7zm6 42zm9 73zm-6-65zm23 35z"/>
<path stroke="#31668e" d="M145 1855zm9 75zm11-19zm-7-12zm20 92zm13-115zm5 13zm18-31zm7-67zm-3 55zm0 81zm1 13zm13 100zm10-214zm2 16zm-3 151zm11 44zm15-240zm2 59zm2 103zm0 78zm0 13zm2 58zm7-77zm6-1zm-3-17zm-3-41zm4-97zm4-76zm7 32zm-4 229zm12 34zm0-236zm1-54zm-4 0zm0-18zm14 10zm2 61zm4 26zm2 386zm13-97zm-4-39zm-7-208zm0-158zm12 262zm1 275zm20-190zm-8-141zm3-4zm-2-23zm9-2zm-1-134zm4-23zm4 3zm5 64zm-11 173zm7 109zm14 223zm2-228zm-8-224zm3-122zm15 60zm-5 82zm4 14zm-6 6zm6 22zm-3 34zm0 2zm17 280zm-5-101zm4-238zm-4-1zm-2-15zm7-116zm3 35zm5 225zm4 54zm10 86zm-3-67zm1-69zm3-121zm-9-161zm16 206zm0 50zm4 17zm-3 21zm-3 11zm1 14zm4 105zm2 51zm-9 123zm22-37zm-7-518zm4-21zm15-12zm-5 6zm-4 572zm21-429zm-3-61zm5-78zm4 104zm0 32zm-1 54zm3 47zm3 69zm-1 17zm10 8zm-5-238zm0-140zm19 351zm4-36zm9-20zm-8-176zm29 350zm-3-23zm1-79zm-2-86zm0-94zm5-29zm2-26zm10 92zm-7 4zm6 26zm0 189zm-2 52zm13-402zm4-40zm12-14zm2 52zm0 67zm-7 15zm0 26zm12 127zm7-41zm-7-19zm2-134zm-2-12zm-4-60zm7-5zm5 327zm13 5zm0-72zm8-266zm4 65zm6 128zm-1 60zm13 196zm2-163zm-7-6zm14-240zm4 8zm-7 64zm13 287zm13-203zm5 220zm11-103zm-4-36zm5-422zm17 519zm-1-559zm22 85zm1 178zm-5 163zm11-152zm-2-61zm-2-118zm10-18zm-11-69zm28 23zm9 241zm11-269zm15 179zm20 105zm-3-54zm24-185zm14-139zm-3 68zm32-16zm9-20zm3 19zm157 710zm12-204zm82-33zm10 222zm80-88zm25-244zm15 182zm50-20z"/>
<path stroke="#277e8e" d="M152 1913zm14-12zm9-83zm4 216zm4-61zm3-160zm17 162zm6 125zm4-28zm-4-52zm1-45zm4-142zm2 24zm0 177zm2 33zm19 17zm6-189zm-2 26zm8 19zm-6 73zm8 1zm12 157zm-8-103zm7-76zm-5-27zm6-12zm8 161zm-1 19zm4 5zm1 73zm4-8zm3-99zm-4-297zm12 178zm2 154zm7 56zm4-55zm-2-45zm10-65zm-3-14zm-2-141zm-3-78zm1-39zm14 15zm0 44zm-2 266zm-2 64zm9 117zm-7 4zm17-105zm-8-260zm3-50zm1-11zm5-67zm8 219zm14 373zm0-59zm-2-205zm5-13zm-4-25zm4-59zm-5-6zm0-116zm13 25zm-3 56zm2 10zm-6 139zm5 93zm-4 84zm8 1zm13-85zm-5-69zm5-128zm-9-4zm3-1zm6-186zm0-13zm9-42zm1 130zm-6 96zm-1 120zm9 35zm-7 16zm2 133zm13 1zm-4-88zm0-7zm8-51zm-3-37zm2-43zm-4-17zm0-78zm-1-70zm-3-23zm8-25zm2-31zm-10-37zm12 143zm7 71zm1 27zm0 9zm-7 10zm-1 127zm1 38zm3 46zm12-219zm-4-5zm10-59zm-10-31zm0-26zm1-24zm1-23zm20-49zm-7 10zm6 10zm-3 0zm3 15zm-3 19zm-7 38zm3 132zm-2 379zm17-245zm3-53zm-4-138zm-1-183zm9 47zm8 17zm-2 112zm-2 167zm11 255zm1-56zm0-293zm-5-200zm1-35zm-1-5zm2-58zm-1 0zm14 166zm0 70zm-1 276zm6 29zm-8 1zm3 120zm9 44zm1-533zm0-61zm4-16zm9 26zm8 205zm1 72zm-3 63zm0 191zm-8 17zm16-7zm1-132zm2-232zm4-63zm-2-29zm1-116zm2-25zm9 36zm-8 15zm10 293zm-2 161zm-8 36zm9 42zm11 74zm-3-131zm-4-146zm9-144zm-7-5zm4-44zm3-16zm-6-110zm1-74zm13 21zm-3 10zm7 43zm-5 16zm-4 103zm3 38zm-1 34zm0 101zm4 78zm-6 79zm-1 12zm4 95zm13-416zm-5-124zm14-53zm3 70zm-1 55zm-4 91zm3 18zm0 73zm-4 241zm21-4zm-1-5zm-6-49zm7-68zm-2-182zm-2-149zm4-89zm6-13zm-1 4zm3 23zm-3 20zm2 56zm1 76zm-4 21zm6 9zm8 195zm-2-7zm7-59zm3-104zm-6-167zm4-45zm7 87zm-3 66zm0 296zm22-87zm-3-37zm-8-108zm0-153zm4-4zm4-3zm13-88zm14 448zm-8-111zm7-11zm0-99zm0-19zm-8-185zm12 37zm7 59zm-4 376zm10-169zm12-37zm17-436zm8 78zm-2 413zm6 60zm14-330zm-2-234zm15-36zm-6 93zm3 71zm17 170zm12-61zm7-7zm3-330zm11-20zm-5 207zm18 86zm4 9zm3 106zm20-366zm29-37zm19 57zm5 225zm13-142zm168 636zm-3-236zm65-157zm11 111zm45-17zm113 99zm-4 126zm29-304zm15 151zm5 32z"/>
<path stroke="#1fa287" d="M177 1841zm-6 168zm11-4zm14-161zm-3 33zm10 13zm0 44zm-9 52zm2 100zm11-2zm4-13zm15-246zm-4 48zm-3 0zm4 45zm-7 30zm14 34zm7-33zm14-147zm-7 37zm5 77zm-4 15zm-4 24zm10 167zm33-21zm-7-261zm0-28zm8-36zm9 195zm-1 37zm2 60zm-1 146zm2 62zm6-135zm7-1zm1-44zm-5-95zm-5-168zm3-6zm8-11zm9-11zm1 103zm0 23zm-9 198zm3 14zm17 116zm0-100zm1-175zm-5-122zm3-85zm6-3zm5 90zm-2 8zm-2 57zm-2 58zm2 30zm-2 258zm16 98zm6-72zm-6-36zm-1-52zm8-181zm-9-54zm17 111zm8 72zm8-5zm-10-232zm13-7zm6 68zm2 72zm9 176zm0-27zm10-430zm4 16zm-8 192zm1 275zm-1 7zm3 65zm-2 93zm20-50zm-9-67zm4-28zm4-46zm-1-67zm2-385zm11 139zm-2 6zm-4 36zm2 157zm0 14zm-4 1zm7 187zm-5 32zm16-190zm-4-7zm4-17zm-4-1zm7-2zm-7-141zm1-148zm-2-34zm17 129zm-7 308zm12 68zm7-103zm-7-44zm1-75zm10-75zm1-236zm11 28zm-1 172zm-1 192zm-5 99zm3 69zm-2 16zm8 64zm7-111zm-3-26zm0-23zm0-65zm-5-59zm7-244zm-3-37zm11 12zm-2 295zm6 55zm-2 125zm5 95zm7-109zm4-529zm6 113zm7 5zm-7 265zm0 106zm6 123zm4-8zm4-231zm4-3zm-6-102zm5-53zm4-213zm7 205zm1 292zm6 131zm6-14zm-3-83zm3-11zm-1-2zm5-481zm1 144zm5 170zm-5 171zm4 11zm15-29zm10-399zm-2 344zm7 34zm-6 20zm-3 75zm8 42zm13-77zm-9-48zm0-7zm2-13zm2-36zm3-73zm-1-6zm-8-73zm5-18zm-3-12zm9-82zm12 179zm-5 2zm-5 135zm15 75zm0-35zm-1-32zm1-4zm6-14zm-9-81zm17-165zm5 17zm-2 26zm-7 33zm5 165zm6 53zm9-136zm1-19zm-7-48zm1-203zm13 60zm-1 102zm2 177zm11 31zm4-24zm-4-49zm-6-176zm16-96zm2 18zm5 65zm5 125zm-1-50zm6-104zm7-82zm13 140zm-2-372zm11-29zm10 490zm3-457zm-2-10zm77 206zm-1-343zm10 121zm16 212zm10-299zm42 711zm0-735zm112 776zm6-43zm3-55zm19 96zm-1-342zm22 345zm-1-78zm-1-144zm20-117zm-10 141zm5 89zm7-58zm8-47zm8-197zm-2 41zm-2 20zm3 68zm7 27zm-7 132zm-3 101zm7 4zm3 45zm6-1zm7-324zm-8-121zm8-5zm8 141zm3 188zm-9 41zm5 22zm8-232zm5-14zm4-88zm-7-20zm1-35zm7 108zm5 81zm6 49zm-6 119zm-3 11zm11-14zm10-77zm-5-37zm0-54zm-6-92zm5-69zm9 39zm2 24zm-4 76zm8 168zm-4 81zm14-126zm14-278zm2 94zm-5 8zm-2 171zm0 60zm8 24zm-1 34zm8-270zm17-115zm-8 163zm-2 210zm22-11zm-9-55zm6-4zm0-13zm-1-36zm0-42zm-5-72zm-2-33zm7-59zm7 1zm3 16zm-5 30zm5 58zm-4 11zm2 52zm-2 43zm21 106zm-6-48zm1-82zm2-202zm11 97zm3 2zm-9 102zm0 29zm2 67zm14-200zm-4-13zm17-50zm3 31zm2 196zm7 51zm8-305zm4 1zm4 18zm2 23zm-7 73zm2 49zm-1 67zm-2 11zm-1 15zm10-56zm9-7zm-1-42zm1-18zm-7-39zm-2-21zm1-40zm22-16zm-8 54zm0 12zm16 137zm-7-147zm22-88zm-8 10zm3 4zm-3 53zm-2 30zm6 70z"/>
<path stroke="#481c6e" d="M194 2000zm37-52zm20-101zm-3 18zm1 212zm-6 117zm17 47zm-8-124zm33 54zm2-148zm4 35zm19 69zm-5-2zm1-28zm14 204zm5-396zm17-21zm10 387zm8-168zm8 149zm15 68zm-2-332zm-1-56zm13-34zm5 368zm-2-111zm3-254zm32-52zm-3-37zm12 292zm4 316zm3-436zm17-41zm-5 82zm2 9zm8-71zm2-57zm24 478zm1-408zm13-144zm1 220zm-4 120zm1 102zm2 16zm17-211zm11 194zm8-254zm-1-83zm27 156zm-1-146zm9 81zm13 30zm12-234zm-4 256zm10 141zm11-151zm8-78zm76 108zm45-412zm9 167z"/>
<path stroke="#1f968b" d="M179 1857zm-6 51zm2 4zm-6 5zm11-41zm7-38zm0-37zm36 216zm12-171zm17 164zm16-222zm4 50zm-2 71zm-6 33zm10 123zm-10 11zm4 46zm11 163zm5-163zm13-300zm-4 25zm2 2zm-6 206zm9 31zm10-249zm10-53zm0 32zm0 42zm4 27zm-4 342zm17-312zm6-114zm0 313zm3 1zm-2 98zm0 9zm5 31zm-2 91zm12-109zm2-384zm9-29zm2 414zm-7 62zm-2 67zm9 29zm7-12zm-4-329zm2-162zm2-54zm6-22zm1-36zm7 149zm-6 427zm9 52zm7-196zm5-111zm-9-24zm9-262zm7 48zm-1 96zm-1 49zm4 303zm-5 1zm8 87zm13-22zm-3-24zm-7-118zm0-35zm4-76zm-4-72zm8-68zm-6-174zm15 170zm0 184zm5 74zm-4 27zm4 11zm-7 173zm12-21zm-4-32zm9-56zm2-7zm-6-41zm-2-68zm5-55zm3-67zm-10-98zm7-164zm2-70zm6 184zm1 36zm5 92zm-9 103zm-1 207zm9 10zm9-11zm4-30zm-5-165zm-3-38zm4-119zm1-79zm0-16zm7-88zm-1 105zm1 147zm7 8zm1 90zm1 24zm-3 25zm-8 137zm7 64zm8-18zm0-113zm5-225zm3-77zm-9-86zm4-168zm15 66zm-4 65zm4 13zm-2 9zm0 214zm2 60zm-2 23zm1 148zm11 37zm2-283zm0-130zm-6-60zm7-15zm-8-39zm9-53zm2-57zm-1 86zm4 35zm-2 281zm-1 57zm0 61zm1 131zm-2 74zm12-102zm9-76zm-6-9zm0-418zm17 75zm3 30zm-11 4zm11 127zm-11 61zm5 53zm-2 189zm16-3zm-5-79zm4-25zm-1-5zm-3-101zm1-8zm5-6zm3-28zm-8-47zm4-218zm-2-27zm-3-21zm5-49zm7 70zm5 38zm-3 41zm0 15zm5 63zm-4 46zm0 4zm-5 11zm4 31zm4 16zm0 230zm8-23zm-1-24zm0-82zm-3-260zm3-50zm8-89zm11-10zm-9 61zm3 130zm4 4zm-5 267zm5 10zm12-78zm-6-217zm6-5zm6-144zm9 12zm0 148zm-8 21zm1 39zm-4 30zm0 8zm8 19zm-4 122zm-2 22zm1 42zm10-228zm-1-178zm1-2zm0-38zm0-57zm12 61zm10 265zm-7 21zm-1 18zm5 94zm2 78zm3-62zm0-41zm6-10zm0-175zm3-10zm-10-11zm1-6zm9-115zm-7-28zm9 126zm15 300zm-3-113zm0-221zm7-141zm11-216zm-2 143zm-3 196zm4 51zm5 27zm-10 17zm6 15zm-2 40zm6 26zm3 109zm7-113zm7-52zm23-378zm3 139zm20-123zm22 112zm7 76zm22-147zm27-167zm24 176zm89 527zm21-20zm-4-37zm63 47zm27-322zm8 308zm-5-30zm-1-84zm7-58zm8-150zm4 27zm-5 117zm0 32zm-3 206zm17-54zm1-137zm27 182zm2-335zm0-27zm12 72zm-9 18zm7 15zm-7 188zm19-196zm-1-104zm1-48zm8 134zm0 56zm-1 92zm18-61zm-3-88zm6-67zm-1 39zm21 307zm-7-157zm3-59zm10 61zm1 60zm-4 94zm21-129zm-7-118zm14-40zm-4 191zm14-35zm-1-116zm9-33zm10 225zm-4 40zm10-328zm21 6zm-7 76zm7 9zm5 224zm-2-89zm8-62zm-3-65zm6-47zm1 189zm17 8zm4-30zm0-117zm-10-104zm3-15zm15 114zm7-90zm23 233zm5-118zm-5-96zm16-24zm-4 187z"/>
<path stroke="#3e4a89" d="M157 1909zm18-50zm12 13zm-1-10zm17-7zm-5 0zm7 230zm1-227zm-1-26zm21 38zm-2 112zm-6 11zm3 114zm9 3zm8-85zm2-108zm10 269zm13 54zm-10-438zm20 22zm-6 117zm10 50zm21-39zm12 279zm-8-167zm-2-310zm21 60zm-8 238zm20-55zm2-12zm-9-178zm10-21zm11 18zm-11 224zm22-16zm0-214zm10 104zm0 171zm7 47zm8-29zm-1-94zm-8-213zm6-10zm15 91zm-7 115zm-2 156zm11-174zm23 439zm5-190zm18-330zm-7 97zm18 457zm-2-55zm-5-60zm0-22zm-1-285zm12-25zm0 391zm13-370zm-1-12zm12-77zm6 540zm31-430zm-3-124zm13 319zm12-410zm33-4zm2 18zm10 113zm-3 226zm4 64zm-1 19zm7 137zm2-357zm15-101zm10 451zm2-53zm0-36zm-5-432zm11 393zm-1 32zm9 31zm3-37zm14 37zm12-351zm15 140zm6 133zm19-358zm-6 250zm-2 139zm23-632zm33 34zm-8 149zm36-201zm11 184zm9 2zm37-173zm2-43zm5 79zm42 125zm252 425z"/>
<path stroke="#6ccd5a" d="M184 1995zm0-117zm5-29zm0-10zm-5-20zm15 93zm4 120zm5-41zm15-112zm1 46zm2 34zm-4 38zm9 51zm2-1zm-5-12zm8-25zm-5-39zm-1-29zm-1-36zm-1-88zm22-21zm-4 53zm5 36zm-2 142zm-3 96zm-1 9zm9 68zm3-108zm-1-14zm9-280zm3 137zm1 21zm-5 69zm6 94zm2 61zm11-117zm-4-2zm6-61zm-2-19zm-5-73zm16-24zm-2 345zm2 18zm8-20zm7-275zm2-1zm-10-51zm9-99zm3 15zm4 54zm2 98zm-6 234zm15 46zm5-36zm-7-157zm2-109zm5-106zm-2-67zm14 90zm-8 55zm7 118zm13 30zm-8-7zm8-81zm-3-81zm14-95zm-1 4zm-2 258zm-2 34zm-1 201zm12 61zm0-102zm-1-134zm8-136zm-8-35zm0-88zm22-41zm-3 144zm1 344zm10-4zm-7-209zm9-98zm2-96zm8-85zm-1 113zm3 225zm-8 145zm3 77zm10-340zm9-109zm-10-12zm10-18zm3-113zm0 53zm4 95zm2 202zm1 279zm9-308zm-3-33zm-3-225zm22 34zm-6 59zm-3 144zm7 73zm1 45zm7 58zm1-165zm5-190zm1-84zm6 109zm-2 46zm-1 80zm8 10zm-10 17zm1 321zm2 6zm13-55zm7-35zm-3-40zm-1-105zm2-104zm-4-107zm7-160zm3 15zm7 39zm-10 17zm4 152zm5 77zm2 145zm6 193zm6-78zm0-35zm-6-20zm-2-19zm7-214zm-10-16zm0-284zm19 169zm-4 102zm8 5zm-7 257zm-4 104zm6 3zm1 38zm10-10zm4-133zm-2-292zm-5-50zm14-33zm0 69zm5 63zm-8 129zm2 3zm-2 84zm4 170zm18-31zm-10-40zm4-71zm-5-105zm4-31zm3-40zm1-21zm2-162zm0-107zm12 14zm0 413zm1 11zm-1 33zm4-24zm0-211zm8-61zm-7-21zm15 63zm0 133zm-6 130zm2 83zm21-60zm0-280zm-10-141zm-1-42zm23-31zm-4 240zm-7 245zm21-75zm2-38zm-8-130zm1-106zm4-162zm-6-12zm18-33zm-6 76zm7 75zm-1 136zm-2 88zm1 44zm-5 95zm19 38zm0-28zm-1-238zm0-99zm11-348zm-4 59zm6 335zm-3 112zm4 36zm-9 39zm16 82zm-3-194zm-1-35zm6-79zm-4-220zm6-56zm5-24zm-2 459zm3 45zm11-87zm2-260zm4-88zm2-94zm7-43zm1 11zm5 121zm-10 292zm6 10zm4 177zm7-297zm5-89zm0-10zm-3-59zm-7-38zm8-80zm-9-13zm21-51zm-2 17zm-6 81zm4 100zm3 1zm-6 43zm8 8zm-5 15zm13-19zm-1-27zm0-54zm2-29zm3-11zm-6-50zm9-85zm1 7zm4 129zm-5 143zm8 35zm4-60zm7-137zm-5-93zm20 39zm-5 47zm0 134zm6-157zm0-31zm12-61zm2 43zm17 162zm-4-71zm2-200zm13 287zm14-41zm0-32zm9 145zm-4 19zm17 25zm-6-346zm18 22zm3 13zm6 30zm111 633zm35 44zm0-46zm17-79zm-1 0zm-1 40zm-8 76zm21 7zm1-229zm8-82zm2 78zm-6 64zm4 169zm-6 1zm22-138zm-7-4zm1-60zm-3-126zm11 71zm9 50zm-4 17zm6 73zm-11 2zm0 35zm2 130zm15-228zm5-131zm3 14zm5 9zm4 56zm-9 24zm18 212zm1-4zm-3-52zm-2-30zm3-35zm-2-106zm5-155zm14 166zm-6 30zm-3 27zm16 196zm-1-16zm1-68zm-6-28zm6-78zm3-84zm-9-32zm17 81zm1 34zm1 53zm-1 38zm-5 51zm14-149zm0-199zm10-20zm2 37zm4 211zm-5 79zm3 5zm7 65zm3-48zm-3-208zm11-50zm-7-25zm7-61zm9 6zm-2 84zm4 14zm-7 36zm15 225zm-1-267zm9-73zm6 145zm-3 111zm12-1zm-4-2zm-1-139zm2-31zm7-32zm2-20zm5 258zm4 34zm9 8zm-3-62zm3-82zm3-82zm-4-34zm-3-52zm22 70zm-7 101zm9-46zm10-61zm-5-33zm7-31zm3 64zm-1 18zm6 24zm5 103zm5-160zm4-27zm-9-47zm21 83zm-1 167zm17-184z"/>
<path stroke="#443b84" d="M137 1829zm53 89zm2-97zm4 86zm13 140zm18-64zm11 118zm-10-97zm13-165zm-1 133zm2 108zm21-198zm2-47zm5 65zm8 15zm5-61zm22 282zm24-336zm14 102zm-6 364zm6 85zm11-563zm12 456zm17 162zm0-240zm-6-266zm5-60zm4-52zm0 25zm8 43zm-2 436zm27-466zm-3 511zm9-4zm15-159zm-3 206zm16-564zm3 49zm9 311zm6 285zm7-21zm3-303zm12 315zm0-183zm1-110zm8-53zm13-106zm-2 317zm2 82zm-7 60zm5 13zm9-124zm17-273zm-1 47zm-4 244zm28-332zm-3 103zm-7 11zm10 81zm-9 115zm20-41zm6-339zm-1 475zm12-184zm8-111zm-1-81zm-6-2zm11-27zm7 167zm0 26zm-2 67zm-3 96zm8-255zm11-81zm-7-191zm10 83zm7 16zm10-103zm6 129zm32 172zm3-73zm15-218zm-1 37zm12 276zm5-16zm-1-253zm14 305zm31-426zm10 33zm7 51zm12-269zm4 317z"/>
<path stroke="#238a8d" d="M155 1877zm12 60zm12-95zm-8 113zm19-50zm-2-50zm6-24zm-2 31zm33 179zm3 93zm11-346zm11 180zm2 238zm10-41zm-3-86zm2-13zm-4-11zm-4-266zm12-5zm1 32zm6 59zm-4 42zm-3 82zm10 38zm-3 90zm8-24zm-4-104zm6-71zm5-11zm8-146zm-7 119zm1 385zm12-24zm10-6zm0-5zm-2-120zm0-292zm11 33zm-4 411zm9 9zm-1-55zm1-37zm5-7zm-4-11zm5-3zm-3-20zm-1-39zm7-58zm-4-40zm13-229zm-7 207zm4 100zm7 51zm-9 71zm4 20zm-3 36zm14 111zm0-62zm6-209zm-10-3zm0-140zm21-187zm-1 106zm-4 69zm2 20zm-6 34zm2 69zm7 27zm-5 236zm15 42zm-6-172zm7-124zm-8-98zm8-128zm11 4zm-1 39zm4 119zm-11 150zm2 23zm8 5zm-4 8zm1 89zm13-47zm0-16zm0-38zm-5-38zm8-52zm-4-34zm-4-2zm2-23zm6-20zm-6-45zm5-65zm-2-14zm0-8zm-5-11zm16-56zm-6 28zm6 94zm0 7zm-3 139zm6 111zm0 107zm-6 3zm-2 102zm10-103zm6-14zm0-292zm2-190zm-3-22zm18 144zm-11 30zm5 33zm3 16zm2 54zm-7 45zm6 58zm0 0zm0 38zm2 41zm-4 43zm3 7zm-2 4zm1 38zm14 1zm-9-231zm9-31zm3-237zm-1 187zm-1 283zm9 22zm-9 66zm5 24zm18-56zm-1-39zm-1-261zm-5-273zm18 153zm-4 201zm7 288zm10-76zm-2-56zm-9-144zm6-15zm-5-131zm1-178zm12-19zm8 203zm1 18zm-2 147zm2 147zm6 63zm6-43zm-4-94zm3-17zm-4-58zm-2-354zm15-59zm4 37zm-6 136zm2 12zm-3 9zm-1 207zm17 144zm-8-135zm10-70zm-2-195zm11 52zm-5 212zm2 17zm11 180zm1-234zm0-33zm9-250zm4 5zm2 233zm0 39zm-1 93zm4 21zm6 175zm2-133zm-3-221zm-1-7zm2-186zm1-43zm9 95zm0 296zm5 75zm-4 14zm-2 112zm21-190zm1-324zm-6-32zm-3-10zm0-69zm11 0zm-1 30zm11 232zm-9 288zm10-137zm2-108zm2-126zm0-11zm4-7zm-6-68zm14 19zm2 1zm-2 9zm4 62zm0 133zm9 178zm-4-128zm7-44zm-1-88zm3-40zm-2-22zm7-23zm8 27zm0 57zm-7 55zm-2 227zm14-59zm-2-83zm0-17zm3-8zm-4-53zm-1-49zm6-117zm13 314zm12 7zm-1-106zm-6-16zm6-186zm2-227zm19 242zm16-13zm32-262zm39-1zm0 49zm6 36zm6-267zm24 282zm5-239zm1 80zm7 240zm6-313zm52 302zm114 126zm19 71zm7-103zm31 120zm3-51zm-1-2zm3 300zm49-310zm7 123zm-6 71zm13-62zm14-67zm35 19zm18 35zm8 90zm-6-185zm18-51zm0 308zm33-242zm13 222zm8-311zm11 3zm12 158zm11-21zm-4-83zm29-58zm4 122zm15-14z"/>
<path stroke="#38598c" d="M154 1870zm0 21zm19-13zm-2 121zm29-201zm-1 28zm1 63zm-3 52zm4 82zm10-55zm12-77zm-6 17zm9 113zm9 7zm1-175zm13-52zm-8 49zm-1 41zm20 251zm3-256zm-1-47zm6 287zm8 0zm3-224zm6-6zm1-43zm0-13zm4-82zm4 34zm4 19zm-10 203zm17 120zm-2-121zm4-129zm14 15zm14 268zm-10-168zm2-124zm20 62zm-10 76zm6 14zm-7 18zm1 45zm17-310zm7 284zm4 42zm-3 54zm8 70zm-8 88zm21-64zm-6-226zm0-46zm1-60zm-5-148zm21 16zm-4 271zm7 27zm6-234zm-5-103zm19 233zm2 98zm4 336zm5-328zm-5-200zm14-28zm-3 427zm18-144zm2-59zm-8-88zm0-218zm17 128zm1 286zm-8 19zm31-265zm-3 9zm13 519zm0-522zm5-71zm-4-21zm4-20zm-9-2zm3-45zm24 464zm3-440zm10-46zm-2 74zm8 195zm8 250zm3-437zm-4-15zm9-45zm3 103zm14 524zm12-598zm-8 225zm9 68zm2 119zm-2 34zm2 111zm1-451zm8-8zm0-42zm1-62zm5 387zm6 182zm9-112zm2-269zm-1-27zm-5-6zm9-3zm7-94zm2 96zm-6 355zm6 44zm6-272zm4-106zm14-158zm0 86zm-7 79zm13 214zm37-96zm5 72zm-7 46zm30-396zm28-230zm8 56zm20 126zm20 72zm6-29zm27 114zm29-302zm30-119zm-6 24zm224 593zm188 34zm64-82z"/>
<path stroke="#2c728e" d="M187 2000zm-5-207zm13 127zm0 73zm15-19zm-2-143zm2-47zm6 326zm17-197zm1-39zm1-7zm15-27zm1 101zm2 216zm8-35zm-5-23zm-2-22zm0-23zm1-175zm4-36zm4-46zm2 24zm2 86zm20 273zm-3-95zm1-37zm-5-125zm5-118zm10 36zm-3 52zm2 1zm-6 43zm9 206zm1 119zm8-61zm-5-221zm2-164zm20-16zm-1 51zm-3 192zm0 117zm10-25zm-3-81zm-1-28zm2-173zm14-62zm6 214zm-4 7zm-6 3zm0 131zm8 70zm-2 20zm16-134zm-3-7zm-1-32zm1-171zm0-24zm-7-85zm-1-1zm20 28zm-1 288zm14 176zm-8-25zm6-287zm-7-88zm4-5zm-2-21zm0-36zm6-55zm11 26zm-7 119zm8 90zm-4 102zm1 61zm4 6zm4 139zm6-10zm-5-109zm9-20zm-8-43zm-2-29zm8-39zm-3-65zm-4-26zm8-82zm-7-22zm19 40zm-10 234zm7 34zm-6 6zm3 16zm30-344zm-5 300zm13-222zm-5-12zm5-25zm-2-21zm0-74zm11 16zm7 45zm-4 424zm8-282zm2-7zm4-203zm-2-17zm16 113zm-7 93zm3 29zm-5 394zm1 65zm14-404zm-2-95zm0-53zm5-37zm26 474zm-5-281zm1-64zm6-3zm1-140zm5 12zm-4 81zm0 357zm6 38zm16-5zm-8-8zm-2-18zm5-136zm-1-225zm10 54zm-1 35zm11 288zm5-184zm-6-317zm22 32zm-1 92zm0 41zm2 55zm-7 250zm7 57zm-7 7zm15-124zm-3-88zm-3-185zm6-89zm10 102zm-2 117zm-3 23zm8 208zm0 79zm8-37zm4-80zm-7-254zm1-161zm10 18zm3 15zm-2 242zm10 10zm-10 19zm3 33zm-2 173zm20-140zm1-99zm10 16zm-2 133zm5-80zm4-3zm7-265zm9 158zm3 112zm10-115zm8-125zm0 59zm6 91zm-10 41zm20-413zm-4-54zm56 78zm8 156zm11 25zm-5-119zm20-205zm20 234zm24-289zm57-10zm118 468zm52 197zm187-110zm14 5zm35-173z"/>
<path stroke="#472d7b" d="M226 1860zm36 136zm-3-225zm13 102zm21-74zm4 379zm-2 46zm21-409zm6 391zm14-2zm2 69zm9 26zm-5 22zm52-302zm-6 275zm18-85zm0-10zm-3 0zm-5-435zm30 512zm-2-154zm4-230zm4 93zm1 178zm7 161zm22-198zm12 209zm-1-48zm3-72zm-7-57zm4-233zm19 436zm30-140zm-4-76zm1-142zm19 253zm10-288zm22 90zm14-81zm-9 156zm13-195zm20-11zm-6 150zm16 193zm-4-380zm10 125zm1 25zm-3 122zm18 12zm-6-107zm22-144zm-10 47zm8 117zm37-66zm11-286zm-7 436zm44-218zm-4-254z"/>
<path stroke="#460a5d" d="M153 1857zm8 31zm30-46zm-6-41zm12 71zm3 76zm-8 1zm4 2zm16-20zm4-33zm9 8zm-8 32zm22-154zm10 84zm1 63zm-9 40zm7 8zm2 163zm12-169zm-4-136zm-6-71zm16 42zm7 0zm-4 25zm4 89zm-4 28zm4 188zm7-164zm15-119zm-7 35zm12-52zm1-8zm-3-68zm18 274zm8 62zm7-170zm-5-92zm-2-3zm10 253zm5 123zm17-125zm-7-226zm-3-43zm3-22zm5-9zm15 70zm-8 118zm8 26zm3 144zm12-229zm3 75zm2 118zm2 6zm4 147zm1-86zm1-409zm15 84zm-4 46zm12 136zm5-170zm-1-65zm2-31zm11 41zm1 103zm-1 90zm18-186zm10 59zm4 102zm14-191zm18 68zm8-16zm-7 266zm19 80zm-5-289zm-2-79zm12 32zm12 85zm28 8zm2-132zm31 135zm3 27zm27-120zm48-193z"/>
<path stroke="#addc30" d="M206 1890zm10 31zm1 28zm12 113zm5-268zm8 340zm37 111zm7-334zm12-90zm-3 40zm3 78zm-1 322zm4-130zm10-16zm1-63zm4 1zm4 92zm10-305zm6 167zm1 23zm2 202zm7 1zm7 86zm5-12zm-4-203zm5-166zm2-162zm9 399zm0 15zm12 199zm-7-21zm1-105zm3-307zm9 189zm16-42zm2-8zm-8-14zm20-273zm-8 308zm7 56zm-9 49zm2 49zm1 29zm5 54zm9-81zm6-45zm-11-7zm7-39zm9-411zm-4 129zm8 282zm3 13zm-10 153zm19-241zm-1-11zm-1-80zm1-33zm-2-25zm1 0zm2-153zm-7-28zm17 15zm-3 295zm1 6zm4 61zm1 134zm-5 17zm-3 61zm-1 21zm18 17zm4-144zm-3-80zm-6-230zm2-169zm12 337zm-3 58zm7 10zm-4 17zm0 66zm2 116zm13 56zm-6-122zm11-33zm-10-104zm7-64zm6-223zm5 41zm-4 318zm3 160zm14 41zm0-25zm-3-118zm-1-382zm-4-126zm12 70zm9 113zm-8 151zm3 219zm1 3zm0 18zm17 9zm-1-116zm-4-228zm1-180zm17-71zm-5 221zm-1 45zm0 25zm-5 6zm17 181zm6-13zm-6-95zm3-4zm3-46zm11 98zm-6 237zm16-173zm1-30zm-3-256zm0-3zm2-115zm13 103zm-6 213zm11 88zm1-343zm8-21zm6 0zm4 12zm0 109zm-1 103zm-7 178zm21-124zm-1-137zm-9-36zm15-144zm-1 2zm4 33zm3 52zm-9 261zm9 1zm-4 141zm17-99zm-4-23zm4-243zm-1-18zm2-5zm-5-40zm-3-78zm19 215zm-4 41zm14 81zm-3-78zm-5-242zm12 77zm3 218zm9 120zm1-190zm6-7zm-2-8zm-3-117zm3-350zm18 20zm-11 11zm7 205zm3 215zm8 144zm3-449zm2-63zm-9-64zm9-17zm-1-3zm3-9zm4 137zm6 159zm5 56zm3-136zm2-15zm-6-23zm2-45zm-2-40zm1-143zm17 4zm0 61zm2 22zm-7 47zm-3 19zm3 83zm3 149zm7 25zm7-43zm1-82zm-3-25zm-5-12zm-2-26zm6-82zm-3-78zm-3-34zm19-11zm4 133zm-11 185zm6 75zm8-9zm1-141zm7-164zm-4-3zm-2-35zm-1-1zm3-57zm0-28zm7 87zm3 47zm5 15zm-8 15zm7 136zm-2 13zm-5 13zm2 15zm8 10zm9 67zm-1-98zm1-27zm-4-87zm2-15zm3-21zm-5-28zm2-132zm11 208zm-1 77zm8-114zm1-134zm14-33zm2 158zm0 212zm7-333zm17-3zm-1 222zm167 532zm21-145zm7 18zm7 121zm6-203zm2-95zm6-104zm6 197zm12-27zm11-165zm-3 7zm16 358zm29-220zm1 263zm11-201zm5-63zm5-110zm5 253zm16 21zm11-212zm-7 114zm18 111zm-4-51zm-1-25zm7-179zm-1-59zm9 306zm5 61zm4-127zm34-103zm22 87zm-9 0zm21-201zm-4 30zm-5 237zm16-64zm-2-91z"/>
<path stroke="#8bd646" d="M175 1823zm6 11zm28 284zm1-14zm1-14zm-5-44zm0-97zm4-131zm10 178zm-1 87zm20 38zm-5-22zm-2-88zm-3-34zm19-158zm-5 183zm-1 57zm9 30zm-9 19zm5 37zm12-96zm-7-152zm14-104zm7 386zm14-73zm-7-44zm-1-89zm14-202zm1 93zm-6 2zm11 18zm0 168zm-1 189zm6 1zm2-98zm-5-16zm2-218zm4-40zm16 10zm-9 34zm6 149zm-4 18zm7 152zm3 80zm9-495zm6-31zm6 91zm-3 270zm3 171zm2 9zm2-14zm2-15zm-5 0zm2-104zm9-7zm-5-54zm-6-84zm20-293zm-8 238zm5 130zm-1 32zm11 60zm6-82zm-9-126zm2-84zm6-76zm1-21zm13 285zm13 136zm-5-26zm-5-6zm2-61zm1-3zm-3-68zm1-16zm-1-152zm5-93zm13 202zm-2 48zm2 34zm1 65zm-3 188zm16 70zm0-125zm-8-154zm6-205zm1-3zm0-114zm11 213zm-7 14zm1 17zm4 267zm13-320zm-3-98zm4-71zm2-73zm10 56zm2 56zm-4 123zm-3 153zm1 28zm4 80zm-1 36zm14 55zm1-33zm-8-121zm1-167zm-2-86zm4-45zm3-34zm2-19zm-9-74zm23 59zm-4 80zm-2 118zm-5 38zm10 190zm-6 21zm16 190zm-4-22zm-1-51zm4-326zm0-83zm-4-123zm19-84zm-2 172zm-5 93zm0 177zm8 109zm12-27zm-9-95zm6-134zm2-59zm-8-33zm5-139zm11 135zm5 30zm-5 146zm-6 108zm0 11zm2 148zm0 23zm10-128zm8-44zm-2-126zm-4-382zm18 237zm-2 116zm1 14zm-4 241zm13-56zm7-63zm-9-84zm6-37zm-6-41zm0-110zm8-112zm9-78zm1 30zm-3 75zm-3 177zm-1 142zm6 181zm-1 32zm-5 4zm22-119zm-3-87zm-1-19zm4-66zm-7-29zm2-242zm-4-54zm10 32zm9 15zm-7 43zm9 29zm-10 69zm8 351zm9-136zm2 0zm-5-16zm-2-273zm-1-52zm10-85zm10 298zm8-20zm-2-61zm-1-12zm8-1zm-3-93zm7-36zm6 56zm0 309zm-1 12zm15-100zm-9-150zm0-13zm9-93zm8 108zm0 155zm2 145zm5-125zm2-130zm2-344zm1-2zm5-12zm5-61zm-2 34zm1 483zm3 84zm7-155zm1-208zm10-74zm-1-55zm0-44zm3 54zm18 444zm4-353zm12-155zm-1 9zm-8 19zm2 1zm4 78zm-8 140zm13 12zm0-20zm3-48zm3-5zm-7-15zm9-42zm-7-30zm3-9zm-3-30zm9-128zm-3-59zm13 11zm-3 78zm-5 1zm7 188zm2 19zm-2 4zm2 117zm4-48zm4-2zm4-225zm-1-20zm-3-38zm0-132zm13 60zm1 192zm3 80zm-3 93zm-2 3zm2 5zm-7 2zm13-224zm9-33zm-9-76zm0-22zm21-82zm-6 159zm4 52zm-5 81zm9-51zm9-203zm3 78zm4 265zm13 12zm-3-45zm0-1zm-1-146zm5-56zm11-16zm3 26zm-8 43zm0 64zm17 2zm-2-30zm5-67zm13-151zm0 38zm-6 81zm-3 58zm9 65zm7-89zm54 603zm26-64zm38 96zm20 15zm6-35zm10 22zm18-349zm12 36zm-9 136zm9 34zm-1 16zm-8 17zm14 101zm5-103zm-5-132zm6-13zm3-23zm10 188zm10 18zm3-39zm0-139zm-8-7zm8-69zm13 10zm6 124zm-2-30zm18-147zm-3 142zm-6 38zm15 85zm16-242zm-2 21zm5 243zm5-258zm-1-71zm15 142zm4 6zm6 154zm-3-211zm7-8zm14 133zm-8 18zm3 81zm-4 33zm12 57zm8-251zm9-26zm3 218zm5 36zm2-129zm8-205zm7 57zm-3 26zm2 55zm-5 69zm12 130zm2-27zm-1-7zm0-105zm3-50zm2-133zm18 157zm8-159zm14 51zm-1 210zm6-101zm42-18zm13-57z"/>
<path stroke="#50c46a" d="M145 1842zm1 18zm7 3zm7 106zm18-115zm12 59zm2-104zm0 70zm2 66zm5 96zm6-105zm8-82zm3-71zm9 141zm-2 148zm7-195zm19-56zm-7 125zm-2 57zm19-45zm6-69zm10 140zm-11 20zm5 129zm18-46zm-3-171zm-5-34zm20-73zm-4 106zm2 184zm-6 140zm10-21zm9-237zm-3-39zm4-101zm-2-82zm14-27zm-4 46zm0 111zm4 169zm-11 5zm11 4zm2 90zm9-158zm-4-232zm12 20zm2 283zm1 119zm-3 24zm0 2zm15 57zm-8-89zm0-83zm3-56zm-3-174zm1-54zm16 29zm5 163zm-2 173zm1 80zm-1 11zm10-65zm-7-159zm7-35zm3-275zm10-11zm-8 110zm7 145zm2 280zm12 83zm-9-54zm0-160zm3-45zm5-59zm2-192zm-8-93zm12 55zm2 127zm3 3zm0 26zm-1 24zm3 28zm-3 74zm3 70zm11 208zm-3-188zm0-4zm3-203zm-1-41zm8-185zm1 518zm5 27zm2 10zm-5 42zm17-96zm-2-117zm-4-22zm-2-38zm6-33zm1-7zm-2-79zm1-23zm-5-196zm11 320zm-3 22zm9 83zm-3 59zm0 72zm1 78zm14 20zm-1-51zm-7-88zm2-130zm4-6zm-7-47zm1-3zm10-60zm-5-172zm15 211zm-7 5zm7 26zm2 101zm-10 12zm0 82zm9 7zm-1 49zm11 50zm-4-469zm7-143zm7 139zm-4 164zm-1 280zm5 44zm-2 47zm13-22zm4-6zm-7-82zm0-102zm-1-167zm7-36zm-8-184zm19 192zm4 20zm-7 10zm1 132zm0 42zm4 205zm-1 22zm9-343zm3-17zm-7-41zm4-115zm10-63zm0 91zm7 171zm8-136zm-6-24zm10-45zm-10-48zm14 196zm6 59zm-3 23zm5 103zm-2 0zm2 91zm-10 4zm7 10zm-7 41zm15-35zm4-141zm2-7zm1-237zm-7-152zm18 78zm-3 146zm4 56zm-1 79zm-8 156zm20-107zm1-147zm-4-238zm15-72zm-6 172zm4 6zm-7 16zm10 19zm0 179zm-10 141zm9 18zm7-159zm7-145zm0-24zm-7-6zm3-184zm5 24zm4 113zm1 78zm-1 77zm4 36zm12 166zm-7-286zm10-217zm11-198zm-4 208zm3 71zm-6 53zm1 52zm1 51zm-2 68zm1 11zm9-153zm6-333zm-3-67zm10 196zm7 122zm-1 71zm-6 61zm8 93zm9-423zm-1-120zm7 78zm3 90zm-3 3zm30-30zm11 102zm4-106zm-4-26zm-4-33zm5-102zm14 127zm-5 12zm-4 201zm20-303zm4 1zm9 19zm-7 203zm14-189zm1-27zm17-45zm-5 124zm4 258zm9-134zm15-319zm1 68zm-7 18zm5 1zm1 155zm14-261zm17 153zm0-33zm20 40zm83 667zm4-53zm21 7zm47-115zm-8-13zm-1-91zm12-77zm8 50zm1 136zm7 170zm1-10zm0-8zm3-80zm-7-31zm5-73zm-1-75zm-7-106zm6-12zm14 157zm-7 0zm7 73zm-1 35zm3 108zm13 12zm-6-63zm5-85zm-8-48zm2-168zm-3-1zm16 36zm-4 6zm0 4zm8 104zm-1 82zm-5 39zm5 22zm-3 47zm-5 17zm5 22zm18-29zm-4-78zm-7-9zm8-11zm3-70zm-2-160zm6-77zm3 156zm-1 41zm5 58zm-9 8zm22 178zm-11-74zm10-24zm-5-18zm3-34zm1-28zm-6-35zm1-43zm6-157zm13 3zm-1 82zm-6 15zm7 17zm-6 31zm6 2zm-4 103zm15 117zm-8-130zm9-88zm-7-56zm6-68zm3-58zm0 7zm2 93zm7 116zm-7 49zm5 177zm12-25zm2-69zm-7-74zm1-8zm-2-8zm3-36zm-5-62zm11-2zm-6-7zm0-38zm9-83zm-1 35zm7 68zm1 35zm2 42zm0 82zm-11 37zm9 55zm12 9zm-7-47zm7-117zm-1-90zm11 59zm-2 35zm2 3zm2 1zm2 4zm-1 140zm8 8zm-2-55zm0-49zm-3-37zm9-30zm-7-24zm8-174zm8 95zm-6 3zm8 236zm-8 13zm2 20zm14 30zm3-35zm1-194zm-7-106zm16-31zm-4 11zm5 7zm-1 78zm-4 44zm-2 2zm2 2zm3 56zm2 56zm8 63zm1-44zm-1-37zm-1-10zm1-60zm-1-17zm3-67zm4-20zm-3-54zm11-5zm2 78zm-3 30zm2 26zm-3 15zm8 30zm-1 2zm-10 5zm10 72zm-10 15zm11 47zm11-109zm-7-27zm7-46zm0-54zm-5-71zm10 26zm2 81zm1 131zm0 21zm12-74zm-5-147zm16 155zm19-109zm5 25zm16 18zm-9-93zm16 58z"/>
<path stroke="#efe51c" d="M313 2217zm5 54zm33 99zm5-1zm8-83zm16-135zm9 65zm0 118zm17-58zm4-24zm-1 59zm3 39zm16 41zm20-41zm7-14zm-9-42zm4-166zm10 153zm1 50zm-2 6zm-1 55zm21 28zm-6-26zm4-54zm-8-21zm0-12zm14-13zm0 185zm11-75zm6-5zm3-58zm-2-9zm-6-9zm1-49zm12-83zm-1 137zm-3 1zm1 9zm17 70zm-1-2zm6-36zm-3-22zm-7-32zm5-59zm5-121zm9 223zm-1 14zm-5 21zm6 1zm-4 51zm3 39zm8-9zm0-35zm1-51zm-3-235zm0-240zm18 120zm3 202zm0 82zm-6 8zm-1 87zm7 20zm9 3zm4-44zm-4-49zm-3-23zm8-102zm1 71zm4 5zm-1 134zm16-153zm8-323zm-4 105zm6 27zm0 8zm-2 45zm3 16zm-2 15zm0 75zm1 48zm1 3zm-1 7zm-5 19zm4 49zm-4 39zm5 11zm15-6zm-2-65zm2-13zm0-56zm-7-128zm1-9zm1-76zm10-163zm1 60zm4 63zm0 12zm-6 11zm8 40zm-6 41zm0 101zm-1 19zm3 54zm6 14zm-9 44zm6 4zm9 30zm4-142zm2-71zm-6-30zm7-124zm8 1zm-7 175zm4 135zm4 6zm-8 26zm16-165zm11-124zm6 73zm0 3zm-8 69zm5 31zm10-15zm-2-12zm-3-123zm0-36zm2-6zm7-137zm10-153zm-5 307zm2 0zm2 11zm-6 57zm11 8zm-6 51zm8 54zm9-6zm-1-54zm-5-94zm-2-24zm-1-56zm2-48zm10 65zm0 167zm88-381zm1-140zm15-198zm-8 315zm3 14zm-2 83zm11 8zm6-176zm9-40zm-4 6zm7 171zm-2 1zm-4 6zm15 39zm5-66zm-7-85zm5-25zm-5-87zm6-29zm9-99zm6 16zm-6 102zm2 12zm4 120zm-5 15zm-3 14zm4 42zm0 8zm12-36zm3 0zm0-25zm-6-35zm2-5zm-4-15zm5-19zm-5-20zm-2-3zm5-41zm3-12zm-2-7zm1-20zm1-67zm-5-44zm14 56zm5 89zm-1 95zm5-54zm4-54zm-3-14zm216 271zm15 70zm11 110zm4-71zm34 188zm58-260z"/>
<path stroke="#cde11d" d="M283 2254zm0-56zm27-3zm-1-155zm8-14zm-5 60zm2 62zm19 133zm-8-166zm8-15zm0-103zm6 195zm-3 10zm2 107zm15 16zm3-64zm-3-99zm-3-79zm7-19zm5 22zm19-93zm7 145zm-1 200zm0 3zm18-59zm-4-61zm18-376zm-5 112zm5 280zm12 92zm0-133zm-7-29zm-1-15zm13 58zm1 145zm7 2zm1-46zm1-90zm0-126zm7-9zm9 57zm4 262zm8-39zm-2-22zm-1-57zm6-57zm-9-13zm11-31zm0-49zm-9-214zm21 148zm-3 29zm1 141zm0 201zm12-211zm-9-196zm4-35zm5-6zm10 110zm-5 10zm1 42zm4 52zm2 142zm4 77zm6-123zm0-22zm-1-105zm-5-15zm15-180zm0 129zm-4 33zm14 326zm7-61zm-6-46zm-3-113zm9-172zm-9-5zm6-23zm4-95zm7-7zm-3 88zm-2 137zm3 16zm1 65zm5 219zm14-4zm-3-127zm-6-117zm3-102zm7 40zm11 47zm-6 32zm-5 139zm2 38zm18-45zm-7-324zm5-89zm-1-5zm1-12zm11 197zm-5 31zm1 44zm6 30zm-6 13zm6 33zm3 63zm-9 20zm0 55zm18-36zm-3-91zm-1-45zm0-62zm2-141zm-5-68zm17 141zm-1 59zm0 211zm10-123zm0-56zm4-126zm-2-109zm16-105zm-7 43zm4 10zm1 29zm4 54zm-8 128zm3 36zm-5 212zm17-108zm-5-153zm4-117zm9 35zm4 196zm12-50zm-3-110zm14-81zm5 87zm8 101zm36-552zm9 317zm4-37zm-6-92zm10-185zm4-77zm0 281zm8 58zm11-332zm5 59zm-1 49zm9 164zm2 85zm5-70zm0-22zm1-160zm2-27zm-6-20zm20-37zm-8 148zm7 144zm6 11zm-1-20zm1-72zm1-117zm1-127zm5-21zm1 0zm5-3zm5 21zm-4 17zm-3 129zm6 13zm0 6zm7 13zm7-132zm-3-2zm-2-1zm11-38zm7 75zm-1 82zm-9 60zm6 64zm-4 18zm0 17zm16-79zm-2-23zm-2-45zm4-2zm-3-18zm-1-118zm17 80zm0 8zm120 607zm34 40zm7-101zm30 74zm16-307zm2 30zm10 135zm-8 145zm31-241zm4-51zm13 274zm19 35zm0-65zm5-336zm15 271zm8-102zm20 122zm19 26zm30-94zm6 8zm3 8z"/>
</g></g>
<rect x="14.3" y="288.6" width="279.1" height="222.0" fill="none" stroke="#444" stroke-width="0.8"/>
<rect x="296.3" y="288.6" width="7.6" height="222.3" fill="url(#vir)" stroke="#444" stroke-opacity=".8" stroke-width="0.5"/>
<line x1="303.9" y1="510.9" x2="306.8" y2="510.9" stroke="#444" stroke-width="0.7"/>
<text class="mp s" x="310.3" y="513.9">0</text>
<line x1="303.9" y1="480.0" x2="306.8" y2="480.0" stroke="#444" stroke-width="0.7"/>
<text class="mp s" x="310.3" y="483.0">2000</text>
<line x1="303.9" y1="449.2" x2="306.8" y2="449.2" stroke="#444" stroke-width="0.7"/>
<text class="mp s" x="310.3" y="452.2">4000</text>
<line x1="303.9" y1="418.3" x2="306.8" y2="418.3" stroke="#444" stroke-width="0.7"/>
<text class="mp s" x="310.3" y="421.3">6000</text>
<line x1="303.9" y1="387.4" x2="306.8" y2="387.4" stroke="#444" stroke-width="0.7"/>
<text class="mp s" x="310.3" y="390.4">8000</text>
<line x1="303.9" y1="356.5" x2="306.8" y2="356.5" stroke="#444" stroke-width="0.7"/>
<text class="mp s" x="310.3" y="359.5">10000</text>
<line x1="303.9" y1="325.7" x2="306.8" y2="325.7" stroke="#444" stroke-width="0.7"/>
<text class="mp s" x="310.3" y="328.7">12000</text>
<line x1="303.9" y1="294.8" x2="306.8" y2="294.8" stroke="#444" stroke-width="0.7"/>
<text class="mp s" x="310.3" y="297.8">14000</text>
<text class="mp t" text-anchor="middle" x="153.8" y="282.7">cell_barcode</text>
<text class="mp s" text-anchor="middle" x="153.3" y="520.6">UMAP1</text>
<text class="mp s" text-anchor="middle" transform="translate(9.3 400.7) rotate(-90)">UMAP2</text>
<text class="lab" x="13.8" y="281.7">(c) Patient P3</text>
</g>
<g id="panel-d">
<g clip-path="url(#cld)"><g filter="url(#bl)">
<polygon points="386.9,381.8 380.3,399.3 377.0,418.5 376.5,437.8 378.9,456.9 385.0,475.8 394.2,489.5 405.1,497.4 417.9,500.3 428.3,497.4 439.6,489.3 451.4,475.1 461.0,458.4 473.6,425.7 474.9,424.1 482.2,418.3 487.4,413.0 488.9,405.5 487.4,397.8 482.5,392.1 471.5,387.4 465.2,381.9 462.8,380.9 452.5,370.5 429.8,365.1 406.9,368.8 390.9,380.1" fill="#4ec36b" fill-opacity="0.30"/>
<polygon points="598.8,356.7 591.8,362.6 583.6,370.8 572.2,377.7 570.5,379.4 575.2,382.4 582.4,394.5 586.1,404.2 588.2,414.8 594.4,421.0 601.8,429.4 606.6,431.5 613.1,425.8 617.2,415.7 619.3,402.7 619.3,389.0 620.5,375.7 619.4,363.3 615.3,356.6 606.3,355.7" fill="#414487" fill-opacity="0.25"/>
</g></g>
<g clip-path="url(#cld)"><g transform="scale(.2)" fill="none" stroke-linecap="round" stroke-width="6.50">
<path stroke="#efe51c" d="M1876 2195zm19 85zm-5-264zm11 108zm16 232zm0-394zm6-32zm1 83zm0 176zm14 230zm3-160zm-2-301zm14-2zm0 27zm12 137zm8-194zm-3 326zm8 12zm-10 45zm18 37zm-1-412zm-1-16zm15-96zm1 47zm-4 231zm-3 314zm18-15zm-5-60zm2-295zm4-197zm7 111zm8 199zm1 46zm5-30zm5-185zm-3-45zm15 84zm0 97zm-4 166zm7 222zm5-12zm-1-77zm5-25zm-8-63zm-1-213zm10-39zm3-238zm3 183zm1 26zm10 276zm1-431zm16-270zm-3 88zm3 508zm-3 167zm9 21zm1-102zm5-312zm0-151zm-1-114zm15-25zm-9 195zm1 38zm-1 492zm12-352zm16-118zm-5 48zm-1 141zm3 270zm17-274zm-6-45zm1-296zm10 425zm-1 138zm28-362zm6 113zm0 158zm13-28zm-1-13zm-1-79zm-9-282zm22 72zm0 121zm-4 131zm5 50zm9-215zm-5-313zm19 357zm-7 226zm14-11zm-5-6zm1-81zm10-240zm-6-273zm30 493zm1 45zm19-5zm4-155zm12 110zm-4 29zm-5 17zm9 35zm5-405zm25 224zm4-140zm17 172zm9-130zm-5-34zm48 43zm39 41z"/>
<path stroke="#28ae80" d="M1859 2159zm19 15zm40 159zm-1-254zm-1 0zm-1-32zm-2-72zm10-12zm5 133zm-3 71zm4 30zm-9 48zm18-223zm0-25zm-3-116zm13 66zm0 188zm-1 37zm15 191zm2-15zm-3-13zm5-113zm1-237zm-4-113zm10 58zm2 416zm16-209zm-7-5zm5-162zm-2-13zm2-55zm-2-62zm12 34zm-3 123zm-3 222zm5 17zm-3 43zm-1 145zm17 19zm-2-253zm-1-1zm0-183zm0-67zm5-56zm12 442zm13 50zm1-130zm-4-1zm2-336zm8-155zm-4 398zm2 29zm12 101zm2-2zm-3-522zm15 331zm-5 61zm1 151zm-1 109zm12 8zm3-370zm13-61zm-4 213zm11 34zm-5 0zm14 215zm-2-106zm4-133zm-5-166zm6-78zm-8-23zm8-66zm-6-227zm8 130zm-1 28zm8 605zm-7 50zm16-125zm2-319zm-5-89zm4-59zm0-300zm7 215zm-1 27zm11 5zm-10 233zm2 68zm0 7zm2 232zm14-90zm4-58zm-4-42zm-2-14zm2-298zm-1-94zm-1-132zm7 206zm0 292zm6 7zm-6 119zm1 12zm8 92zm6-18zm3-115zm2-134zm1-41zm-7-301zm7-56zm12-189zm-1 246zm2 118zm-5 328zm13 137zm-6-12zm20-603zm3 155zm0 72zm-11 178zm5 122zm4 8zm8 126zm5-312zm-9-90zm5-220zm7-17zm8 9zm-9 19zm10 207zm-4 78zm4 90zm-2 46zm1 78zm-5 21zm-4 111zm23-22zm-7-77zm-2-158zm-1-22zm-1-137zm3-62zm11-87zm6 142zm-6 67zm-1 31zm5 112zm-6 15zm19 128zm2-17zm-7-117zm4-60zm3-274zm-2-72zm11 1zm4 219zm-4 138zm15 138zm-1-47zm3-37zm19 46zm-1-62zm4-155zm12-74zm10 180zm-2-166zm24 184zm-1-91zm0-69zm-1-23zm25-14zm12 23zm11 80zm7-38zm-3-8zm-1-59zm10 49zm6 50z"/>
<path stroke="#1f968b" d="M1868 2169zm14-105zm7 293zm12-242zm-4 93zm10 100zm-11 34zm13-46zm9-259zm11-137zm-4 139zm-3 109zm12 163zm7-337zm-5-71zm-2-35zm18-34zm1 209zm7 4zm19-168zm-10 108zm0 2zm5 2zm5 85zm-2 52zm-2 137zm-5 55zm8 92zm7-373zm2-21zm2-42zm-6-81zm20-46zm-8 300zm3 111zm4 13zm7 168zm6-216zm-8-46zm7-120zm-2-165zm-3-67zm2-106zm5 141zm9 22zm2 60zm-11 230zm7 118zm3 135zm-8 1zm4 11zm11-131zm-3-17zm0-31zm6-219zm-5-112zm9-44zm11 65zm-11 44zm0 30zm2 81zm5 11zm14 322zm-7-81zm3-219zm0-375zm18-41zm-8 45zm2 106zm-2 25zm6 115zm-3 92zm-3 167zm1 114zm13-423zm-2-14zm0-80zm17-201zm0 144zm-3 125zm2 40zm3 55zm6 145zm-1-419zm15-36zm3 688zm-3 41zm13-225zm3-75zm-2-313zm-1-219zm8 56zm3 322zm-6 237zm16 97zm7-31zm-6-60zm0-192zm5-23zm1-68zm-3-18zm15-56zm-10 160zm-1 20zm3 113zm-2 86zm3 125zm18 39zm-1-328zm-6-83zm-3-88zm1-111zm7-123zm9-86zm-4 192zm0 287zm7 55zm-3 90zm1 208zm9-337zm2-45zm-2-42zm3-13zm-6-27zm6-226zm-5-45zm15 95zm5 158zm-9 22zm7 98zm-6 77zm17 148zm5-40zm0-59zm-3-48zm-7-3zm3-6zm0-52zm5-202zm-3-73zm-6-191zm16 27zm4 150zm3 70zm-2 100zm-6 256zm4 10zm1 14zm2 24zm4 112zm7-378zm5-251zm4 211zm-2 10zm4 258zm5-128zm1-102zm0-108zm15 16zm2 272zm-4 46zm-1 79zm-1 45zm12-37zm9-91zm-7-56zm6-62zm8-146zm-5 147zm6 189zm14-70zm-3-291zm6-9zm11 289zm13-111zm-11-19zm8-39zm3-3zm-1-36zm-9-93zm19 93zm12 132zm3-37zm12-114zm18-3zm18 95zm32-35zm441-108zm17 9zm20-61zm-2 74zm7 93zm7-184zm24 178zm6-24zm-10-43zm18-64zm12 107zm19-165zm13 54zm-3 143zm17 20zm-5-178zm4-18zm13 73zm28-123z"/>
<path stroke="#2c728e" d="M1875 2044zm-1 164zm21-86zm0-144zm11 32zm13 346zm-9-211zm-1-91zm18-128zm14 149zm-7-118zm13 241zm16 26zm3-217zm1-81zm-8-89zm30 556zm-8-118zm9-167zm0-79zm-5-53zm9 437zm20-45zm-9-91zm6-55zm0-316zm14-154zm-3 366zm-3 210zm5 73zm-2 49zm9-77zm8-65zm-10-498zm3-25zm-1-26zm10 45zm-1 189zm9 22zm-6 7zm11 388zm-2-136zm10-158zm-4-29zm12-331zm-1 33zm3 182zm9 462zm0-490zm3-136zm7-98zm8 285zm-10 160zm-1 53zm5 298zm9-8zm-1-346zm6-156zm-6-9zm10-247zm-10-4zm7-9zm4 559zm1 103zm3 81zm19-100zm-8-348zm13-32zm-2 86zm9 102zm-8 240zm13-317zm-1-26zm3-328zm-5-31zm9-194zm13 181zm-6 532zm14-211zm-1-222zm-6-174zm12 24zm8 17zm2 15zm-1 163zm1 115zm-3 72zm3 4zm-6 434zm8-402zm2-204zm3-90zm9 135zm3 292zm-3 16zm13 114zm5-3zm3-48zm4-659zm7 46zm-7 83zm7 165zm-2 89zm0 149zm0 18zm8 115zm3-68zm-5-68zm8-332zm26 429zm5 56zm11-1zm-3-36zm8-234zm-9-17zm9-85zm9 140zm13 125zm3-29zm-3-205zm24 216zm-3-104zm8 22zm35-35zm23 1zm31-20zm444-107zm33-61zm16 47zm-3 48zm27-146zm-2 43zm-3 179zm9 9zm9-255zm3-15zm10 74zm-3 44zm-3 189zm21-212zm0-61zm-5-4zm28 178zm-2-149zm8 72zm-3 56zm3 69zm11-108zm7-23zm-3-88zm13 216zm-8 92zm9 28zm13-235zm18 107zm15-212zm-1 164zm14 20z"/>
<path stroke="#38598c" d="M1898 2173zm10-65zm19 9zm-2 112zm3 103zm14-120zm0-28zm10-36zm-3 106zm9 117zm-1-29zm6-498zm6 426zm17-41zm4-12zm8-144zm17 363zm-10-280zm22-399zm-4 124zm2 144zm-6 176zm7 181zm3-563zm11-78zm11 717zm11 6zm13-622zm-7 104zm10 406zm9-284zm-4-136zm0-195zm1-59zm5 143zm7 65zm0 29zm-5 81zm6 383zm0 97zm11-73zm-2-8zm3-51zm1-198zm-6-139zm13 48zm-5 162zm21-256zm-4-248zm14-199zm2 625zm2 312zm3-43zm8-18zm-5-49zm0-335zm5-337zm-10-146zm21-5zm-7 2zm4 3zm-3 252zm-2 4zm6 428zm-1 13zm1 5zm3 100zm13-311zm-3-370zm-1-54zm4-42zm-8-17zm16-7zm-5 708zm11 139zm6-156zm5-578zm3 63zm7 154zm1 369zm-7 49zm8-646zm13-13zm0 13zm2 2zm5 112zm0 592zm2 63zm2-30zm2-162zm5-81zm-1-60zm-3-291zm17 218zm-3 349zm14-125zm-2-396zm7-112zm1 16zm1 121zm13 24zm27 369zm3-112zm11-112zm-8 160zm18-185zm-6-56zm13 164zm56-72zm7-27zm3-8zm11 36zm21-29zm4 9zm397-129zm33 16zm25 5zm2 10zm-5 35zm1 11zm17 86zm-1-24zm3-5zm-3-70zm2-109zm11-11zm2 37zm-11 34zm3 46zm5 24zm3 11zm-2 5zm-3 31zm3 20zm-2 10zm12 19zm-7-10zm1-114zm1-35zm1-28zm3-59zm13-22zm-3 185zm0 48zm4 17zm-8 4zm8 5zm2 49zm8-147zm-1-79zm-3-14zm21-63zm-7 124zm6 71zm-3 19zm2 90zm-5 27zm-1 3zm6 7zm12-10zm-6-19zm1-14zm1-6zm5-2zm-3-14zm-1-68zm3-20zm1-2zm-7-8zm4-58zm-5-125zm18 22zm-3 37zm-3 2zm3 17zm5 5zm-5 9zm-2 33zm-3 30zm10 107zm-9 56zm-1 0zm16 51zm-2-1zm6-82zm-1-142zm-7-19zm1-63zm3-24zm6-7zm2 142zm6 5zm-6 20zm4 39zm-1 133zm9 0zm10-14zm1-45zm-5-54zm-1-48zm-4-25zm3-31zm5-25zm-8-20zm2-2zm-1-23zm7-17zm-6-2zm18-62zm1 39zm-10 75zm7 79zm-1 18zm-6 8zm6 57zm2 22zm-6 32zm0 31zm17-1zm2-76zm-8-44zm-1-119zm4-2zm17-109zm-5 12zm-2 39zm7 104zm-3 38zm8-57zm7-51zm-6-25zm0-18zm8-12zm-11-63zm16 128zm4 46zm5-114z"/>
<path stroke="#38b977" d="M1859 2244zm1-81zm21-109zm-4 214zm13-43zm12-154zm4 58zm1 107zm-1 114zm2-24zm5-194zm5-3zm-5-37zm5-5zm-3-23zm15 180zm0 165zm6-66zm4-132zm-4-155zm6-86zm4 56zm1 79zm1 187zm3 79zm-3 13zm14-119zm2-17zm0-9zm-1-67zm-6-39zm9-28zm-2-129zm3-90zm-8-1zm9-19zm8 41zm0 206zm-1 65zm-7 28zm10 19zm-5 84zm2 91zm3 19zm9-14zm-1-1zm-6-173zm8-23zm-8-42zm5-52zm-2-112zm2-122zm10 226zm7 12zm-6 53zm3 34zm4 127zm-3 66zm-5 75zm3 14zm16 15zm-9-61zm-1-40zm8-15zm-3-80zm-2-160zm3-231zm0-20zm12-136zm4 160zm-3 55zm2 158zm-3 296zm-2 59zm8-45zm0-51zm4-79zm6-8zm-10-2zm1-44zm3-4zm-1-47zm-2-215zm5-137zm0-4zm1-99zm-6-8zm22 192zm-8 21zm1 29zm-4 80zm7 14zm-3 66zm7 0zm-10 21zm1 82zm6 24zm-1 206zm12-109zm2-45zm-5-271zm5-83zm-4-23zm-3-6zm1-21zm6-181zm1-33zm13-30zm-4 157zm1 263zm-1 1zm-1 12zm2 152zm1 202zm13-136zm-4-9zm-6-36zm0-66zm9-27zm-7-77zm9-252zm-4-2zm-6-9zm8-137zm3 0zm6 64zm-1 224zm6 108zm-4 46zm3 65zm-10 61zm5 61zm-1 38zm5 25zm11 70zm-2-44zm3-19zm-6-20zm8-205zm-4-201zm-5-31zm8-16zm0-28zm-4-175zm-4-13zm20 68zm1 87zm-1 217zm-7 72zm8 132zm-1 128zm12 40zm-6-153zm1-15zm-5-5zm7-121zm1-83zm-5-10zm3-21zm5-10zm-3-10zm1-54zm-7-26zm6-319zm6 166zm7 110zm0 16zm2 26zm-9 181zm7 1zm-3 37zm1 67zm-6 81zm4 77zm9-43zm7-4zm-3-52zm2-123zm-1-94zm3-49zm-5 0zm-4-4zm4-239zm17 103zm-3 84zm-5 24zm8 198zm-10 103zm10 64zm-6 7zm7 50zm-2 14zm6 27zm5-29zm-3-163zm6-68zm-1-117zm-3-13zm-2-7zm0-163zm3-127zm15-165zm-2 107zm-7 84zm3 158zm4 13zm2 4zm-1 68zm-2 76zm-3 9zm-3 3zm8 232zm9-269zm4-99zm-2-79zm-7-90zm5-230zm-1-34zm13 56zm3 116zm-9 88zm9 53zm-2 120zm-6 187zm18 141zm2-70zm-8-22zm7-194zm-4-96zm0-133zm-1-30zm14-157zm4 240zm-8 20zm7 203zm0 38zm-3 71zm-3 69zm4 56zm4 65zm2-360zm9-34zm1-138zm-6-18zm1-75zm8 56zm2 35zm-4 117zm0 27zm6 64zm-3 57zm4 45zm-1 51zm-4 21zm-1 20zm4 43zm5 5zm-10 27zm17-75zm6-118zm-2-121zm0-119zm1-1zm8 17zm-5 119zm9 99zm-1 3zm-2 51zm-6 42zm19-299zm-5-96zm9 136zm4 67zm2 2zm-2 38zm-3 82zm7 23zm2 50zm7-18zm-2-20zm3-111zm-5-95zm3-9zm9-17zm4 33zm4 86zm7-102zm9-9zm7 45zm1 91zm13 25zm-1-57zm-4-97zm-4-34zm11 35zm16 72zm-1-29zm4-68zm5 78zm8 17zm3 11zm1 51zm11-69zm-4-49zm15 2zm-2 100zm11-130zm12 50z"/>
<path stroke="#cde11d" d="M1866 2225zm16-234zm8 214zm2-186zm10 48zm4 30zm8 294zm1-9zm4-85zm0-46zm-10-117zm13-209zm4 257zm-5 64zm0 83zm4 38zm14-32zm-4-238zm4-38zm12-248zm1 101zm0 45zm-8 201zm8 28zm-6 10zm4 59zm5 154zm-8 32zm5 2zm14-26zm-1-58zm-3-102zm5-22zm-2-25zm-8-128zm4-61zm-2-150zm1-17zm18 70zm-9 9zm8 49zm-3 45zm-3 58zm2 30zm-1 135zm5 16zm-1 43zm1 139zm8 2zm-4-27zm2-37zm6-83zm-2-2zm-5-20zm9-21zm-11-22zm6-13zm-3-355zm18 3zm-9 50zm2 2zm9 129zm-4 22zm0 3zm-5 164zm0 180zm19-47zm-8-13zm3-86zm0-46zm2-57zm2-4zm3-13zm-4-23zm1-11zm-2-13zm-1-81zm-4-14zm6-85zm4-176zm5 68zm5 32zm-9 17zm2 32zm6 34zm-1 155zm4 4zm-6 52zm2 1zm4 47zm-3 36zm0 55zm-5 89zm3 20zm10 48zm-2-28zm9-10zm-1-51zm-4 0zm0-69zm4-119zm-6-317zm7-13zm-4-12zm-6-14zm11-2zm8 96zm2 34zm-6 69zm0 308zm5 21zm2 1zm-8 56zm20-274zm-7-71zm-2-54zm9-44zm-3-121zm-1-29zm4-15zm2-14zm9 32zm-8 91zm2 84zm-2 10zm7 73zm-9 381zm3 14zm5 44zm3 1zm11-55zm0-149zm-3-173zm-7-25zm4-19zm4-128zm2-5zm-4-167zm9 153zm-2 251zm7 4zm3 36zm-7 104zm4 26zm2 24zm-5 26zm17 100zm-5-75zm4-68zm-8-39zm5-5zm3-9zm-1-197zm-5-65zm0-73zm-3-77zm3-119zm13-60zm-3 118zm7 9zm-3 94zm-2 9zm4 30zm3 104zm-3 27zm3 9zm1 0zm-6 58zm1 123zm-4 181zm5 19zm14-39zm-9-12zm4-110zm3-70zm4-88zm-5-97zm1-73zm-6-56zm17-202zm-4 64zm-2 55zm2 83zm1 15zm1 115zm2 95zm1 111zm0 210zm8-133zm1-4zm3-12zm-4-91zm7-98zm-8-2zm4-83zm-2-75zm-2-119zm-1-142zm5-32zm4-105zm10 149zm-1 267zm2 23zm-7 4zm6 130zm1 35zm-3 17zm5 15zm-6 64zm4 1zm1 71zm0 59zm-8 43zm15-16zm-1-153zm-4-100zm9-13zm-5-9zm4-117zm1-11zm-5-194zm4-6zm-8-13zm15-14zm0 5zm4 111zm-5 90zm9 178zm-7 29zm3 67zm-2 110zm-1 5zm-4 52zm23-111zm-7-87zm5-27zm-7-26zm2-210zm0-46zm2-102zm-5-9zm9-13zm-9-9zm3-127zm6-38zm4 52zm2 19zm-4 75zm4 96zm7 6zm-4 246zm-3 156zm1 6zm-4 38zm14-3zm3-45zm3-227zm-4-59zm3-48zm-1-141zm2-22zm0-34zm1-34zm-1-58zm10 271zm-1 35zm-2 110zm0 6zm6 3zm1 21zm-2 32zm-1 29zm-8 7zm7 99zm0 56zm-2 35zm8-390zm5-40zm-1-326zm8 122zm3 47zm-2 50zm0 182zm0 158zm16 165zm-6-39zm2-41zm-1-98zm0-9zm3-42zm0-307zm5-93zm-9-16zm7-21zm14 154zm-2 21zm1 61zm-4 332zm9 39zm4-35zm6-92zm-4-71zm2-18zm4-88zm5 10zm5 3zm-5 124zm-1 148zm5 11zm3-149zm5-87zm-6-81zm0-49zm13 5zm1 35zm7 41zm2 17zm-6 70zm2 32zm-7 42zm22-153zm-1-6zm-8-28zm4-5zm-1-17zm3-1zm1-58zm5 163zm19 64zm0-116zm8 31zm12 80zm8-101zm2 52zm-1 9zm12-5zm4-106zm9 10zm1 25zm7 64zm12-71z"/>
<path stroke="#277e8e" d="M1894 2083zm7-138zm6 229zm-3 216zm23-359zm6-55zm22-62zm-6 40zm10 283zm9-165zm7 130zm16-157zm-5-11zm4-47zm-3-44zm-6-153zm22 180zm9 454zm-8-40zm11-287zm-11-156zm5-37zm14-173zm4 29zm-3 18zm-2 378zm2 33zm-8 24zm4 10zm-1 59zm14 179zm2-20zm2-303zm-8-43zm8-92zm-7-19zm2-52zm2-91zm2-14zm-3-87zm8 154zm6 60zm-3 220zm6 200zm3-248zm7-310zm-6-103zm7-31zm14 516zm-8 2zm-3 37zm22 164zm-7-527zm5-91zm13 28zm-2 127zm-5 5zm4 96zm-5 324zm-1 87zm19-115zm-3-274zm0-113zm18-312zm1 517zm11 133zm-2-139zm-4-42zm6-91zm8-291zm-2 110zm4 468zm1 26zm12 104zm2-189zm-5-535zm15-18zm2 163zm-9 263zm3 112zm-4 73zm8 69zm9-310zm4-240zm-5-34zm10-99zm3 187zm5 27zm-5 8zm3 394zm1 4zm-1 12zm10-42zm-2-26zm2-177zm-5-111zm3-147zm9-182zm7 123zm-4 398zm-2 4zm2 19zm9 15zm-2-140zm2-32zm4-22zm17-84zm-2 73zm2 13zm-6 41zm-4 257zm5 46zm-1 4zm15-23zm-6-102zm-1-228zm6-33zm-3-188zm26 342zm-4-415zm16 150zm-6 364zm18 40zm9 8zm19 18zm-10-47zm0-119zm21 29zm9-32zm13-20zm8-49zm15-95zm15 17zm20 62zm5-80zm10 6zm10 66zm-6-13zm433-89zm21 22zm23-77zm1 15zm-1 102zm12 49zm12-39zm-7 48zm17-95zm10 91zm21-188zm-2 139zm4 89zm0 55zm9-100zm9-10zm-5-25zm-3-14zm13-192zm5 37zm3 26zm-5 133zm-2 46zm19 48zm-7-119zm5-20zm15 44zm11-5zm12 86zm-1 11zm13-258zm2 162z"/>
<path stroke="#6ccd5a" d="M1881 2215zm-1 9zm5 125zm9-7zm-4-25zm-6-74zm0-44zm5-27zm-5-160zm17-71zm2 75zm1 26zm0 40zm2 40zm-10 68zm12 208zm8-122zm3-101zm-1-124zm0-63zm6 52zm6 8zm-7 98zm-1 47zm5 63zm3 104zm6 14zm3-57zm-1-6zm-1-106zm4-32zm2-1zm0-52zm-7-16zm5-211zm1-25zm13 67zm-5 40zm0 34zm0 35zm0 7zm-6 21zm9 20zm2 21zm-5 13zm5 27zm-5 184zm-1 20zm9 64zm0-35zm8-13zm-8-64zm6-3zm-6-29zm5-33zm0-42zm1-11zm2-107zm-10-38zm10-12zm-8-9zm-2-7zm10-19zm-9-101zm4-27zm11-67zm1 52zm-5 8zm3 29zm-3 62zm2 29zm5 61zm-2 105zm4 11zm-6 57zm7 15zm-6 30zm-2 1zm8 31zm-6 73zm5 3zm-3 31zm10-1zm-3-24zm6-41zm3-87zm0-19zm1-32zm0-62zm-5-8zm4-30zm-4-61zm1-203zm9-15zm1 17zm-1 9zm0 6zm0 3zm0 108zm5 62zm-2 5zm-1 43zm4 49zm-9 78zm0 2zm2 24zm8 35zm-3 25zm3 43zm0 14zm-10 37zm8 8zm-4 22zm-2 19zm3 8zm16-14zm0-10zm-6-74zm2-55zm2-28zm-5-51zm-3-3zm10-34zm-1-134zm-3-48zm3-149zm-7-28zm20-36zm-2 36zm-8 0zm5 20zm1 84zm3 94zm-5 126zm4 257zm-1 46zm-4 32zm9-73zm2-10zm9-75zm-6-8zm3-14zm-6-83zm3-22zm2-85zm-7-118zm10-34zm-8-13zm7-2zm-9-60zm1-28zm-1-48zm8-55zm15-47zm0 25zm-5 30zm4 59zm-5 12zm-5 79zm3 70zm0 168zm7 59zm-9 3zm0 89zm1 17zm13 62zm5-13zm-4-88zm4-45zm-1-6zm-1-146zm-6-87zm3-86zm6-52zm-1-20zm-2-9zm3-53zm6-36zm7 22zm-2 13zm-6 29zm2 58zm2 15zm-4 0zm1 72zm3 28zm-2 14zm-4 362zm3 20zm3 3zm-3 27zm8 40zm-7 95zm18-55zm-1-159zm2-15zm-2-106zm0-131zm-6-56zm8-123zm-7-143zm5-2zm-7-42zm20 181zm-6 5zm1 14zm-5 2zm8 48zm-8 15zm6 94zm4 36zm-7 79zm4 113zm-5 79zm5 26zm2 79zm12-6zm-5-40zm4-58zm-1-68zm-6-14zm5-74zm0-83zm-3-88zm8-17zm-4-2zm-1-38zm5-18zm-7-15zm0-108zm2-117zm14 20zm1 46zm-1 54zm2 16zm1 24zm-2 29zm2 47zm-10 80zm4 89zm2 8zm-2 5zm6 20zm-6 131zm3 27zm-6 11zm7 99zm-4 3zm0 22zm14 45zm3-162zm-2-37zm-4-2zm3-30zm-7-155zm4-116zm2-45zm-6-219zm8-118zm14 65zm-8 47zm-2 37zm7 3zm1 78zm-4 49zm2 163zm1 96zm-6 45zm6 214zm-3 6zm5 11zm8 21zm1-31zm1-56zm-5-16zm1-8zm8-143zm-2-33zm-3-9zm-5-32zm2-36zm-1-22zm8-47zm0-38zm-3-45zm-6-11zm7-7zm-5-11zm5-95zm-2-83zm6 16zm6 20zm3 51zm-3 6zm5 107zm-9 7zm-1 6zm-1 195zm2 34zm-1 3zm3 27zm4 53zm-3 15zm-3 3zm4 37zm-4 29zm-1 15zm3 56zm2 67zm17-36zm-4-10zm-4-1zm1-21zm-4-1zm0-1zm9 0zm-4-13zm4-45zm2-22zm-10-65zm10-19zm-1-12zm-1-127zm-1-4zm1-234zm-2-11zm3-27zm-5-27zm2-33zm-6-40zm12-9zm9 61zm-5 52zm-5 44zm10 43zm-5 10zm1 45zm-6 23zm1 22zm8 34zm-2 59zm-7 34zm4 50zm0 35zm2 11zm2 88zm-8 3zm4 52zm3 41zm-6 17zm1 18zm17-8zm-7-167zm8-83zm1-78zm-6-12zm7-92zm0-7zm-10-97zm3-40zm5-9zm8-259zm3 111zm3 15zm-9 74zm5 27zm-5 19zm3 52zm3 106zm-6 36zm-1 45zm9 28zm-2 108zm-7 57zm3 46zm7 30zm-1 7zm-2 14zm-2 34zm2 23zm8 9zm-3-47zm9-142zm-2-17zm-2-5zm4-114zm-3-18zm1-1zm-4-56zm0-47zm-2-45zm7-85zm-8-17zm10-12zm-5-32zm3-28zm-7-18zm5-51zm11-30zm-1 33zm-3 134zm9 47zm1 106zm-7 22zm3 74zm-3 161zm-2 19zm9 23zm-9 65zm13-41zm2-49zm3-82zm-6-127zm4-40zm4-95zm1-61zm-6-12zm-3-59zm13-15zm8 40zm-7 32zm-3 33zm4 114zm2 41zm-1 19zm-2 34zm2 57zm-6 53zm15 120zm3-24zm5-47zm-11-127zm6-24zm3-4zm-5-60zm-2-63zm-1-11zm8-30zm0-29zm0-2zm-9-75zm11-64zm1 99zm5 76zm2 46zm1 237zm-2 70zm3 28zm10-3zm2-13zm-6-2zm0-130zm-1-14zm-2-98zm1-78zm1-54zm5-85zm12 110zm-6 62zm7 20zm-4 17zm6 15zm1 45zm0 13zm-8 27zm5 63zm-7 52zm20-87zm2-100zm0-21zm-7-33zm-4-17zm10-93zm2-9zm11 101zm-6 156zm-5 60zm0 8zm6 21zm12-49zm-3-220zm3-2zm5-3zm14 134zm4-130zm-3-20zm7-1zm12 40zm0 23zm-6 82zm12-17zm1-82zm6-16zm1-9zm-1-4zm8-18zm1 102zm7 22zm0-15zm0-5zm9-10zm-10-25zm15-79zm1 42zm-4 31zm8 9zm7 33zm-2-9zm13-37zm4 7zm0 11zm10 32z"/>
<path stroke="#addc30" d="M1868 2148zm1-11zm-1-141zm11 133zm-1 15zm3 141zm7 65zm-2-135zm1-121zm3-16zm-6-6zm20-116zm2 126zm-5 30zm6 96zm-10 34zm1 22zm5 4zm12 96zm2-194zm2-12zm-5-27zm8-156zm2 15zm6 18zm-8 43zm0 8zm2 68zm7 32zm-9 2zm4 36zm-5 192zm21 20zm-7-67zm6-49zm-8-57zm0-50zm3-7zm-1-116zm8-53zm-8-14zm7-23zm-9-38zm6-58zm10 54zm-3 96zm6 26zm1 0zm-4 1zm3 16zm2 51zm1 37zm-11 19zm5 43zm-5 61zm3 7zm5 2zm-3 28zm17 107zm-4-96zm-3-9zm7-49zm-2-1zm-6-21zm7-23zm-3-13zm-1-12zm6-34zm-1-6zm-3-80zm-1-59zm-5-23zm7-20zm1-106zm11-43zm-1 54zm-6 36zm4 76zm3 48zm-6 20zm2 19zm3 7zm-7 17zm9 279zm0 23zm1 52zm8 19zm1-15zm-5-10zm-1-161zm9-24zm-9-31zm1-17zm-2-16zm5-25zm-5-129zm10-131zm1-21zm10 49zm-3 137zm-4 24zm4 21zm-6 10zm1 56zm1 18zm-1 35zm8 10zm2 95zm-6 2zm4 4zm-9 21zm0 9zm13 60zm6-93zm2-44zm-7-26zm4-29zm1-65zm3-115zm1-43zm-2-135zm0-3zm-7-40zm8-19zm11 157zm-9 2zm1 49zm6 46zm4 136zm-2 4zm-2 84zm-4 22zm4 16zm10 137zm5-167zm-4-102zm-1-4zm-5-4zm7-15zm-6-92zm2-35zm2-26zm1-28zm5-39zm-6-127zm3-25zm-5-29zm5-8zm2-60zm0-3zm12 49zm-4 87zm-1 23zm-3 6zm7 19zm-8 34zm8 20zm2 66zm-7 246zm6 96zm-7 11zm-2 47zm18-138zm-6-28zm8-53zm-8-45zm7-58zm-8-9zm10-45zm-7-15zm-2-6zm2-58zm1-36zm0-34zm6-7zm-9-36zm7-1zm-7-39zm10-28zm-11-35zm8-15zm-4-41zm14 24zm-6 47zm10 20zm-1 53zm2 42zm-2 51zm-1 54zm-3 18zm2 48zm-3 53zm-4 205zm4 12zm-3 58zm8 29zm-2 0zm-3 3zm3 16zm13 35zm-4-31zm5-90zm-6-6zm1-14zm0-7zm-1-27zm-3-158zm4-51zm-2-44zm2-3zm0-46zm3-15zm1-1zm1-2zm-8-16zm0-25zm-1-6zm6-8zm-3-3zm0-61zm5-9zm-8-20zm8-55zm0-64zm8 16zm-3 33zm2 78zm-1 64zm1 9zm8 37zm-3 118zm-3 30zm4 132zm-1 91zm-7 3zm8 65zm-6 38zm3 44zm2 10zm2 4zm8-53zm3-126zm-2-40zm2-56zm-1-18zm-3-208zm6-111zm-7-10zm-2-130zm9-5zm-6-96zm15 111zm2 35zm-8 101zm8 5zm-8 19zm-1 80zm-1 70zm8 94zm-5 13zm8 33zm-1 19zm-9 46zm1 21zm0 22zm-1 91zm5 12zm-6 11zm7 11zm-1 75zm9 7zm0-40zm-3-124zm10-81zm-4-6zm1-30zm3-86zm-2-2zm-1-4zm0-14zm4-4zm-8-43zm-2-2zm1-4zm2-7zm6-4zm-9-32zm10-38zm-2-139zm-7-8zm-2-215zm17 204zm-4 27zm3 10zm-4 57zm3 20zm6 79zm-5 9zm4 82zm-2 19zm-4 226zm16 88zm-6-5zm0-30zm2-27zm8-2zm-9-3zm-1-90zm8-34zm0-59zm-1-10zm-3-35zm3-33zm-7-38zm11-34zm-9-173zm9-35zm-9-92zm3-14zm-4-87zm21-17zm-7 19zm8 243zm-7 39zm5 74zm-9 14zm9 8zm-3 106zm0 12zm-3 30zm4 120zm-3 7zm-2 40zm1 67zm-1 29zm21-29zm-11-121zm9-27zm-4-4zm0-74zm2-91zm-6-7zm1-128zm4-97zm-5-68zm0-36zm6-77zm12 165zm-4 15zm6 59zm-4 69zm3 19zm-2 3zm-1 33zm3 78zm0 19zm2 2zm1 77zm-1 3zm0 33zm-5 172zm15 39zm-3-43zm-2-40zm7-17zm-6-99zm-3-80zm9-114zm-8-25zm2-17zm1-2zm-3-149zm5-6zm-7-152zm0-2zm23 28zm-5 3zm5 26zm-6 46zm4 89zm-4 3zm5 248zm-9 63zm10 70zm-1 104zm-8 23zm-1 8zm21-53zm-5-76zm-3-3zm-2-1zm5-48zm-3-80zm7-25zm-1-40zm0-10zm-3-56zm-2-27zm-2-42zm2-22zm5-15zm-7-17zm-1-12zm1-43zm5-17zm-2-92zm-4-5zm18 155zm-2 31zm3 6zm-3 133zm0 33zm3 91zm0 53zm2 7zm-1 39zm-8 21zm0 9zm6 107zm11-125zm1-35zm1-3zm3-2zm1-27zm-5-40zm-2-20zm7-4zm-2-94zm-5 0zm-3-51zm6-24zm-3-26zm7-9zm-10-161zm3-59zm18 153zm0 1zm-3 24zm-7 111zm1 23zm-1 10zm0 66zm5 74zm0 15zm6 57zm-9 16zm4 1zm-2 0zm-3 10zm15 75zm0-25zm-4-188zm1-41zm5-22zm2-157zm2-99zm-8-9zm13 20zm3 6zm1 75zm-3 6zm4 5zm0 118zm-2 15zm-3 9zm0 98zm1 81zm18 60zm-8-145zm4-135zm-4-41zm2-45zm7-103zm-11-31zm14 23zm6 20zm0 13zm-1 29zm-5 1zm2 50zm-4 14zm6 14zm3 24zm-6 10zm7 20zm-8 2zm3 179zm4 66zm9-78zm2-104zm3-83zm-10-27zm2-46zm6-10zm-4-74zm10-8zm5 83zm-4 64zm-1 29zm1 39zm7 28zm-6 13zm-1 49zm5 2zm10 58zm-2-15zm2-96zm1-28zm-6-11zm7-12zm0-50zm-8-72zm15 15zm-1 65zm2 60zm14-26zm8-83zm-2 29zm7 14zm1 7zm-9 14zm21 12zm-6-37zm7-32zm8-48zm0 15zm0 82zm4 22zm8 45zm-3-41zm-2-18zm9-15zm-10-3zm11-29zm-5-45zm17 106z"/>
<path stroke="#3e4a89" d="M1865 2195zm4-47zm12 44zm11-168zm35-86zm39 50zm-2-16zm9 148zm-3 3zm7 62zm1 157zm13-251zm6-25zm5 96zm3 215zm2-459zm26 362zm5-195zm7-145zm5 83zm-4 8zm-2 18zm-4 87zm10 46zm-2 225zm5-185zm11-243zm8 283zm13-103zm2-99zm-7-224zm19-167zm-7 233zm7 247zm12 225zm11-692zm-3 181zm3 143zm-2 29zm-8 50zm22 345zm-8-51zm2-194zm-2-161zm14-380zm3 240zm0 240zm-6 344zm0 25zm13-985zm21-3zm-11 35zm9 24zm-4 422zm12 371zm1-51zm4-467zm-3-40zm11-276zm0 18zm9 791zm3-100zm4-240zm-9-222zm3-7zm17-141zm1 141zm1 546zm1-124zm9-291zm-6-228zm16 53zm-5 49zm4 81zm-4 131zm4 379zm12-119zm1-243zm7-244zm1 321zm9-112zm29 120zm11 116zm24-233zm-3 80zm13-139zm12 105zm10-27zm31-39zm16-3zm20 82zm11-32zm23 21zm410-111zm16-22zm2 70zm1-43zm21 87zm1-31zm0-7zm0-10zm8-18zm-6-3zm4-47zm-4-2zm-2-43zm19 34zm-6 109zm3 23zm6 34zm-8 14zm0 32zm12-18zm1-49zm-3-73zm2-19zm0-1zm-2-26zm2-9zm8-74zm12-3zm-2 147zm-3 36zm4 42zm-5 16zm0 15zm-2 5zm16-18zm-2-21zm-3-19zm1-71zm2-10zm-4-116zm21 36zm-1 73zm3 54zm-3 58zm8 4zm-2-117zm7-25zm1-75zm-1-45zm-2-7zm-2-3zm18 20zm-6 53zm-5 7zm8 9zm3 43zm-6 150zm-3 7zm6 18zm0 5zm15 51zm-9-31zm0-122zm7-11zm-3-179zm-1-14zm11 67zm1 20zm-2 7zm1 274zm-2 36zm19-14zm-3-9zm-6-65zm0-12zm5-39zm-4-36zm4-37zm0-35zm-1-24zm0-9zm6-30zm-1-5zm-9-35zm12 16zm9 155zm2 82zm-1 6zm-10 39zm8 11zm-3 32zm17-53zm-6-122zm6-38zm-5-5zm6-40zm-11-39zm21-62zm-8 9zm5 16zm-3 19zm-1 81zm3 150zm4 31zm12-84zm-5-19zm0-5zm7 0zm-11-31zm6-83zm-5-2zm-1-31zm21 54zm-9 79zm11 55zm2-16zm-1-120zm3-31zm-1-5zm3-25zm-1-36z"/>
<path stroke="#460a5d" d="M1958 1928zm11-75zm29 476zm14-362zm4-115zm26 408zm10-75zm16 138zm-2 8zm7 76zm9 82zm15-463zm-2 219zm48-724zm0 312zm46 210zm-2 137zm31-195zm27 252zm22-329zm-9 149zm14 97zm-4-210zm36 313zm55-175zm9-60zm96-107zm412-25zm27 69zm-2-90zm31 210zm14-108zm-4-68zm16 130zm-2 10zm44-251zm8 253zm-3 55zm9-25zm0-158zm8-122zm-7-12zm11-7zm0 50zm9 244zm-11 16zm9 76zm12-102zm7-278zm-3 175zm5 41zm16 46zm3-285zm-1 53zm18 263zm3-57zm-1-117zm13-92z"/>
<path stroke="#443b84" d="M1883 2136zm8 90zm25-135zm30-21zm12-201zm14 165zm-1 282zm4 15zm6-136zm4-23zm5-212zm-4-52zm9-89zm3 239zm2 228zm14-324zm13-210zm-11 6zm2 148zm6 155zm14 9zm-10-1zm13 210zm10 96zm-9 36zm7 5zm9-159zm-4-401zm3-7zm8 213zm7 168zm-5 90zm32-308zm9-133zm-2-141zm13 680zm12 19zm-7-660zm7-44zm-3-95zm4-115zm5 220zm3 48zm7 142zm12 305zm0-86zm-7-441zm0-166zm19 55zm-5 163zm-6 210zm5 203zm4 34zm-7 273zm13-107zm7-6zm-5-589zm-4-232zm2-12zm-2-19zm13 4zm-2 18zm8 16zm-6 566zm0 24zm14 120zm-2-378zm9-73zm-7-120zm-4-177zm4 0zm15 85zm4 141zm-5 287zm0 141zm15 215zm1-75zm-7-694zm-1-1zm12-5zm20 708zm-10-62zm2-332zm-2-145zm13 393zm11 19zm0-343zm14-58zm-1 39zm12 186zm12 71zm7 76zm15-155zm8-78zm12 123zm0-118zm7 109zm30-87zm-1 68zm23 81zm438-195zm26-13zm12 15zm4 19zm13 66zm1-31zm9-113zm-1 54zm12 81zm6-45zm1-32zm-11-6zm16-82zm3 34zm-6 1zm7 68zm-6 9zm2 35zm-4 6zm10 6zm-10 37zm9 5zm2 45zm9 14zm-1-89zm-1-18zm2-19zm-5-160zm16 56zm3 25zm-7 164zm10-73zm8-2zm1-10zm-5-28zm0-37zm-1-21zm1-38zm5-33zm8 5zm2 38zm-6 22zm9 48zm-1 137zm-3 7zm3 28zm13 42zm-1-5zm-4-3zm-3-19zm8-121zm-10 0zm7-49zm-2-5zm1-30zm3-91zm3-9zm8 22zm-5 76zm6 0zm-6 17zm3 84zm-2 87zm5 72zm4-5zm-2-105zm3-46zm2-30zm-1-2zm1-58zm6-43zm-1-4zm10-51zm-1 11zm3 7zm0 107zm-2 30zm-7 2zm8 136zm-5 23zm11 45zm0-27zm4-19zm-1-1zm-2-18zm-1-65zm8-2zm-5-12zm0-67zm-2-20zm0-9zm4-33zm-4-99zm14-9zm-3 36zm2 34zm-3 1zm3 47zm-1 10zm15 194zm-1-16zm2-60zm-7-4zm1-55zm-1-13zm2-12zm20-174zm-8 85zm8 11zm-4 18zm-2 132zm-5 41zm5 36zm9-23zm5 0zm-3-15zm2-11zm3-138zm4-109zm7 4zm-3 25zm3 88zm-4 21zm1 36zm-1 60zm7 27zm-5 2zm-4 4zm15-258z"/>
<path stroke="#238a8d" d="M1864 2113zm20-97zm12 73zm0 51zm6 29zm9 40zm0-21zm16-206zm4 43zm-9 16zm13-70zm11 68zm3 50zm4 128zm6 64zm6-441zm8 69zm16 324zm1-22zm-3-40zm-5-27zm15-343zm1 372zm-2 105zm-3 61zm2 62zm18 14zm-8-90zm1-98zm2-189zm15-9zm0 41zm-4 85zm8 130zm3 99zm5-73zm-7-173zm2-236zm6-138zm6-59zm-2 137zm9 63zm-4 571zm9-171zm6-98zm-2-100zm3-283zm-7-106zm6-24zm4 158zm0 396zm20 3zm-6-226zm1-102zm6-70zm-1-13zm9-200zm1 109zm-2 29zm3 77zm-1 654zm15-600zm1-81zm5-240zm-3 50zm11 174zm-6 688zm18-76zm-8-34zm8-509zm-11-200zm20 268zm-1 168zm2 228zm-9 38zm6 63zm9 46zm24-42zm8-62zm-11-147zm8-18zm0-43zm0-209zm15-212zm-5 48zm4 260zm-7 200zm15-57zm-3-289zm1-69zm7-289zm3 196zm4 293zm2 67zm-8 89zm1 178zm19-128zm-3-142zm-4-22zm15-485zm1 242zm-1 596zm15-157zm-6-159zm2-39zm13-211zm7 109zm-6 20zm-1 239zm16 54zm-6-182zm8-62zm-5-152zm9-150zm1 498zm1 29zm15-62zm-3-93zm-3-328zm22 67zm-9 299zm11-209zm16 134zm-2 166zm15-182zm26 74zm26-120zm6 90zm12-161zm13 85zm21-21zm464-80zm-6 5zm16 116zm15-216zm-11 22zm0 88zm30-96zm12 144zm3-77zm-8-28zm10-93zm7 129zm16 199zm1-262zm-4-2zm13 40zm-3 118zm7 116zm3-157zm-3-110zm12-52zm19 198zm-6-67zm8-13zm-7-5zm15 159zm-3 41zm18-79zm2-62zm6-34zm7 25zm-6 113zm9-122zm19-109z"/>
<path stroke="#8bd646" d="M1857 2189zm14-102zm1 73zm9 126zm14-53zm0-88zm-4-12zm0-34zm1-41zm1-24zm7 25zm6 98zm-4 40zm-6 20zm6 6zm5 38zm-3 17zm-2 22zm1 52zm7-18zm1-124zm5-118zm1-19zm1-59zm-9-82zm13 1zm-1 100zm-1 7zm10 20zm-4 151zm0 21zm-6 162zm12 15zm4-75zm3-248zm-4-2zm0-96zm8-47zm-11-7zm23-26zm-5 25zm-4 3zm-1 185zm0 7zm10 49zm-11 20zm6 8zm-1 106zm3 77zm-3 1zm-1 46zm16-1zm-2 0zm-4-32zm-1 0zm8-202zm2-5zm-9-36zm3-4zm-2-198zm4-5zm4-74zm6-51zm-1 69zm2 85zm3 22zm0 46zm-7 131zm3 6zm12 276zm4-9zm-3-80zm-3-12zm5-59zm-2-11zm0-131zm4-22zm0-107zm-2-61zm3-2zm-1-33zm-7-109zm15 55zm-4 222zm3 26zm15 373zm-6-50zm1-2zm-1-63zm5-28zm-7-30zm3-73zm-2-115zm0-49zm6-12zm3-102zm-4-20zm-5-97zm5-3zm11-94zm0 178zm4 4zm-4 218zm5 92zm-2 10zm-1 35zm-2 15zm-5 84zm11 6zm-4 36zm5-46zm5-134zm5-71zm-2-83zm-2-49zm-6-84zm2-37zm-1-85zm8-44zm4-70zm1 112zm8 56zm-4 94zm-4 37zm7 12zm-3 169zm4 7zm0 52zm-5 151zm3 38zm1 20zm3 27zm9-78zm1-107zm-6-22zm3-2zm3-72zm1-60zm-11-7zm6-11zm-5-15zm1-111zm5-15zm0-33zm2-9zm-4-103zm-2-128zm9-27zm1 95zm2 85zm5 13zm3 82zm0 18zm-1 23zm-6 58zm-4 26zm3 56zm8 73zm-4 90zm4 60zm-9 8zm-2 24zm7 91zm10-38zm5-29zm-10-14zm9-2zm-5-18zm-4-4zm9-3zm-9-22zm2-88zm4-29zm-2-106zm7-73zm-9-13zm9-27zm-11-138zm11-84zm-8 0zm3-14zm2-81zm12 17zm-3 62zm6 3zm-3 1zm2 12zm-3 32zm0 54zm1 17zm-6 57zm1 51zm6 54zm-5 44zm1 9zm-3 27zm2 78zm-1 26zm3 31zm-5 57zm10 24zm8 77zm0-21zm0-18zm3-73zm-9-147zm3-86zm2-87zm-3-111zm2-4zm2-26zm2-3zm-1-83zm-4-132zm13-86zm-1 423zm2 17zm3 27zm-5 32zm-2 95zm1 1zm3 276zm0 31zm12-24zm2-1zm-5-53zm0-15zm5-2zm3-67zm-6-14zm-4-64zm6-129zm-2-50zm4-13zm-1-30zm2-78zm-6-85zm6-72zm-2-42zm1-56zm0-13zm-4-30zm17 1zm-4 72zm2 1zm3 14zm-7 32zm-2 112zm7 11zm2 8zm-2 29zm-6 5zm5 29zm1 15zm-1 41zm1 35zm-9 59zm10 59zm-3 128zm0 104zm1 24zm-8 22zm5 12zm7-54zm5-31zm3-66zm-1-25zm1-35zm-7-14zm3-44zm5-84zm1-23zm-6-34zm4-63zm0-69zm-7-110zm3-7zm0-1zm-1-70zm3-47zm13-19zm-5 36zm7 16zm2 5zm-6 49zm-2 19zm-1 22zm-1 22zm5 39zm4 105zm-3 109zm-5 51zm-2 29zm7 22zm-2 16zm-4 15zm4 78zm2 71zm0 1zm2 45zm0 4zm-3 17zm7 9zm6-81zm3-12zm-7-48zm-1-297zm-1-74zm9-118zm-10-134zm21 16zm-8 19zm10 34zm-3 40zm3 100zm-3 57zm-3 12zm-3 58zm5 19zm3 120zm-8 198zm7 6zm-5 45zm14 5zm-5-19zm1-10zm-1-3zm10-22zm-8-21zm5-43zm-4-56zm-3-6zm9-16zm-1-9zm-7-228zm1 0zm7-59zm-8-5zm-1-10zm1-11zm3-44zm5-67zm-3-69zm6-15zm6 59zm3 3zm1 70zm-5 11zm-2 121zm2 62zm-5 41zm7 32zm-2 17zm-2 3zm7 27zm-4 7zm-1 5zm4 11zm-2 81zm-1 29zm-5 26zm1 59zm9 51zm10-79zm-9-11zm4-232zm-1-236zm5-40zm-4-98zm4-2zm5-61zm6 86zm-5 22zm5 4zm-3 0zm5 15zm-5 22zm4 131zm0 11zm-9 1zm1 68zm6 128zm1 27zm-7 74zm6 97zm5-7zm3-19zm-3-4zm3-21zm1-149zm1-76zm-5-68zm10-9zm-6-26zm0-105zm-3-26zm7-119zm11 172zm-4 59zm8 122zm-7 6zm2 65zm-4 5zm8 51zm-9 38zm11 126zm8-65zm-5-9zm0-72zm6-79zm-6-236zm0-137zm3-4zm0-29zm15 164zm-9 14zm8 32zm-2 156zm-5 12zm8 46zm-6 49zm6 84zm2 30zm6 32zm-4-86zm9-6zm-8-1zm3-10zm1-10zm-1-9zm0-8zm-4-40zm6-31zm-3-6zm-2-90zm3-206zm0-23zm-4-9zm4-2zm17 28zm-4 119zm0 77zm-5 64zm7 2zm-4 16zm7 39zm-9 47zm13-2zm-1-72zm1-4zm2-34zm-4-76zm-1-49zm17-25zm5 13zm-6 47zm6 4zm-9 43zm7 4zm-7 44zm9 7zm0 52zm-4 0zm5 58zm-2 27zm11-78zm-6-70zm8-78zm-9-53zm4-61zm11 1zm5 32zm1 0zm-10 53zm11 60zm-6 25zm4 17zm-7 17zm6 11zm-1 9zm0 34zm6-5zm-1-66zm9-21zm5-57zm0 37zm0 16zm2 8zm2 0zm1 12zm2 20zm6-69zm5-36zm8-49zm-3 9zm2 24zm-2 14zm2 64zm14 45zm-1-47zm4-42zm4-30zm8 42zm-5 6zm22-43zm3 54z"/>
<path stroke="#50c46a" d="M1861 2160zm7-37zm10-13zm0 14zm-1 1zm3 54zm13 146zm2-129zm-1-5zm1-48zm-3-4zm2-20zm-4-111zm3-19zm8-75zm-4 98zm7 118zm1 13zm-6 29zm9 216zm3-15zm5-52zm2-2zm-10-14zm3-49zm0-134zm16-110zm0 77zm-3 5zm2 31zm-6 60zm11 7zm-11 46zm1 53zm-1 13zm9 20zm-2 28zm2 81zm13-59zm-6-40zm-4-58zm6 0zm5-7zm-3-11zm-2-70zm2-49zm-3-35zm-3-30zm1-36zm-2-39zm6-43zm-7-34zm22 32zm-9 7zm0 7zm9 87zm-10 62zm6 98zm4 25zm1 114zm0 33zm-11 55zm14-30zm9-13zm-5-138zm-4-70zm6-16zm-6-115zm5-1zm-6-48zm8-21zm-5-3zm-4-37zm4-8zm5-58zm8-53zm6 74zm-11 26zm3 83zm0 117zm-3 165zm1 9zm1 55zm2 29zm1 1zm18 40zm-8-52zm-1-75zm0-85zm5-29zm1-74zm2-1zm-6-25zm-2-10zm8-33zm1-71zm-8-32zm3-48zm-5-67zm17 3zm0 17zm0 54zm3 44zm-7 82zm3 118zm6 21zm-2 74zm1 167zm0 7zm-10 67zm21-11zm-1-66zm3-2zm-3-11zm-8-54zm1-1zm3-44zm1-15zm-4-19zm-1-13zm11-2zm-2-49zm-3-1zm0-37zm-4-45zm-2-21zm1-55zm8-16zm-1-15zm-3-65zm-3-33zm9-11zm0-62zm-2-17zm-2-70zm16 48zm-7 101zm1 5zm3 81zm-4 10zm3 53zm-2 92zm5 10zm0 62zm8 171zm3-135zm-5-24zm4-67zm-1-132zm0-79zm-7-7zm5-7zm5-63zm1-92zm5-10zm5 136zm-1 86zm2 55zm-10 53zm9 1zm-8 32zm1 54zm2 29zm-4 31zm10 28zm-3 17zm-6 1zm0 190zm11-96zm10-45zm-3-81zm2-8zm-2-115zm2-86zm0-168zm-1-9zm2-20zm-7-3zm9-73zm10 103zm-5 65zm3 109zm-1 115zm2 41zm-8 112zm5 47zm2 95zm3 1zm9-16zm-2-29zm1-61zm3-39zm-4-10zm-3-126zm8-40zm-11-103zm8-5zm-5-43zm8-73zm-3-56zm2-62zm1-10zm-8-35zm-2-24zm1-8zm18-2zm-2 192zm-1 141zm3 5zm-8 39zm8 51zm-6 6zm-1 120zm1 10zm9 54zm-3 49zm-6 55zm1 4zm19-101zm-6-109zm6-53zm-7-21zm-2-97zm3-9zm3-15zm-1-99zm-4-32zm5-57zm-2-8zm5-11zm-10-25zm1-184zm15 194zm6 11zm-8 78zm4 24zm3 120zm-8 14zm8 63zm-9 53zm7 9zm2 18zm-1 37zm-7 3zm5 36zm0 56zm5 17zm-11 10zm5 33zm5 3zm-1 55zm4-48zm2-35zm3-97zm4-23zm-9-25zm8-74zm-4-27zm-3-38zm1-10zm5-69zm-7-2zm9-17zm-6-30zm6-37zm-10-40zm4-21zm1-15zm6-2zm-11-20zm8-209zm7 146zm-2 30zm6 1zm4 194zm-10 27zm-1 97zm6 9zm3 13zm-5 111zm5 56zm2 17zm-7 9zm18 134zm-2-31zm-5-11zm3-5zm2-57zm3-59zm-4-86zm4-22zm-11-83zm4-37zm-1-54zm4-130zm-6-78zm5-20zm2-47zm-4-15zm-4-6zm2-34zm7-103zm13 20zm-8 21zm0 91zm9 78zm-1 86zm1 11zm-3 29zm0 111zm-2 16zm5 19zm-8 79zm5 58zm3 21zm-5 39zm-3 31zm2 27zm6 9zm-4 25zm-7 133zm16-21zm-4-56zm0-110zm4-49zm-3-8zm-1-116zm2-44zm9-7zm-11-117zm2-99zm9-8zm-10-22zm5-6zm-6-44zm5-51zm-2-117zm12-12zm8 182zm-4 167zm4 63zm0 33zm-4 198zm-1 5zm4 3zm-4 21zm1 47zm7 65zm1-85zm6-15zm-7-15zm9-108zm-9-53zm-2-123zm1-4zm1-108zm7-2zm-2-249zm3-3zm-6-16zm8 81zm11 5zm-11 2zm5 45zm5 50zm-5 75zm5 50zm-8 131zm5 17zm-5 23zm8 94zm-9 60zm2 63zm-3 14zm11 32zm-3 29zm5 26zm10-266zm0-7zm0-98zm-11-34zm8-49zm0-46zm-5-102zm5-115zm11 72zm-1 21zm5 31zm-8 4zm-1 57zm8 84zm-8 64zm3 43zm6 59zm0 8zm-1 3zm0 139zm-6 1zm-3 40zm10 88zm1 4zm8-152zm-7-90zm5-21zm5-56zm-8-1zm6-82zm2-25zm-1-29zm-3-30zm-6-3zm-1-3zm0-19zm0-73zm5-82zm15 81zm-4 5zm6 42zm-8 69zm-2 109zm10 22zm-5 125zm5 8zm0 136zm12 68zm-2-77zm2-48zm-3-45zm2-33zm-2-20zm2-42zm0-8zm-2-107zm-2-37zm4-113zm-1-9zm-7-2zm15-89zm-3 44zm8 33zm-8 31zm10 27zm-11 48zm6 20zm2 56zm-5 44zm-3 91zm9 1zm-1 41zm-2 142zm17-72zm-6-171zm0-189zm11-103zm2 283zm-6 9zm10 29zm-4 155zm6-61zm5-174zm7-134zm0 34zm8 80zm0 122zm-4 14zm2 16zm11-23zm1-4zm-5-93zm5-30zm5-68zm6-37zm2 9zm-2 14zm1 16zm5 18zm-11 47zm5 43zm-2 27zm19 67zm-1-209zm-5-7zm13-22zm0 72zm6 34zm-5 2zm9 71zm1-29zm-4-69zm7-26zm1-8zm0-16zm2-11zm4-16zm6 58zm-3 5zm4 40zm-7 18zm19 23zm-5-39zm-3-15zm6-7zm-1-5zm-4-20zm0-49zm18 102zm-8 18zm8 12zm8-11zm1-86zm16 13zm-7 76z"/>
<path stroke="#1fa287" d="M1867 2247zm-5-95zm12 45zm16 102zm12-56zm10 70zm-2-85zm3-127zm4-42zm-9-95zm6-7zm8-7zm17 201zm4-226zm9-57zm0 34zm2 17zm-3 143zm-4 87zm7 25zm0 13zm-2 44zm1 18zm2 116zm8 12zm-2-410zm13 2zm-4 49zm0 119zm7 131zm1 151zm4-266zm-1-59zm3-4zm-4-191zm20 573zm14-242zm-4-221zm0-178zm-5-25zm17 153zm-5 368zm0 36zm0 98zm17-107zm-2-127zm4-358zm1-25zm4-84zm8 64zm-8 160zm3 105zm-4 27zm5 109zm6 70zm-7 49zm2 21zm-6 86zm15 28zm4-300zm-2-75zm8-223zm10 211zm-6 66zm4 9zm-5 218zm7 131zm1-65zm8-60zm-5-63zm-3-176zm1-75zm10-291zm2 31zm1 164zm2 68zm4 263zm1 155zm3-185zm11-360zm0-289zm4-45zm-1 114zm9 87zm-1 313zm-2 371zm5-58zm1-33zm9-208zm-4-246zm-4-77zm13-52zm-3 294zm6 114zm0 30zm16-40zm-10-11zm3-162zm1-229zm8-103zm9 20zm0 90zm-8 139zm9 79zm-5 3zm-5 5zm7 72zm9 77zm2-5zm2-83zm-6-20zm-3-8zm8-7zm2-25zm-9-7zm6-30zm-6-78zm0-26zm0-306zm13 257zm-1 176zm6 49zm-7 123zm9 135zm4-7zm10-196zm-7-134zm6-140zm-4-186zm7-20zm8 162zm-5 327zm15 210zm-4-171zm5-26zm-8-39zm9-327zm9 107zm3 32zm-9 147zm19 299zm3-111zm-8-5zm7-263zm1-127zm-1-18zm8-130zm3 54zm13 595zm0-136zm0-494zm7 105zm1 79zm3 25zm-2 27zm-6 238zm18-168zm-4-204zm19 173zm1 161zm7-31zm-4-259zm17 224zm-4 109zm21-202zm-1-12zm-7-65zm14 11zm1 34zm-5 48zm8 27zm-7 150zm20-82zm-3-87zm3-63zm12 50zm1 10zm0 1zm10 0zm-1-15zm14-42zm-9 17zm8 69zm1 3zm12 10zm-5-14zm-2-58zm7-35zm6 17zm10 82zm22-41zm446-76zm18 15zm27-91zm2 92zm29-143zm1 7zm-6 297zm20-295zm8 160zm24 115zm11-24zm8 53z"/>
<path stroke="#481c6e" d="M1936 2360zm18-371zm6 283zm1-290zm15 106zm2 172zm7-155zm3-314zm21 585zm-3-1zm4-141zm-1-49zm11 248zm9-152zm4-56zm6-132zm-7-118zm13 118zm10 126zm11 186zm20 91zm1-203zm-7-88zm0-437zm22 558zm7-431zm28-36zm10 142zm-5 418zm12-120zm5-214zm11-558zm-1 486zm6 321zm-3-94zm16-704zm4 849zm8-341zm20 398zm5-307zm4-110zm6 126zm-2 23zm28-187zm3 170zm26-278zm4 174zm33 105zm23-30zm10-269zm4 286zm54-134zm469-106zm17-5zm2 73zm24-146zm5 72zm-7 12zm7 24zm-3 39zm2 14zm1 21zm6-24zm7-32zm2-17zm-8-42zm2-8zm16-68zm0 44zm-4 62zm3 26zm4 33zm8-150zm-7-11zm5-29zm8 118zm4 24zm-3 26zm-1 15zm6 66zm4 55zm8 47zm-3-5zm3-12zm-2-79zm0-13zm-4-11zm6-51zm3-10zm-6-80zm-4-13zm7-74zm5-32zm4 34zm1 106zm-5 16zm11 7zm-10 18zm5 33zm-2 79zm2 8zm4 12zm-9 69zm11-128zm11-46zm-3-20zm3-35zm-9-32zm3-11zm10-56zm5 8zm-7 206zm1 72zm15 63zm5-10zm-10-18zm10-16zm-8-12zm4-52zm4-230zm-3-19zm1-16zm12-16zm2 20zm-8 23zm4 4zm4 134zm-3 154zm-1 32zm13-380zm8 103zm-2 43zm0 33zm13 135zm1-11zm-3-29zm4-106zm1-30zm-5-115zm13 8zm2 91zm7 120z"/>
<path stroke="#472d7b" d="M1882 2205zm22-203zm-4 104zm3 99zm16-11zm-11-19zm2-49zm54 133zm5-375zm0 147zm16 348zm9-540zm7 171zm3-68zm22 24zm-8 45zm9 114zm-4 19zm1 273zm0 17zm13-158zm-8-187zm9-1zm-3-289zm10 374zm16 9zm-8-385zm13 179zm5 198zm4 125zm-1 26zm11-58zm-6-306zm15-15zm-1 291zm6 43zm-10 47zm11-95zm1-226zm3-275zm9 225zm12 306zm0-183zm5-119zm4-68zm3-361zm9 10zm3 953zm8-63zm1-186zm-10-207zm3-500zm9-16zm5 598zm14 303zm-4-359zm17-552zm-8 547zm19 262zm-7-51zm2-140zm9-123zm0-481zm11 101zm21-9zm16 586zm-3-234zm3-377zm10 187zm2 185zm-10 232zm10 42zm2-162zm-1-13zm0-78zm9-119zm-2-124zm15 329zm3 243zm8-334zm6 88zm19-114zm5 60zm16 112zm3-124zm-7-72zm6-15zm16 32zm27 46zm31 63zm2-105zm20 33zm-9-29zm12 28zm456-96zm0 8zm2 45zm7 1zm-6 11zm3 16zm-4 18zm14-70zm3-10zm2-3zm11-59zm-1 65zm-6 2zm3 29zm3 9zm0 23zm6 98zm6-44zm-2-3zm5-58zm-5-130zm-2-40zm12 4zm5 22zm2 7zm-7 58zm0 29zm-1 82zm1 0zm1 51zm16 66zm-8-15zm2-12zm7-19zm2-7zm-2-34zm-8-7zm6-93zm4-7zm-3-14zm-2-53zm1-56zm3-8zm7 178zm5 9zm1 3zm0 17zm-4 8zm0 6zm-3 3zm4 6zm-4 66zm-4 0zm2 40zm9 26zm12-71zm-1-100zm-10-41zm1-38zm3-10zm-1-44zm4-14zm6-68zm9 27zm-8 12zm-2 4zm3 40zm0 22zm5 5zm-3 79zm-1 95zm4 13zm0 5zm-4 17zm1 22zm-2 1zm5 14zm-5 9zm1 13zm18-62zm-10-34zm7-22zm2-4zm-2-39zm1-16zm0-19zm-3-7zm5-45zm1-13zm-8-36zm5-57zm14-10zm1 84zm-8 58zm7 106zm1 48zm-8 19zm1 19zm0 13zm11 34zm3-25zm-6-103zm1-56zm10-30zm-1-106zm1-10zm5-51zm7 23zm-6 80zm2 47zm-7 36zm0 23zm10 141zm-5 13zm8-57zm5-29zm5-2zm-3-3zm3-86zm-3-8zm-6-32zm5-122zm-3-28zm13 29zm2 32zm4 255zm10-70zm-7-78zm5-67zm8-38zm-1 1zm2 71zm-2 7zm2 28zm3 44zm-7 74zm14-34zm5-188z"/>
<path stroke="#31668e" d="M1914 2104zm14-174zm-6 148zm31-72zm3 198zm5-117zm13-137zm9 457zm6-156zm-2-20zm7-341zm2 14zm7 313zm-8 223zm18-62zm0-196zm-4-86zm4-53zm-1-224zm-6-38zm11-50zm5 261zm-1 136zm-2 311zm20 55zm-1-96zm0-124zm-4-407zm7-135zm7 65zm3 53zm-11 248zm6 11zm5 38zm-5 225zm14 72zm-6-447zm1-269zm19-40zm1 635zm-11 3zm11 138zm5-52zm3-154zm2-172zm-4-240zm15-34zm-7 62zm6 256zm-2 102zm2 177zm9-159zm5-42zm-8-54zm9-6zm-9-318zm2-12zm0-25zm8-59zm5-45zm1 204zm-1 7zm-1 10zm8 33zm3 448zm2-151zm-2-17zm6-209zm-3-25zm-3-345zm6-28zm-6-35zm-2-44zm15-5zm6 2zm-6 89zm2 686zm1 142zm9-204zm7-50zm-6-348zm0-129zm7-111zm-7-95zm13 21zm5 553zm-6 311zm9-1zm9-53zm-1-168zm-9-161zm11-348zm-5-77zm2-60zm6 332zm1 233zm6 139zm-3 70zm-5 119zm18-153zm0-418zm-3-265zm14 244zm-3 179zm6 2zm-8 314zm19-376zm-5-252zm17 168zm-3 271zm-4 12zm-1 232zm12 29zm10-102zm-7-217zm16-334zm-3 199zm0 226zm14 49zm-4-149zm11-87zm0 10zm33-192zm1 128zm-1 11zm-2 290zm11-217zm13 20zm20-14zm26 6zm13-72zm10 13zm7 31zm8-48zm7 78zm435-153zm51 19zm-6 19zm6 5zm-6 21zm3 7zm12-24zm14-38zm-4 131zm12-41zm6-54zm8 41zm4 97zm5-95zm3-29zm-6-16zm5-26zm11-89zm4 98zm-8 157zm19 59zm1-46zm-3-241zm-5-17zm2-60zm21 110zm-1 213zm8 76zm5-80zm-4-10zm1-60zm-3-45zm2-100zm-5-48zm10 27zm7 123zm-1 17zm2 68zm13 48zm-7-106zm7-5zm0-79zm13-23zm0 94zm-6 129zm-1 12zm14-203zm-2-26zm3-117zm11 126zm2 104zm-7 7zm4 61zm11-202zm0-81zm19 191zm-10 24zm13-57zm0-76zm7-37z"/>
<path stroke="#8bd646" d="M1867 2130zm-2-4zm2-47zm9-19zm-1 81zm1 65zm10 100zm7-209zm-6-36zm5-25zm15 52zm-10 3zm4 10zm6 12zm0 18zm-10 85zm4 83zm16 81zm-8-94zm7-65zm3-26zm-3-142zm2-30zm-7-10zm4-123zm11 78zm-5 44zm5 124zm-6 18zm21 273zm-4-106zm-2-41zm3-28zm3-22zm-6-2zm8-44zm-11-9zm10-100zm0-65zm-7-15zm2-58zm18 53zm-3 4zm-4 0zm6 11zm-4 64zm-2 182zm-4 30zm11 2zm-9 25zm5 10zm-1 5zm15 127zm2-2zm-2-204zm-8-50zm3-28zm7-68zm-6-2zm-5-50zm2-38zm-1-29zm5-5zm-4-25zm-2-21zm1-57zm13 1zm4 32zm2 86zm-6 10zm9 36zm-3 137zm-7 7zm6 12zm1 21zm-8 60zm1 38zm17 155zm5-7zm-1-71zm-6-10zm-1-52zm-3-14zm8-36zm-1-30zm-1-152zm4-91zm1-7zm-10-33zm1-1zm7-50zm14-42zm-10 93zm2 34zm-3 1zm6 173zm5 16zm-6 9zm2 13zm-6 20zm2 47zm2 45zm-2 21zm6 8zm-1 44zm15 25zm-4-208zm-4-23zm0-18zm-1-13zm-1-17zm10-3zm-10-59zm10-43zm-6-129zm-2-27zm-3-72zm1-53zm13-25zm3 11zm-2 15zm3 37zm5 37zm-2 50zm-7 7zm1 6zm-1 2zm0 47zm-2 10zm4 7zm5 58zm-6 125zm-1 9zm9 133zm-7 77zm7 34zm8 102zm3-15zm-7-114zm3-40zm-2-86zm4-80zm-6-132zm8-109zm-8-48zm-2-128zm19 9zm2 36zm-7 47zm1 31zm3 108zm-5 5zm10 53zm-2 9zm-7 61zm-2 64zm7 22zm2 225zm-9 37zm9 19zm-7 2zm2 11zm0 2zm16-29zm-3-101zm5-2zm1-16zm-10-132zm6-148zm1-40zm-4-6zm-1-45zm1-14zm3-96zm-3-9zm1-14zm2-26zm12-39zm3 61zm-7 6zm1 108zm0 107zm-3 11zm6 2zm4 204zm-5 41zm-6 98zm5 37zm0 46zm12-20zm-4-37zm1-85zm5-230zm4-39zm-11-14zm3-31zm4-21zm-1-170zm17-150zm-4 100zm0 22zm-7 19zm1 112zm-1 10zm10 52zm-3 11zm-3 19zm4 52zm-7 97zm3 14zm-3 46zm5 34zm3 1zm-6 73zm8 4zm-10 29zm9 11zm-10 14zm6 8zm5 62zm-11 30zm20-164zm0-136zm3-2zm-8-65zm8-31zm-2-67zm-8-59zm5-29zm0-24zm-2-53zm4-58zm-2-15zm-1 0zm2-109zm9 12zm5 101zm-5 43zm-4 32zm7 141zm3 3zm1 1zm-1 91zm-1 53zm1 3zm0 319zm3-8zm3-8zm2-27zm-3-91zm0-79zm-1-15zm9-6zm-11-59zm11-9zm-9-83zm-2-220zm10-3zm-3-15zm-3-8zm0 0zm7-40zm-10-31zm10-5zm-10-54zm1-159zm0-11zm16 30zm1 145zm-7 8zm1 4zm8 3zm-2 51zm-2 81zm-3 9zm2 41zm-2 24zm3 164zm3 227zm-2 3zm-2 73zm4 1zm-3 59zm7 10zm7-65zm4-34zm0-82zm-1-28zm-6-94zm5-23zm-7-92zm1-45zm7-7zm0-42zm0-17zm0-30zm-4-8zm4-39zm1-98zm-6 0zm7-172zm10 59zm-1 4zm-1 42zm-2 33zm1 30zm1 53zm-3 138zm6 65zm-5 48zm5 211zm-4 9zm-7 0zm3 2zm-1 37zm3 83zm12-16zm-5-44zm7-5zm2-92zm1-16zm-3-28zm4-43zm-10-2zm3-21zm-3-53zm8-268zm-8-96zm9-110zm-1-2zm12-50zm1 30zm1 88zm0 64zm-10 60zm4 44zm-5 8zm10 14zm-1 20zm2 114zm-3 10zm-7 33zm5 16zm4 88zm-4 85zm-3 13zm7 16zm-10 94zm9 13zm-6 7zm2 23zm-1 22zm11-26zm7-28zm1-93zm-2-34zm-5-4zm5-18zm-5-226zm3-9zm2-6zm0-27zm-7-66zm4-32zm4-62zm0-19zm1-161zm1-47zm7 136zm-2 51zm-1 25zm3 53zm-5 151zm4 32zm5 9zm-7 37zm-4 120zm5 26zm2 107zm-6 16zm4 3zm14 37zm-4-23zm7-1zm-2-16zm0-19zm-6-43zm6-30zm-4-12zm-2-76zm-1-30zm6-218zm-7-137zm10-6zm7-120zm5 41zm1 43zm-10 128zm10 149zm-3 21zm-6 33zm9 11zm-3 73zm-8 12zm4 21zm-3 2zm10 78zm3 126zm8-37zm1-38zm-11-87zm4-110zm1-94zm4-115zm-7-154zm13-8zm1 52zm3 1zm3 17zm0 77zm-3 56zm2 1zm2 115zm-6 4zm1 56zm3 29zm-9 47zm3 83zm6 54zm13-86zm-4-15zm5-37zm-5-89zm0-9zm5-55zm-4-4zm3-122zm-5-24zm5-137zm10 43zm-5 98zm7 45zm-2 58zm-5 2zm-3 77zm6 171zm-5 6zm2 13zm-2 65zm18-70zm-2-9zm1-34zm5-3zm-3-41zm-3 0zm-5-103zm7-11zm-3-6zm-1-73zm8-59zm-2-28zm-9-9zm3-1zm13 51zm4 37zm1 24zm-9 9zm6 19zm5 6zm-4 38zm-1 38zm2 5zm1 66zm1 70zm-9 6zm15-87zm7-29zm-5-8zm-3-51zm-2-51zm10-1zm-2-44zm-9-43zm3-58zm4-79zm11 117zm-2 14zm4 17zm2 4zm0 145zm-4 19zm-6 9zm3 118zm19-230zm-1-11zm-8-79zm19-1zm0 117zm-4 25zm2 55zm6-61zm3-73zm9-2zm5 68zm0 31zm-4 10zm16 12zm-4-86zm2-20zm3-30zm8-51zm9 25zm0 85zm4-3zm9-96zm2 40zm4 25zm1 46zm8 12zm12-109zm15 50z"/>
<path stroke="#31668e" d="M1857 2113zm40-28zm14 114zm14-250zm6 442zm8-233zm-4-109zm19 284zm4 92zm-1-300zm12-35zm16 242zm-5-20zm0-33zm3-331zm-3-102zm19 104zm1 162zm7 250zm2-188zm-5-44zm10-155zm1-35zm0-207zm12 70zm8 293zm1-24zm2-132zm-5-230zm15 240zm-4 373zm7 92zm1 21zm8-63zm-1-93zm-4-526zm14 134zm-2 506zm12 70zm-3-626zm23-77zm-4 177zm-2 130zm-2 160zm0 9zm7 87zm13-159zm-9-166zm-1-80zm8-103zm7-116zm7 252zm0 129zm-7 11zm4 136zm1 89zm-8 61zm14 27zm8-205zm-3-374zm-2-113zm-4-22zm4-11zm5-170zm3 20zm1 429zm8 209zm7-126zm9-495zm7 187zm-8 298zm4 405zm17-362zm-11-536zm4-20zm8-2zm4 123zm-2 99zm-2 143zm0 89zm8 417zm0 69zm8-308zm7-297zm0 0zm-3-119zm-2-200zm11 60zm1 252zm13 203zm-7-134zm0-84zm26 511zm1-457zm5-79zm15 382zm-5 28zm14-366zm11 178zm-5 207zm19-218zm8-133zm8 300zm20-218zm-3 221zm-1 17zm8-1zm0-90zm6-137zm-4-19zm21 226zm12-241zm51 73zm9 59zm3-25zm438-140zm14 28zm12-77zm5 4zm-1 56zm15 116zm-3-18zm-1-23zm-2-56zm11-15zm-9-44zm20-11zm-1 2zm-1 7zm2 1zm-10 68zm16 111zm15-212zm-6 136zm10 84zm4-29zm7-18zm-9-30zm7-44zm-6-139zm11 196zm-1 82zm15 44zm2-136zm5-33zm-8-66zm-1-26zm16 29zm0 92zm5 170zm4-95zm-2-85zm11-142zm6-64zm3 138zm9 141zm1-15zm2-178zm15 16zm-10 252zm11 23zm11-58zm-5-134zm-1-3zm4-168zm1-8zm12 8zm-8 3zm5 11zm-1 105zm2 176zm9-135zm3-108zm-7-25zm8-4zm5-25zm2 157zm-1 65zm9-150zm3-11z"/>
<path stroke="#addc30" d="M1868 2059zm14 49zm0 93zm0 33zm11 60zm-1-123zm-1-7zm-2-3zm-2-57zm0-15zm15-128zm4 6zm-9 211zm5 30zm2 18zm-6 43zm13-64zm-2-40zm9-10zm-9-144zm10-31zm-2-4zm-3-34zm-4-1zm19-37zm-7 176zm-1 63zm4 12zm5 13zm0 94zm-10 1zm1 21zm1 23zm11 70zm0-33zm7-113zm3-15zm-3-101zm-7-19zm-1-47zm10-126zm7-68zm5 66zm1 2zm0 13zm-5 21zm1 29zm3 194zm-8 6zm7 48zm-9 31zm7 27zm-5 76zm0 37zm13-64zm0-102zm-2-5zm-1-7zm8-6zm-5-24zm-1-78zm9-7zm-9-43zm9-5zm-11-4zm8-157zm11-102zm1 18zm-4 73zm3 45zm-3 69zm1 21zm5 214zm-1 142zm-5 22zm3 16zm6-36zm4-2zm2-65zm3-136zm-3-77zm-6-18zm0-41zm10-10zm-5-151zm4-1zm5-45zm1 58zm0 106zm-4 64zm8 24zm-1 44zm-2 74zm-1 22zm4 16zm-1 3zm2 64zm0 80zm0 7zm1 38zm-7 21zm0 3zm17-29zm-7-77zm10-28zm-9-37zm7-121zm2-63zm-8-49zm-2-66zm6-34zm4-38zm-8-48zm5-9zm0-22zm-3-35zm1-12zm12 69zm2 24zm3 73zm-4 24zm-5 11zm7 70zm2 291zm-4 6zm-1 56zm2 25zm5-60zm4-23zm-1-32zm-4-11zm11-69zm-3-101zm-5-7zm-2-26zm4-19zm6-48zm-7-142zm-1-45zm4-5zm-7-14zm1-12zm3-51zm4 0zm1-51zm6 10zm0 21zm3 0zm-5 0zm2 29zm4 26zm-1 29zm-4 72zm9 47zm-9 156zm5 49zm-7 9zm6 27zm0 90zm0 21zm1 28zm-4 25zm2 38zm-5 28zm16 82zm0-29zm1-74zm5-19zm-7-8zm6-14zm-3-75zm-5-9zm4-37zm-2-44zm-1-17zm2-14zm5-18zm2-23zm-6-70zm4-39zm1-78zm-7-30zm5-55zm-8-5zm4-18zm4-27zm-3-9zm2-1zm0-13zm-5-7zm0-43zm11 76zm8 94zm1 47zm0 4zm0 53zm-2 2zm1 36zm-3 33zm5 7zm-1 33zm-6 37zm6 1zm-10 13zm7 59zm-6 151zm10 51zm-6 53zm16-3zm-8-61zm7-49zm2-75zm-4-32zm-1-21zm3-39zm2-21zm1-55zm0-4zm-4-33zm-2-239zm0-11zm-1-75zm2-7zm1-65zm-5-20zm20 81zm-3 147zm-2 44zm1 81zm2 5zm-7 39zm6 19zm3 16zm-3 37zm4 27zm-4 39zm3 17zm-10 49zm4 32zm-2 19zm7 7zm-4 54zm0 46zm3 7zm2 35zm5-209zm2-12zm-3-22zm2-15zm0-52zm-2-50zm-1-1zm0 0zm5-9zm3-121zm-9-68zm3-70zm3-26zm-2-11zm6-7zm-4-106zm0-25zm15 180zm1 40zm-1 5zm-5 25zm3 15zm1 8zm0 20zm-8 4zm6 34zm-4 77zm5 3zm-2 140zm-2 44zm4 84zm-3 81zm-3 13zm1 25zm12 32zm6-25zm-6-13zm-1-83zm4-68zm4-38zm-5-29zm-3-44zm6-123zm4-24zm-4-81zm-2-50zm-3-23zm8-126zm7-210zm-2 186zm4 79zm0 41zm-1 160zm0 25zm2 26zm-6 4zm1 43zm8 5zm-10 139zm1 13zm4 53zm-4 53zm1 22zm8 10zm-1 38zm9 9zm-1-9zm-2-37zm-2-144zm3-11zm-4-121zm6-36zm2-30zm2-7zm-6-1zm-5-26zm11-165zm-8-26zm-3 0zm8-114zm-4-99zm16 104zm-6 19zm-1 34zm2 4zm4 91zm4 2zm-10 38zm8 23zm-4 73zm-2 60zm8 67zm-6 14zm-4 75zm4 70zm0 7zm-1 47zm3 1zm-5 10zm10-120zm5-71zm6-6zm-6-2zm3-104zm-7 0zm2-80zm8-30zm-1-13zm0-20zm-6-21zm0-59zm-2-2zm5-15zm3-13zm-7-3zm1-86zm3-22zm-6-118zm13 25zm-2 27zm5 101zm0 119zm0 79zm-1 176zm-2 70zm8 2zm-2 23zm-3 121zm-4 24zm1 63zm19 21zm-4-86zm1-17zm-4-20zm5-36zm-2-21zm5-36zm-8-6zm6-98zm-7-13zm3-63zm-2-8zm2-5zm2-169zm2-10zm-8-48zm1-15zm2-101zm8-21zm6 33zm-3 182zm1 5zm8 13zm-4 10zm3 71zm-2 7zm-8 12zm10 26zm-2 17zm-4 14zm2 91zm4 20zm1 28zm-6 110zm4 13zm-2 5zm2 4zm-5 82zm5 21zm13-69zm-8-32zm-1-14zm8-168zm-4-42zm-3-18zm-1-3zm0-36zm-1-1zm1-80zm8-20zm-8-14zm6-38zm-4-57zm-2-29zm8-118zm-6-79zm0-15zm17 84zm-8 39zm5 82zm-2 15zm1 135zm5 60zm-3 43zm1 5zm-6 5zm3 268zm5 13zm1 2zm3-144zm7-10zm-2-146zm-6-109zm2-71zm-1-4zm5-38zm-3-34zm-1-62zm4-35zm10 19zm-2 46zm-2 30zm4 17zm-3 232zm-1 5zm9 9zm-3 58zm1 42zm-1 18zm4 36zm-4 162zm11-77zm6-25zm-11-43zm9-3zm-8-64zm10-59zm-8-53zm2-3zm4-96zm-4-30zm-4-28zm8-4zm-6-28zm2-35zm-4-9zm-1-19zm8-23zm-3-15zm10 129zm3 5zm5 311zm7 124zm0-26zm2-9zm-7-135zm2-18zm6-87zm1-44zm-9-61zm21 20zm-3 27zm-3 20zm-1 25zm-3 47zm8 6zm-2 114zm15 43zm-7-173zm9-24zm-11-41zm9-121zm7 27zm-4 68zm6 19zm-3 45zm0 66zm15 34zm5-13zm-2-60zm2-14zm-5-19zm1-61zm1-3zm3-72zm-7-22zm10 78zm-1 17zm4 25zm15 124zm-6-165zm3-41zm10-2zm-1 25zm4 21zm3 46zm-5 33zm7 6zm7 21zm1-42zm16-77zm0 27zm-11 30zm4 12zm6 33zm13 6zm-3-59zm-1-53zm8 74zm16 73zm-7-129z"/>
<path stroke="#cde11d" d="M1867 2093zm9-88zm-3 80zm6 64zm-1 126zm0 23zm7-147zm6-7zm2-9zm-5-16zm2-118zm17 54zm-3 48zm-7 26zm2 34zm8 79zm3 26zm9-20zm-5-133zm2-66zm-1-5zm-3-60zm10-37zm1 166zm4 19zm4 14zm-8 37zm0 37zm-2 87zm-1 43zm8 18zm-3 17zm17 4zm-5-45zm-2-37zm6-1zm0-8zm-1-34zm-6-41zm-1-42zm8-141zm2-19zm-4-86zm-3-30zm15 115zm4 18zm-2 369zm13-8zm-7-10zm1-85zm0-144zm0-47zm2-38zm-4-62zm5-100zm1-1zm-3-79zm17 35zm-8 46zm1 28zm3 171zm3 101zm-5 40zm3 9zm-3 104zm9-30zm3-158zm0-58zm2-3zm4-104zm-8-15zm2-33zm5-146zm6 95zm2 104zm2 109zm3 25zm1 16zm-9 6zm-1 89zm7 204zm5-29zm0-63zm10-43zm-11-27zm10-3zm-10-50zm7-27zm1-245zm-7-73zm7-133zm-8-9zm8-31zm14 5zm-9 140zm9 55zm1 5zm-4 124zm3 16zm-6 0zm1 139zm-3 49zm4 37zm2 53zm-8 146zm21-32zm-4-87zm-3-107zm-1-14zm2-177zm1-154zm4-56zm4-13zm0 56zm8 28zm-1 105zm-7 38zm5 15zm0 32zm2 105zm-1 70zm1 36zm8 156zm0-160zm3-58zm1-35zm2-6zm2-33zm-3-85zm-8-82zm6-22zm-6-21zm1-46zm10-1zm-7-121zm-3-51zm1-44zm14-12zm-4 17zm3 11zm3 80zm-3 17zm7 6zm-4 48zm-1 192zm-5 4zm1 67zm5 46zm-6 43zm3 59zm3 40zm-2 16zm-3 1zm7 37zm4 97zm5-254zm2-2zm-7-64zm4-33zm-2-203zm9-24zm-1-18zm-7-52zm0-8zm16-76zm-1 23zm-2 14zm7 9zm-3 11zm-2 71zm-6 163zm11 58zm-5 190zm15 178zm2-83zm-10-185zm8-51zm1-129zm-8-30zm3-30zm0-13zm-3-108zm-1-19zm20-41zm-9 59zm0 150zm1 20zm2 274zm-1 8zm2 85zm0 39zm7 18zm12 40zm-5-26zm-5-21zm10-21zm-2-2zm-2-32zm1-104zm-1-34zm0-93zm-3-135zm-4-126zm9-53zm-9-14zm1-157zm6-74zm15 177zm-2 46zm-8 11zm2 25zm-2 2zm11 154zm-8 360zm3 107zm14 0zm-3-152zm-2-91zm7-111zm-2-33zm-8-82zm2-107zm3-61zm13 168zm-3 12zm-2 25zm-1 82zm3 70zm1 100zm4 67zm-3 42zm3 69zm7-61zm5-50zm-6-232zm2-43zm3-17zm1-49zm-1-87zm2-35zm2-84zm12-147zm-9 69zm9 238zm-8 195zm1 10zm1 61zm-3 205zm11-37zm3-47zm7-38zm0-25zm-4-169zm4-55zm-11-5zm5-40zm3-10zm2-100zm-8-14zm8-36zm-5-42zm1-83zm7-95zm0 90zm9 299zm-4 47zm5 129zm-10 87zm3 101zm0 13zm15-150zm-3-13zm2-9zm-4-75zm4-234zm6-92zm2 51zm4 121zm2 31zm-1 215zm-6 3zm20 80zm-4-126zm6-95zm-9-127zm2-40zm-4-57zm4-130zm1-35zm7-29zm5 38zm-3 109zm2 28zm3 111zm4 7zm-8 33zm0 281zm0 71zm2 14zm9-101zm7-23zm-8-18zm3-30zm-2-172zm8-104zm-6-150zm12 291zm-1 138zm1 56zm-2 8zm6 15zm11-10zm1-92zm-4-10zm3-20zm-5-19zm4-215zm-5-33zm2-79zm2-5zm8 310zm6 62zm3 13zm-7 54zm10-101zm3-34zm1-148zm13-63zm13 169zm-7-68zm2-67zm21 31zm-9 16zm8 64zm12 25zm-5-78zm17-2zm-5 49zm5 3zm-8 18zm17-1zm-6-83zm19-62zm-1 100zm1 9zm7 71zm6-98z"/>
<path stroke="#3e4a89" d="M1881 2044zm35 283zm2-76zm1-189zm3-150zm33 131zm-2 177zm11-146zm6-260zm1 210zm18 417zm-9-172zm10-294zm1-5zm-11-100zm12 346zm3 185zm20 82zm-11-224zm1-424zm2-20zm10 381zm45-55zm-3-14zm-3-79zm7-84zm-1-125zm8-114zm0 362zm8 409zm4-18zm-5-211zm7-179zm-5-240zm19 173zm0 135zm5-312zm16 596zm8-191zm-3-315zm11-150zm-5-19zm-1-79zm8 133zm2 652zm20-45zm0-261zm-4-452zm-1-156zm-1-37zm10 284zm7 21zm-5 501zm17-62zm-1-742zm26 749zm-11-80zm6-408zm4-118zm0-38zm11 17zm-6 86zm7 4zm-6 393zm-4 47zm6 252zm12-231zm-2-159zm-4-279zm6-101zm-4-35zm15-2zm1 319zm0 255zm15 38zm0-4zm-4-72zm3-94zm-6-135zm8-57zm0-90zm10-67zm-2 184zm1 129zm3 285zm3-345zm16-103zm3 197zm-5 35zm19-88zm9 29zm0 70zm12-44zm14 114zm8 96zm16-304zm10-3zm-6-49zm30 204zm1-80zm-1-11zm5-32zm21 16zm9-68zm-6 119zm433-170zm33 46zm2-29zm12-33zm9 129zm14 27zm-7-8zm5-9zm-8-1zm4-12zm4-7zm-3-65zm-5-67zm6-20zm1-22zm4 7zm5 8zm5 31zm-8 30zm6 13zm0 2zm-4 24zm3 76zm4 17zm-11 1zm5 4zm2 5zm2 14zm9-16zm-3-26zm7-65zm-2-38zm-5-8zm0-45zm8-12zm7-49zm-2 70zm2 22zm-2 35zm-2 3zm5 36zm6 139zm0-65zm0-19zm-1-9zm1-1zm8-12zm-8-2zm5-53zm5-15zm-3-62zm0-10zm-2 0zm-4-12zm7-7zm11 45zm-3 34zm0 145zm-1 2zm4 32zm6-18zm5-85zm3-53zm-10-70zm3-39zm9 3zm11 2zm-9 4zm2 24zm5 18zm-1 47zm-3 1zm-5 24zm11 9zm-1 42zm-6 22zm4 13zm14 126zm0-65zm-4-10zm-4-10zm7-31zm-7-23zm6-22zm3-5zm-9-4zm3-46zm5-25zm1-53zm0-20zm5-17zm5 15zm-3 23zm3 26zm-2 19zm0 26zm-2 57zm1 80zm-6 6zm11 30zm-8 32zm9 23zm0-22zm11-63zm-1-75zm-9-6zm5-7zm-1-45zm-3-8zm6-7zm-6-9zm0-42zm0-59zm1-6zm4-7zm-1-25zm16 60zm-4 151zm2 28zm-4 7zm5 90zm7-39zm6-128zm-1-34zm-6-162zm16 16zm-3 6zm3 14zm3 71zm-5 9zm-5 56zm3 55zm-1 38zm16 1zm-5-23zm7-30zm0-51zm-7-14zm5-12zm-6-46zm9-10zm12-47zm-7 199zm7 11zm-9 91zm17-177zm-3-52zm0-49z"/>
<path stroke="#38598c" d="M1882 2244zm13-76zm-1-17zm19 67zm0-90zm4-38zm-2-123zm15 269zm6-95zm-3-221zm13 159zm14 146zm4-424zm5 26zm0 29zm-1 308zm13 154zm8-87zm10-314zm-2 281zm17-271zm7 28zm5 175zm-3 153zm14 7zm-3-105zm2-424zm10-33zm5 155zm5 90zm-4-24zm12-128zm18 624zm-2-704zm18 63zm-2 11zm0 358zm5 246zm8-133zm-7-300zm13-405zm5 559zm3 165zm-10 15zm1 69zm30-742zm-2 447zm0 45zm8 260zm0-28zm9-744zm0-110zm9 15zm-1 372zm-6 283zm20 175zm-5-135zm-2-258zm8-68zm-1-88zm-6-7zm-2-69zm-1-126zm2-8zm4-69zm6 114zm11 208zm-1 204zm1 370zm17-436zm1 447zm18-13zm-6-254zm0-332zm-4-12zm4-221zm16 230zm1 126zm-5 115zm15 173zm2-47zm-1-126zm1-119zm-8-190zm12 121zm17 335zm22-60zm1-96zm7 90zm17 107zm-5-401zm14-92zm16 229zm11 144zm16-74zm12-56zm34-55zm11 56zm-4 16zm38-5zm9-5zm405-104zm8-47zm0 15zm-7 38zm7 31zm14-51zm6-31zm7 52zm-10 55zm18 8zm2-137zm9-16zm1 47zm-1 27zm-2 4zm5 56zm0 106zm6-17zm1-135zm-2-27zm0-30zm10-46zm-4-7zm15 13zm1 52zm0 26zm-5 111zm4 39zm0 0zm-2 53zm14-22zm-3-11zm2-1zm-7-47zm8-55zm-2-29zm-5-33zm7-24zm0-81zm12-23zm-2 39zm0 54zm-8 11zm7 102zm-1 5zm0 89zm15-2zm-9-84zm2-3zm0-113zm8-5zm11-102zm-1 9zm-2 6zm3 112zm-6 46zm19 186zm-8-55zm6-67zm-8-74zm7-41zm1-11zm-4-11zm12-77zm-1 28zm7 62zm-7 4zm6 28zm-4 62zm3 1zm-3 20zm-5 5zm5 1zm-4 17zm6 107zm-3 15zm-3 2zm14 7zm1-47zm5-29zm1-6zm-4-1zm-6-86zm5-13zm-1-85zm6-89zm0-20zm6 11zm-1 15zm4 14zm-2 79zm-1 44zm-1 9zm1 13zm-3 2zm6 10zm6 154zm1-194zm2-38zm10-77zm8 17zm-3 29zm2 51zm-9 49zm3 124zm7 12zm8-64zm-3-30zm-1-61zm5-17zm-3-1zm3-39zm-6-9zm5-4zm4-7zm1-73zm-1-7zm13 97zm-7 102zm2 27zm3 3zm-7 13zm22-158z"/>
<path stroke="#1f968b" d="M1888 2158zm10 54zm4 9zm-3 108zm10-171zm4-32zm12 89zm-2 72zm4 27zm6 95zm7-193zm3-255zm-1-108zm9 330zm4 196zm-2 19zm10-8zm-5-52zm3-59zm-5-262zm4-63zm14 186zm-4 23zm3 88zm-2 180zm9-100zm7-206zm-5-26zm0-21zm5-160zm14-69zm2 34zm-3 25zm-6 0zm2 260zm0 39zm10-72zm8-196zm1-139zm-9-23zm19 181zm-1 291zm3 55zm0 17zm-4 97zm12-275zm-3-40zm-4-229zm8-50zm-7-93zm19 134zm-5 72zm-1 137zm2 16zm7 40zm7 337zm-1-196zm3-59zm-2-47zm2-78zm-3-264zm3-11zm6 187zm9 42zm-7 147zm-3 7zm3 129zm9 199zm10-201zm-6-339zm5-46zm-3-50zm12-42zm-7 220zm9 78zm-5 116zm2 214zm11-147zm-3-49zm5-158zm4-204zm-5-97zm-2-51zm12 88zm-4 57zm1 183zm9 161zm10 183zm2-61zm-6-13zm0-88zm4-190zm0-93zm1-58zm6-254zm1 235zm2 13zm-6 97zm3 263zm6 58zm3 133zm11-268zm-11-70zm0-63zm8-85zm-8-57zm11-11zm-5-182zm4-25zm-8-14zm15-64zm1 344zm3 315zm-5 124zm12 3zm-3-296zm8-110zm-1-251zm11-127zm4 62zm-5 71zm-6 170zm5 246zm4 89zm2 142zm5 15zm7-5zm-3-239zm-8-23zm22-589zm-5 385zm0 31zm-4 294zm2 28zm-1 121zm17-128zm-2-3zm-3-20zm8-75zm-2-11zm-4-117zm-1-22zm7-9zm-2-10zm-6-243zm3-128zm-2-69zm9 118zm6 88zm-2 129zm5 72zm-4 46zm-2 43zm17 227zm-7-64zm-1-280zm6-70zm7 409zm14-48zm3-145zm0-352zm16-6zm1 293zm-10 228zm22-255zm-11-17zm19-184zm-1 53zm5 72zm-4 207zm-3 8zm0 62zm6 48zm7-170zm2-64zm9-19zm-1 126zm20-86zm3-9zm8 43zm-5 76zm11-81zm0-45zm-3-131zm34 69zm-5-14zm5-26zm29 46zm3 14zm4 4zm-3 44zm7-49zm1-33zm466-64zm20 0zm73-110zm3 166zm33-63zm-1 11zm-8 151zm-2 48zm43-7zm10-168zm16-158z"/>
<path stroke="#443b84" d="M1913 2144zm10 84zm12-34zm14-299zm4 162zm8 275zm18-297zm9 123zm-7-61zm21-317zm-10 76zm3 222zm4 373zm9-303zm-4-320zm21 6zm-8 12zm8 282zm-6 103zm25-304zm7 67zm-11 184zm13 197zm4-167zm5-159zm-9-231zm15 422zm8-192zm8-140zm9-71zm3 536zm2 76zm13-352zm-11-299zm18 252zm0 131zm3 69zm-3 150zm11 41zm-3-17zm3-339zm14-541zm-1 287zm8 631zm-2-609zm4-119zm-4-1zm9-182zm-5-8zm6-22zm6 7zm-4 11zm8 1zm-6 5zm-1 178zm1 33zm-2 39zm7 101zm-7 183zm1 149zm2 35zm13 23zm-1-138zm7-240zm-1-103zm14-268zm-1 11zm-7 528zm3 48zm1 236zm14-291zm-7-160zm2-65zm7-216zm-2-39zm-7-22zm16 584zm13-320zm14 112zm-2 357zm24-556zm-2 27zm4 67zm-7 9zm0 388zm6 133zm22-630zm0 70zm16 125zm-4-133zm9 43zm-2 288zm19-134zm5 46zm0 114zm16-71zm-3-37zm12-122zm17 163zm13-54zm11 9zm1-63zm31 18zm-1 7zm0 10zm13 13zm-1-84zm428-65zm29 81zm-3-34zm6-70zm6 5zm4 11zm4 49zm-7 20zm7 68zm8-10zm-3-70zm5-58zm-2-21zm19 5zm-11 105zm10 43zm4 14zm7-20zm-2-16zm-2-57zm1-9zm5-37zm12-5zm-3 98zm-8 7zm3 46zm3 5zm-4 59zm10 5zm1-46zm3-75zm5-22zm-9-45zm0-25zm5-11zm-1-2zm5-41zm1-11zm1-24zm6 21zm-2 7zm6 35zm-2 47zm-2 22zm-2 34zm1 15zm3 2zm1 23zm0 54zm-5 16zm6 11zm-3 9zm16 67zm-9-74zm5-59zm0-27zm-1-50zm-2-62zm7-18zm-7-22zm-2-43zm15-31zm6 5zm1 39zm0 6zm-8 59zm0 24zm7 6zm-8 29zm8 59zm-5 4zm3 22zm-4 1zm-3 1zm9 30zm1 7zm-10 36zm8 0zm-7 49zm10-4zm2-26zm8-35zm-9-69zm5-35zm-5-30zm2-21zm3-12zm-2-23zm5-83zm2-20zm12-8zm-2 28zm2 36zm-9 17zm7 8zm-8 8zm8 18zm1 14zm-5 9zm0 44zm4 3zm-1 131zm-6 5zm6 0zm2 17zm-9 8zm18 21zm1-36zm2-30zm0-76zm-8-31zm-1-54zm3-65zm2-40zm4-6zm12-28zm-4 13zm0 191zm4 15zm1 5zm-2 52zm-6 4zm3 9zm-2 37zm11 27zm4-21zm-5-71zm5-74zm-3-7zm-1-18zm2-21zm-1-36zm13-92zm1 23zm-2 9zm2 78zm0 44zm2 17zm1 31zm3 13zm4-156zm-2-3zm5-32zm0-7zm-3-41zm9 52zm2 2zm8 96zm-6 2zm3 144zm10-35zm0-56zm-6-48zm2-37z"/>
<path stroke="#460a5d" d="M1898 1995zm1 327zm25-286zm17 146zm0-236zm43 143zm20 291zm5-92zm8-559zm21 389zm0-33zm3-22zm0 306zm21-553zm9 53zm3 234zm-1 123zm10 210zm22-606zm29 601zm-5-244zm51 231zm6 6zm19-58zm26-240zm14-43zm7-281zm16 446zm25-66zm21-117zm12-131zm43 158zm29-89zm7 11zm18 42zm7-16zm419-169zm73 119zm5-31zm23 16zm5-163zm0 36zm6 222zm10 33zm4-42zm-10-82zm17-30zm0 4zm-2 59zm6 2zm21 19zm10 115zm3-16zm-6-241zm11 163zm1 26zm19-222zm-2-19zm-5-9zm18 61zm13 225zm-9-70zm9-82zm3 7zm1 37zm16 63zm2-41zm0-25zm0-151zm14-9z"/>
<path stroke="#50c46a" d="M1871 2284zm7-193zm-5 63zm13 99zm9-11zm-2-34zm-2-116zm6-116zm9 24zm-5 63zm-2 8zm3 59zm0 25zm0 54zm2 69zm-3 10zm14 82zm-6-84zm1-124zm0-89zm2-27zm6-17zm-9-2zm3-49zm-1-38zm12 63zm4 35zm1 112zm0 12zm2 106zm-6 25zm17 28zm-2-38zm-7-11zm2-16zm5-113zm-7-9zm5-65zm3-15zm-3-57zm-5-108zm18-11zm1 4zm-7 23zm0 24zm4 109zm5 31zm-1 16zm3 62zm-3 32zm-1 87zm-3 20zm-4 10zm4 54zm2 8zm-1 36zm-2 19zm-2 37zm12-152zm0-381zm9-22zm-4-32zm9 0zm6 12zm1 121zm-4 37zm1 8zm3 24zm-5 8zm-1 15zm-4 30zm6 52zm1 67zm1 96zm-2 53zm4 35zm13 22zm-6-41zm2-41zm-6-21zm4-118zm1-29zm1-62zm1-105zm-7-10zm10-56zm-3-154zm6-22zm8 37zm-8 157zm7 168zm-5 109zm6 1zm-10 28zm21 181zm-4-118zm3-83zm-6-43zm2-19zm2-13zm2-49zm2-10zm-2-34zm-4-50zm3-25zm-4-11zm6-64zm-9-79zm2-57zm5-61zm7 42zm7 127zm-1 73zm-1 55zm-2 71zm-3 18zm9 7zm0 37zm-2 31zm-5 138zm4 16zm3 15zm-7 46zm9-48zm2-91zm0-9zm7-237zm-6-80zm-1-172zm18-65zm-4 46zm-2 37zm0 4zm1 11zm-2 112zm5 9zm-3 57zm4 5zm3 55zm-7 43zm5 149zm-1 29zm0 17zm-6 17zm-2 46zm5 88zm1 41zm12-33zm2-93zm0-4zm-5-50zm8-49zm-5-96zm5-229zm-3-86zm3-35zm-6-71zm4-53zm5 26zm0 28zm1 107zm-3 40zm0 48zm8 25zm-3 63zm-5 63zm11 19zm-8 45zm1 34zm3 15zm2 97zm-9 21zm11 54zm-9 26zm6 7zm2 47zm10 42zm0-19zm0-78zm3-1zm-6-68zm-3-5zm6-1zm3-47zm-9-2zm-2-47zm1-153zm2-11zm4-19zm-6-116zm-1-38zm12-240zm7 40zm4 27zm0 0zm-1 48zm-1 126zm-7 132zm3 15zm-1 95zm-2 76zm4 144zm-5 17zm9 68zm-9 5zm1 29zm2 19zm15-8zm-4-1zm4-46zm-6-45zm5-10zm-6-134zm2-49zm8-67zm-5-107zm0-7zm-1-2zm6-43zm1-3zm-4-40zm-2-25zm-5-5zm6-1zm0-58zm-6-103zm2-3zm-1-123zm22 142zm-8 37zm3 79zm-4 2zm9 35zm-5 5zm0 75zm-3 260zm4 4zm4 71zm-6 9zm8 85zm1-324zm1-38zm-1-48zm5-80zm-3-50zm4-86zm-8-25zm6-38zm-4-44zm3-64zm-2-10zm18-36zm-5 243zm4 102zm-5 32zm5 21zm-1 85zm-4 33zm8 18zm-2 2zm2 6zm-11 17zm6 38zm0 70zm1 52zm-2 41zm1 12zm5 29zm-6 74zm-5 3zm6 24zm14-14zm-3-31zm-5-47zm8-35zm1-27zm-4-68zm-5-93zm7-38zm-5-63zm6-55zm-2-48zm-4-66zm6-57zm-2-76zm-6-60zm8-85zm6-2zm2 125zm4 142zm-2 13zm-5 34zm9 9zm-10 40zm10 34zm-1 54zm-3 204zm4 19zm-8 22zm3 1zm-3 21zm7 20zm-8 92zm10 13zm-10 19zm2 7zm20-153zm-1-106zm-5-60zm-2-11zm6-49zm0-127zm-5-38zm-4-33zm1-146zm8-54zm9 80zm2 11zm-2 63zm-3 45zm-3 20zm11 3zm-11 224zm2 24zm5 0zm2 31zm-1 21zm-2 193zm11 52zm5-34zm-8-25zm-2-73zm8-61zm2-57zm-7-12zm6-7zm1-13zm-4-7zm-6-26zm4-1zm4-2zm-7-166zm4-99zm2-6zm-4-30zm5-56zm-6-3zm1-36zm7-81zm-6-27zm11 26zm-1 98zm0 18zm-1 54zm7 64zm3 7zm0 53zm-9 45zm-1 14zm-1 8zm3 43zm0 9zm8 60zm-3 131zm-1 3zm-3 47zm14 91zm-5-1zm10-57zm-10-30zm3-19zm4-11zm3-12zm-11-61zm9-22zm0-91zm-2-37zm-1-93zm4-41zm-7-107zm1-62zm-4-26zm13-32zm7 15zm-5 98zm5 14zm0 75zm1 52zm2 36zm-5 110zm2 73zm-7 2zm1 191zm11 32zm4-64zm-1-7zm1-1zm4-125zm-7-7zm4-122zm-4-7zm8-33zm-5-68zm2-27zm4-19zm-9-108zm-1-10zm7-28zm10 274zm4 5zm0 22zm-1 103zm-3 47zm-6 51zm1 21zm4 16zm15 5zm-7-83zm1-33zm2-46zm-3-29zm5-93zm2-22zm-4-14zm7-102zm-6-19zm-4-46zm-1-33zm14-83zm7 43zm-6 205zm1 11zm6 74zm-6 8zm1 22zm4 21zm-8 24zm15 218zm4-35zm-4-27zm4-149zm0-7zm-3-143zm2-49zm0-9zm3-108zm10-17zm-6 125zm-2 175zm1 3zm21 92zm-5-2zm-1-50zm6-163zm-4-65zm-1-24zm9 74zm3 15zm-3 21zm5 14zm-7 90zm9 28zm-5 139zm18-158zm-10-10zm8-91zm0-40zm1-4zm13-28zm-10 26zm4 38zm-3 9zm17-30zm-4-10zm5-6zm-5-14zm15 54zm1 9zm7 107zm1-43zm6-8zm3-46zm-6-82zm17 59zm-7 79zm5 13zm15-54zm-11-101zm13 11zm3 33zm6 6zm10 56zm6-96zm0 69zm17-40z"/>
<path stroke="#277e8e" d="M1870 2172zm47-23zm-4-94zm12 24zm2 14zm10-20zm12-94zm14 252zm0-9zm-6-85zm8-213zm8 300zm-3 74zm16-410zm10-1zm15 213zm-3-29zm5-185zm0-37zm12-147zm0 175zm1 233zm-10 250zm5 102zm9-186zm8-254zm1-45zm0-6zm-6-91zm8-136zm3 173zm-2 84zm8 155zm-5 111zm-1 10zm30-376zm-2 249zm-5 211zm4 74zm-7 18zm22 41zm-1-185zm-9-202zm2-419zm12 17zm9 594zm12 140zm11-233zm-1 13zm4 242zm-1-670zm8-18zm13 235zm0 15zm-3 24zm4 409zm17-307zm7 39zm-3 8zm-4 89zm0 49zm16 114zm1-60zm-5-10zm10-799zm1 503zm21 167zm0-121zm-5-43zm14-236zm-1 4zm13 418zm-8-353zm0-237zm2-81zm13 251zm0 460zm14-636zm7 130zm4 219zm-2 172zm0 115zm27-421zm-3 111zm8 110zm21 76zm-5 21zm24-236zm8 273zm3-224zm9-92zm20 139zm6-97zm6 150zm13-141zm9 76zm11-28zm24-30zm12 39zm433-144zm30 102zm4-107zm31 97zm0-119zm9 40zm14 200zm10-225zm0 17zm4 218zm10 35zm-8-101zm8-13zm-8-6zm8-100zm3-39zm1-39zm4 169zm0 85zm8 14zm11-136zm5-148zm3 34zm-7 62zm2 207zm11-89zm10-60zm5-104zm1 173zm-3 40zm12 32zm-1-211zm11 32zm3 96zm14-52zm7-174zm16 87zm-2-23z"/>
<path stroke="#6ccd5a" d="M1862 2175zm1-4zm2-36zm3-56zm8 223zm17-206zm1-71zm-2-19zm-6-22zm12 59zm2 107zm-2 42zm19 7zm-2-14zm-1-6zm-1-15zm4-44zm1-2zm-8-48zm4-21zm5-42zm-9-28zm7-1zm-3-30zm10 226zm1 9zm-1 16zm7 8zm-4 32zm1 9zm-6 27zm9 79zm5 1zm2-85zm-2-55zm6-34zm-8-267zm12-63zm4 149zm5 61zm-6 103zm5 29zm-8 30zm0 29zm-2 12zm11 20zm-10 26zm10 58zm11-84zm-4-15zm5-54zm-6-16zm-4-39zm7-141zm12-151zm-2 13zm0 24zm-3 12zm1 40zm-2 60zm7 144zm-4 97zm-2 5zm7 101zm-6 10zm0 19zm8-108zm0-38zm11-9zm-6-69zm1-26zm2-10zm-4-18zm4-89zm-8-14zm5-30zm-1-122zm2-26zm4-8zm8 21zm3 114zm-4 45zm3 6zm-7 9zm2 59zm0 52zm4 38zm-2 67zm4 130zm-5 82zm6 16zm10-95zm-6-58zm9-34zm-8-48zm2-153zm3-21zm-3-32zm5-62zm0-118zm-10-23zm0-1zm10-66zm4 12zm5 25zm-6 5zm3 40zm3 179zm-2 238zm-3 20zm9 25zm-2 167zm11 35zm-8-48zm1-23zm10-53zm-2-66zm-9-5zm9-4zm-8-16zm5-43zm-1-29zm-2-10zm3-72zm5-2zm-2-1zm-4-40zm3-21zm3-130zm-9-3zm3-39zm6-54zm-9-4zm8-108zm4-3zm6 23zm-7 2zm4 9zm-5 80zm3 13zm-2 5zm1 50zm2 4zm6 99zm-3 13zm4 33zm-8 157zm4 50zm-5 22zm1 21zm4 12zm-2 80zm-2 52zm6 2zm0 34zm4-11zm8-11zm-7-70zm7-12zm-5-12zm-2-52zm1-5zm5-19zm-5-31zm8-44zm-10-119zm1-40zm1-193zm7-10zm-9-98zm20 28zm0 7zm-6 23zm1 28zm3 9zm4 42zm-3 28zm-1 43zm-3 44zm3 7zm0 85zm-7 16zm5 1zm4 48zm-3 64zm2 24zm-5 134zm2 9zm-2 5zm20 91zm-2-108zm-9-83zm9-19zm-1-153zm-5-28zm-3-2zm6-58zm-5-24zm5-67zm-5-69zm14 48zm5 3zm-1 52zm0 44zm-1 63zm1 49zm-1 55zm5 61zm-8 26zm2 21zm3 74zm7 105zm2-24zm-2-210zm-2-267zm6-126zm-4-108zm13-77zm3 66zm2 47zm-1 68zm-3 6zm2 94zm4 55zm-3 167zm-7 15zm1 43zm5 172zm11 70zm3-59zm2-125zm-3-245zm3-6zm-7-28zm3-20zm2-16zm-5-66zm6-14zm-3-27zm0-118zm-3-30zm16 13zm0 76zm1 68zm-3 30zm4 56zm-2 34zm-8 11zm0 88zm2 45zm4 180zm-1 18zm3 68zm-3 42zm3 30zm9-82zm-3-83zm6-49zm-3-67zm0-41zm-5-52zm7-6zm1-74zm2-10zm-1-24zm-1-65zm-8-26zm1-3zm8-5zm-7-26zm9-17zm-4-5zm3-36zm-6-75zm6-22zm4 81zm1 41zm2 14zm1 58zm0 286zm4 1zm-6 100zm-4 69zm4 18zm17-76zm-5-21zm7-51zm-9-27zm6-78zm-5-236zm1-40zm0-4zm0-33zm3-14zm13-62zm-6 9zm0 76zm7 10zm0 95zm-6 163zm8 75zm-8 62zm-3 82zm2 26zm-1 30zm5 27zm15-79zm2-21zm-4-41zm-7-10zm0-80zm8-262zm-8-68zm2-38zm4-1zm16-145zm-3 123zm-1 23zm3 18zm0 7zm-7 7zm7 61zm-8 118zm10 37zm-7 68zm2 226zm3 9zm-2 59zm-4 3zm13-35zm1-9zm4-89zm0-7zm0-5zm-9-14zm2-110zm6-37zm-3-1zm-3-7zm8-53zm-3-44zm3-53zm-4-39zm1-2zm-6-27zm9-52zm0-6zm-5 0zm-1-10zm-4-3zm7-28zm-4-12zm-1-12zm7-41zm8 98zm0 24zm-3 23zm5 137zm2 86zm-2 76zm4 11zm-8 41zm-3 67zm3 1zm5 97zm11-74zm3-71zm-8-87zm7-54zm-1-11zm-1-26zm-5-35zm5-18zm-4-12zm0-28zm-1-18zm3-17zm4-14zm-2-48zm-1-41zm-2-35zm6-8zm-7-5zm8-5zm-8-81zm18 62zm-6 84zm7 174zm-10 110zm0 88zm8 2zm-7 66zm2 5zm6 28zm2 9zm10-8zm-7-160zm6-52zm-8-141zm10-18zm-5-119zm-5-61zm3-42zm18 273zm-7 59zm7 12zm0 15zm-8 3zm5 116zm3 28zm2 59zm-9 39zm15-65zm4-16zm-2-42zm4-18zm-9-52zm9-126zm-2-26zm7-83zm6 61zm-6 46zm3 59zm-2 33zm-2 26zm7 1zm-4 88zm1 3zm-1 82zm1 43zm11-46zm-1-7zm-5-27zm4-71zm-2-63zm18-169zm1 13zm-3 52zm-3 169zm2 50zm14-40zm-2-14zm5-55zm-6-26zm6-22zm-6-3zm8-114zm2 11zm-1 10zm6 7zm-6 13zm7 159zm2 11zm7-3zm-5-41zm7-18zm2-5zm2-92zm-9-69zm15 45zm-2 18zm3 5zm0 1zm0 41zm15 10zm1-12zm-10-24zm5-5zm9 36zm5 13zm14-59zm-6-2zm6-54zm5 33zm6 31zm-8 48zm15 28zm5-73zm15-1z"/>
<path stroke="#38b977" d="M1867 2117zm10-56zm0 50zm1 2zm0 59zm-3 40zm14 1zm5-118zm0-25zm0-62zm11 164zm-4 139zm11 82zm1-66zm6-11zm-8-113zm5-110zm12-148zm-8 18zm11 29zm-3 20zm-1 15zm-1 45zm-3 115zm0 104zm5 82zm15 52zm-9-79zm3-175zm4-113zm-8-31zm1-30zm11-150zm10 78zm-4 15zm-3 72zm4 124zm2 107zm-6 81zm-3 12zm6 46zm3 50zm4-98zm4-55zm-5-281zm1-63zm0-52zm16-29zm-2 86zm-1 140zm7 94zm-9 21zm4 11zm12 185zm4-359zm-2-3zm3-58zm-2-20zm0-31zm13 1zm-9 176zm1 107zm8 86zm-7 18zm-2 11zm10 2zm-4 100zm13 56zm4-50zm-7-7zm7-8zm0-63zm-7-8zm4-20zm-4-55zm-1-109zm3-189zm-3-124zm16-125zm2 23zm-3 22zm1 50zm4 87zm-4 159zm-6 405zm15-42zm1-59zm-4-265zm-1-67zm10-88zm-1-129zm-2-74zm3-15zm7 130zm0 147zm4 82zm-3 245zm-3 16zm-2 59zm4 12zm11-159zm6-12zm1-69zm-7-157zm4-90zm0-165zm-8-57zm23-25zm0 175zm-9 5zm0 19zm1 153zm3 3zm-2 98zm0 17zm1 78zm-1 158zm2 39zm1 41zm5 37zm10-91zm0-159zm-2-51zm-4-90zm-2-18zm-1-53zm-1-46zm7-262zm6-12zm-1 16zm6 34zm-4 202zm4 6zm-2 395zm2 36zm8-130zm4-115zm1-118zm-7-21zm9-312zm-4-36zm10-94zm4 173zm1 92zm-1 67zm0 17zm-6 83zm-1 9zm2 6zm-1 8zm3 54zm5 138zm-7 54zm-1 45zm1 20zm2 43zm-1 12zm8 42zm10-9zm2-207zm-7-91zm-3-115zm9-2zm-3-74zm-1-16zm2-34zm0-119zm0-195zm15 8zm-6 187zm-4 48zm1 63zm5 96zm1 204zm3 11zm-9 253zm15-25zm0-160zm4-29zm-2-10zm-2-120zm12-528zm-3 241zm0 41zm-2 153zm6 51zm-5 60zm2 192zm3 37zm3 115zm3-314zm1-12zm1-130zm7-176zm-3-35zm5-13zm-5-36zm-5-32zm22-24zm-9 35zm1 9zm3 3zm-2 58zm0 204zm-1 60zm1 78zm0 221zm-3 78zm15-198zm-3-103zm3-9zm-2-130zm3-63zm6-194zm-3-112zm-3-8zm17 33zm-6 63zm4 176zm-1 51zm-3 254zm-3 24zm16 149zm-4-134zm-1-221zm1-216zm1-48zm9-4zm-10 0zm1-14zm8-11zm5-56zm8 83zm0 95zm-10 3zm2 101zm5 33zm-4 246zm9 98zm7-82zm1-62zm-6-151zm1-249zm1-59zm1-31zm13 62zm-2 184zm-1 139zm13 11zm-1-156zm0-32zm17-127zm0 14zm2 71zm-6 168zm-1 17zm-1 156zm20-15zm0-8zm0-144zm-9-223zm11 39zm7 153zm-5 152zm6 41zm-8 94zm14-65zm5-309zm7-40zm3 161zm-1 33zm28-47zm17-51zm6 11zm-8 7zm18 53zm2-19zm4-62zm9 22zm-7 24zm8 31zm13 58zm-7-75zm1-1zm-3-15zm8-28zm3-32zm7 23zm-4 35zm17-60zm9 55zm0 71z"/>
<path stroke="#481c6e" d="M1879 2141zm20-102zm9 149zm10-48zm6-223zm6 254zm-7 152zm20-433zm27 183zm5 65zm15-69zm40 166zm-1-342zm10-121zm9 719zm13-248zm2-229zm-9-121zm17 392zm-6 125zm46 64zm2-766zm6 589zm-1 59zm17-284zm-3-177zm3-245zm34-113zm-1 210zm6 645zm12 31zm20-70zm-4-5zm1-471zm19 390zm0-113zm7-561zm6 226zm7 391zm12-13zm9-41zm-6 123zm16-445zm14 438zm21-76zm23-458zm35 292zm10-57zm12-16zm15 75zm445-152zm29 60zm24 30zm-4-35zm13-78zm0 55zm11 20zm4-49zm-4-10zm10 25zm7 8zm-8 51zm4 4zm1 9zm8-44zm11-134zm26-22zm-4 119zm4 12zm4 5zm3 67zm-11 141zm16-8zm0-59zm-1-27zm4-5zm-2-24zm2-43zm3-89zm0-6zm11-35zm-2 19zm0 141zm-3 58zm2 46zm5 36zm7-220zm5-38zm-9-30zm16 31zm-3 44zm2 73zm18-58zm-4-110zm-2-16zm9 2zm-2 37zm1 26zm10 220zm-8 58zm11 6zm0-9zm7-12zm-2-103zm1-2zm-4-64zm-2-16zm4-22zm1-38zm-2-30zm0-29zm0-17zm14 175zm0 4zm9 153zm-4-4zm0-61zm4-32zm-1-96zm4-46zm-6-10zm0-77zm16 42zm-5 2zm2 57zm2 27zm5 3zm-9 70zm21-119zm-6-88z"/>
<path stroke="#472d7b" d="M1912 2264zm1-87zm13-256zm-1 218zm-2 259zm10 9zm8-320zm8-223zm-2 320zm16 173zm14-334zm6 370zm4-28zm16-599zm-6 422zm5 53zm6 18zm7-76zm-2-210zm14 395zm4-365zm-2-75zm15 409zm10-478zm7-2zm12 223zm-4 12zm4 338zm3-238zm5-214zm8 460zm20 42zm-6-2zm2-162zm-5-328zm1-45zm22-35zm23-372zm-3 281zm1 308zm4 260zm9-318zm-9-100zm21-456zm-2 3zm13 846zm-2-101zm-1-181zm0-392zm13-160zm2 813zm13-142zm8-160zm-1 4zm-2 180zm13 49zm7-165zm6-490zm-1 641zm11-18zm7-279zm-9-104zm8-54zm13 351zm23 27zm8 6zm3-63zm-4-172zm11-147zm7 136zm-5 134zm7 21zm21-29zm29 131zm12-44zm11-88zm21 41zm14-200zm22 125zm408-149zm12-17zm13 70zm-9-36zm1-17zm18 22zm-2 46zm9-37zm20-34zm-1 63zm-9 3zm-1 48zm9 35zm12 7zm-3-95zm3-46zm2-56zm2 188zm22 54zm-2-1zm1-34zm-4-76zm4-36zm-4-86zm5-3zm12 125zm-8 66zm16 101zm-3-106zm0-28zm0-120zm19 1zm-2 37zm-6 42zm3 18zm4 17zm1 11zm-3 17zm-6 102zm16-17zm-6-26zm10-5zm-8-154zm1-17zm4-15zm-7-92zm20-30zm3 2zm-11 8zm11 5zm-9 25zm6 4zm-3 99zm2 34zm3 11zm-4 54zm4 8zm-4 39zm-2 15zm-2 7zm-2 55zm17 14zm4-33zm-9-76zm6-9zm1-48zm-7-21zm1-14zm1-26zm2-41zm7-5zm-11-3zm0-65zm10-23zm-2-1zm6-17zm8 45zm-7 34zm-2 18zm0 41zm9 156zm0 51zm11 5zm-4-7zm-4-27zm5-9zm5-110zm-1-18zm1-11zm-8-31zm3-13zm-3-14zm-2-14zm8-46zm-3-14zm-1-21zm8 9zm3 34zm-2 17zm6 62zm-2 52zm-6 80zm1 81zm11 1zm11-20zm-11-4zm3-38zm5-22zm-8-110zm0-17zm9-3zm0-21zm6 72zm-2 17zm3 25zm1 43zm4 30zm-5 46zm10-2zm3-62zm2-149zm-6-132zm15 53zm-1 7zm0 149zm7 34zm8-36zm-1-55zm-3-39z"/>
<path stroke="#28ae80" d="M1875 2312zm16-253zm7 254zm10-108zm0-62zm9-25zm-1-113zm5-81zm1 83zm9 188zm-11 92zm8 91zm7-8zm0-137zm-1-204zm17-23zm-3 370zm12-151zm5-31zm-9-311zm20 136zm1 178zm-9 68zm7 30zm6 140zm8-184zm-4-37zm3-91zm-2-136zm3-70zm-7-74zm11-58zm10 82zm-2 12zm-5 160zm7 20zm-6 122zm6 33zm-4 69zm9 87zm1-48zm0-374zm12-58zm-2 259zm3 21zm4 123zm-1 79zm-4 96zm-1 12zm-1 4zm20 23zm-9-265zm8-238zm2-269zm2 194zm0 111zm9 224zm-7 59zm4 151zm13-80zm-7-235zm0-12zm7-5zm0-67zm-8-348zm13 548zm18 100zm-3-95zm-4-143zm7-212zm-4-83zm-2-85zm17-11zm-3 497zm4 54zm7 95zm0-251zm0-60zm-1-364zm-1-34zm20-1zm-5 357zm5 73zm-8 99zm4 69zm2 64zm-2 51zm-5 24zm14-605zm8-175zm13-12zm-5 113zm-2 3zm4 561zm-2 181zm10-71zm2-190zm-4-25zm6-155zm-3-134zm2-11zm0-67zm1-122zm-1-106zm11-34zm4 60zm-10 263zm5 157zm5 225zm-2 41zm13 109zm-7-228zm1-101zm2-24zm12-68zm-5 93zm9 325zm4-1zm6-154zm-4-103zm4-34zm-1-267zm-3-13zm6-4zm-9-261zm17-6zm2 278zm2 8zm-9 140zm0 48zm8 94zm-4 30zm9 218zm11-604zm9 211zm-8 33zm9 66zm-7 81zm0 70zm-2 23zm16-236zm-1-191zm17 44zm0 336zm14 140zm-9-17zm6-53zm-7-117zm6-5zm0-310zm5 202zm0 176zm21-188zm6 24zm8 226zm8-174zm15-155zm-9 239zm21-39zm2 64zm21-151zm4-121zm2 1zm0 42zm-1 0zm-2 62zm8 4zm-4 19zm17-37zm-6-35zm4-18zm-3-41zm5-25zm13 77zm-7 50zm3 12zm4 46zm12-73zm-8-62zm5-15zm23 73zm3-87zm5 55zm1 32zm494-89zm60-152zm61-30z"/>
<path stroke="#2c728e" d="M1891 2042zm13-19zm5 242zm0-9zm7-145zm14-191zm-8 198zm1 65zm16 42zm8-306zm-3 411zm20 44zm-8-390zm18-11zm0 243zm-3 183zm22-538zm8 24zm-3 369zm3 198zm13-231zm-10-327zm20 6zm1 42zm-3 221zm0 233zm7 81zm5-481zm-4-186zm21 67zm-6 46zm6 69zm-3 80zm1 40zm-7 252zm11-330zm3-167zm14 142zm4 176zm-7 78zm17 172zm-1-142zm2-72zm-9-119zm3-40zm6-149zm-9-207zm3-38zm18 203zm1 23zm-1 347zm-8 17zm16 131zm5-225zm10-400zm-1 66zm1 132zm-7 66zm5 482zm8-79zm-1-131zm8-59zm-5-10zm-4-360zm15-240zm3 13zm-4 39zm3 101zm2 127zm2 118zm2 270zm6-167zm5-188zm-9-55zm0-90zm21-288zm-6 320zm3 460zm-3 120zm-2 55zm13-36zm-1-186zm5-189zm2-220zm11-197zm-4 457zm-1 347zm9-215zm5-82zm-5-16zm8-5zm1-15zm13-539zm-10 59zm1 69zm4 73zm-2 29zm1 160zm-4 75zm23 195zm-9-6zm-2-181zm1-140zm5-81zm-5-2zm1-71zm19-129zm-3 361zm-6 256zm4 157zm-2 13zm10-320zm10-31zm1-106zm2-139zm2 148zm4 249zm5-90zm11-210zm5 239zm-3 89zm5 4zm10-251zm14 53zm21-57zm7 34zm8-95zm15 240zm9-48zm17-29zm4-60zm3-31zm14 121zm34-110zm7-4zm4 51zm440-118zm42 56zm-6 10zm12-148zm20 262zm9-125zm-4-53zm13 67zm10-168zm12-21zm17 201zm-4-22zm44-208zm-1 18zm1 61zm-1 72zm0 8zm13 180zm-1-168zm-8-125zm9-36zm19-25zm14 100z"/>
<path stroke="#efe51c" d="M1882 2146zm19-106zm-4 279zm22 67zm-3-188zm8-271zm2 357zm0 52zm15 99zm3-268zm7 97zm12 99zm-2-96zm-1-25zm0-109zm6-175zm2-53zm18-26zm2-85zm8 172zm11 398zm1-376zm-3-4zm3-83zm0-134zm14 257zm-5 57zm1 130zm8 240zm2-366zm15-268zm0 75zm2 203zm-3 382zm19-315zm-5-380zm-4-26zm17 228zm-2 92zm8 83zm-1 139zm4-566zm15 157zm-4 219zm10 305zm12 39zm-11-173zm13-507zm2 70zm2 99zm2 219zm14 1zm12-509zm-5 82zm6 15zm-8 73zm-1 131zm7 73zm-6 367zm18 58zm0-331zm-3-286zm12-12zm-2 24zm4 56zm-1 128zm-4 8zm8 409zm4-12zm2-296zm6-94zm-1-129zm2-312zm8 265zm13 276zm-2 0zm1-332zm4-192zm12 631zm-2 58zm1 96zm10-92zm-5-242zm7-175zm-2-37zm9-134zm-5 16zm0 74zm2 481zm2 76zm17-72zm-8-74zm18-427zm-1 104zm4 34zm12 411zm-9-520zm19 139zm-8 218zm19-206zm7 98zm4 177zm6-160zm14 8zm27 6zm7 85zm9-48zm-7-172zm51 7z"/>
<path stroke="#1fa287" d="M1875 2056zm5 203zm-5 8zm16 8zm14-99zm5 157zm9-90zm0-34zm-8-177zm17-37zm3 116zm-10 140zm5 53zm19-377zm-1 79zm9 29zm-6 84zm-1 43zm8 20zm-7 73zm6 22zm-3 48zm14-196zm-7-174zm9-38zm-3-96zm6 155zm10 213zm-7 91zm0 28zm7 135zm6-152zm5-55zm-8-22zm5-354zm-1-2zm-2-1zm16 163zm-4 149zm0 125zm-3 44zm22 28zm-6-379zm2-161zm11 13zm-6 25zm10 1zm-5 281zm0 296zm17 74zm-9-89zm10-280zm-10-16zm9-54zm-7-249zm3-83zm0-9zm12 63zm2 100zm-4 119zm4 87zm-5 37zm0 207zm7 89zm-2 53zm10-7zm-4-23zm5-170zm-6-150zm5-78zm3-17zm-1-90zm-2-61zm-4-83zm15-128zm-1 189zm7 174zm-1 433zm10 9zm1-185zm1-91zm-7-397zm13-81zm-1 158zm6 249zm-7 79zm7 101zm14 134zm-5-67zm-4-8zm3-53zm3-209zm-3-42zm6-105zm3-143zm1 60zm3 217zm-2 41zm3 101zm4 121zm4 106zm-2-8zm4-436zm5-135zm-5-102zm2-81zm-6-78zm18-101zm1 277zm-7 75zm9 8zm-8 126zm9 48zm-7 19zm5 27zm-9 13zm20 115zm3-63zm-1-38zm0-33zm-9-106zm9-107zm0-77zm1-1zm-1-86zm-5-97zm11-3zm7 435zm-10 122zm3 16zm-3 247zm18-74zm0-846zm14 160zm2 142zm12 570zm-11-46zm10-76zm-6-41zm-1-67zm-3-12zm0-379zm11-154zm-7-50zm9 437zm2 156zm9 233zm7-37zm-6-39zm10-31zm-2-109zm2-136zm-9-72zm-1-152zm20 89zm0 179zm-7 32zm4 37zm4 6zm-7 125zm-2 72zm20-341zm2-252zm11 143zm-4 125zm-4 297zm-1 53zm21-223zm-5-101zm-1-74zm2-294zm15 252zm2 87zm0 13zm0 21zm9 260zm-8-429zm18 3zm-5 64zm5 17zm-3 98zm1 79zm4 17zm-6 3zm25-92zm3 122zm17-12zm-6-51zm6-179zm2-10zm10 219zm11-107zm-9-25zm8-16zm-8-38zm25 15zm9-5zm-7-11zm-1-47zm10 1zm2 66zm6 13zm2 10zm9-39zm17-13zm17 83zm16-32zm439-46zm40-122zm89 201zm42-5zm14-159zm18 60z"/>
<path stroke="#238a8d" d="M1907 2044zm0 60zm10 216zm-9-23zm4-329zm8-47zm9 72zm-9 84zm2 42zm3 129zm11-21zm10-212zm5 371zm13-151zm-5-213zm-3-28zm2-72zm20 328zm-4 17zm0 34zm-1 60zm16-302zm-3-112zm5-127zm2 348zm-1 178zm4 7zm3 21zm-7 111zm16-17zm-3-93zm3-485zm13 395zm6 77zm-9 19zm5 37zm-7 18zm12 26zm6-11zm-3-30zm-1-100zm1-200zm-2-358zm19 470zm7 165zm-1-153zm0-88zm4-112zm-4-17zm16 108zm-5 185zm2 60zm-3 3zm0 61zm9 53zm3-202zm2-153zm18-388zm3 133zm-7 2zm4 23zm3 135zm-8 55zm0 152zm4 49zm1 78zm-7 38zm0 32zm5 62zm9-77zm3-348zm7-271zm3 17zm-1 269zm7 36zm-10 152zm7 66zm0 3zm9 23zm-1-136zm-2-196zm4-138zm16-344zm-6 83zm7 5zm-1 130zm-1 63zm-5 53zm-2 129zm22 217zm-4-291zm2-102zm1-235zm8 191zm5 55zm-7 431zm0 5zm-2 17zm10 58zm0-308zm18-431zm5 6zm-11 138zm3 95zm2 18zm11 576zm7-183zm-8-62zm5-81zm-4-27zm0-11zm-3-49zm2-97zm1-18zm0-181zm12-184zm3 51zm4 146zm2 572zm3-65zm4-170zm1-245zm-2-147zm-6-85zm12-39zm3 138zm6 122zm6 481zm2-199zm-1-22zm-5-361zm23 231zm4 341zm4-97zm-1-24zm-5-232zm21-204zm-9 87zm5 161zm16 257zm1-68zm-5-223zm21 89zm3-1zm18 170zm4-44zm0-44zm16-170zm1 187zm13-185zm4 43zm12 9zm9-16zm-4-58zm14 9zm-2 52zm25 79zm11-92zm-7-15zm0-20zm0-12zm16-18zm461-65zm-5 61zm13 111zm-4-116zm31 151zm-6-16zm2-70zm-1-14zm0-12zm4-37zm7-50zm5 195zm8-247zm10 98zm9 103zm-6 77zm9 9zm9-127zm13-167zm-4 104zm2 66zm4 65zm5-58zm-3-196zm31 162zm11-105zm9 21zm-5-22zm7-29zm6 274zm20-180zm-8-19zm14-65z"/>
<path stroke="#1fa287" d="M1880 2204zm24-245zm-8 241zm2 3zm5 75zm10 100zm6-3zm-2-352zm8 303zm2 54zm9-17zm2-181zm3-71zm2-13zm-1-252zm4 85zm0 154zm-1 316zm2 18zm11-5zm1-11zm7-121zm-4-372zm1-73zm9 66zm6 47zm-7 54zm-1 99zm-1 24zm20 212zm1-53zm-5-474zm9 131zm-2 239zm10 95zm4 192zm5-155zm0-466zm-1-10zm3-115zm3 240zm0 235zm2 77zm0 9zm-1 42zm11 42zm2-156zm2-83zm-1-14zm1-15zm2-114zm4-186zm1-19zm8-55zm-7 74zm5 56zm2 26zm1 94zm1 237zm-3 140zm5 12zm10-269zm-1-26zm-6-132zm-1-101zm7-5zm0-118zm10-42zm1 167zm-3 54zm0 9zm-2 298zm-2 24zm2 95zm10 99zm5-134zm5-19zm-9-140zm2-143zm8-190zm5 256zm5 67zm-6 353zm18-55zm-1-253zm3-311zm7-97zm4 83zm-10 18zm0 12zm10 63zm1 33zm2 478zm2-35zm-1-123zm1-19zm2-40zm4-226zm-3-77zm5-84zm-5-216zm8 76zm1 151zm0 313zm0 40zm2 273zm0 24zm16-769zm13-134zm-8 243zm2 105zm5 212zm-5 188zm7 114zm3-15zm6-53zm-5-192zm8-14zm-8-430zm5-32zm12 119zm-8 26zm3 69zm2 22zm-4 31zm8 85zm1 41zm-1 136zm-2 37zm-3 80zm-2 42zm10 48zm10-345zm-2-541zm14 42zm1 771zm1-74zm6-209zm-5-177zm0-323zm13 582zm2 15zm-1 107zm12 87zm-2-319zm9-73zm-2-43zm2-170zm-4-5zm-3-47zm12 20zm0 187zm7 292zm3 34zm6-333zm11 25zm0 373zm10-14zm2-167zm-4-137zm2-109zm6-64zm-3-72zm16 276zm10 103zm6-86zm18-23zm-8-74zm29 136zm12-78zm15 59zm-8-99zm20 19zm1 55zm9-34zm-6-3zm5-17zm15 15zm9 50zm-6-51zm3-16zm16-4zm-4 10zm0 1zm4 63zm440-99zm4-86zm37 167zm36-40zm30 47zm33-196zm12 199zm31-244zm32 156z"/>
<path stroke="#31668e" d="M1885 2293zm15-113zm2 2zm-4 146zm19-118zm-3-158zm19 195zm16-430zm2 151zm-7 54zm8 40zm-2 173zm-2 2zm12 181zm-2-22zm8-71zm-1-81zm0-37zm17 193zm8-20zm-8-92zm0-89zm2-170zm2-3zm14-76zm-2 369zm0 78zm12-169zm-1-154zm0-260zm11 155zm2 155zm5 189zm-6 122zm5 9zm7-431zm3-299zm10 97zm-2 564zm5 1zm6-280zm6-57zm-1-15zm-5-17zm1-45zm14-276zm-6 79zm2 274zm6 374zm-2 43zm8-75zm1-532zm10-100zm4 80zm1 107zm-6 32zm8 306zm-1 66zm-5 103zm16-137zm1-167zm-2-9zm-5-151zm10-160zm4-117zm7 643zm-5 12zm9 27zm7-187zm2-171zm-4-485zm6-16zm8 105zm-7 208zm4 175zm8 268zm1-151zm7-43zm0-199zm-1-136zm1-203zm10 8zm-2 259zm6 184zm12 251zm-9-51zm9-676zm7 2zm-1 512zm5 128zm-2 16zm15 110zm-11-130zm2-86zm-1-35zm8-17zm-3-178zm1-15zm-7-55zm1-247zm15 84zm2 188zm5 406zm-8 13zm10-395zm18-155zm-7 11zm2 70zm9 81zm-2 123zm11 199zm1-32zm-8-145zm3-313zm12 47zm9 382zm12 7zm8 66zm9-231zm15-35zm-3 144zm12 60zm9-3zm8 12zm7 4zm13 0zm22-140zm-3 23zm16 82zm2-38zm2-18zm8-14zm-3 44zm34-19zm-1-7zm461-98zm-2-3zm18-66zm9 140zm4-54zm-8-28zm-1-39zm9-13zm3-34zm7 176zm2 4zm5 52zm5-50zm-7-92zm13-56zm0 63zm7 34zm0 37zm-1 62zm2 31zm9-79zm-5-98zm7-18zm-9-48zm5-3zm-1-3zm8 56zm7 53zm-1 41zm-2 14zm2 29zm13 84zm-2-42zm5-38zm11-177zm-9 90zm16 163zm-4-13zm10-53zm-3-181zm0-7zm-4-54zm-3 0zm12 74zm3 8zm3 113zm14-35zm10 79zm17 65zm-6-52zm-1-45zm4-38zm3-171zm-6-17zm18 97zm-4 141zm0 7zm13-74zm-5-115zm-3-2zm23 40zm0 14zm6 138z"/>
<path stroke="#443b84" d="M1883 2150zm8 39zm0-140zm28 15zm20 257zm-3-403zm16 3zm-6 65zm2 308zm8-362zm23 426zm6 68zm0 0zm1-466zm17-88zm7 601zm-4-64zm5-441zm3-44zm2-118zm10 522zm6-306zm3-76zm-7-87zm20 101zm1 182zm12 335zm-9-82zm6-282zm0-154zm0-40zm10-91zm15 587zm0-42zm2-23zm-2-141zm-2-215zm1-123zm12-180zm4 362zm6 168zm6-330zm12-210zm-1 368zm1 76zm5 222zm19-634zm1 188zm-2 132zm13-266zm-10-55zm8-95zm-1-67zm12-24zm-3 604zm9 261zm8-315zm2-1zm-1-40zm-9-421zm0-6zm4-96zm13 30zm3 401zm-8 221zm22-324zm4-114zm1 97zm-4 293zm12 109zm7-106zm2-362zm2-132zm-9 0zm10 179zm5 365zm-4 101zm17-218zm1-228zm9-4zm4 259zm13 82zm-5-94zm11 214zm12 18zm3-37zm2-48zm3-284zm12-61zm8 199zm-3-25zm17 139zm8-126zm10-52zm19 42zm3-109zm15 55zm28 11zm7 33zm4 36zm440-174zm-3-11zm17 78zm15-12zm-4-34zm-3-14zm10-56zm9 60zm-5 44zm7 10zm-5 73zm13-42zm5-97zm12 37zm-8 40zm8 2zm-10 3zm7 40zm6 32zm9-24zm-10-12zm-1-6zm6-38zm1-49zm1-49zm3-15zm-2-2zm7-63zm0 59zm-3 54zm10 41zm-11 12zm2 42zm5 0zm-5 103zm20 3zm-7-11zm7-45zm-2-2zm0-8zm-2-5zm-6-28zm11-4zm-9-10zm7-44zm-6-11zm2-82zm6-10zm-7-34zm10-20zm8 9zm-1 33zm-6 12zm-1 6zm-1 18zm1 34zm8 6zm-9 30zm9 14zm-7 14zm2 23zm-1 8zm7 15zm-9 46zm5 15zm4 21zm4-8zm6-8zm0-7zm0-19zm-3-87zm-2-42zm3-12zm3-10zm-8-16zm5-27zm0-79zm-6-2zm21-12zm-9 68zm2 68zm-1 14zm8 21zm-2 59zm-8 0zm9 96zm-1 12zm13 61zm-9-15zm5 0zm-4-17zm7-61zm2-50zm-2-9zm-6-12zm4-77zm3-9zm1-27zm-6-5zm1-75zm16 7zm-9 56zm3 81zm-1 11zm-1 30zm-1 9zm3 2zm1 32zm-4 64zm9 24zm10 20zm-3-80zm-1-27zm-2-9zm9-22zm-5-69zm2-42zm-5-7zm8-77zm-1-25zm6-13zm-1 46zm3 19zm1 69zm-4 79zm6 38zm-3 40zm0 33zm5 51zm11-108zm-6-38zm2-1zm0-8zm-5-18zm7-109zm-6-23zm2-22zm-1-13zm-1-36zm21 15zm0 8zm-7 0zm6 12zm-5 6zm7 9zm-4 2zm3 29zm-6 12zm6 2zm-5 10zm5 37zm-5 53zm2 31zm-1 3zm4 7zm-10 9zm6 77zm5 5zm-4 20zm1 7zm7-67zm-3-3zm11-107zm-3-34zm3-14zm-3-12zm-8-18zm11-43zm-8-4zm9 3zm4 16zm7 20zm0 190zm4-28z"/>
<path stroke="#38598c" d="M1904 2032zm7 267zm1-177zm17 67zm-4 177zm13 44zm-2-143zm15 123zm15-12zm6-149zm12-380zm19 40zm3 541zm4-16zm5-15zm-10-354zm2-113zm2-31zm-3-26zm14 344zm-2 119zm21-106zm-7-103zm-3-199zm3-15zm17 17zm-3 30zm2 370zm8 25zm6-66zm1-170zm-6-11zm9-209zm-2 71zm0 240zm14-258zm4-72zm2-112zm10-81zm2 341zm-7 286zm18-126zm3-126zm-1-91zm-8-66zm16 38zm5 155zm1 207zm6-202zm-4-225zm2-67zm18 65zm17-364zm-1 13zm5 48zm1 333zm0 553zm13-201zm-8-221zm11-164zm-6-155zm13-208zm-2 21zm1 108zm-1 419zm4 314zm9 39zm-3-253zm5-233zm1-79zm2-101zm0-237zm13 109zm-11 21zm6 587zm2 174zm13-514zm-9-292zm23 374zm-10 372zm21-193zm-9-72zm5-150zm3-3zm-3-245zm29 510zm-2-110zm1-182zm6-165zm11 241zm0-104zm23 76zm4-68zm14 55zm1 293zm6-132zm12 53zm17-71zm34-102zm-6 31zm17 21zm35-20zm413-93zm16-31zm11 82zm2-40zm8-39zm7 32zm3 33zm-7 2zm2 12zm8 35zm5-157zm17 64zm26-104zm-4 80zm-7 105zm8 35zm15 33zm-7-256zm-2-2zm14 0zm5 178zm0 70zm-4 56zm5 10zm-9 1zm17-83zm2-50zm-1-70zm-1-29zm-1-47zm4-35zm1-12zm8 49zm3 17zm-3 121zm-3 43zm-2 20zm2 24zm19-68zm-3-75zm-6-108zm17 31zm-3 46zm6 8zm-1 66zm-6 12zm1 16zm7 27zm-10 2zm0 76zm11 5zm-2 33zm8-103zm0-10zm-2-57zm7-10zm0-9zm-10-10zm11-65zm-8-41zm1-43zm0-8zm14 8zm4 54zm1 60zm-4 57zm4 4zm-6 101zm-3 21zm7 8zm-1 2zm-8 53zm14-86zm-1-24zm4-105zm-4-86zm4-11zm15-46zm1 80zm-4 29zm-5 24zm2 50zm4 99zm-5 17zm2 18zm6 7zm0 36zm14-270zm-7-45zm18 47zm-5 87zm4 50zm-7 41z"/>
<path stroke="#8bd646" d="M1870 2229zm-9-32zm-1-61zm17-74zm5 211zm7-117zm11-152zm2 33zm1 8zm-7 110zm9 66zm2 4zm9 52zm-6-18zm1-36zm0-215zm6-16zm-8-3zm17-27zm0 57zm0 1zm-6 138zm0 17zm5 49zm6 22zm-5 42zm5 7zm7 112zm-5-8zm6-30zm-4-13zm4-10zm4-15zm-5-10zm-4-12zm8-56zm-2-35zm-8-91zm5-98zm-5-6zm3-92zm2-59zm12 44zm-1 120zm-3 22zm4 102zm5 36zm-4 19zm2 17zm-3 18zm-3 18zm-1 19zm10 17zm-1 20zm1 55zm-11 48zm22-14zm-3-27zm-5-27zm-2-17zm0-39zm2 0zm7-18zm2-68zm-3-134zm3-83zm-11-90zm21 84zm-5 74zm-3 24zm6 189zm3 4zm-9 51zm9 5zm-3 0zm13 140zm-5-61zm6-4zm-9-41zm2-78zm2-27zm-3-1zm1-43zm1-25zm-2-59zm10-4zm-11-1zm11-14zm-7-105zm-1-6zm4-8zm-6-15zm6-40zm-2-9zm-3-3zm0-117zm17 72zm-3 3zm7 57zm-2 48zm-5 10zm7 65zm-10 159zm6 7zm-5 23zm6 36zm-1 66zm0 21zm-1 17zm-4 2zm6 58zm-8 27zm19-101zm1-22zm-3 0zm0-3zm-1-12zm-3-135zm4-15zm1-6zm-5-131zm6-27zm2-51zm2-13zm-1-30zm0-44zm-5-91zm0-21zm-1-57zm12 51zm7 45zm-1 97zm1 57zm-11 28zm0 31zm5 88zm4 73zm-2 25zm14 268zm-9-101zm9-22zm-8-4zm5-89zm0-13zm-1-102zm5-130zm-4-1zm-1-18zm-5-24zm2-1zm4-10zm-1-24zm6-40zm-1-21zm-4-65zm-5-8zm7-54zm-6-19zm13-24zm7 2zm1 78zm-7 4zm5 51zm-4 116zm-2 97zm-3 74zm7 2zm-5 63zm8 4zm-5 20zm4 14zm-7 12zm4 69zm5 24zm-11 15zm17 39zm5-1zm-6-39zm0-232zm0-14zm7-10zm-11-12zm8-4zm3-38zm-1-12zm-7-131zm8-2zm-3-67zm-7-23zm9-107zm8 46zm-1 23zm2 5zm-6 11zm4 32zm2 39zm-3 18zm7 19zm-11 39zm7 26zm2 54zm-7 40zm-1 299zm2 78zm2 7zm-2 23zm17-9zm-6-183zm-1-77zm9-1zm-1-24zm-4-25zm-2-17zm-3-113zm8-1zm1-8zm-2-245zm10-83zm0 34zm6 88zm-4 45zm-6 19zm7 34zm-6 69zm1 156zm8 47zm-5 18zm-3 83zm2 29zm6 41zm-4 90zm-1 5zm3 19zm13 7zm-3-31zm-1-2zm0-12zm0-22zm5-59zm-10-132zm5-3zm3-65zm-8-29zm5-81zm1-69zm-4-338zm15 119zm3 32zm-1 11zm3 46zm-10 35zm10 11zm-3 9zm0 47zm-4 25zm1 47zm-3 31zm0 8zm0 10zm-2 4zm2 7zm-1 189zm4 16zm6 132zm4 81zm-1-3zm5-5zm-2-63zm-1-1zm6-3zm-8-173zm-1-3zm3-113zm3-97zm-2-10zm0-9zm-3-6zm0-130zm1-246zm17 17zm-5 39zm5 39zm0 6zm-7 5zm9 19zm-7 152zm-3 7zm7 16zm-1 36zm4 155zm0 103zm1 75zm-2 20zm-4 3zm-2 83zm9 83zm4-53zm1-128zm-2-55zm5-21zm-3-8zm5-32zm-6-29zm-3-31zm5-36zm2-126zm-3-20zm2-89zm-7-15zm3-48zm1-36zm9-163zm0 202zm5 77zm-1 7zm2 52zm-6 17zm0 21zm7 30zm-7 28zm6 1zm4 30zm-1 4zm-3 54zm2 19zm-9 33zm10 51zm-2 5zm2 13zm-8 11zm3 21zm4 2zm-6 29zm8 64zm-2 6zm-4 15zm1 4zm8-31zm8-14zm-4-51zm-3-82zm7-25zm-1-150zm-8-17zm4-40zm-5-51zm5-27zm1-30zm-4-73zm6-13zm-2-24zm-3-170zm20 213zm-2 27zm-3 31zm-2 19zm-1 1zm1 82zm5 9zm2 27zm-1 14zm0 9zm-5 10zm-1 23zm7 32zm-6 63zm-5 26zm3 152zm4 37zm4 18zm-11 52zm22-72zm1-8zm-4-110zm4-152zm-3-28zm-6-101zm2-55zm4-14zm3 0zm-2-4zm2-36zm-4-66zm4-13zm-3-67zm0-20zm-1-22zm4-32zm-2-6zm-4-17zm8 50zm7 141zm-3 28zm-1 37zm3 11zm0 12zm4 44zm-1 35zm0 10zm-9 38zm2 104zm-2 45zm1 2zm9 143zm-5 15zm-5 25zm7 50zm3 35zm7-5zm-6-31zm8-22zm1-37zm-8-6zm1-70zm9-8zm-1-20zm-2-45zm1-6zm-1-170zm-6-37zm7-34zm0-4zm-4-45zm-3-145zm3-23zm17 92zm-4 91zm-2 18zm-2 34zm5 37zm3 8zm-7 108zm8 76zm-9 8zm-1 108zm-1 6zm6 47zm13-229zm-5-56zm9-18zm-8-44zm-2-109zm7-46zm11-132zm2 89zm-5 39zm-2 33zm4 35zm3 35zm2 64zm-2 77zm-4 59zm6 28zm-5 48zm-3 43zm2 4zm-3 12zm5 91zm8-96zm0-13zm-1-20zm6-67zm-8-3zm8-38zm3-94zm-10-132zm3-162zm5-18zm0-9zm8 69zm-4 0zm1 183zm8 82zm-1 33zm-3 51zm-6 4zm8 1zm3 78zm-2 44zm-9 27zm23-31zm-6-60zm3-1zm-3-74zm-4-28zm10-75zm-5-37zm-3-225zm10 77zm2 139zm10 317zm5-103zm2-55zm1-9zm-8-23zm6-55zm3-70zm-9-14zm18-61zm-7 4zm4 14zm7 50zm-9 62zm1 23zm0 56zm3 5zm-5 9zm-1 86zm3 9zm2 9zm9-90zm7-32zm-7-94zm2-31zm6-4zm-8-60zm4-8zm7 5zm8 71zm-7 14zm-2 44zm5 31zm5 2zm-3 77zm-7 34zm13-82zm10-33zm-3-24zm-4-44zm5-36zm-6-71zm14 66zm5 4zm-10 21zm1 19zm1 37zm12-81zm19-22zm-3 84zm2 18zm6 20zm8-14zm-3-37zm3-12zm-8-28zm18 64zm10-7zm-2-32zm2-1zm-3-31zm14-9z"/>
<path stroke="#6ccd5a" d="M1865 2263zm25 32zm3-101zm2-2zm0-85zm-8-10zm9-52zm9 38zm0 223zm14 76zm-9-221zm4-35zm4-26zm-10-121zm14 22zm6 63zm-7 1zm1 76zm2 95zm6 9zm-7 5zm5 4zm-5 4zm4 14zm15 114zm-5-16zm5-40zm-6-9zm4-42zm-5-11zm4-35zm-5-113zm7-15zm-1-107zm-1-25zm0-112zm13-30zm1 227zm-3 0zm1 8zm-6 4zm5 23zm-6 17zm10 83zm1 55zm-11 36zm6 54zm-1 77zm-4 18zm-1 5zm5 17zm16-68zm-1-29zm-5-39zm-3-8zm7-27zm3-107zm-9-143zm8-7zm-3-7zm5-9zm-8-15zm-2-16zm1-80zm4-22zm4-2zm8-40zm-1 103zm4 9zm-6 2zm-3 26zm3 187zm0 90zm8 11zm0 9zm-6 112zm1 31zm-2 28zm6 40zm5-3zm-2-42zm5-46zm0-176zm-6-103zm0-73zm8-24zm3-33zm-8-129zm16-96zm-6 94zm10 26zm0 127zm-1 37zm-5 31zm-5 31zm2 57zm3 26zm5 38zm0 28zm-4 26zm5 19zm-8 50zm4 43zm1 2zm-2 5zm1 9zm-7 5zm3 25zm4 9zm8-100zm0-1zm2-31zm0-94zm0-78zm4-22zm-7-31zm9-4zm-1-6zm-5-2zm2-134zm-3-103zm2-26zm13-23zm-1 158zm-4 235zm2 19zm-3 16zm8 24zm-5 33zm6 123zm-8 37zm17 72zm-5-54zm1-20zm8-20zm-8-3zm-2-107zm10-4zm-1-23zm-3-40zm0-154zm0-12zm4-37zm-9-71zm-1-2zm0-23zm8-1zm0-117zm-5-17zm2-13zm2-62zm12 10zm-2 51zm-2 39zm4 165zm0 43zm-5 8zm3 13zm-6 1zm3 40zm0 4zm-3 40zm11 41zm-5 41zm5 46zm-11 2zm0 9zm3 78zm-2 31zm8 19zm-4 72zm14-84zm-5-75zm-1-18zm-1-46zm1-24zm9-12zm1-8zm0-17zm-1-36zm-3-24zm1-10zm-8-26zm8-29zm-5-53zm0-5zm-1-48zm-2-26zm1-20zm1-36zm5-5zm-3-121zm-4-29zm18 156zm4 19zm-5 46zm-4 50zm7 35zm-8 151zm2 39zm1 95zm-1 32zm8 95zm1 41zm1 14zm8-4zm-4-1zm5-68zm-2-10zm3-124zm-9-104zm5-33zm-4-71zm7-62zm2-27zm-7-9zm-3-13zm3-42zm5-40zm-3-64zm5-53zm-10 0zm-1-60zm4-33zm19 22zm0 19zm-6 213zm0 52zm1 31zm0 140zm1 6zm3 6zm1 13zm-11 52zm0 272zm22-5zm-1-50zm-3-143zm-4-56zm7-6zm2-151zm-2-8zm-8-34zm0-54zm9-7zm-1-43zm-3-16zm6 42zm0 37zm11 89zm-6 10zm6 18zm-11 14zm0 16zm11 36zm-10 165zm2 53zm-2 3zm3 9zm3 11zm-4 6zm19-7zm-7-23zm6-13zm-7-106zm8-6zm-2-49zm0-215zm2-29zm-6-15zm-2-41zm-1-88zm7-89zm12-187zm-7 182zm6 51zm2 40zm-4 28zm-2 38zm2 67zm4 164zm-2 12zm1 13zm2 209zm-8 38zm-2 15zm0 7zm0 5zm7 51zm12-79zm4-61zm-2-22zm2-9zm-1-17zm-1-12zm-7-205zm3-8zm-2-26zm3-27zm-5-47zm8-28zm-7-29zm-2-1zm1-165zm4-191zm16 174zm-5 2zm6 42zm-9 45zm-1 28zm4 62zm5 13zm2 42zm-7 288zm0 12zm-1 67zm5 37zm-2 14zm-6 21zm10 24zm-10 6zm13-35zm2-29zm-1-10zm9-13zm-9-5zm-1-29zm8-10zm1-5zm-1-96zm-9-15zm11-24zm-2-3zm-6-23zm0-29zm7-23zm0-30zm-7-1zm7-69zm-6-62zm4-37zm-8-5zm5-107zm4-34zm-7-111zm5-71zm16 153zm-4 111zm-2 81zm4 12zm-9 295zm8 6zm-3 17zm0 96zm1 52zm1 19zm12-25zm-1-18zm3-7zm-8-95zm-1-8zm10-51zm-2-64zm-1-5zm-4-42zm6-14zm0-5zm-2-132zm-3-27zm1-3zm5-26zm1-36zm-1-65zm-4-12zm-5-93zm1-8zm17-31zm-3 20zm2 69zm-5 39zm0 18zm4 10zm-3 109zm5 22zm-4 75zm0 54zm-3 37zm11 48zm-7 23zm5 53zm-5 17zm7 37zm-9 9zm8 95zm-10 18zm3 1zm1 43zm-1 18zm14-51zm0-126zm6-7zm-6-2zm-3-79zm5-27zm1-15zm0-33zm2-18zm-8-23zm5-21zm-5-4zm7-43zm-9-134zm11-19zm-3-23zm-1-23zm-6-1zm4-7zm5-11zm1-21zm-1-6zm-2-48zm-2-97zm11 102zm6 53zm-11 38zm10 93zm-10 62zm9 65zm-6 13zm2 6zm6 51zm-2 114zm1 8zm-1 8zm-4 0zm-5 11zm7 7zm-7 64zm1 63zm17-40zm-5-42zm1-14zm5-92zm-7-74zm9-67zm-4-90zm0-175zm0-29zm16-21zm0 14zm-3 34zm3 4zm-1 61zm3 28zm-1 45zm-5 17zm3 27zm1 78zm-9 73zm5 186zm14 39zm-3-44zm-3-17zm-1-235zm1-12zm0-31zm-1-19zm0-19zm9-103zm-3-48zm-6-19zm15-73zm0 69zm-3 5zm1 221zm4 13zm-4 106zm8 73zm-1 18zm-3 12zm1 2zm3 24zm-4 13zm-2 15zm1 10zm14-20zm-3-59zm8-138zm-2-1zm-4-59zm-4-12zm5-41zm-1-39zm3-16zm-1-2zm3-21zm-8-103zm17 39zm-3 4zm3 180zm0 3zm-2 29zm0 5zm1 28zm-2 181zm15-89zm-7-20zm10-98zm-2-2zm-8-95zm11-41zm-10-89zm21 106zm-3 100zm-5 28zm1 48zm4 68zm14 45zm-3-116zm5-6zm-7-14zm3-137zm5-42zm10 116zm-10 1zm11 13zm-6 135zm-2 22zm15-135zm1-48zm-2-29zm11 0zm-2 27zm3 52zm2 5zm2 69zm10-21zm16-119zm-8 6zm7 48zm-6 38zm17-14zm-7-6zm21 13zm10-34zm-9-65zm13 65zm11 8z"/>
<path stroke="#cde11d" d="M1862 2167zm1-55zm14-39zm-2 118zm1 59zm6 2zm-4 54zm16-24zm-2-101zm-3-133zm8-16zm7 196zm-1 29zm2 8zm9-17zm-5-1zm0-20zm10-12zm-8-13zm5-23zm-7-4zm6-28zm5-187zm8 25zm-4 86zm5 23zm-2 29zm-6 31zm4 181zm6 57zm9-25zm-7-211zm8-45zm-1-127zm-5-112zm18 301zm-9 58zm5 59zm6 63zm-9 14zm3 59zm-1 17zm11-10zm2-32zm-1-142zm1-21zm1-73zm2-25zm-2-131zm0-31zm-2-55zm3-42zm-4-41zm11-25zm0 73zm5 108zm-6 1zm0 36zm6 74zm1 119zm-6 23zm3 37zm6 38zm-11 36zm2 6zm18 38zm-1-135zm1-43zm-4-19zm-2-5zm1-121zm5-18zm3-11zm-11-54zm5-30zm18-202zm-6 82zm-3 231zm4 198zm-5 41zm13 162zm2-63zm5-153zm-9-40zm5-10zm0-141zm-4-3zm9-57zm-10-44zm1-121zm16-93zm3 61zm-3 105zm-3 201zm3 82zm1 225zm6-6zm11-66zm-5-125zm-4-23zm9-231zm1-219zm3 47zm6 32zm-8 78zm10 23zm-11 64zm0 217zm11 176zm10 90zm-2-12zm1-69zm-4-173zm4-290zm0-8zm0-62zm0-58zm12 75zm1 4zm-2 4zm3 109zm0 60zm1 34zm-8 13zm0 138zm4 48zm4 161zm-2 29zm8-152zm1-104zm3-59zm-9-40zm10-188zm-2-60zm-2-152zm7-50zm-1 1zm1 99zm3 43zm4 39zm-7 133zm9 72zm-1 121zm1 10zm-2 34zm3 27zm-1 30zm-4 37zm-6 6zm3 13zm7 84zm-3 65zm5-18zm3-38zm0-311zm1-254zm12-137zm-3 42zm10 351zm-1 20zm-7 47zm-3 14zm7 181zm16 31zm-2-142zm-4-65zm1-221zm3-212zm1-64zm-7-33zm15 154zm5 15zm-11 71zm0 120zm8 271zm-4 67zm-3 14zm11 102zm6-255zm-6-29zm8-196zm1-285zm8-86zm-5 79zm0 165zm2 35zm2 148zm6 57zm0 20zm-7 72zm-2 35zm4 66zm-4 43zm4 43zm-4 67zm22-45zm-9-86zm4-1zm-3-377zm-1-15zm-2-19zm10-86zm1-119zm1-20zm7 252zm0 84zm-2 75zm1 35zm4 84zm-4 85zm-1 106zm4 2zm14-40zm-11-89zm8-17zm-8-46zm4-92zm-2-154zm7-7zm-9-10zm3-6zm-1-49zm9-58zm-11-15zm10-74zm-3-40zm-3-60zm0-48zm15-12zm-3 175zm-4 74zm5 4zm1 72zm5 165zm-4 132zm-6 92zm10 16zm3 29zm4-122zm-3-57zm-3-134zm8-111zm-2-4zm-6-80zm9-75zm14-12zm-5 77zm-3 135zm2 49zm-1 2zm-2 23zm9 61zm-4 32zm-4 87zm-2 2zm15 99zm-1-11zm-2-29zm10-49zm-4-51zm-4-140zm0-108zm3-94zm-1-5zm5-20zm-1-24zm-9-37zm6-28zm17 239zm-7 195zm-2 19zm7 57zm2 1zm-4 52zm-7 18zm18-51zm-3-112zm1-72zm2-23zm0-46zm2-174zm6-37zm1 111zm7 18zm-5 134zm6 71zm-5 25zm-5 119zm16-2zm-1-116zm3-44zm-5-17zm21-285zm-10 175zm1 13zm1 61zm-2 2zm10 152zm-3 6zm9-81zm4-120zm0-5zm10-141zm-3 129zm3 106zm-7 73zm5 16zm-3 55zm19-153zm-1-136zm1-5zm0-12zm6-2zm4 32zm2 40zm2 49zm-4 66zm-7 29zm19-155zm7 16zm7 24zm-7 13zm12-37zm18-53zm-5 34zm7 3zm5-22zm31 35zm1-50z"/>
<path stroke="#2c728e" d="M1907 2202zm9 171zm1-193zm-8-54zm18-17zm-4 57zm-1 168zm9 51zm19-304zm0 165zm-5 21zm28-19zm5 115zm4-203zm7-45zm-7-209zm20-15zm1 373zm4 42zm-3-12zm3-41zm-1-163zm7-221zm5-17zm9 250zm9 305zm-3-224zm-4-49zm19-387zm-7 175zm5 412zm-4 9zm8 71zm3-280zm2-63zm12-120zm-3 63zm3 138zm-3 331zm20-3zm-6-511zm4-314zm17-10zm-10 3zm4 487zm-4 194zm3 33zm-2 59zm2 15zm18-109zm-6-100zm2-483zm12 286zm16 302zm-10-30zm11-353zm24 387zm-6-38zm-3-12zm7-368zm2-128zm-8-104zm16 282zm16 331zm-6-121zm2-82zm1-17zm1-152zm-3-103zm8-312zm9 217zm0 287zm-8 113zm20 338zm0-419zm-3-114zm-5-293zm1-116zm9 16zm5 121zm1 45zm4 190zm-10 21zm20 448zm2-200zm-1-281zm-7-26zm10-133zm6 107zm-4 359zm9 53zm6-224zm-1-64zm16-37zm3 270zm22-136zm6 203zm1-398zm7 37zm2 113zm9 40zm-1 125zm2 34zm21-37zm10-161zm-1-53zm20 147zm20-79zm-2 13zm-4 57zm30-53zm0 38zm41-85zm439-111zm21 63zm4 77zm11 11zm12-218zm5 251zm2-102zm-3-108zm-2-11zm22 10zm-6 94zm1 35zm16-60zm-9-22zm34 2zm6-99zm3 52zm3 228zm-10 24zm11 40zm1-31zm29-5zm2-174zm10 152zm10 36zm3-34zm4-27zm-5-229zm16-11zm7 164zm-1-199zm19 94zm-2 107zm-5 22z"/>
<path stroke="#481c6e" d="M1873 2045zm81-184zm-5 221zm13-49zm21 305zm8-449zm11 55zm4 531zm8-163zm29 38zm15-38zm2-332zm-3-3zm17-182zm-10 215zm11 183zm-11 128zm9 21zm8-183zm6-427zm24 480zm-9-68zm28 299zm-1-550zm1-74zm7-94zm7 57zm3 123zm0 49zm2 343zm19-428zm-7 168zm3 3zm11-54zm5-132zm24 505zm17-696zm11-44zm5 187zm0 183zm18 341zm-11-311zm19-108zm8-18zm29 342zm-4-480zm28 427zm1-146zm5-118zm53 72zm2 110zm494-162zm-3-68zm30 29zm9 46zm10 24zm-4-50zm-4-38zm25 196zm-2-55zm3-29zm3-14zm-5-22zm6-135zm-5-9zm21 24zm-6 17zm2 89zm3 66zm-6 82zm0 2zm19-139zm-1-74zm-5-68zm17-20zm-9 76zm7 30zm-5 28zm3 10zm0 41zm3 26zm-7 29zm1 15zm12 99zm7-65zm-3-41zm-5-25zm7-82zm1-17zm-10-9zm5-39zm11-87zm1 22zm5 100zm-10 51zm7 49zm4 92zm1 63zm1-55zm9-6zm-8-30zm7-25zm-2-25zm-1-24zm-6-90zm7-25zm5-47zm3 37zm5 5zm-1 27zm3 62zm-9 51zm7 78zm3 41zm-10 7zm1 27zm12-64zm9-107zm-4-68zm-4-8zm1-117zm9-39zm6 15zm4 85zm-3 198zm5 38zm0-30zm11-272zm7 81zm-2 4zm-4 49zm0 8zm9 128zm8-33zm3-59zm1-5zm-6-4zm7-68zm-10-21zm19 121zm10-17zm-6-19zm0-86z"/>
<path stroke="#addc30" d="M1862 2246zm18-139zm-2 76zm5 31zm-8 30zm7 2zm9-14zm-7-50zm10-57zm1-28zm-11-11zm1-44zm5-1zm-5-23zm12-38zm5 22zm-5 1zm8 57zm-3 51zm-1 16zm3 92zm-6 12zm0 21zm16 44zm4-81zm-10-41zm11-15zm-7-16zm-3-6zm5-31zm-5-27zm4-27zm-5-47zm10-10zm-7-10zm3-22zm11-56zm0 228zm1 27zm4 20zm0 62zm-10 15zm20 83zm0-2zm1-35zm-5-4zm7-9zm-4-24zm-2-5zm6-30zm-10-2zm1-28zm-2-58zm7-8zm-2-17zm0-185zm-2-26zm3-2zm2-41zm14 64zm-9 16zm-1 204zm2 3zm2 169zm5 8zm-1 76zm12-54zm-3-83zm0-59zm-2-23zm-3-53zm6-144zm-6-2zm7-52zm-5-39zm5-68zm0-6zm7 250zm1 34zm-1 96zm-2 54zm10 17zm-3 5zm-1 11zm4 15zm-7 23zm4 64zm-7 27zm20 28zm-1-96zm-2-5zm-4-33zm10-203zm-11 0zm3-31zm1-68zm2-1zm-3-14zm6-17zm2-40zm5-171zm5 99zm-9 39zm1 19zm6 60zm-3 24zm2 165zm5 13zm-8 30zm6 130zm-9 63zm15 76zm2-36zm5-16zm0-38zm0-74zm-9-2zm4-7zm1-23zm-5-19zm0-45zm1-18zm8-22zm-4-156zm4-7zm-5-25zm-5-18zm5-100zm-2-12zm4-41zm3-43zm13 115zm-4 57zm-7 47zm10 0zm-9 9zm1 15zm3 73zm-2 8zm0 30zm7 8zm-9 39zm-1 15zm2 92zm8 44zm-9 22zm3 17zm-3 28zm10 75zm0 18zm9-23zm0-55zm-3-4zm5-6zm-8-66zm7-7zm1-5zm-7-69zm6-32zm2-21zm-4-32zm1-21zm-7-39zm6-93zm4-10zm-7-30zm4-3zm0-69zm-4-60zm0-3zm-3-38zm9-72zm0-44zm4 40zm-2 60zm11 33zm-7 22zm-3 18zm3 15zm2 4zm2 15zm-4 55zm2 54zm3 34zm-4 48zm-5 42zm8 2zm2 78zm-7 5zm8 7zm-5 16zm-4 7zm2 28zm0 23zm-4 1zm9 24zm-5 19zm4 44zm-2 40zm-1 8zm13 56zm-3-86zm3-115zm-3-9zm8-95zm-3-12zm0-18zm0-121zm-2-57zm-4-5zm8-38zm-4-22zm-1-19zm6-122zm-11-21zm0-82zm12 192zm4 34zm-1 5zm-3 79zm4 24zm2 97zm-4 122zm1 140zm6 62zm-4 34zm-5 2zm16 28zm3-31zm2-7zm-8-60zm0-222zm9-164zm1-46zm-1-31zm-6-6zm0-22zm-4-5zm9-119zm-7-8zm3-64zm9 20zm3 13zm6 191zm-5 137zm4 23zm0 33zm-7 65zm2 44zm-4 63zm8 94zm1 7zm1 109zm-5 3zm12-15zm3-14zm-4-53zm1-13zm4-126zm-3-34zm-3-192zm1-30zm-3 0zm2-146zm-4-45zm5-15zm-3-39zm5-60zm6-19zm6 16zm-6 34zm8 20zm-4 23zm-1 29zm7 11zm-2 61zm2 22zm-7 15zm-1 117zm7 71zm-8 41zm1 28zm5 18zm-6 31zm9 49zm-3 16zm-3 1zm6 53zm-1 4zm-3 31zm-1 113zm10-49zm3-3zm2-166zm-2-52zm2-39zm-9-48zm6-72zm0-12zm4-26zm-1-7zm-2-13zm-1-68zm5-141zm-9-188zm13 34zm4 148zm3 0zm-9 73zm0 11zm10 33zm-6 19zm4 20zm-3 36zm-1 54zm-4 57zm5 66zm3 2zm-8 14zm-1 63zm8 2zm-2 6zm4 15zm-4 74zm10 77zm5-53zm-7-30zm7-7zm1-7zm-5-44zm3-56zm3-9zm-1-39zm0-103zm-8-5zm8-11zm1-16zm-9-68zm9-75zm-4-48zm-7-60zm14-205zm8 122zm-3 105zm-7 29zm2 1zm7 88zm-1 68zm-8 38zm10 18zm-4 11zm0 5zm1 61zm2 30zm-9 62zm0 21zm4 40zm7 37zm-4 50zm-7 53zm4 13zm15-63zm1-9zm-1-26zm1-220zm-2-48zm2-131zm-7-11zm10-11zm-5-27zm0-48zm-2-7zm-2-36zm4-72zm2-36zm-1-66zm11 66zm-3 15zm1 15zm-2 82zm6 31zm-8 60zm3 36zm8 201zm-7 17zm7 29zm-2 8zm-6 3zm4 27zm-4 25zm8 74zm-10 4zm8 114zm8 1zm-5-67zm8-4zm-7-50zm8-7zm2-152zm-9-8zm1-53zm-1-51zm8-54zm-5-157zm-2-10zm5-55zm2-5zm-8-26zm7-12zm0-100zm6-47zm2 122zm0 103zm-2 52zm6 24zm-2 7zm0 137zm-6 3zm4 42zm5 75zm-4 25zm-4 32zm8 20zm-4 37zm-1 60zm4 51zm-4 52zm4 6zm-4 23zm12-135zm-1-79zm7-26zm-10-14zm1-61zm8-22zm-5-15zm-3-70zm7-142zm-3-18zm-6-23zm11-12zm-10-32zm5-8zm17 34zm-7 12zm7 239zm-8 18zm-2 43zm9 1zm-8 11zm6 10zm-7 3zm-1 6zm7 19zm-1 3zm3 3zm-3 2zm-1 51zm-5 156zm2 5zm12-28zm8-107zm-4-15zm-3-66zm-2-41zm6-4zm2-72zm-1-31zm3-8zm-9-15zm8-75zm-5-40zm-5-87zm4-47zm14 2zm1 14zm2 40zm2 1zm-2 73zm-4 30zm-1 23zm-3 58zm1 16zm6 28zm-6 50zm9 89zm-1 80zm-9 20zm0 8zm5 21zm6-6zm9-32zm-3-8zm-5-62zm3-5zm6-22zm-2-23zm-5-259zm19-57zm-6 283zm-2 2zm5 29zm1 19zm-3 86zm-5 96zm23-78zm-5-50zm2-18zm-8-15zm7-22zm-5-16zm2-2zm3-19zm2-95zm-4-7zm2-18zm-4-73zm0-78zm5-34zm1-47zm-2-40zm15 155zm-3 2zm-6 63zm9 0zm-4 99zm5 19zm-9 65zm15 59zm2-13zm-3-4zm2-56zm-3-53zm5-6zm-2-87zm2-3zm1-3zm-1-49zm-1-42zm-4-36zm13 71zm0 19zm-4 36zm2 29zm6 9zm0 44zm-7 4zm6 67zm0 42zm5 28zm10-45zm-6-93zm-3-27zm2-19zm2-64zm-3-8zm1-36zm-1-37zm12 118zm0 7zm5 3zm-1 6zm-1 42zm-2 25zm7 50zm-8 13zm12-53zm8-157zm8 3zm-2 1zm1 21zm-3 34zm17 21zm1-14zm1-36zm-7-27zm16 34zm-1 14zm-5 13zm10 1zm-8 35zm9 5zm-10 12zm19-8zm-7-71zm14 33zm3 11zm7 78zm9-67zm-7-4zm6-17z"/>
<path stroke="#28ae80" d="M1885 2146zm16-175zm-5 37zm3 162zm4 168zm12-23zm-5-64zm-2-100zm10-154zm3 252zm21 66zm-7-22zm-3-265zm17-175zm-2 348zm-2 35zm9 58zm-6 4zm-4 55zm20-216zm-8-1zm3-85zm8-105zm3-79zm2 70zm4 64zm2 359zm5 69zm9-334zm6 156zm-1 199zm0 1zm9 35zm8-192zm-10-32zm15-288zm2 307zm-4 92zm5 50zm7 66zm-1-411zm7-132zm-3-101zm27 635zm4-130zm-5-78zm-5-63zm5-7zm2-82zm-2-11zm-3-111zm-3-233zm13 147zm2 82zm-3 192zm7 214zm3 10zm-6 35zm11-3zm4-38zm2-346zm-3-186zm-6-55zm18 380zm3 55zm2 128zm10 108zm-4-367zm1-268zm2-10zm4 142zm5 9zm-5 292zm3 104zm16-90zm1-42zm-6-99zm0-51zm7-18zm1-390zm8 280zm-4 387zm12-170zm4-330zm-3-35zm20-15zm-4 143zm-6 229zm1 27zm7 45zm0 18zm-6 5zm8 78zm8 62zm-1-55zm-4-290zm-2-202zm3-2zm7-43zm7-31zm6 46zm-1 362zm7 125zm4-9zm-3-149zm-3-165zm14-239zm11 612zm5-46zm-5-31zm0-242zm4-164zm-1-99zm5-32zm3 116zm-2 166zm22 260zm-1-429zm12 193zm-8 132zm5 14zm-5 80zm12-93zm9-22zm-6-74zm2-184zm3-102zm-6-27zm13 322zm2 164zm9-34zm5-125zm2-72zm-7-177zm16 93zm-6 44zm-1 52zm28 135zm34-119zm3-44zm-6-5zm0-81zm16-7zm0 16zm7 37zm-8 53zm8 28zm-7 17zm24-133zm2 25zm1 18zm4 64zm-7 19zm18-96zm-3-12zm0-40zm6 37zm17 91zm-4-131zm10 57zm4 6zm2 40zm-6 25zm448-97z"/>
<path stroke="#460a5d" d="M1990 1900zm11 162zm5-151zm12 279zm17-404zm25-53zm9 199zm3 423zm7-39zm24-320zm11-226zm64-251zm45 489zm19 207zm25-369zm40 232zm575-143zm37 100zm3-2zm7-177zm-1 56zm1 69zm8 10zm6-45zm-3-31zm20 84zm-4 50zm26-267zm-1 86zm4 15zm-7 109zm19 94zm2-231zm-3-16zm25 309zm1-131zm-6-174zm12-32zm8 294zm2-308zm10 329zm4 8zm18-8zm4-243zm2 147zm-4 75zm21-70zm13-223zm-4 232z"/>
<path stroke="#277e8e" d="M1879 2017zm25 171zm15 223zm-6-140zm-2-34zm1-203zm9 340zm12-149zm33 116zm13-364zm-5 109zm0 187zm16 118zm-5-92zm-1-56zm7-150zm8-73zm3 2zm-3 52zm1 121zm5 116zm8-153zm-3-57zm3-169zm10-222zm-7 228zm5 17zm7 433zm2-81zm-1-306zm1-39zm14-230zm6 47zm-8 552zm12 23zm8-112zm5-364zm16 321zm-1-265zm29 333zm0-10zm-5-36zm-2-37zm6-2zm-1-177zm-3-58zm12-300zm-2 43zm0 163zm5 144zm10 262zm-1-35zm-5-88zm6-125zm-7-181zm0-21zm3-217zm14 407zm-1 270zm-4 24zm21 57zm2-249zm-1-523zm6-49zm-1 307zm3 488zm1 62zm9-41zm3-230zm-6-367zm1-137zm11 132zm7 112zm-5 223zm5 220zm3 46zm12-589zm-9-15zm7-203zm-6-15zm11 73zm21 712zm-9-64zm1-183zm0-443zm17 644zm-4 67zm29-534zm-8 241zm15 222zm-1-52zm6-135zm1-2zm-5-7zm6-147zm-7-7zm-1-151zm11 47zm4 166zm6 280zm32-128zm23-51zm24 12zm25-100zm37-39zm-3 72zm14 71zm1-102zm-6-32zm15 39zm480-133zm0 157zm17-6zm-8-85zm-3-19zm21-88zm2 82zm-6 57zm10-64zm0-37zm5-28zm-4-34zm4-13zm13 42zm-5 51zm2 16zm8 228zm3-45zm2-104zm28 130zm-6-52zm4-132zm11-145zm0 133zm-5 99zm10 180zm4-99zm0-24zm-2-241zm7-31zm4 89zm4 199zm-1 14zm18-56zm18 78zm0-3zm4-132zm-9-132zm1-29zm15 276zm11-248z"/>
<path stroke="#238a8d" d="M1895 2337zm-1-154zm-6-64zm29 249zm-9-86zm2-39zm4-66zm16 116zm5 81zm4-319zm11-156zm4 199zm-8 73zm3 131zm20-289zm0 201zm4 191zm14 61zm-3-339zm2-44zm1-23zm-7-114zm19 171zm8 362zm3-283zm-5-44zm1-120zm9-169zm-5-49zm2-87zm9 544zm-1 87zm1 5zm-5 31zm17 32zm0-96zm6-381zm2-207zm8 300zm-1 374zm3 23zm7-32zm3-113zm-1-20zm3-263zm0-57zm-10-118zm15-47zm-3 181zm6 199zm1 33zm-8 46zm17 238zm2-457zm-5-2zm8-69zm0-173zm10-163zm3 512zm-5 48zm-1 67zm7 204zm6-175zm1-191zm1-8zm-1-35zm-2-364zm7 151zm10 169zm-1 366zm3-191zm9-16zm-6-155zm4-38zm-6-226zm7-33zm15 84zm-2 127zm2 125zm-4 143zm-4 68zm4 37zm16 150zm-6-478zm-1-117zm6-115zm-1-221zm11 24zm-1 99zm4 835zm3-395zm4-18zm-6-123zm3-15zm0-384zm20 324zm-10 144zm6 167zm-7 108zm4 144zm12 16zm-4-32zm1-277zm3-52zm10-177zm5 46zm13 423zm0-19zm-1-50zm-3-152zm-2-196zm7-66zm-7-28zm2-4zm7-54zm-2-9zm-7-168zm1-3zm15-3zm5 113zm-3 540zm12-74zm-7-31zm9-58zm-5-177zm2-226zm7-3zm6 495zm-4 164zm9-21zm9-149zm2-279zm4 234zm5 153zm3-147zm3-181zm19 32zm-7 131zm8 137zm3-109zm13-45zm1 49zm8 103zm19-316zm-5 124zm45 24zm6-45zm2 60zm10-106zm-2-12zm16 27zm0 2zm448-119zm44 70zm3-25zm1-98zm6 70zm6 13zm-2 136zm15-265zm5 83zm0 160zm-5 25zm23-100zm20 54zm-3-63zm7-61zm10 2zm2 63zm-1 44zm11 64zm0-10zm-3-275zm4-14zm13 119zm-2 92zm9-30zm2-65zm15 6zm10 164zm6-61zm-2 20zm2 10zm3 38zm18-103zm14-97z"/>
<path stroke="#472d7b" d="M1929 1903zm6 229zm31 188zm-4-200zm-6-106zm12-89zm15 447zm8-310zm-8-245zm14 50zm36 544zm6-222zm-2-22zm-5-366zm7-25zm3 211zm2 221zm4 202zm9-93zm-2-36zm-2-130zm26 270zm8-602zm3-76zm7 516zm2 149zm-10 16zm21-203zm-1-322zm-3-106zm6 184zm19-59zm-4-181zm0-62zm10 27zm7 163zm-2 52zm3 101zm9 412zm-3-177zm-3-243zm4-347zm0-155zm18 18zm-2 20zm-1 591zm3 252zm-4 75zm12-323zm3-274zm-6-24zm2-176zm-5-53zm12-104zm11 35zm-3 179zm2 83zm-8 36zm-1 11zm3 167zm1 60zm1 60zm6-87zm8-6zm-2-189zm0-229zm2-2zm-7-96zm16 93zm-3 24zm7 67zm5 526zm7-13zm1-491zm11 69zm-8 7zm8 412zm14 155zm-5-288zm-4-369zm15 384zm-1 134zm14-283zm3-6zm-9-171zm12 32zm11 143zm7 301zm-4-127zm0-81zm2-326zm10 309zm0 172zm13-113zm19-191zm19 210zm-2 3zm18-152zm52 97zm22 27zm-5-41zm446-157zm-7 45zm8 4zm9-39zm-5-18zm13-13zm7 118zm1 1zm7-141zm17 57zm-3 52zm-2 40zm18 89zm-9-62zm1-60zm1-17zm5-93zm2-2zm5-3zm6 20zm1 128zm5 9zm2-150zm9-17zm5 29zm3 81zm-6 54zm5 58zm-10 2zm4 60zm0 11zm17 13zm-9-46zm3-37zm-2-71zm10-10zm-1-54zm-9-36zm1-62zm9-10zm-6-46zm11 35zm0 41zm1 4zm-1 77zm5 17zm-9 1zm7 20zm1 14zm-3 87zm1 7zm-3 50zm13 41zm-1-97zm7-3zm1-17zm-7-55zm4-65zm-7-91zm12 106zm5 106zm14 60zm0-70zm-6-2zm-2-92zm0-2zm3-34zm6-91zm2-12zm11-15zm-8 57zm1 21zm-1 19zm0 71zm7 1zm-4 17zm-1 76zm4 27zm8 48zm2-15zm-4-98zm5-38zm-5-26zm6-115zm-6-25zm5-10zm-3-5zm14-8zm2 107zm-2 3zm-2 17zm7 17zm0 79zm-2 57zm-4 4zm6 12zm-3 39zm4-71zm1-9zm9-13zm-9-25zm10-74zm3-105zm-1 19zm4 64zm3 26zm2 52zm-2 19zm-7 85zm11-140zm8-23zm3-64z"/>
<path stroke="#3e4a89" d="M1892 2363zm12-287zm7 248zm20-358zm19 340zm28-47zm2-88zm6-15zm13-283zm-2 267zm6 173zm5-160zm-1-64zm1-75zm2-259zm7-20zm-1 467zm6 263zm11-666zm17-60zm-2 468zm-3 224zm2 11zm18-156zm12-282zm9-170zm10 521zm12-277zm-8-329zm18 78zm-4 119zm20 33zm-8-22zm3-273zm-1-16zm14-141zm3 79zm-2 29zm-2 93zm-2 48zm-2 176zm17-219zm17-214zm0 544zm2 325zm0-282zm-1-108zm2-39zm8-324zm-6-90zm7-19zm12 91zm-8 83zm6 544zm5 48zm9-343zm-11-130zm9-124zm0-19zm1-134zm-9-6zm22 166zm-2 85zm-9 440zm6 38zm-5 12zm11-12zm11-9zm-5-513zm-4-70zm15 401zm24-315zm-1 228zm-3 184zm4 79zm9-307zm7-107zm4 163zm12 61zm17-47zm16 293zm-2-96zm5-85zm10 142zm8-264zm69-6zm2-6zm17-7zm-8 34zm8 26zm1 17zm413-142zm29 5zm-10-21zm42-38zm-3 133zm20-5zm-8-18zm-3-2zm18-132zm4 28zm-1 39zm-9 4zm1 1zm7 29zm1 9zm-1 26zm0 17zm-6 53zm3 6zm9 39zm5-19zm-3-79zm2-72zm5-13zm-9-52zm8-57zm3 24zm8 59zm-5 1zm-1 3zm6 15zm-9 52zm7 14zm-7 59zm1 16zm-1 5zm3 11zm1 25zm5 24zm8-11zm3-64zm-3-2zm-2-28zm-3-60zm4-10zm3-14zm2-10zm-1-37zm-3-40zm2-40zm-2-6zm9 53zm5 118zm-6 133zm12 3zm5-184zm12-135zm-6 128zm5 82zm1 40zm5 100zm-7 6zm0 19zm16-18zm3-37zm-3-7zm-3-5zm-3-41zm-1-133zm1-13zm5 0zm0-19zm2-20zm2-11zm0-36zm0-5zm9-7zm-3 14zm1 52zm1 166zm-1 5zm2 52zm-4 60zm3 3zm11-33zm4-9zm-5-48zm-2-55zm-3-2zm2-33zm7-23zm-8-111zm12 36zm4 19zm1 49zm4 5zm1 21zm-1 23zm-10 4zm0 5zm11 52zm-6 33zm8 18zm3-30zm3-14zm-4-9zm7-35zm-9-69zm1-21zm19-95zm-4 42zm0 61zm6 92zm-3 93zm-7 24zm20-10zm-7-151zm12-141zm8 50zm-3 1zm-2 14zm-1 50zm1 37zm5 59zm11-218zm3 11z"/>
<path stroke="#38b977" d="M1880 2118zm10 168zm-3-7zm11-231zm1 62zm2 28zm11 186zm3-40zm1-38zm4-289zm6 108zm-6 140zm4 45zm6 43zm10 64zm-4-236zm10-260zm5 23zm-1 9zm-5 76zm3 16zm2 3zm-5 9zm1 71zm0 17zm3 216zm-4 103zm14 14zm-2-31zm0-157zm0-39zm8-38zm-6-4zm0-40zm-2-75zm20-232zm2 128zm0 13zm-11 104zm6 7zm5 3zm-6 211zm-3 27zm-1 3zm5 65zm17 110zm-11-106zm6-196zm3-62zm-2-3zm-7-96zm8-113zm7 60zm1 37zm7 280zm-3 33zm-3 20zm4 22zm0 114zm4-34zm6-30zm0-277zm1-15zm-3-4zm-2-41zm1-132zm-3-90zm9-18zm-3-70zm16 9zm-10 72zm7 435zm-1 21zm-3 25zm-2 106zm5 26zm4 48zm6-65zm0-63zm-2-390zm0-120zm15-151zm-6 139zm6 181zm5 144zm-4 80zm-6 21zm-1 12zm10 129zm-6 13zm13-46zm-5-41zm1-81zm4-195zm4-111zm-5-109zm4-12zm-4-47zm7-52zm-11-36zm18-17zm-2 302zm5 131zm-6 11zm0 23zm0 75zm8 4zm-5 25zm1 58zm-2 164zm18-54zm-6-87zm0-39zm-2-94zm4-16zm2-39zm5-408zm-1 95zm8 241zm-5 156zm-3 109zm8 118zm-8 49zm16-19zm0-76zm-1-221zm0-284zm0-64zm3-252zm8 163zm8 213zm-6 181zm-5 167zm2 6zm6 4zm-5 57zm14 93zm5-265zm1-144zm-4-65zm1-116zm-1-39zm-3-57zm2-19zm2-39zm-4-51zm12-69zm-3 149zm-1 41zm6 40zm3 191zm2 338zm10 51zm-4-234zm3-40zm11-299zm3 41zm-1 16zm1 73zm-1 196zm4 282zm6-98zm-7-46zm2-110zm8-37zm-6-49zm-3-14zm6-50zm-7-37zm8-18zm-4-90zm-3-19zm4-126zm7-168zm11 17zm-6 135zm3 78zm-6 140zm-1 4zm-1 7zm0 80zm1 1zm3 113zm6 6zm-6 207zm8 43zm6-117zm4-31zm-10-350zm2-66zm9-3zm0-94zm-1-58zm12-21zm-7 47zm-2 49zm1 32zm-2 289zm7 71zm0 11zm-4 38zm18 83zm2-118zm-11-255zm3-19zm3-151zm12-151zm-2 123zm5 116zm-9 153zm0 158zm5 18zm2 201zm12 11zm0-25zm0-123zm1-44zm3-58zm0-67zm-9-12zm4-43zm4-158zm-4-43zm-6-63zm19-41zm1 34zm3 151zm-11 38zm10 194zm1 63zm-3 61zm-4 13zm-2 76zm3 45zm18-50zm-9-96zm0-174zm1-74zm6-162zm3-3zm1 21zm2 156zm3 153zm0 119zm14-331zm0-76zm-3-36zm3-81zm8 222zm4 23zm1 87zm4-177zm8-28zm4 222zm20-34zm7-145zm5 163zm-6 20zm17-13zm11 13zm7-123zm14 67zm6 22zm6-24zm0-108zm19 99zm-9 47zm602-69z"/>
<path stroke="#1f968b" d="M1865 2136zm36 120zm-3 53zm17-151zm-7-158zm11-98zm9 79zm-7 220zm-1 35zm8 134zm20-464zm30-28zm-9 186zm9 7zm-6 217zm17 135zm-5-294zm0-52zm18-263zm-6 76zm7 137zm-5 63zm-1 332zm18-197zm-4-86zm-5-33zm5-80zm-7-82zm11-89zm12-120zm-10 24zm8 39zm-6 48zm2 55zm-3 80zm0 401zm-2 84zm15-100zm0-332zm0-46zm7-31zm1-2zm3-121zm-1 61zm6 462zm12 128zm-6-58zm4-482zm-4-169zm12 254zm7 22zm-4 140zm7 57zm12 163zm-4-207zm2-234zm-6-35zm15 17zm3 43zm-5 110zm2 40zm4 53zm-10 29zm0 94zm2 145zm9 30zm10 17zm-9-8zm10-230zm-9-96zm8-207zm6 56zm1 25zm7 42zm-3 65zm1 7zm9 104zm-5-51zm0-16zm7-139zm1-94zm-1-162zm-6-4zm6-24zm-8-35zm7-53zm10-170zm6 586zm-2 205zm-7 88zm1 22zm3 7zm17-77zm-6-65zm5-241zm1-127zm-9-15zm5-146zm3-103zm-1-10zm8 153zm-2 26zm3 126zm1 32zm2 46zm-4 64zm0 5zm6 198zm-7 36zm-3 87zm17-164zm-5-42zm8-106zm-9-306zm3-74zm15-179zm1 627zm-1 115zm-2 14zm7 69zm6 64zm4-181zm-9-21zm2-287zm3-316zm3-41zm1-62zm3 98zm5 167zm-2 43zm2 103zm6 7zm-4 37zm-3 121zm-4 248zm2 65zm18-55zm-6-22zm8-135zm-7-122zm2-280zm-1-195zm12 305zm0 34zm2 75zm4 62zm-4 237zm-4 8zm15 46zm-5-143zm0-356zm15-129zm2 81zm3 10zm-5 104zm-2 7zm6 103zm-3 34zm1 61zm-4 109zm7 14zm7 46zm8-28zm-4-117zm0-333zm5-62zm0 158zm11 277zm12 4zm-1-163zm26-144zm6 144zm2 25zm8-8zm4-1zm-6-35zm-2-60zm18 51zm14 64zm-6-35zm29 56zm-6-126zm16 2zm0 11zm0 74zm37-6zm7-89zm478 58zm4-173zm1 182zm20-29zm23-43zm-2-129zm12 40zm-3 53zm2 37zm-2 124zm36-85zm7-158zm0 299zm46-345zm23 151zm8-135zm1 30zm-6 6zm0 116z"/>
<path stroke="#efe51c" d="M1871 2028zm4 256zm11-152zm7-122zm8 215zm25-147zm0 58zm4 118zm-2 143zm7-461zm16 293zm16 153zm-4-527zm11 346zm0 12zm3 42zm7 167zm4-327zm-4-129zm7-79zm7-84zm-5 419zm12 90zm4-113zm27-339zm11 6zm-4 292zm-3 159zm20 53zm3-144zm-1-142zm-8-30zm5 0zm12-27zm2 25zm14 273zm-6-627zm2-53zm8 71zm7 50zm-1 78zm-7 27zm6 229zm2 247zm10-55zm3-153zm-9-109zm7-217zm12-38zm0 54zm0 25zm-3 260zm-3 81zm-2 128zm1 87zm11-76zm3-198zm0-70zm5-176zm1-165zm6 100zm-1 26zm18 193zm0-99zm2-99zm2 283zm10 139zm10-99zm-4-407zm2-41zm11 585zm21-404zm1 13zm2 395zm8 52zm-1-80zm19-443zm0 351zm7-46zm5-70zm-6-278zm31 313zm13 122zm25-75zm15-169zm31-75zm-3 88zm5 12zm-7 57zm25-117zm19 66zm14-20zm15 51z"/>
<path stroke="#50c46a" d="M1861 2132zm2-50zm30 262zm-1-96zm0-1zm-1-56zm-4-47zm7-123zm2-8zm11 160zm-3 4zm-8 29zm7 70zm11-16zm2-87zm2-83zm0 0zm2-159zm9 14zm-1 22zm-5 83zm0 46zm-1 85zm-1 37zm10 19zm-9 152zm6 28zm7-182zm-2-10zm-1-28zm1-8zm10-29zm-7-32zm-4-75zm9-20zm-5-13zm15-149zm-7 46zm11 144zm-8 30zm0 20zm8 10zm0 226zm-6 80zm13-73zm-1-12zm-2-50zm-1-72zm5-13zm-1-54zm-4-73zm7-126zm-2-1zm16-104zm-6 112zm6 84zm-8 127zm-1 0zm4 136zm-5 36zm1 18zm9 10zm2 119zm5-35zm3-19zm-4-111zm-4-54zm6-61zm-3-81zm4-10zm-1-213zm10-49zm4 22zm2 45zm-2 4zm1 70zm-7 26zm5 19zm-7 180zm5 20zm-2 13zm-4 83zm8 15zm-7 79zm21-109zm-10-13zm10-75zm-6-39zm6-62zm-7-61zm-2-28zm10-7zm-3-89zm-1-42zm1-75zm-1-75zm5 1zm4 32zm5 45zm-7 24zm1 118zm8 19zm-1 35zm-8 29zm5 40zm-3 91zm4 57zm-3 75zm1 94zm5 0zm-10 4zm12 28zm4-44zm-5-35zm0-103zm5-18zm4-56zm-2-140zm0-22zm-1-71zm-3-36zm4-1zm-4-89zm8-92zm-9-33zm9-16zm7 20zm5 27zm-3 59zm-2 10zm1 11zm-7 21zm10 76zm-7 62zm-3 1zm2 32zm-2 168zm7 6zm1 11zm-4 36zm6 16zm-5 111zm0 73zm2 34zm-1 16zm14-32zm-5-19zm3-1zm-2-31zm1-12zm3-22zm-8-61zm6-65zm-3-132zm8-78zm-3-53zm1 0zm-6-101zm4-15zm-1-4zm14-124zm-7 68zm6 106zm-1 9zm4 37zm1 68zm0 34zm-6 42zm-4 3zm1 84zm9 1zm-6 107zm1 38zm0 148zm12-47zm2-5zm3-71zm-7-48zm1-110zm1-137zm-3-61zm-2-65zm4-15zm0-24zm-1-13zm7-66zm-5-39zm12-74zm2 114zm1 2zm-7 47zm9 30zm-11 22zm2 175zm-1 15zm5 34zm3 117zm-7 48zm-1 19zm-1 33zm2 68zm-1 21zm9 1zm5-33zm3-325zm1-5zm-7-228zm6-102zm-5-52zm21-42zm-10 65zm1 8zm10 75zm-11 21zm0 158zm6 68zm-5 6zm4 35zm-3 45zm9 41zm-2 10zm-8 111zm3 99zm2 16zm5 11zm-3 16zm2 35zm12-14zm-3-51zm1-15zm-1-206zm-7-10zm9-51zm-2-63zm4-21zm-2-3zm0-19zm-5-7zm7-72zm-9-17zm3-111zm4-92zm-6-74zm11-9zm2 45zm4 206zm-6 7zm-2 17zm5 1zm2 58zm-6 46zm6 18zm-1 4zm-4 45zm9 100zm-1 28zm-9 58zm9 3zm1 22zm-7 8zm-2 1zm7 58zm-9 42zm3 28zm14-64zm-2-51zm0-22zm4-36zm-1-48zm-6-4zm1-121zm2-41zm-2-229zm7-4zm-8-8zm5-169zm9 12zm7 115zm-9 18zm8 21zm-2 44zm-1 297zm-3 62zm-2 13zm9 0zm0 21zm-2 58zm1 49zm2 67zm-3 18zm0 10zm9-48zm2-35zm-5-33zm2-252zm6-18zm-1-57zm-3-124zm2-117zm-7-154zm13 131zm8 40zm-6 26zm-3 26zm2 14zm3 10zm0 27zm-3 64zm0 129zm2 36zm-3 33zm2 64zm7 3zm-4 126zm0 36zm-1 2zm-4 73zm21-29zm-8-215zm-2-9zm1-27zm8-4zm-3-22zm5-87zm-9-102zm9-206zm-8-49zm10-74zm3 277zm-2 15zm-1 23zm-1 18zm8 59zm3 12zm-10 35zm10 64zm-4 10zm0 81zm2 71zm-4 40zm-4 51zm1 2zm6 34zm1 6zm3-59zm8-25zm-4-138zm7-37zm-3-42zm3-45zm-11-79zm6-43zm4-34zm0 0zm-1-17zm-7-43zm6-73zm2-15zm-7-80zm13-89zm-2 66zm0 108zm9 98zm-6 94zm-5 80zm10 25zm-10 28zm2 95zm0 69zm4 27zm7 47zm8-43zm-2-14zm-2-18zm6-4zm-1-55zm-7-87zm7-27zm-8-11zm8-28zm0-22zm-9-56zm-1-3zm3-11zm6-52zm-5-10zm-2-5zm1-5zm7-155zm-8-17zm-1-67zm18 67zm-7 81zm7 73zm3 3zm0 30zm-1 31zm-6 23zm-3 164zm7 25zm-4 69zm0 98zm-3 39zm3 19zm15 3zm-6-118zm8-18zm-8-38zm8-97zm-2-69zm3-20zm-7-11zm6-104zm-8-44zm6-4zm4-70zm-1-37zm5 153zm1 75zm-3 25zm0 39zm5 78zm4 83zm-8 82zm1 59zm10-5zm10-44zm-6-12zm1-3zm2-102zm-1-67zm3-8zm-9-35zm8-49zm1-64zm-5-4zm1-43zm0-73zm5-5zm5 5zm6 81zm-8 105zm2 36zm-3 48zm9 37zm1 19zm-9 21zm21 24zm-5-31zm-2-14zm8-6zm-2-12zm-7-38zm6-103zm8-107zm10 348zm5-25zm-7-68zm4-14zm1-71zm6-6zm-8-46zm4-5zm-7-30zm9-16zm0-16zm-5-2zm8 66zm8 21zm1 65zm-2 34zm-7 51zm16-135zm3-14zm14-70zm-9 26zm6 1zm1 3zm-1 52zm-4 42zm18-33zm-4-47zm-4-45zm22 55zm-3 7zm-1 33zm14-55zm9 31zm2 15zm-3 25zm12-36zm7-4zm0-45z"/>
</g></g>
<rect x="360.5" y="290.8" width="277.8" height="222.2" fill="none" stroke="#555" stroke-width="0.8"/>
<rect x="640.9" y="290.8" width="7.6" height="222.3" fill="url(#vir)" stroke="#444" stroke-opacity=".8" stroke-width="0.5"/>
<line x1="648.5" y1="513.1" x2="651.4" y2="513.1" stroke="#444" stroke-width="0.7"/>
<text class="mp s" x="654.9" y="516.1">0</text>
<line x1="648.5" y1="484.8" x2="651.4" y2="484.8" stroke="#444" stroke-width="0.7"/>
<text class="mp s" x="654.9" y="487.8">2000</text>
<line x1="648.5" y1="456.6" x2="651.4" y2="456.6" stroke="#444" stroke-width="0.7"/>
<text class="mp s" x="654.9" y="459.6">4000</text>
<line x1="648.5" y1="428.3" x2="651.4" y2="428.3" stroke="#444" stroke-width="0.7"/>
<text class="mp s" x="654.9" y="431.3">6000</text>
<line x1="648.5" y1="400.1" x2="651.4" y2="400.1" stroke="#444" stroke-width="0.7"/>
<text class="mp s" x="654.9" y="403.1">8000</text>
<line x1="648.5" y1="371.8" x2="651.4" y2="371.8" stroke="#444" stroke-width="0.7"/>
<text class="mp s" x="654.9" y="374.8">10000</text>
<line x1="648.5" y1="343.5" x2="651.4" y2="343.5" stroke="#444" stroke-width="0.7"/>
<text class="mp s" x="654.9" y="346.5">12000</text>
<line x1="648.5" y1="315.3" x2="651.4" y2="315.3" stroke="#444" stroke-width="0.7"/>
<text class="mp s" x="654.9" y="318.3">14000</text>
<text class="mp t" text-anchor="middle" x="499.1" y="285.6">cell_barcode</text>
<text class="mp s" text-anchor="middle" x="498.5" y="523.1">UMAP1</text>
<text class="mp s" text-anchor="middle" transform="translate(355.4 403.9) rotate(-90)">UMAP2</text>
<text class="lab" x="359.3" y="282.4">(d) Patient P4</text>
</g>
</svg></body></html>
